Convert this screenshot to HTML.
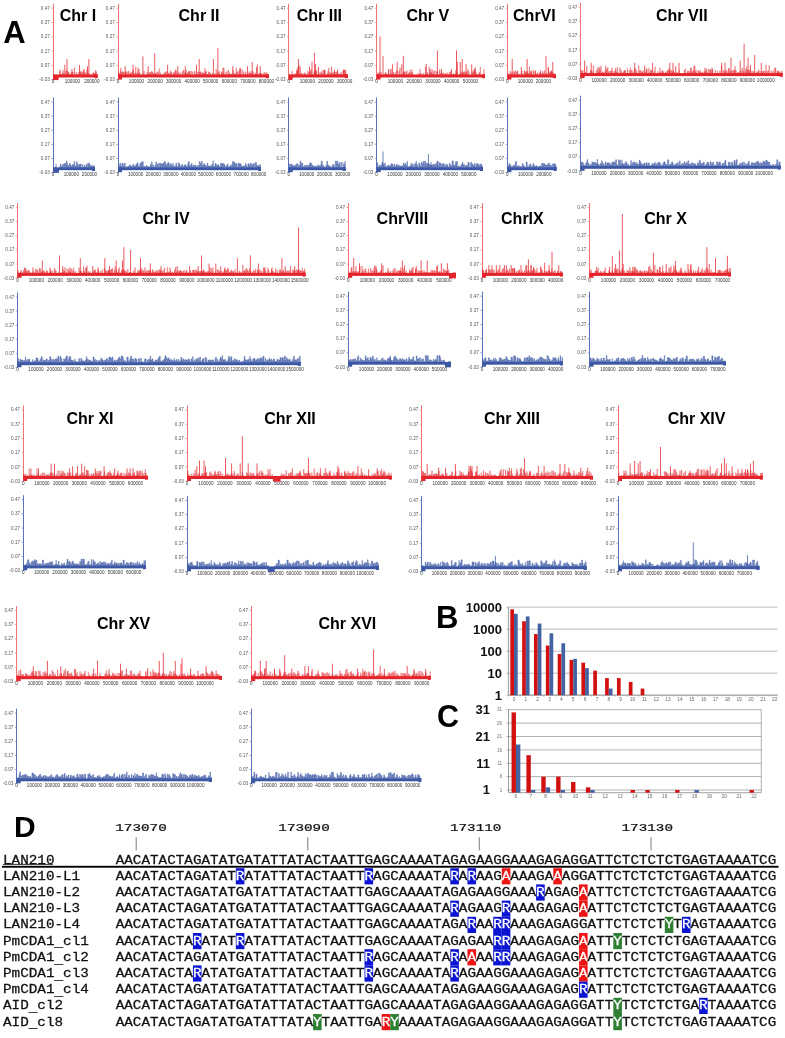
<!DOCTYPE html>
<html><head><meta charset="utf-8"><title>Figure</title><style>
html,body{margin:0;padding:0;background:#fff;overflow:hidden;width:785px;height:1038px;}
svg{display:block;}
text{font-family:"Liberation Sans",sans-serif;}
.yl{font-size:4.6px;fill:#555;text-anchor:end;}
.xl{font-size:4.6px;fill:#333;text-anchor:middle;}
.tt{font-size:16px;font-weight:bold;text-anchor:middle;fill:#000;}
.pl{font-weight:bold;fill:#000;}
.bl{font-size:13px;font-weight:bold;text-anchor:end;fill:#111;}
.cyl{font-size:4.6px;fill:#707070;text-anchor:end;}
.bx{font-size:4.8px;fill:#666;text-anchor:middle;}
.pos{font-family:"Liberation Mono",monospace;font-size:14.3px;fill:#111;stroke:#111;stroke-width:0.3px;}
.seq{font-family:"Liberation Mono",monospace;font-size:14.3px;fill:#111;stroke:#111;stroke-width:0.3px;white-space:pre;}
</style></head>
<body><svg width="785" height="1038" viewBox="0 0 785 1038">
<rect width="785" height="1038" fill="#fff"/>
<text x="3.2" y="42.9" class="pl" font-size="31">A</text>
<text x="78.0" y="20.8" class="tt">Chr I</text>
<g><text x="49.8" y="9.7" class="yl">0.47</text><line x1="51.2" y1="8.2" x2="53.0" y2="8.2" stroke="#f07272" stroke-width="0.6"/><text x="49.8" y="24.0" class="yl">0.37</text><line x1="51.2" y1="22.5" x2="53.0" y2="22.5" stroke="#f07272" stroke-width="0.6"/><text x="49.8" y="38.3" class="yl">0.27</text><line x1="51.2" y1="36.8" x2="53.0" y2="36.8" stroke="#f07272" stroke-width="0.6"/><text x="49.8" y="52.6" class="yl">0.17</text><line x1="51.2" y1="51.1" x2="53.0" y2="51.1" stroke="#f07272" stroke-width="0.6"/><text x="49.8" y="67.0" class="yl">0.07</text><line x1="51.2" y1="65.5" x2="53.0" y2="65.5" stroke="#f07272" stroke-width="0.6"/><text x="49.8" y="81.3" class="yl">-0.03</text><line x1="51.2" y1="79.8" x2="53.0" y2="79.8" stroke="#f07272" stroke-width="0.6"/><line x1="53.5" y1="3.7" x2="53.5" y2="79.8" stroke="#f07272" stroke-width="1"/><text x="53.0" y="83.4" class="xl">0</text><text x="72.4" y="83.4" class="xl">100000</text><text x="91.8" y="83.4" class="xl">200000</text><polygon points="53.60,76.22 53.60,76.22 54.21,76.22 54.21,76.22 54.91,76.22 54.91,76.22 55.93,76.22 55.93,76.22 56.46,76.22 56.46,76.22 57.57,76.22 57.57,76.22 58.42,76.22 58.42,76.22 59.68,76.22 59.68,71.20 60.20,71.20 60.20,74.35 61.00,74.35 61.00,74.32 61.53,74.32 61.53,74.67 62.42,74.67 62.42,72.69 63.10,72.69 63.10,69.94 63.62,69.94 63.62,73.36 64.63,73.36 64.63,74.50 65.82,74.50 65.82,71.20 66.89,71.20 66.89,69.71 67.73,69.71 67.73,71.33 68.47,71.33 68.47,72.00 69.65,72.00 69.65,73.70 70.18,73.70 70.18,74.13 71.01,74.13 71.01,72.49 72.07,72.49 72.07,71.57 72.92,71.57 72.92,72.23 73.84,72.23 73.84,76.22 74.36,76.22 74.36,67.52 75.43,67.52 75.43,74.21 76.24,74.21 76.24,72.11 77.53,72.11 77.53,74.19 78.72,74.19 78.72,72.30 79.98,72.30 79.98,71.16 80.69,71.16 80.69,71.47 81.20,71.47 81.20,71.50 82.41,71.50 82.41,72.37 83.32,72.37 83.32,69.92 83.87,69.92 83.87,72.24 84.53,72.24 84.53,74.15 85.31,74.15 85.31,72.30 86.31,72.30 86.31,74.77 86.83,74.77 86.83,69.46 87.80,69.46 87.80,72.77 88.94,72.77 88.94,73.16 90.11,73.16 90.11,76.22 90.63,76.22 90.63,74.88 91.73,74.88 91.73,74.95 92.73,74.95 92.73,72.97 93.36,72.97 93.36,72.31 94.08,72.31 94.08,73.30 94.83,73.30 94.83,72.92 95.64,72.92 95.64,70.04 96.23,70.04 96.23,71.48 96.90,71.48 96.90,76.22 97.10,76.22 97.10,76.22" fill="#e3242b" fill-opacity="0.16"/><path d="M59.68 76.2V71.20M60.20 76.2V74.35M61.00 76.2V74.32M61.53 76.2V74.67M62.42 76.2V72.69M63.10 76.2V69.94M63.62 76.2V73.36M64.63 76.2V74.50M65.82 76.2V71.20M66.89 76.2V69.71M67.73 76.2V71.33M68.47 76.2V72.00M69.65 76.2V73.70M70.18 76.2V74.13M71.01 76.2V72.49M72.07 76.2V71.57M72.92 76.2V72.23M74.36 76.2V67.52M75.43 76.2V74.21M76.24 76.2V72.11M77.53 76.2V74.19M78.72 76.2V72.30M79.98 76.2V71.16M80.69 76.2V71.47M81.20 76.2V71.50M82.41 76.2V72.37M83.32 76.2V69.92M83.87 76.2V72.24M84.53 76.2V74.15M85.31 76.2V72.30M86.31 76.2V74.77M86.83 76.2V69.46M87.80 76.2V72.77M88.94 76.2V73.16M90.63 76.2V74.88M91.73 76.2V74.95M92.73 76.2V72.97M93.36 76.2V72.31M94.08 76.2V73.30M94.83 76.2V72.92M95.64 76.2V70.04M96.23 76.2V71.48" stroke="#e3242b" stroke-width="0.7" stroke-opacity="0.85" fill="none"/><path d="M67.00 76.2V59.0M88.90 76.2V59.0M79.50 76.2V64.9M64.80 76.2V64.8M87.50 76.2V66.2M72.00 76.2V69.1M60.00 76.2V69.8M84.00 76.2V69.1" stroke="#e3242b" stroke-width="0.95" stroke-opacity="0.8" fill="none"/><rect x="53.0" y="74.5" width="44.6" height="3.0" fill="#e3242b"/><rect x="53.0" y="74.7" width="4" height="4.8" fill="#e3242b"/><rect x="94.6" y="74.2" width="3" height="4" fill="#e3242b"/><rect x="53.0" y="75.2" width="5.5" height="4.9" fill="#e3242b"/></g>
<g><text x="49.8" y="103.5" class="yl">0.47</text><line x1="51.2" y1="102.0" x2="53.0" y2="102.0" stroke="#5a72c0" stroke-width="0.6"/><text x="49.8" y="117.6" class="yl">0.37</text><line x1="51.2" y1="116.1" x2="53.0" y2="116.1" stroke="#5a72c0" stroke-width="0.6"/><text x="49.8" y="131.7" class="yl">0.27</text><line x1="51.2" y1="130.2" x2="53.0" y2="130.2" stroke="#5a72c0" stroke-width="0.6"/><text x="49.8" y="145.8" class="yl">0.17</text><line x1="51.2" y1="144.3" x2="53.0" y2="144.3" stroke="#5a72c0" stroke-width="0.6"/><text x="49.8" y="159.9" class="yl">0.07</text><line x1="51.2" y1="158.4" x2="53.0" y2="158.4" stroke="#5a72c0" stroke-width="0.6"/><text x="49.8" y="174.0" class="yl">-0.03</text><line x1="51.2" y1="172.5" x2="53.0" y2="172.5" stroke="#5a72c0" stroke-width="0.6"/><line x1="53.5" y1="97.5" x2="53.5" y2="172.5" stroke="#5a72c0" stroke-width="1"/><text x="53.0" y="176.1" class="xl">0</text><text x="71.3" y="176.1" class="xl">100000</text><text x="89.5" y="176.1" class="xl">200000</text><polygon points="53.60,168.97 53.60,168.97 54.86,168.97 54.86,168.97 55.29,168.97 55.29,168.97 56.28,168.97 56.28,168.97 57.20,168.97 57.20,168.97 57.96,168.97 57.96,168.97 59.26,168.97 59.26,166.92 60.03,166.92 60.03,166.28 60.40,166.28 60.40,163.86 61.12,163.86 61.12,166.95 62.00,166.95 62.00,165.85 62.66,165.85 62.66,164.44 63.96,164.44 63.96,163.50 65.15,163.50 65.15,163.41 66.37,163.41 66.37,160.88 67.05,160.88 67.05,163.53 67.55,163.53 67.55,165.90 68.34,165.90 68.34,165.13 69.57,165.13 69.57,163.22 70.26,163.22 70.26,164.92 71.05,164.92 71.05,166.50 72.08,166.50 72.08,164.46 72.74,164.46 72.74,164.94 73.95,164.94 73.95,161.46 74.60,161.46 74.60,165.53 75.43,165.53 75.43,166.53 76.34,166.53 76.34,161.65 77.17,161.65 77.17,163.52 77.59,163.52 77.59,165.32 78.81,165.32 78.81,164.28 79.21,164.28 79.21,164.57 79.78,164.57 79.78,164.33 80.62,164.33 80.62,164.03 81.17,164.03 81.17,167.72 82.20,167.72 82.20,164.60 82.72,164.60 82.72,167.31 83.98,167.31 83.98,165.17 84.35,165.17 84.35,165.44 84.84,165.44 84.84,167.01 85.56,167.01 85.56,167.74 86.05,167.74 86.05,164.55 86.99,164.55 86.99,167.62 87.66,167.62 87.66,163.22 88.74,163.22 88.74,163.55 89.80,163.55 89.80,165.51 90.60,165.51 90.60,165.99 91.25,165.99 91.25,165.68 92.44,165.68 92.44,166.68 93.16,166.68 93.16,165.63 94.42,165.63 94.42,167.50 94.50,167.50 94.50,168.97" fill="#3c58a4" fill-opacity="0.75"/><polyline points="53.60,168.97 53.60,168.97 54.86,168.97 54.86,168.97 55.29,168.97 55.29,168.97 56.28,168.97 56.28,168.97 57.20,168.97 57.20,168.97 57.96,168.97 57.96,168.97 59.26,168.97 59.26,166.92 60.03,166.92 60.03,166.28 60.40,166.28 60.40,163.86 61.12,163.86 61.12,166.95 62.00,166.95 62.00,165.85 62.66,165.85 62.66,164.44 63.96,164.44 63.96,163.50 65.15,163.50 65.15,163.41 66.37,163.41 66.37,160.88 67.05,160.88 67.05,163.53 67.55,163.53 67.55,165.90 68.34,165.90 68.34,165.13 69.57,165.13 69.57,163.22 70.26,163.22 70.26,164.92 71.05,164.92 71.05,166.50 72.08,166.50 72.08,164.46 72.74,164.46 72.74,164.94 73.95,164.94 73.95,161.46 74.60,161.46 74.60,165.53 75.43,165.53 75.43,166.53 76.34,166.53 76.34,161.65 77.17,161.65 77.17,163.52 77.59,163.52 77.59,165.32 78.81,165.32 78.81,164.28 79.21,164.28 79.21,164.57 79.78,164.57 79.78,164.33 80.62,164.33 80.62,164.03 81.17,164.03 81.17,167.72 82.20,167.72 82.20,164.60 82.72,164.60 82.72,167.31 83.98,167.31 83.98,165.17 84.35,165.17 84.35,165.44 84.84,165.44 84.84,167.01 85.56,167.01 85.56,167.74 86.05,167.74 86.05,164.55 86.99,164.55 86.99,167.62 87.66,167.62 87.66,163.22 88.74,163.22 88.74,163.55 89.80,163.55 89.80,165.51 90.60,165.51 90.60,165.99 91.25,165.99 91.25,165.68 92.44,165.68 92.44,166.68 93.16,166.68 93.16,165.63 94.42,165.63 94.42,167.50 94.50,167.50 94.50,168.97" fill="none" stroke="#3c58a4" stroke-width="0.45" stroke-opacity="0.8"/><path d="M56.00 169.0V164.0" stroke="#3c58a4" stroke-width="0.95" stroke-opacity="0.8" fill="none"/><rect x="53.0" y="167.4" width="42.0" height="2.8" fill="#3c58a4"/><rect x="53.0" y="167.5" width="4" height="4.7" fill="#3c58a4"/><rect x="92.0" y="167.0" width="3" height="4" fill="#3c58a4"/><rect x="53.0" y="168.0" width="6.0" height="4.8" fill="#3c58a4"/></g>
<text x="199.0" y="20.8" class="tt">Chr II</text>
<g><text x="114.8" y="9.7" class="yl">0.47</text><line x1="116.2" y1="8.2" x2="118.0" y2="8.2" stroke="#f07272" stroke-width="0.6"/><text x="114.8" y="24.0" class="yl">0.37</text><line x1="116.2" y1="22.5" x2="118.0" y2="22.5" stroke="#f07272" stroke-width="0.6"/><text x="114.8" y="38.3" class="yl">0.27</text><line x1="116.2" y1="36.8" x2="118.0" y2="36.8" stroke="#f07272" stroke-width="0.6"/><text x="114.8" y="52.6" class="yl">0.17</text><line x1="116.2" y1="51.1" x2="118.0" y2="51.1" stroke="#f07272" stroke-width="0.6"/><text x="114.8" y="67.0" class="yl">0.07</text><line x1="116.2" y1="65.5" x2="118.0" y2="65.5" stroke="#f07272" stroke-width="0.6"/><text x="114.8" y="81.3" class="yl">-0.03</text><line x1="116.2" y1="79.8" x2="118.0" y2="79.8" stroke="#f07272" stroke-width="0.6"/><line x1="118.5" y1="3.7" x2="118.5" y2="79.8" stroke="#f07272" stroke-width="1"/><text x="118.0" y="83.4" class="xl">0</text><text x="136.5" y="83.4" class="xl">100000</text><text x="155.1" y="83.4" class="xl">200000</text><text x="173.6" y="83.4" class="xl">300000</text><text x="192.2" y="83.4" class="xl">400000</text><text x="210.7" y="83.4" class="xl">500000</text><text x="229.3" y="83.4" class="xl">600000</text><text x="247.8" y="83.4" class="xl">700000</text><text x="266.4" y="83.4" class="xl">800000</text><polygon points="118.60,76.22 118.60,72.50 119.29,72.50 119.29,73.20 120.27,73.20 120.27,70.54 120.78,70.54 120.78,67.84 121.47,67.84 121.47,71.89 122.64,71.89 122.64,71.36 123.26,71.36 123.26,71.81 124.18,71.81 124.18,72.00 124.73,72.00 124.73,76.22 125.47,76.22 125.47,71.70 126.66,71.70 126.66,71.24 127.87,71.24 127.87,72.33 128.68,72.33 128.68,70.86 129.93,70.86 129.93,73.41 130.54,73.41 130.54,72.66 131.39,72.66 131.39,72.55 132.30,72.55 132.30,71.28 133.26,71.28 133.26,69.34 134.31,69.34 134.31,72.98 135.60,72.98 135.60,66.72 136.79,66.72 136.79,72.87 137.75,72.87 137.75,72.70 138.91,72.70 138.91,69.07 139.46,69.07 139.46,72.41 140.03,72.41 140.03,73.75 140.65,73.75 140.65,76.22 141.85,76.22 141.85,76.22 142.84,76.22 142.84,73.56 143.92,73.56 143.92,71.06 145.20,71.06 145.20,76.22 145.95,76.22 145.95,76.22 146.93,76.22 146.93,71.95 147.59,71.95 147.59,76.22 148.21,76.22 148.21,73.42 149.41,73.42 149.41,72.30 150.62,72.30 150.62,71.99 151.54,71.99 151.54,71.19 152.49,71.19 152.49,71.70 153.39,71.70 153.39,73.39 154.08,73.39 154.08,73.33 155.00,73.33 155.00,73.31 155.83,73.31 155.83,73.21 156.83,73.21 156.83,71.79 157.83,71.79 157.83,71.66 158.61,71.66 158.61,76.22 159.13,76.22 159.13,68.40 160.17,68.40 160.17,72.62 161.03,72.62 161.03,74.44 161.82,74.44 161.82,74.42 162.80,74.42 162.80,76.22 163.92,76.22 163.92,72.64 164.87,72.64 164.87,72.80 165.55,72.80 165.55,71.75 166.20,71.75 166.20,74.50 166.78,74.50 166.78,71.39 167.95,71.39 167.95,73.95 168.59,73.95 168.59,72.84 169.79,72.84 169.79,72.91 170.39,72.91 170.39,70.69 171.54,70.69 171.54,71.88 172.26,71.88 172.26,74.85 173.40,74.85 173.40,72.73 174.14,72.73 174.14,72.39 174.91,72.39 174.91,70.75 175.74,70.75 175.74,69.29 176.25,69.29 176.25,71.17 177.53,71.17 177.53,73.79 178.78,73.79 178.78,72.16 179.95,72.16 179.95,74.68 180.68,74.68 180.68,72.69 181.23,72.69 181.23,76.22 182.38,76.22 182.38,71.23 183.60,71.23 183.60,69.90 184.82,69.90 184.82,72.96 185.33,72.96 185.33,72.15 186.07,72.15 186.07,69.83 186.90,69.83 186.90,73.59 187.67,73.59 187.67,72.54 188.56,72.54 188.56,71.48 189.21,71.48 189.21,71.24 189.85,71.24 189.85,71.04 191.00,71.04 191.00,70.96 192.00,70.96 192.00,74.16 192.72,74.16 192.72,71.57 193.55,71.57 193.55,76.22 194.06,76.22 194.06,74.95 194.66,74.95 194.66,70.89 195.94,70.89 195.94,74.53 196.84,74.53 196.84,72.01 197.62,72.01 197.62,74.51 198.41,74.51 198.41,71.71 199.01,71.71 199.01,76.22 199.81,76.22 199.81,71.97 200.45,71.97 200.45,71.51 201.58,71.51 201.58,72.50 202.58,72.50 202.58,72.39 203.48,72.39 203.48,72.79 204.53,72.79 204.53,73.19 205.46,73.19 205.46,71.33 206.30,71.33 206.30,71.29 207.55,71.29 207.55,74.27 208.68,74.27 208.68,71.83 209.28,71.83 209.28,71.82 210.49,71.82 210.49,73.12 211.58,73.12 211.58,76.22 212.55,76.22 212.55,73.25 213.16,73.25 213.16,76.22 213.74,76.22 213.74,75.03 214.94,75.03 214.94,73.62 216.11,73.62 216.11,69.15 217.15,69.15 217.15,73.27 218.12,73.27 218.12,71.71 219.23,71.71 219.23,71.21 219.81,71.21 219.81,74.10 220.36,74.10 220.36,74.76 221.53,74.76 221.53,71.62 222.23,71.62 222.23,72.44 223.04,72.44 223.04,73.16 223.82,73.16 223.82,67.99 224.72,67.99 224.72,73.88 225.82,73.88 225.82,72.17 226.92,72.17 226.92,71.29 227.81,71.29 227.81,76.22 228.43,76.22 228.43,70.02 229.53,70.02 229.53,72.92 230.38,72.92 230.38,74.06 231.10,74.06 231.10,73.88 231.85,73.88 231.85,73.86 233.11,73.86 233.11,69.89 233.94,69.89 233.94,75.03 234.66,75.03 234.66,72.96 235.54,72.96 235.54,73.74 236.33,73.74 236.33,67.82 236.94,67.82 236.94,71.44 237.92,71.44 237.92,72.25 239.08,72.25 239.08,70.26 240.16,70.26 240.16,67.85 241.24,67.85 241.24,73.84 241.93,73.84 241.93,69.35 242.97,69.35 242.97,74.63 243.66,74.63 243.66,71.38 244.31,71.38 244.31,73.58 245.53,73.58 245.53,71.68 246.28,71.68 246.28,76.22 246.85,76.22 246.85,74.46 248.02,74.46 248.02,73.34 248.98,73.34 248.98,72.24 249.75,72.24 249.75,71.16 250.42,71.16 250.42,73.08 251.23,73.08 251.23,73.09 251.95,73.09 251.95,70.86 253.16,70.86 253.16,71.58 254.41,71.58 254.41,73.91 255.52,73.91 255.52,72.74 256.54,72.74 256.54,67.32 257.64,67.32 257.64,76.22 258.57,76.22 258.57,73.84 259.47,73.84 259.47,72.93 260.51,72.93 260.51,72.94 261.53,72.94 261.53,73.07 262.74,73.07 262.74,74.50 263.99,74.50 263.99,72.08 265.06,72.08 265.06,72.64 266.08,72.64 266.08,76.22 266.72,76.22 266.72,72.11 267.79,72.11 267.79,74.61 268.30,74.61 268.30,76.22" fill="#e3242b" fill-opacity="0.16"/><path d="M118.60 76.2V72.50M119.29 76.2V73.20M120.27 76.2V70.54M120.78 76.2V67.84M121.47 76.2V71.89M122.64 76.2V71.36M123.26 76.2V71.81M124.18 76.2V72.00M125.47 76.2V71.70M126.66 76.2V71.24M127.87 76.2V72.33M128.68 76.2V70.86M129.93 76.2V73.41M130.54 76.2V72.66M131.39 76.2V72.55M132.30 76.2V71.28M133.26 76.2V69.34M134.31 76.2V72.98M135.60 76.2V66.72M136.79 76.2V72.87M137.75 76.2V72.70M138.91 76.2V69.07M139.46 76.2V72.41M140.03 76.2V73.75M142.84 76.2V73.56M143.92 76.2V71.06M146.93 76.2V71.95M148.21 76.2V73.42M149.41 76.2V72.30M150.62 76.2V71.99M151.54 76.2V71.19M152.49 76.2V71.70M153.39 76.2V73.39M154.08 76.2V73.33M155.00 76.2V73.31M155.83 76.2V73.21M156.83 76.2V71.79M157.83 76.2V71.66M159.13 76.2V68.40M160.17 76.2V72.62M161.03 76.2V74.44M161.82 76.2V74.42M163.92 76.2V72.64M164.87 76.2V72.80M165.55 76.2V71.75M166.20 76.2V74.50M166.78 76.2V71.39M167.95 76.2V73.95M168.59 76.2V72.84M169.79 76.2V72.91M170.39 76.2V70.69M171.54 76.2V71.88M172.26 76.2V74.85M173.40 76.2V72.73M174.14 76.2V72.39M174.91 76.2V70.75M175.74 76.2V69.29M176.25 76.2V71.17M177.53 76.2V73.79M178.78 76.2V72.16M179.95 76.2V74.68M180.68 76.2V72.69M182.38 76.2V71.23M183.60 76.2V69.90M184.82 76.2V72.96M185.33 76.2V72.15M186.07 76.2V69.83M186.90 76.2V73.59M187.67 76.2V72.54M188.56 76.2V71.48M189.21 76.2V71.24M189.85 76.2V71.04M191.00 76.2V70.96M192.00 76.2V74.16M192.72 76.2V71.57M194.06 76.2V74.95M194.66 76.2V70.89M195.94 76.2V74.53M196.84 76.2V72.01M197.62 76.2V74.51M198.41 76.2V71.71M199.81 76.2V71.97M200.45 76.2V71.51M201.58 76.2V72.50M202.58 76.2V72.39M203.48 76.2V72.79M204.53 76.2V73.19M205.46 76.2V71.33M206.30 76.2V71.29M207.55 76.2V74.27M208.68 76.2V71.83M209.28 76.2V71.82M210.49 76.2V73.12M212.55 76.2V73.25M213.74 76.2V75.03M214.94 76.2V73.62M216.11 76.2V69.15M217.15 76.2V73.27M218.12 76.2V71.71M219.23 76.2V71.21M219.81 76.2V74.10M220.36 76.2V74.76M221.53 76.2V71.62M222.23 76.2V72.44M223.04 76.2V73.16M223.82 76.2V67.99M224.72 76.2V73.88M225.82 76.2V72.17M226.92 76.2V71.29M228.43 76.2V70.02M229.53 76.2V72.92M230.38 76.2V74.06M231.10 76.2V73.88M231.85 76.2V73.86M233.11 76.2V69.89M233.94 76.2V75.03M234.66 76.2V72.96M235.54 76.2V73.74M236.33 76.2V67.82M236.94 76.2V71.44M237.92 76.2V72.25M239.08 76.2V70.26M240.16 76.2V67.85M241.24 76.2V73.84M241.93 76.2V69.35M242.97 76.2V74.63M243.66 76.2V71.38M244.31 76.2V73.58M245.53 76.2V71.68M246.85 76.2V74.46M248.02 76.2V73.34M248.98 76.2V72.24M249.75 76.2V71.16M250.42 76.2V73.08M251.23 76.2V73.09M251.95 76.2V70.86M253.16 76.2V71.58M254.41 76.2V73.91M255.52 76.2V72.74M256.54 76.2V67.32M258.57 76.2V73.84M259.47 76.2V72.93M260.51 76.2V72.94M261.53 76.2V73.07M262.74 76.2V74.50M263.99 76.2V72.08M265.06 76.2V72.64M266.72 76.2V72.11M267.79 76.2V74.61" stroke="#e3242b" stroke-width="0.7" stroke-opacity="0.85" fill="none"/><path d="M217.90 76.2V48.1M154.70 76.2V53.3M142.90 76.2V56.4M199.20 76.2V59.0M213.40 76.2V59.0M252.20 76.2V61.9M167.60 76.2V64.8M257.30 76.2V64.8M133.00 76.2V64.8M196.50 76.2V64.8M125.20 76.2V66.2M177.80 76.2V66.2M185.30 76.2V66.2M148.20 76.2V66.2M232.80 76.2V66.2M247.50 76.2V66.2M260.30 76.2V66.2M138.00 76.2V67.6M205.00 76.2V68.3M223.00 76.2V67.6M240.00 76.2V68.3" stroke="#e3242b" stroke-width="0.95" stroke-opacity="0.8" fill="none"/><rect x="118.0" y="74.5" width="150.8" height="3.0" fill="#e3242b"/><rect x="118.0" y="74.7" width="4" height="4.8" fill="#e3242b"/><rect x="265.8" y="74.2" width="3" height="4" fill="#e3242b"/></g>
<g><text x="114.8" y="103.5" class="yl">0.47</text><line x1="116.2" y1="102.0" x2="118.0" y2="102.0" stroke="#5a72c0" stroke-width="0.6"/><text x="114.8" y="117.6" class="yl">0.37</text><line x1="116.2" y1="116.1" x2="118.0" y2="116.1" stroke="#5a72c0" stroke-width="0.6"/><text x="114.8" y="131.7" class="yl">0.27</text><line x1="116.2" y1="130.2" x2="118.0" y2="130.2" stroke="#5a72c0" stroke-width="0.6"/><text x="114.8" y="145.8" class="yl">0.17</text><line x1="116.2" y1="144.3" x2="118.0" y2="144.3" stroke="#5a72c0" stroke-width="0.6"/><text x="114.8" y="159.9" class="yl">0.07</text><line x1="116.2" y1="158.4" x2="118.0" y2="158.4" stroke="#5a72c0" stroke-width="0.6"/><text x="114.8" y="174.0" class="yl">-0.03</text><line x1="116.2" y1="172.5" x2="118.0" y2="172.5" stroke="#5a72c0" stroke-width="0.6"/><line x1="118.5" y1="97.5" x2="118.5" y2="172.5" stroke="#5a72c0" stroke-width="1"/><text x="118.0" y="176.1" class="xl">0</text><text x="135.6" y="176.1" class="xl">100000</text><text x="153.2" y="176.1" class="xl">200000</text><text x="170.8" y="176.1" class="xl">300000</text><text x="188.4" y="176.1" class="xl">400000</text><text x="205.9" y="176.1" class="xl">500000</text><text x="223.5" y="176.1" class="xl">600000</text><text x="241.1" y="176.1" class="xl">700000</text><text x="258.7" y="176.1" class="xl">800000</text><polygon points="118.60,168.97 118.60,166.11 119.17,166.11 119.17,167.68 119.67,167.68 119.67,163.45 120.89,163.45 120.89,166.38 121.45,166.38 121.45,166.52 121.97,166.52 121.97,163.38 123.20,163.38 123.20,166.30 124.31,166.30 124.31,163.30 125.26,163.30 125.26,167.45 126.44,167.45 126.44,166.60 127.43,166.60 127.43,167.07 128.23,167.07 128.23,166.32 129.40,166.32 129.40,165.01 130.62,165.01 130.62,166.07 131.77,166.07 131.77,166.64 132.69,166.64 132.69,164.67 133.33,164.67 133.33,164.27 133.72,164.27 133.72,166.23 134.58,166.23 134.58,166.07 135.88,166.07 135.88,164.28 136.42,164.28 136.42,164.20 137.11,164.20 137.11,162.83 137.99,162.83 137.99,165.27 138.40,165.27 138.40,166.25 139.33,166.25 139.33,166.90 139.85,166.90 139.85,163.13 140.86,163.13 140.86,163.01 141.91,163.01 141.91,161.30 142.54,161.30 142.54,161.65 143.28,161.65 143.28,166.57 144.40,166.57 144.40,166.14 145.18,166.14 145.18,166.98 146.44,166.98 146.44,165.23 146.83,165.23 146.83,166.78 147.53,166.78 147.53,166.53 148.81,166.53 148.81,167.94 149.22,167.94 149.22,166.91 150.21,166.91 150.21,164.75 151.03,164.75 151.03,165.26 151.49,165.26 151.49,161.98 152.23,161.98 152.23,166.92 152.81,166.92 152.81,164.99 153.56,164.99 153.56,166.93 154.70,166.93 154.70,166.53 155.29,166.53 155.29,164.51 155.86,164.51 155.86,161.78 156.26,161.78 156.26,164.97 157.55,164.97 157.55,163.48 158.52,163.48 158.52,167.89 159.34,167.89 159.34,163.18 160.52,163.18 160.52,163.39 161.19,163.39 161.19,163.85 162.15,163.85 162.15,164.29 163.12,164.29 163.12,162.89 164.35,162.89 164.35,161.55 165.62,161.55 165.62,164.53 166.02,164.53 166.02,164.64 167.29,164.64 167.29,163.78 167.79,163.78 167.79,162.56 168.85,162.56 168.85,163.02 169.21,163.02 169.21,165.17 170.39,165.17 170.39,163.81 171.48,163.81 171.48,165.49 172.67,165.49 172.67,163.44 173.33,163.44 173.33,166.94 174.13,166.94 174.13,165.90 174.51,165.90 174.51,166.69 175.68,166.69 175.68,163.86 176.38,163.86 176.38,163.34 176.74,163.34 176.74,166.14 177.17,166.14 177.17,166.47 178.27,166.47 178.27,162.84 179.08,162.84 179.08,163.25 179.54,163.25 179.54,165.07 180.38,165.07 180.38,167.13 181.46,167.13 181.46,165.11 182.00,165.11 182.00,164.46 182.75,164.46 182.75,166.66 183.93,166.66 183.93,165.78 184.75,165.78 184.75,164.74 185.96,164.74 185.96,165.90 186.61,165.90 186.61,166.83 187.64,166.83 187.64,164.14 188.22,164.14 188.22,161.64 189.30,161.64 189.30,166.29 190.29,166.29 190.29,164.94 191.51,164.94 191.51,163.41 192.15,163.41 192.15,166.68 193.08,166.68 193.08,165.51 194.16,165.51 194.16,167.97 194.64,167.97 194.64,164.97 195.76,164.97 195.76,166.21 196.46,166.21 196.46,167.67 197.40,167.67 197.40,165.53 198.64,165.53 198.64,166.95 199.30,166.95 199.30,161.18 199.67,161.18 199.67,163.13 200.78,163.13 200.78,165.88 201.28,165.88 201.28,161.34 202.18,161.34 202.18,165.53 203.45,165.53 203.45,163.70 204.44,163.70 204.44,164.91 205.58,164.91 205.58,164.98 206.31,164.98 206.31,166.48 207.33,166.48 207.33,163.06 207.99,163.06 207.99,166.10 209.20,166.10 209.20,166.07 210.32,166.07 210.32,165.78 210.69,165.78 210.69,166.18 211.69,166.18 211.69,164.48 212.95,164.48 212.95,160.82 213.36,160.82 213.36,166.30 214.59,166.30 214.59,166.50 215.02,166.50 215.02,163.43 216.25,163.43 216.25,166.33 216.75,166.33 216.75,165.22 218.00,165.22 218.00,164.84 218.99,164.84 218.99,166.65 219.59,166.65 219.59,167.77 220.03,167.77 220.03,167.01 220.50,167.01 220.50,163.56 221.12,163.56 221.12,163.13 222.17,163.13 222.17,163.80 223.35,163.80 223.35,163.81 224.36,163.81 224.36,165.10 225.19,165.10 225.19,167.94 226.00,167.94 226.00,166.12 227.18,166.12 227.18,164.19 228.18,164.19 228.18,166.94 228.90,166.94 228.90,167.05 230.08,167.05 230.08,165.09 230.57,165.09 230.57,165.75 231.71,165.75 231.71,164.43 232.51,164.43 232.51,161.46 233.64,161.46 233.64,162.20 234.87,162.20 234.87,163.75 236.02,163.75 236.02,164.94 236.48,164.94 236.48,163.23 237.12,163.23 237.12,167.42 238.04,167.42 238.04,163.62 238.63,163.62 238.63,163.69 239.27,163.69 239.27,163.24 239.94,163.24 239.94,163.63 241.14,163.63 241.14,165.81 242.15,165.81 242.15,166.82 243.44,166.82 243.44,165.77 244.47,165.77 244.47,166.55 245.39,166.55 245.39,163.21 245.81,163.21 245.81,164.79 246.82,164.79 246.82,167.00 247.95,167.00 247.95,163.69 249.11,163.69 249.11,164.69 249.47,164.69 249.47,166.19 250.28,166.19 250.28,163.36 251.47,163.36 251.47,165.64 252.11,165.64 252.11,164.80 252.49,164.80 252.49,164.24 253.55,164.24 253.55,163.55 254.56,163.55 254.56,166.96 255.33,166.96 255.33,162.43 256.52,162.43 256.52,165.59 257.59,165.59 257.59,165.60 258.74,165.60 258.74,166.93 259.33,166.93 259.33,164.94 259.93,164.94 259.93,164.60 260.41,164.60 260.41,166.79 260.50,166.79 260.50,168.97" fill="#3c58a4" fill-opacity="0.75"/><polyline points="118.60,168.97 118.60,166.11 119.17,166.11 119.17,167.68 119.67,167.68 119.67,163.45 120.89,163.45 120.89,166.38 121.45,166.38 121.45,166.52 121.97,166.52 121.97,163.38 123.20,163.38 123.20,166.30 124.31,166.30 124.31,163.30 125.26,163.30 125.26,167.45 126.44,167.45 126.44,166.60 127.43,166.60 127.43,167.07 128.23,167.07 128.23,166.32 129.40,166.32 129.40,165.01 130.62,165.01 130.62,166.07 131.77,166.07 131.77,166.64 132.69,166.64 132.69,164.67 133.33,164.67 133.33,164.27 133.72,164.27 133.72,166.23 134.58,166.23 134.58,166.07 135.88,166.07 135.88,164.28 136.42,164.28 136.42,164.20 137.11,164.20 137.11,162.83 137.99,162.83 137.99,165.27 138.40,165.27 138.40,166.25 139.33,166.25 139.33,166.90 139.85,166.90 139.85,163.13 140.86,163.13 140.86,163.01 141.91,163.01 141.91,161.30 142.54,161.30 142.54,161.65 143.28,161.65 143.28,166.57 144.40,166.57 144.40,166.14 145.18,166.14 145.18,166.98 146.44,166.98 146.44,165.23 146.83,165.23 146.83,166.78 147.53,166.78 147.53,166.53 148.81,166.53 148.81,167.94 149.22,167.94 149.22,166.91 150.21,166.91 150.21,164.75 151.03,164.75 151.03,165.26 151.49,165.26 151.49,161.98 152.23,161.98 152.23,166.92 152.81,166.92 152.81,164.99 153.56,164.99 153.56,166.93 154.70,166.93 154.70,166.53 155.29,166.53 155.29,164.51 155.86,164.51 155.86,161.78 156.26,161.78 156.26,164.97 157.55,164.97 157.55,163.48 158.52,163.48 158.52,167.89 159.34,167.89 159.34,163.18 160.52,163.18 160.52,163.39 161.19,163.39 161.19,163.85 162.15,163.85 162.15,164.29 163.12,164.29 163.12,162.89 164.35,162.89 164.35,161.55 165.62,161.55 165.62,164.53 166.02,164.53 166.02,164.64 167.29,164.64 167.29,163.78 167.79,163.78 167.79,162.56 168.85,162.56 168.85,163.02 169.21,163.02 169.21,165.17 170.39,165.17 170.39,163.81 171.48,163.81 171.48,165.49 172.67,165.49 172.67,163.44 173.33,163.44 173.33,166.94 174.13,166.94 174.13,165.90 174.51,165.90 174.51,166.69 175.68,166.69 175.68,163.86 176.38,163.86 176.38,163.34 176.74,163.34 176.74,166.14 177.17,166.14 177.17,166.47 178.27,166.47 178.27,162.84 179.08,162.84 179.08,163.25 179.54,163.25 179.54,165.07 180.38,165.07 180.38,167.13 181.46,167.13 181.46,165.11 182.00,165.11 182.00,164.46 182.75,164.46 182.75,166.66 183.93,166.66 183.93,165.78 184.75,165.78 184.75,164.74 185.96,164.74 185.96,165.90 186.61,165.90 186.61,166.83 187.64,166.83 187.64,164.14 188.22,164.14 188.22,161.64 189.30,161.64 189.30,166.29 190.29,166.29 190.29,164.94 191.51,164.94 191.51,163.41 192.15,163.41 192.15,166.68 193.08,166.68 193.08,165.51 194.16,165.51 194.16,167.97 194.64,167.97 194.64,164.97 195.76,164.97 195.76,166.21 196.46,166.21 196.46,167.67 197.40,167.67 197.40,165.53 198.64,165.53 198.64,166.95 199.30,166.95 199.30,161.18 199.67,161.18 199.67,163.13 200.78,163.13 200.78,165.88 201.28,165.88 201.28,161.34 202.18,161.34 202.18,165.53 203.45,165.53 203.45,163.70 204.44,163.70 204.44,164.91 205.58,164.91 205.58,164.98 206.31,164.98 206.31,166.48 207.33,166.48 207.33,163.06 207.99,163.06 207.99,166.10 209.20,166.10 209.20,166.07 210.32,166.07 210.32,165.78 210.69,165.78 210.69,166.18 211.69,166.18 211.69,164.48 212.95,164.48 212.95,160.82 213.36,160.82 213.36,166.30 214.59,166.30 214.59,166.50 215.02,166.50 215.02,163.43 216.25,163.43 216.25,166.33 216.75,166.33 216.75,165.22 218.00,165.22 218.00,164.84 218.99,164.84 218.99,166.65 219.59,166.65 219.59,167.77 220.03,167.77 220.03,167.01 220.50,167.01 220.50,163.56 221.12,163.56 221.12,163.13 222.17,163.13 222.17,163.80 223.35,163.80 223.35,163.81 224.36,163.81 224.36,165.10 225.19,165.10 225.19,167.94 226.00,167.94 226.00,166.12 227.18,166.12 227.18,164.19 228.18,164.19 228.18,166.94 228.90,166.94 228.90,167.05 230.08,167.05 230.08,165.09 230.57,165.09 230.57,165.75 231.71,165.75 231.71,164.43 232.51,164.43 232.51,161.46 233.64,161.46 233.64,162.20 234.87,162.20 234.87,163.75 236.02,163.75 236.02,164.94 236.48,164.94 236.48,163.23 237.12,163.23 237.12,167.42 238.04,167.42 238.04,163.62 238.63,163.62 238.63,163.69 239.27,163.69 239.27,163.24 239.94,163.24 239.94,163.63 241.14,163.63 241.14,165.81 242.15,165.81 242.15,166.82 243.44,166.82 243.44,165.77 244.47,165.77 244.47,166.55 245.39,166.55 245.39,163.21 245.81,163.21 245.81,164.79 246.82,164.79 246.82,167.00 247.95,167.00 247.95,163.69 249.11,163.69 249.11,164.69 249.47,164.69 249.47,166.19 250.28,166.19 250.28,163.36 251.47,163.36 251.47,165.64 252.11,165.64 252.11,164.80 252.49,164.80 252.49,164.24 253.55,164.24 253.55,163.55 254.56,163.55 254.56,166.96 255.33,166.96 255.33,162.43 256.52,162.43 256.52,165.59 257.59,165.59 257.59,165.60 258.74,165.60 258.74,166.93 259.33,166.93 259.33,164.94 259.93,164.94 259.93,164.60 260.41,164.60 260.41,166.79 260.50,166.79 260.50,168.97" fill="none" stroke="#3c58a4" stroke-width="0.45" stroke-opacity="0.8"/><rect x="118.0" y="167.4" width="143.0" height="2.8" fill="#3c58a4"/><rect x="118.0" y="167.5" width="4" height="4.7" fill="#3c58a4"/><rect x="258.0" y="167.0" width="3" height="4" fill="#3c58a4"/></g>
<text x="319.4" y="20.8" class="tt">Chr III</text>
<g><text x="285.5" y="9.7" class="yl">0.47</text><line x1="286.9" y1="8.2" x2="288.7" y2="8.2" stroke="#f07272" stroke-width="0.6"/><text x="285.5" y="24.0" class="yl">0.37</text><line x1="286.9" y1="22.5" x2="288.7" y2="22.5" stroke="#f07272" stroke-width="0.6"/><text x="285.5" y="38.3" class="yl">0.27</text><line x1="286.9" y1="36.8" x2="288.7" y2="36.8" stroke="#f07272" stroke-width="0.6"/><text x="285.5" y="52.6" class="yl">0.17</text><line x1="286.9" y1="51.1" x2="288.7" y2="51.1" stroke="#f07272" stroke-width="0.6"/><text x="285.5" y="67.0" class="yl">0.07</text><line x1="286.9" y1="65.5" x2="288.7" y2="65.5" stroke="#f07272" stroke-width="0.6"/><text x="285.5" y="81.3" class="yl">-0.03</text><line x1="286.9" y1="79.8" x2="288.7" y2="79.8" stroke="#f07272" stroke-width="0.6"/><line x1="288.5" y1="3.7" x2="288.5" y2="79.8" stroke="#f07272" stroke-width="1"/><text x="288.7" y="83.4" class="xl">0</text><text x="307.3" y="83.4" class="xl">100000</text><text x="326.0" y="83.4" class="xl">200000</text><text x="344.6" y="83.4" class="xl">300000</text><polygon points="289.30,76.22 289.30,76.22 290.30,76.22 290.30,76.22 291.55,76.22 291.55,76.22 292.08,76.22 292.08,70.83 293.09,70.83 293.09,74.14 293.97,74.14 293.97,76.22 294.93,76.22 294.93,73.50 295.60,73.50 295.60,73.70 296.72,73.70 296.72,73.06 297.33,73.06 297.33,70.64 297.83,70.64 297.83,66.80 298.50,66.80 298.50,67.66 299.23,67.66 299.23,73.45 300.27,73.45 300.27,66.75 301.33,66.75 301.33,72.97 302.07,72.97 302.07,76.22 302.68,76.22 302.68,73.34 303.42,73.34 303.42,74.54 304.47,74.54 304.47,72.63 305.62,72.63 305.62,73.22 306.50,73.22 306.50,76.22 307.78,76.22 307.78,71.02 308.88,71.02 308.88,72.03 310.02,72.03 310.02,76.22 310.52,76.22 310.52,70.66 311.17,70.66 311.17,69.17 312.27,69.17 312.27,74.17 313.05,74.17 313.05,76.22 314.17,76.22 314.17,71.38 315.27,71.38 315.27,70.88 315.80,70.88 315.80,71.25 316.57,71.25 316.57,69.97 317.34,69.97 317.34,74.77 318.09,74.77 318.09,73.89 318.65,73.89 318.65,74.99 319.95,74.99 319.95,72.42 321.24,72.42 321.24,71.46 321.93,71.46 321.93,73.22 322.79,73.22 322.79,76.22 324.03,76.22 324.03,70.80 324.92,70.80 324.92,69.79 326.01,69.79 326.01,76.22 327.14,76.22 327.14,73.62 327.98,73.62 327.98,71.06 328.72,71.06 328.72,67.88 329.90,67.88 329.90,72.25 330.79,72.25 330.79,73.02 331.53,73.02 331.53,66.58 332.33,66.58 332.33,72.58 333.33,72.58 333.33,73.73 333.90,73.73 333.90,71.55 335.09,71.55 335.09,71.83 336.21,71.83 336.21,71.74 337.32,71.74 337.32,71.59 338.05,71.59 338.05,73.45 339.10,73.45 339.10,73.32 340.12,73.32 340.12,73.92 341.06,73.92 341.06,71.87 341.93,71.87 341.93,73.96 343.07,73.96 343.07,70.36 344.16,70.36 344.16,69.68 345.33,69.68 345.33,70.02 346.61,70.02 346.61,73.63 347.30,73.63 347.30,76.22" fill="#e3242b" fill-opacity="0.16"/><path d="M292.08 76.2V70.83M293.09 76.2V74.14M294.93 76.2V73.50M295.60 76.2V73.70M296.72 76.2V73.06M297.33 76.2V70.64M297.83 76.2V66.80M298.50 76.2V67.66M299.23 76.2V73.45M300.27 76.2V66.75M301.33 76.2V72.97M302.68 76.2V73.34M303.42 76.2V74.54M304.47 76.2V72.63M305.62 76.2V73.22M307.78 76.2V71.02M308.88 76.2V72.03M310.52 76.2V70.66M311.17 76.2V69.17M312.27 76.2V74.17M314.17 76.2V71.38M315.27 76.2V70.88M315.80 76.2V71.25M316.57 76.2V69.97M317.34 76.2V74.77M318.09 76.2V73.89M318.65 76.2V74.99M319.95 76.2V72.42M321.24 76.2V71.46M321.93 76.2V73.22M324.03 76.2V70.80M324.92 76.2V69.79M327.14 76.2V73.62M327.98 76.2V71.06M328.72 76.2V67.88M329.90 76.2V72.25M330.79 76.2V73.02M331.53 76.2V66.58M332.33 76.2V72.58M333.33 76.2V73.73M333.90 76.2V71.55M335.09 76.2V71.83M336.21 76.2V71.74M337.32 76.2V71.59M338.05 76.2V73.45M339.10 76.2V73.32M340.12 76.2V73.92M341.06 76.2V71.87M341.93 76.2V73.96M343.07 76.2V70.36M344.16 76.2V69.68M345.33 76.2V70.02M346.61 76.2V73.63" stroke="#e3242b" stroke-width="0.7" stroke-opacity="0.85" fill="none"/><path d="M314.40 76.2V52.9M298.40 76.2V59.0M312.00 76.2V61.9M309.50 76.2V66.9M318.50 76.2V66.9M315.60 76.2V64.0M299.00 76.2V64.8M296.60 76.2V69.8M323.00 76.2V69.8M324.50 76.2V69.8M334.50 76.2V69.8M337.50 76.2V69.8M343.50 76.2V69.8M345.00 76.2V69.8" stroke="#e3242b" stroke-width="0.95" stroke-opacity="0.8" fill="none"/><rect x="288.7" y="74.5" width="59.1" height="3.0" fill="#e3242b"/><rect x="288.7" y="74.7" width="4" height="4.8" fill="#e3242b"/><rect x="344.8" y="74.2" width="3" height="4" fill="#e3242b"/><rect x="289.0" y="75.2" width="3.0" height="4.9" fill="#e3242b"/></g>
<g><text x="285.5" y="103.5" class="yl">0.47</text><line x1="286.9" y1="102.0" x2="288.7" y2="102.0" stroke="#5a72c0" stroke-width="0.6"/><text x="285.5" y="117.6" class="yl">0.37</text><line x1="286.9" y1="116.1" x2="288.7" y2="116.1" stroke="#5a72c0" stroke-width="0.6"/><text x="285.5" y="131.7" class="yl">0.27</text><line x1="286.9" y1="130.2" x2="288.7" y2="130.2" stroke="#5a72c0" stroke-width="0.6"/><text x="285.5" y="145.8" class="yl">0.17</text><line x1="286.9" y1="144.3" x2="288.7" y2="144.3" stroke="#5a72c0" stroke-width="0.6"/><text x="285.5" y="159.9" class="yl">0.07</text><line x1="286.9" y1="158.4" x2="288.7" y2="158.4" stroke="#5a72c0" stroke-width="0.6"/><text x="285.5" y="174.0" class="yl">-0.03</text><line x1="286.9" y1="172.5" x2="288.7" y2="172.5" stroke="#5a72c0" stroke-width="0.6"/><line x1="288.5" y1="97.5" x2="288.5" y2="172.5" stroke="#5a72c0" stroke-width="1"/><text x="288.7" y="176.1" class="xl">0</text><text x="306.7" y="176.1" class="xl">100000</text><text x="324.7" y="176.1" class="xl">200000</text><text x="342.6" y="176.1" class="xl">300000</text><polygon points="289.30,168.97 289.30,163.92 290.40,163.92 290.40,167.38 291.00,167.38 291.00,164.11 291.80,164.11 291.80,165.19 292.88,165.19 292.88,165.79 293.92,165.79 293.92,165.75 294.92,165.75 294.92,165.19 296.04,165.19 296.04,164.18 297.04,164.18 297.04,163.38 297.48,163.38 297.48,167.91 298.25,167.91 298.25,164.85 299.20,164.85 299.20,165.52 300.11,165.52 300.11,161.00 300.80,161.00 300.80,163.56 301.64,163.56 301.64,162.99 302.76,162.99 302.76,166.31 303.45,166.31 303.45,167.14 304.36,167.14 304.36,165.51 305.21,165.51 305.21,165.91 305.86,165.91 305.86,165.05 306.34,165.05 306.34,167.25 307.35,167.25 307.35,164.96 307.72,164.96 307.72,166.15 308.66,166.15 308.66,164.75 309.38,164.75 309.38,165.32 309.78,165.32 309.78,162.50 310.51,162.50 310.51,163.61 311.79,163.61 311.79,165.13 312.98,165.13 312.98,165.94 314.09,165.94 314.09,166.81 315.11,166.81 315.11,165.90 316.17,165.90 316.17,166.95 317.26,166.95 317.26,166.19 317.73,166.19 317.73,164.91 318.32,164.91 318.32,165.02 318.91,165.02 318.91,165.93 319.85,165.93 319.85,166.15 320.65,166.15 320.65,164.20 321.29,164.20 321.29,160.97 322.27,160.97 322.27,166.28 322.97,166.28 322.97,165.21 323.70,165.21 323.70,166.99 324.94,166.99 324.94,168.10 325.72,168.10 325.72,165.38 326.80,165.38 326.80,161.13 327.50,161.13 327.50,164.86 327.91,164.86 327.91,165.24 328.84,165.24 328.84,165.94 329.96,165.94 329.96,166.67 330.41,166.67 330.41,166.68 331.35,166.68 331.35,168.01 332.30,168.01 332.30,164.97 333.26,164.97 333.26,164.53 334.21,164.53 334.21,167.43 335.35,167.43 335.35,161.04 336.57,161.04 336.57,163.41 337.35,163.41 337.35,161.00 337.83,161.00 337.83,163.99 338.60,163.99 338.60,164.64 339.21,164.64 339.21,162.41 340.32,162.41 340.32,167.16 341.56,167.16 341.56,162.08 342.18,162.08 342.18,168.03 343.40,168.03 343.40,163.84 344.53,163.84 344.53,166.17 344.91,166.17 344.91,161.33 345.20,161.33 345.20,168.97" fill="#3c58a4" fill-opacity="0.75"/><polyline points="289.30,168.97 289.30,163.92 290.40,163.92 290.40,167.38 291.00,167.38 291.00,164.11 291.80,164.11 291.80,165.19 292.88,165.19 292.88,165.79 293.92,165.79 293.92,165.75 294.92,165.75 294.92,165.19 296.04,165.19 296.04,164.18 297.04,164.18 297.04,163.38 297.48,163.38 297.48,167.91 298.25,167.91 298.25,164.85 299.20,164.85 299.20,165.52 300.11,165.52 300.11,161.00 300.80,161.00 300.80,163.56 301.64,163.56 301.64,162.99 302.76,162.99 302.76,166.31 303.45,166.31 303.45,167.14 304.36,167.14 304.36,165.51 305.21,165.51 305.21,165.91 305.86,165.91 305.86,165.05 306.34,165.05 306.34,167.25 307.35,167.25 307.35,164.96 307.72,164.96 307.72,166.15 308.66,166.15 308.66,164.75 309.38,164.75 309.38,165.32 309.78,165.32 309.78,162.50 310.51,162.50 310.51,163.61 311.79,163.61 311.79,165.13 312.98,165.13 312.98,165.94 314.09,165.94 314.09,166.81 315.11,166.81 315.11,165.90 316.17,165.90 316.17,166.95 317.26,166.95 317.26,166.19 317.73,166.19 317.73,164.91 318.32,164.91 318.32,165.02 318.91,165.02 318.91,165.93 319.85,165.93 319.85,166.15 320.65,166.15 320.65,164.20 321.29,164.20 321.29,160.97 322.27,160.97 322.27,166.28 322.97,166.28 322.97,165.21 323.70,165.21 323.70,166.99 324.94,166.99 324.94,168.10 325.72,168.10 325.72,165.38 326.80,165.38 326.80,161.13 327.50,161.13 327.50,164.86 327.91,164.86 327.91,165.24 328.84,165.24 328.84,165.94 329.96,165.94 329.96,166.67 330.41,166.67 330.41,166.68 331.35,166.68 331.35,168.01 332.30,168.01 332.30,164.97 333.26,164.97 333.26,164.53 334.21,164.53 334.21,167.43 335.35,167.43 335.35,161.04 336.57,161.04 336.57,163.41 337.35,163.41 337.35,161.00 337.83,161.00 337.83,163.99 338.60,163.99 338.60,164.64 339.21,164.64 339.21,162.41 340.32,162.41 340.32,167.16 341.56,167.16 341.56,162.08 342.18,162.08 342.18,168.03 343.40,168.03 343.40,163.84 344.53,163.84 344.53,166.17 344.91,166.17 344.91,161.33 345.20,161.33 345.20,168.97" fill="none" stroke="#3c58a4" stroke-width="0.45" stroke-opacity="0.8"/><rect x="288.7" y="167.4" width="57.0" height="2.8" fill="#3c58a4"/><rect x="288.7" y="167.5" width="4" height="4.7" fill="#3c58a4"/><rect x="342.7" y="167.0" width="3" height="4" fill="#3c58a4"/></g>
<text x="427.8" y="20.8" class="tt">Chr V</text>
<g><text x="373.4" y="9.7" class="yl">0.47</text><line x1="374.8" y1="8.2" x2="376.6" y2="8.2" stroke="#f07272" stroke-width="0.6"/><text x="373.4" y="24.0" class="yl">0.37</text><line x1="374.8" y1="22.5" x2="376.6" y2="22.5" stroke="#f07272" stroke-width="0.6"/><text x="373.4" y="38.3" class="yl">0.27</text><line x1="374.8" y1="36.8" x2="376.6" y2="36.8" stroke="#f07272" stroke-width="0.6"/><text x="373.4" y="52.6" class="yl">0.17</text><line x1="374.8" y1="51.1" x2="376.6" y2="51.1" stroke="#f07272" stroke-width="0.6"/><text x="373.4" y="67.0" class="yl">0.07</text><line x1="374.8" y1="65.5" x2="376.6" y2="65.5" stroke="#f07272" stroke-width="0.6"/><text x="373.4" y="81.3" class="yl">-0.03</text><line x1="374.8" y1="79.8" x2="376.6" y2="79.8" stroke="#f07272" stroke-width="0.6"/><line x1="376.5" y1="3.7" x2="376.5" y2="79.8" stroke="#f07272" stroke-width="1"/><text x="376.6" y="83.4" class="xl">0</text><text x="395.4" y="83.4" class="xl">100000</text><text x="414.2" y="83.4" class="xl">200000</text><text x="433.0" y="83.4" class="xl">300000</text><text x="451.7" y="83.4" class="xl">400000</text><text x="470.5" y="83.4" class="xl">500000</text><polygon points="377.20,76.22 377.20,73.95 377.96,73.95 377.96,72.51 378.52,72.51 378.52,73.27 379.06,73.27 379.06,76.22 379.91,76.22 379.91,71.46 380.48,71.46 380.48,73.99 381.08,73.99 381.08,72.44 382.34,72.44 382.34,76.22 383.62,76.22 383.62,74.82 384.81,74.82 384.81,73.67 385.40,73.67 385.40,71.89 386.05,71.89 386.05,73.21 386.84,73.21 386.84,73.90 387.39,73.90 387.39,74.06 388.23,74.06 388.23,73.71 389.10,73.71 389.10,74.08 390.16,74.08 390.16,69.60 391.08,69.60 391.08,68.75 391.81,68.75 391.81,73.00 392.64,73.00 392.64,76.22 393.53,76.22 393.53,72.04 394.57,72.04 394.57,73.88 395.77,73.88 395.77,72.31 396.74,72.31 396.74,70.11 397.91,70.11 397.91,76.22 398.95,76.22 398.95,71.07 400.01,71.07 400.01,74.41 401.16,74.41 401.16,76.22 402.20,76.22 402.20,74.87 403.07,74.87 403.07,73.05 403.62,73.05 403.62,71.35 404.31,71.35 404.31,72.09 404.88,72.09 404.88,71.37 406.09,71.37 406.09,72.53 406.81,72.53 406.81,70.76 408.02,70.76 408.02,74.67 408.66,74.67 408.66,72.75 409.54,72.75 409.54,72.50 410.05,72.50 410.05,69.67 411.00,69.67 411.00,71.80 411.91,71.80 411.91,69.49 412.46,69.49 412.46,72.45 413.66,72.45 413.66,76.22 414.48,76.22 414.48,76.22 415.48,76.22 415.48,74.79 416.04,74.79 416.04,76.22 416.81,76.22 416.81,74.90 417.31,74.90 417.31,76.22 418.10,76.22 418.10,73.01 419.30,73.01 419.30,74.44 420.00,74.44 420.00,69.07 420.60,69.07 420.60,73.15 421.47,73.15 421.47,74.62 422.05,74.62 422.05,75.03 423.22,75.03 423.22,73.02 424.48,73.02 424.48,76.22 425.41,76.22 425.41,66.83 426.33,66.83 426.33,74.44 427.39,74.44 427.39,72.13 428.03,72.13 428.03,74.69 429.15,74.69 429.15,66.85 430.30,66.85 430.30,71.66 431.44,71.66 431.44,72.54 432.12,72.54 432.12,76.22 432.65,76.22 432.65,73.88 433.37,73.88 433.37,71.20 434.64,71.20 434.64,70.33 435.93,70.33 435.93,74.73 436.60,74.73 436.60,71.29 437.27,71.29 437.27,71.85 438.44,71.85 438.44,76.22 439.58,76.22 439.58,69.49 440.61,69.49 440.61,72.94 441.71,72.94 441.71,73.69 442.84,73.69 442.84,72.43 444.12,72.43 444.12,72.96 445.37,72.96 445.37,73.52 445.97,73.52 445.97,73.65 447.12,73.65 447.12,72.55 448.40,72.55 448.40,75.05 449.34,75.05 449.34,72.14 450.62,72.14 450.62,71.35 451.87,71.35 451.87,74.64 453.03,74.64 453.03,74.06 453.76,74.06 453.76,73.05 454.47,73.05 454.47,74.28 455.70,74.28 455.70,70.21 456.66,70.21 456.66,72.13 457.90,72.13 457.90,76.22 458.82,76.22 458.82,75.06 459.67,75.06 459.67,74.26 460.81,74.26 460.81,72.60 461.89,72.60 461.89,71.55 462.80,71.55 462.80,72.78 463.39,72.78 463.39,72.19 464.11,72.19 464.11,71.26 465.06,71.26 465.06,72.19 465.91,72.19 465.91,72.31 466.82,72.31 466.82,71.19 467.75,71.19 467.75,69.17 468.81,69.17 468.81,71.19 469.52,71.19 469.52,74.86 470.69,74.86 470.69,76.22 471.54,76.22 471.54,76.22 472.24,76.22 472.24,71.29 473.27,71.29 473.27,71.84 473.89,71.84 473.89,69.12 474.51,69.12 474.51,70.26 475.18,70.26 475.18,66.91 476.07,66.91 476.07,72.17 476.70,72.17 476.70,74.52 477.47,74.52 477.47,76.22 478.55,76.22 478.55,73.31 479.50,73.31 479.50,72.18 480.26,72.18 480.26,67.02 480.81,67.02 480.81,76.22 482.09,76.22 482.09,76.22 482.80,76.22 482.80,74.85 483.93,74.85 483.93,69.42 484.50,69.42 484.50,76.22" fill="#e3242b" fill-opacity="0.16"/><path d="M377.20 76.2V73.95M377.96 76.2V72.51M378.52 76.2V73.27M379.91 76.2V71.46M380.48 76.2V73.99M381.08 76.2V72.44M383.62 76.2V74.82M384.81 76.2V73.67M385.40 76.2V71.89M386.05 76.2V73.21M386.84 76.2V73.90M387.39 76.2V74.06M388.23 76.2V73.71M389.10 76.2V74.08M390.16 76.2V69.60M391.08 76.2V68.75M391.81 76.2V73.00M393.53 76.2V72.04M394.57 76.2V73.88M395.77 76.2V72.31M396.74 76.2V70.11M398.95 76.2V71.07M400.01 76.2V74.41M402.20 76.2V74.87M403.07 76.2V73.05M403.62 76.2V71.35M404.31 76.2V72.09M404.88 76.2V71.37M406.09 76.2V72.53M406.81 76.2V70.76M408.02 76.2V74.67M408.66 76.2V72.75M409.54 76.2V72.50M410.05 76.2V69.67M411.00 76.2V71.80M411.91 76.2V69.49M412.46 76.2V72.45M415.48 76.2V74.79M416.81 76.2V74.90M418.10 76.2V73.01M419.30 76.2V74.44M420.00 76.2V69.07M420.60 76.2V73.15M421.47 76.2V74.62M422.05 76.2V75.03M423.22 76.2V73.02M425.41 76.2V66.83M426.33 76.2V74.44M427.39 76.2V72.13M428.03 76.2V74.69M429.15 76.2V66.85M430.30 76.2V71.66M431.44 76.2V72.54M432.65 76.2V73.88M433.37 76.2V71.20M434.64 76.2V70.33M435.93 76.2V74.73M436.60 76.2V71.29M437.27 76.2V71.85M439.58 76.2V69.49M440.61 76.2V72.94M441.71 76.2V73.69M442.84 76.2V72.43M444.12 76.2V72.96M445.37 76.2V73.52M445.97 76.2V73.65M447.12 76.2V72.55M448.40 76.2V75.05M449.34 76.2V72.14M450.62 76.2V71.35M451.87 76.2V74.64M453.03 76.2V74.06M453.76 76.2V73.05M454.47 76.2V74.28M455.70 76.2V70.21M456.66 76.2V72.13M458.82 76.2V75.06M459.67 76.2V74.26M460.81 76.2V72.60M461.89 76.2V71.55M462.80 76.2V72.78M463.39 76.2V72.19M464.11 76.2V71.26M465.06 76.2V72.19M465.91 76.2V72.31M466.82 76.2V71.19M467.75 76.2V69.17M468.81 76.2V71.19M469.52 76.2V74.86M472.24 76.2V71.29M473.27 76.2V71.84M473.89 76.2V69.12M474.51 76.2V70.26M475.18 76.2V66.91M476.07 76.2V72.17M476.70 76.2V74.52M478.55 76.2V73.31M479.50 76.2V72.18M480.26 76.2V67.02M482.80 76.2V74.85M483.93 76.2V69.42" stroke="#e3242b" stroke-width="0.7" stroke-opacity="0.85" fill="none"/><path d="M380.00 76.2V36.4M383.00 76.2V56.2M437.40 76.2V50.4M456.50 76.2V50.4M403.30 76.2V55.9M462.20 76.2V59.0M397.20 76.2V61.9M460.20 76.2V61.9M426.30 76.2V64.0M466.00 76.2V64.0M471.70 76.2V64.3M401.80 76.2V64.3M392.60 76.2V64.3M457.30 76.2V61.9M388.50 76.2V69.1M430.00 76.2V69.1M432.00 76.2V69.1M441.50 76.2V69.1M451.50 76.2V69.1M475.00 76.2V69.1M400.00 76.2V67.6" stroke="#e3242b" stroke-width="0.95" stroke-opacity="0.8" fill="none"/><rect x="376.6" y="74.5" width="108.4" height="3.0" fill="#e3242b"/><rect x="376.6" y="74.7" width="4" height="4.8" fill="#e3242b"/><rect x="482.0" y="74.2" width="3" height="4" fill="#e3242b"/></g>
<g><text x="373.4" y="103.5" class="yl">0.47</text><line x1="374.8" y1="102.0" x2="376.6" y2="102.0" stroke="#5a72c0" stroke-width="0.6"/><text x="373.4" y="117.6" class="yl">0.37</text><line x1="374.8" y1="116.1" x2="376.6" y2="116.1" stroke="#5a72c0" stroke-width="0.6"/><text x="373.4" y="131.7" class="yl">0.27</text><line x1="374.8" y1="130.2" x2="376.6" y2="130.2" stroke="#5a72c0" stroke-width="0.6"/><text x="373.4" y="145.8" class="yl">0.17</text><line x1="374.8" y1="144.3" x2="376.6" y2="144.3" stroke="#5a72c0" stroke-width="0.6"/><text x="373.4" y="159.9" class="yl">0.07</text><line x1="374.8" y1="158.4" x2="376.6" y2="158.4" stroke="#5a72c0" stroke-width="0.6"/><text x="373.4" y="174.0" class="yl">-0.03</text><line x1="374.8" y1="172.5" x2="376.6" y2="172.5" stroke="#5a72c0" stroke-width="0.6"/><line x1="376.5" y1="97.5" x2="376.5" y2="172.5" stroke="#5a72c0" stroke-width="1"/><text x="376.6" y="176.1" class="xl">0</text><text x="395.0" y="176.1" class="xl">100000</text><text x="413.5" y="176.1" class="xl">200000</text><text x="431.9" y="176.1" class="xl">300000</text><text x="450.4" y="176.1" class="xl">400000</text><text x="468.8" y="176.1" class="xl">500000</text><polygon points="377.20,168.97 377.20,162.77 377.77,162.77 377.77,167.85 378.78,167.85 378.78,165.55 380.08,165.55 380.08,165.88 380.87,165.88 380.87,164.59 381.40,164.59 381.40,167.83 381.98,167.83 381.98,162.20 382.71,162.20 382.71,164.76 383.17,164.76 383.17,164.11 383.58,164.11 383.58,165.44 384.56,165.44 384.56,163.22 385.38,163.22 385.38,166.86 386.28,166.86 386.28,166.56 387.53,166.56 387.53,165.36 388.78,165.36 388.78,166.20 389.97,166.20 389.97,165.28 391.15,165.28 391.15,163.56 391.59,163.56 391.59,163.89 392.85,163.89 392.85,165.81 393.39,165.81 393.39,167.11 394.22,167.11 394.22,164.37 395.05,164.37 395.05,167.74 395.63,167.74 395.63,166.15 396.24,166.15 396.24,164.45 397.38,164.45 397.38,165.50 398.11,165.50 398.11,165.27 399.38,165.27 399.38,167.27 400.02,167.27 400.02,166.02 400.69,166.02 400.69,165.99 401.26,165.99 401.26,166.35 402.01,166.35 402.01,168.01 402.45,168.01 402.45,165.18 403.29,165.18 403.29,163.09 404.12,163.09 404.12,167.97 404.53,167.97 404.53,165.32 405.25,165.32 405.25,163.05 405.93,163.05 405.93,165.03 407.08,165.03 407.08,161.34 407.46,161.34 407.46,166.60 408.75,166.60 408.75,166.81 410.02,166.81 410.02,165.93 410.95,165.93 410.95,165.69 411.44,165.69 411.44,166.01 412.22,166.01 412.22,163.95 413.26,163.95 413.26,166.49 413.99,166.49 413.99,166.76 414.53,166.76 414.53,163.71 415.56,163.71 415.56,166.03 415.94,166.03 415.94,161.35 416.37,161.35 416.37,164.41 417.20,164.41 417.20,165.32 417.77,165.32 417.77,167.44 418.73,167.44 418.73,163.18 419.95,163.18 419.95,166.33 421.23,166.33 421.23,162.22 422.10,162.22 422.10,163.87 423.34,163.87 423.34,161.29 424.29,161.29 424.29,164.41 424.92,164.41 424.92,161.14 425.62,161.14 425.62,165.62 426.27,165.62 426.27,163.16 427.42,163.16 427.42,163.72 428.46,163.72 428.46,165.90 429.15,165.90 429.15,164.29 430.01,164.29 430.01,164.29 430.42,164.29 430.42,165.13 431.17,165.13 431.17,165.19 431.78,165.19 431.78,165.00 432.61,165.00 432.61,164.82 433.35,164.82 433.35,164.32 434.45,164.32 434.45,165.13 435.57,165.13 435.57,163.40 436.27,163.40 436.27,163.42 436.99,163.42 436.99,161.28 438.29,161.28 438.29,165.46 438.77,165.46 438.77,165.04 439.20,165.04 439.20,162.84 440.41,162.84 440.41,163.64 441.34,163.64 441.34,167.09 441.99,167.09 441.99,164.13 443.16,164.13 443.16,163.52 444.29,163.52 444.29,166.33 445.21,166.33 445.21,165.83 445.90,165.83 445.90,164.16 446.36,164.16 446.36,166.12 446.86,166.12 446.86,164.58 447.62,164.58 447.62,166.60 448.18,166.60 448.18,166.89 449.24,166.89 449.24,163.35 450.12,163.35 450.12,165.01 451.00,165.01 451.00,165.73 452.05,165.73 452.05,160.95 453.29,160.95 453.29,166.08 453.77,166.08 453.77,164.64 454.28,164.64 454.28,165.62 455.47,165.62 455.47,161.75 456.22,161.75 456.22,161.49 457.42,161.49 457.42,166.17 458.70,166.17 458.70,166.30 459.85,166.30 459.85,166.71 460.85,166.71 460.85,164.81 462.00,164.81 462.00,162.40 462.85,162.40 462.85,165.27 463.41,165.27 463.41,164.53 464.54,164.53 464.54,167.71 465.27,167.71 465.27,165.42 466.52,165.42 466.52,165.45 467.46,165.45 467.46,165.69 467.88,165.69 467.88,162.09 468.35,162.09 468.35,162.81 469.30,162.81 469.30,167.45 470.60,167.45 470.60,162.25 471.57,162.25 471.57,163.94 472.82,163.94 472.82,166.18 473.33,166.18 473.33,165.18 474.01,165.18 474.01,164.68 474.72,164.68 474.72,163.24 475.20,163.24 475.20,167.87 475.85,167.87 475.85,165.73 476.54,165.73 476.54,163.42 477.18,163.42 477.18,163.76 478.27,163.76 478.27,164.26 478.87,164.26 478.87,165.58 480.04,165.58 480.04,164.17 480.86,164.17 480.86,164.13 481.76,164.13 481.76,165.94 482.50,165.94 482.50,168.97" fill="#3c58a4" fill-opacity="0.75"/><polyline points="377.20,168.97 377.20,162.77 377.77,162.77 377.77,167.85 378.78,167.85 378.78,165.55 380.08,165.55 380.08,165.88 380.87,165.88 380.87,164.59 381.40,164.59 381.40,167.83 381.98,167.83 381.98,162.20 382.71,162.20 382.71,164.76 383.17,164.76 383.17,164.11 383.58,164.11 383.58,165.44 384.56,165.44 384.56,163.22 385.38,163.22 385.38,166.86 386.28,166.86 386.28,166.56 387.53,166.56 387.53,165.36 388.78,165.36 388.78,166.20 389.97,166.20 389.97,165.28 391.15,165.28 391.15,163.56 391.59,163.56 391.59,163.89 392.85,163.89 392.85,165.81 393.39,165.81 393.39,167.11 394.22,167.11 394.22,164.37 395.05,164.37 395.05,167.74 395.63,167.74 395.63,166.15 396.24,166.15 396.24,164.45 397.38,164.45 397.38,165.50 398.11,165.50 398.11,165.27 399.38,165.27 399.38,167.27 400.02,167.27 400.02,166.02 400.69,166.02 400.69,165.99 401.26,165.99 401.26,166.35 402.01,166.35 402.01,168.01 402.45,168.01 402.45,165.18 403.29,165.18 403.29,163.09 404.12,163.09 404.12,167.97 404.53,167.97 404.53,165.32 405.25,165.32 405.25,163.05 405.93,163.05 405.93,165.03 407.08,165.03 407.08,161.34 407.46,161.34 407.46,166.60 408.75,166.60 408.75,166.81 410.02,166.81 410.02,165.93 410.95,165.93 410.95,165.69 411.44,165.69 411.44,166.01 412.22,166.01 412.22,163.95 413.26,163.95 413.26,166.49 413.99,166.49 413.99,166.76 414.53,166.76 414.53,163.71 415.56,163.71 415.56,166.03 415.94,166.03 415.94,161.35 416.37,161.35 416.37,164.41 417.20,164.41 417.20,165.32 417.77,165.32 417.77,167.44 418.73,167.44 418.73,163.18 419.95,163.18 419.95,166.33 421.23,166.33 421.23,162.22 422.10,162.22 422.10,163.87 423.34,163.87 423.34,161.29 424.29,161.29 424.29,164.41 424.92,164.41 424.92,161.14 425.62,161.14 425.62,165.62 426.27,165.62 426.27,163.16 427.42,163.16 427.42,163.72 428.46,163.72 428.46,165.90 429.15,165.90 429.15,164.29 430.01,164.29 430.01,164.29 430.42,164.29 430.42,165.13 431.17,165.13 431.17,165.19 431.78,165.19 431.78,165.00 432.61,165.00 432.61,164.82 433.35,164.82 433.35,164.32 434.45,164.32 434.45,165.13 435.57,165.13 435.57,163.40 436.27,163.40 436.27,163.42 436.99,163.42 436.99,161.28 438.29,161.28 438.29,165.46 438.77,165.46 438.77,165.04 439.20,165.04 439.20,162.84 440.41,162.84 440.41,163.64 441.34,163.64 441.34,167.09 441.99,167.09 441.99,164.13 443.16,164.13 443.16,163.52 444.29,163.52 444.29,166.33 445.21,166.33 445.21,165.83 445.90,165.83 445.90,164.16 446.36,164.16 446.36,166.12 446.86,166.12 446.86,164.58 447.62,164.58 447.62,166.60 448.18,166.60 448.18,166.89 449.24,166.89 449.24,163.35 450.12,163.35 450.12,165.01 451.00,165.01 451.00,165.73 452.05,165.73 452.05,160.95 453.29,160.95 453.29,166.08 453.77,166.08 453.77,164.64 454.28,164.64 454.28,165.62 455.47,165.62 455.47,161.75 456.22,161.75 456.22,161.49 457.42,161.49 457.42,166.17 458.70,166.17 458.70,166.30 459.85,166.30 459.85,166.71 460.85,166.71 460.85,164.81 462.00,164.81 462.00,162.40 462.85,162.40 462.85,165.27 463.41,165.27 463.41,164.53 464.54,164.53 464.54,167.71 465.27,167.71 465.27,165.42 466.52,165.42 466.52,165.45 467.46,165.45 467.46,165.69 467.88,165.69 467.88,162.09 468.35,162.09 468.35,162.81 469.30,162.81 469.30,167.45 470.60,167.45 470.60,162.25 471.57,162.25 471.57,163.94 472.82,163.94 472.82,166.18 473.33,166.18 473.33,165.18 474.01,165.18 474.01,164.68 474.72,164.68 474.72,163.24 475.20,163.24 475.20,167.87 475.85,167.87 475.85,165.73 476.54,165.73 476.54,163.42 477.18,163.42 477.18,163.76 478.27,163.76 478.27,164.26 478.87,164.26 478.87,165.58 480.04,165.58 480.04,164.17 480.86,164.17 480.86,164.13 481.76,164.13 481.76,165.94 482.50,165.94 482.50,168.97" fill="none" stroke="#3c58a4" stroke-width="0.45" stroke-opacity="0.8"/><path d="M383.00 169.0V151.5M428.40 169.0V154.0M431.00 169.0V161.9M411.00 169.0V162.6" stroke="#3c58a4" stroke-width="0.95" stroke-opacity="0.8" fill="none"/><rect x="376.6" y="167.4" width="106.4" height="2.8" fill="#3c58a4"/><rect x="376.6" y="167.5" width="4" height="4.7" fill="#3c58a4"/><rect x="480.0" y="167.0" width="3" height="4" fill="#3c58a4"/></g>
<text x="534.4" y="20.8" class="tt">ChrVI</text>
<g><text x="504.2" y="9.7" class="yl">0.47</text><line x1="505.6" y1="8.2" x2="507.4" y2="8.2" stroke="#f07272" stroke-width="0.6"/><text x="504.2" y="24.0" class="yl">0.37</text><line x1="505.6" y1="22.5" x2="507.4" y2="22.5" stroke="#f07272" stroke-width="0.6"/><text x="504.2" y="38.3" class="yl">0.27</text><line x1="505.6" y1="36.8" x2="507.4" y2="36.8" stroke="#f07272" stroke-width="0.6"/><text x="504.2" y="52.6" class="yl">0.17</text><line x1="505.6" y1="51.1" x2="507.4" y2="51.1" stroke="#f07272" stroke-width="0.6"/><text x="504.2" y="67.0" class="yl">0.07</text><line x1="505.6" y1="65.5" x2="507.4" y2="65.5" stroke="#f07272" stroke-width="0.6"/><text x="504.2" y="81.3" class="yl">-0.03</text><line x1="505.6" y1="79.8" x2="507.4" y2="79.8" stroke="#f07272" stroke-width="0.6"/><line x1="507.5" y1="3.7" x2="507.5" y2="79.8" stroke="#f07272" stroke-width="1"/><text x="507.4" y="83.4" class="xl">0</text><text x="525.4" y="83.4" class="xl">100000</text><text x="543.4" y="83.4" class="xl">200000</text><polygon points="508.00,76.22 508.00,73.03 508.87,73.03 508.87,76.22 510.06,76.22 510.06,70.90 510.97,70.90 510.97,73.26 511.91,73.26 511.91,72.32 512.71,72.32 512.71,74.66 513.79,74.66 513.79,71.23 514.38,71.23 514.38,72.47 515.35,72.47 515.35,76.22 516.45,76.22 516.45,71.69 517.18,71.69 517.18,76.22 518.02,76.22 518.02,74.59 518.73,74.59 518.73,73.55 519.88,73.55 519.88,76.22 521.09,76.22 521.09,73.30 521.89,73.30 521.89,70.83 522.73,70.83 522.73,74.08 523.71,74.08 523.71,75.06 524.92,75.06 524.92,73.31 525.49,73.31 525.49,71.24 526.06,71.24 526.06,71.89 526.89,71.89 526.89,72.96 527.47,72.96 527.47,70.95 528.45,70.95 528.45,73.01 529.40,73.01 529.40,66.48 530.11,66.48 530.11,71.17 530.71,71.17 530.71,73.25 531.40,73.25 531.40,72.00 532.19,72.00 532.19,76.22 533.31,76.22 533.31,69.89 534.09,69.89 534.09,71.09 534.95,71.09 534.95,76.22 535.91,76.22 535.91,74.33 537.05,74.33 537.05,72.61 537.72,72.61 537.72,73.12 538.29,73.12 538.29,76.22 539.42,76.22 539.42,72.21 540.54,72.21 540.54,73.80 541.61,73.80 541.61,73.41 542.45,73.41 542.45,71.38 543.27,71.38 543.27,72.96 544.07,72.96 544.07,74.98 545.24,74.98 545.24,73.44 546.52,73.44 546.52,73.32 547.81,73.32 547.81,74.40 548.36,74.40 548.36,68.14 549.35,68.14 549.35,73.04 549.96,73.04 549.96,71.76 550.53,71.76 550.53,71.74 551.08,71.74 551.08,71.32 552.19,71.32 552.19,71.58 552.83,71.58 552.83,73.12 554.03,73.12 554.03,72.95 554.57,72.95 554.57,76.22 555.50,76.22 555.50,76.22" fill="#e3242b" fill-opacity="0.16"/><path d="M508.00 76.2V73.03M510.06 76.2V70.90M510.97 76.2V73.26M511.91 76.2V72.32M512.71 76.2V74.66M513.79 76.2V71.23M514.38 76.2V72.47M516.45 76.2V71.69M518.02 76.2V74.59M518.73 76.2V73.55M521.09 76.2V73.30M521.89 76.2V70.83M522.73 76.2V74.08M523.71 76.2V75.06M524.92 76.2V73.31M525.49 76.2V71.24M526.06 76.2V71.89M526.89 76.2V72.96M527.47 76.2V70.95M528.45 76.2V73.01M529.40 76.2V66.48M530.11 76.2V71.17M530.71 76.2V73.25M531.40 76.2V72.00M533.31 76.2V69.89M534.09 76.2V71.09M535.91 76.2V74.33M537.05 76.2V72.61M537.72 76.2V73.12M539.42 76.2V72.21M540.54 76.2V73.80M541.61 76.2V73.41M542.45 76.2V71.38M543.27 76.2V72.96M544.07 76.2V74.98M545.24 76.2V73.44M546.52 76.2V73.32M547.81 76.2V74.40M548.36 76.2V68.14M549.35 76.2V73.04M549.96 76.2V71.76M550.53 76.2V71.74M551.08 76.2V71.32M552.19 76.2V71.58M552.83 76.2V73.12M554.03 76.2V72.95" stroke="#e3242b" stroke-width="0.7" stroke-opacity="0.85" fill="none"/><path d="M512.20 76.2V59.0M527.10 76.2V59.0M546.00 76.2V56.2M552.80 76.2V61.9M521.30 76.2V66.9M548.30 76.2V66.9M515.20 76.2V70.5M517.50 76.2V70.5M524.40 76.2V70.5M531.40 76.2V70.5M535.50 76.2V70.5M540.50 76.2V70.5M544.30 76.2V70.5M551.50 76.2V70.5" stroke="#e3242b" stroke-width="0.95" stroke-opacity="0.8" fill="none"/><rect x="507.4" y="74.5" width="48.6" height="3.0" fill="#e3242b"/><rect x="507.4" y="74.7" width="4" height="4.8" fill="#e3242b"/><rect x="553.0" y="74.2" width="3" height="4" fill="#e3242b"/></g>
<g><text x="504.2" y="103.5" class="yl">0.47</text><line x1="505.6" y1="102.0" x2="507.4" y2="102.0" stroke="#5a72c0" stroke-width="0.6"/><text x="504.2" y="117.6" class="yl">0.37</text><line x1="505.6" y1="116.1" x2="507.4" y2="116.1" stroke="#5a72c0" stroke-width="0.6"/><text x="504.2" y="131.7" class="yl">0.27</text><line x1="505.6" y1="130.2" x2="507.4" y2="130.2" stroke="#5a72c0" stroke-width="0.6"/><text x="504.2" y="145.8" class="yl">0.17</text><line x1="505.6" y1="144.3" x2="507.4" y2="144.3" stroke="#5a72c0" stroke-width="0.6"/><text x="504.2" y="159.9" class="yl">0.07</text><line x1="505.6" y1="158.4" x2="507.4" y2="158.4" stroke="#5a72c0" stroke-width="0.6"/><text x="504.2" y="174.0" class="yl">-0.03</text><line x1="505.6" y1="172.5" x2="507.4" y2="172.5" stroke="#5a72c0" stroke-width="0.6"/><line x1="507.5" y1="97.5" x2="507.5" y2="172.5" stroke="#5a72c0" stroke-width="1"/><text x="507.4" y="176.1" class="xl">0</text><text x="525.6" y="176.1" class="xl">100000</text><text x="543.8" y="176.1" class="xl">200000</text><polygon points="508.00,168.97 508.00,165.70 508.89,165.70 508.89,163.35 509.44,163.35 509.44,165.83 510.41,165.83 510.41,164.85 511.07,164.85 511.07,167.16 512.37,167.16 512.37,166.36 513.29,166.36 513.29,165.45 514.28,165.45 514.28,165.27 515.26,165.27 515.26,161.67 516.54,161.67 516.54,167.98 516.94,167.98 516.94,166.17 518.18,166.17 518.18,165.76 519.38,165.76 519.38,167.47 520.15,167.47 520.15,166.49 521.30,166.49 521.30,167.57 522.04,167.57 522.04,163.84 523.17,163.84 523.17,165.72 524.33,165.72 524.33,166.75 525.04,166.75 525.04,167.94 526.12,167.94 526.12,162.08 527.24,162.08 527.24,166.38 527.98,166.38 527.98,166.73 528.92,166.73 528.92,165.54 529.70,165.54 529.70,163.93 530.83,163.93 530.83,166.99 531.51,166.99 531.51,166.28 532.54,166.28 532.54,165.69 532.97,165.69 532.97,163.61 533.69,163.61 533.69,164.95 534.27,164.95 534.27,166.86 535.11,166.86 535.11,166.10 535.93,166.10 535.93,165.79 536.67,165.79 536.67,166.01 537.49,166.01 537.49,166.92 538.76,166.92 538.76,166.89 539.11,166.89 539.11,165.98 539.55,165.98 539.55,165.97 540.84,165.97 540.84,165.99 541.61,165.99 541.61,163.56 542.65,163.56 542.65,163.21 543.40,163.21 543.40,165.60 543.90,165.60 543.90,163.75 544.90,163.75 544.90,165.18 546.04,165.18 546.04,165.06 547.30,165.06 547.30,164.67 548.33,164.67 548.33,163.12 549.55,163.12 549.55,165.49 550.83,165.49 550.83,164.93 551.32,164.93 551.32,166.82 551.85,166.82 551.85,166.78 552.39,166.78 552.39,163.96 553.69,163.96 553.69,163.86 554.74,163.86 554.74,163.81 555.49,163.81 555.49,165.59 556.10,165.59 556.10,165.63 556.10,165.63 556.10,168.97" fill="#3c58a4" fill-opacity="0.75"/><polyline points="508.00,168.97 508.00,165.70 508.89,165.70 508.89,163.35 509.44,163.35 509.44,165.83 510.41,165.83 510.41,164.85 511.07,164.85 511.07,167.16 512.37,167.16 512.37,166.36 513.29,166.36 513.29,165.45 514.28,165.45 514.28,165.27 515.26,165.27 515.26,161.67 516.54,161.67 516.54,167.98 516.94,167.98 516.94,166.17 518.18,166.17 518.18,165.76 519.38,165.76 519.38,167.47 520.15,167.47 520.15,166.49 521.30,166.49 521.30,167.57 522.04,167.57 522.04,163.84 523.17,163.84 523.17,165.72 524.33,165.72 524.33,166.75 525.04,166.75 525.04,167.94 526.12,167.94 526.12,162.08 527.24,162.08 527.24,166.38 527.98,166.38 527.98,166.73 528.92,166.73 528.92,165.54 529.70,165.54 529.70,163.93 530.83,163.93 530.83,166.99 531.51,166.99 531.51,166.28 532.54,166.28 532.54,165.69 532.97,165.69 532.97,163.61 533.69,163.61 533.69,164.95 534.27,164.95 534.27,166.86 535.11,166.86 535.11,166.10 535.93,166.10 535.93,165.79 536.67,165.79 536.67,166.01 537.49,166.01 537.49,166.92 538.76,166.92 538.76,166.89 539.11,166.89 539.11,165.98 539.55,165.98 539.55,165.97 540.84,165.97 540.84,165.99 541.61,165.99 541.61,163.56 542.65,163.56 542.65,163.21 543.40,163.21 543.40,165.60 543.90,165.60 543.90,163.75 544.90,163.75 544.90,165.18 546.04,165.18 546.04,165.06 547.30,165.06 547.30,164.67 548.33,164.67 548.33,163.12 549.55,163.12 549.55,165.49 550.83,165.49 550.83,164.93 551.32,164.93 551.32,166.82 551.85,166.82 551.85,166.78 552.39,166.78 552.39,163.96 553.69,163.96 553.69,163.86 554.74,163.86 554.74,163.81 555.49,163.81 555.49,165.59 556.10,165.59 556.10,165.63 556.10,165.63 556.10,168.97" fill="none" stroke="#3c58a4" stroke-width="0.45" stroke-opacity="0.8"/><rect x="507.4" y="167.4" width="49.2" height="2.8" fill="#3c58a4"/><rect x="507.4" y="167.5" width="4" height="4.7" fill="#3c58a4"/><rect x="553.6" y="167.0" width="3" height="4" fill="#3c58a4"/></g>
<text x="681.8" y="20.8" class="tt">Chr VII</text>
<g><text x="577.4" y="8.8" class="yl">0.47</text><line x1="578.8" y1="7.3" x2="580.6" y2="7.3" stroke="#f07272" stroke-width="0.6"/><text x="577.4" y="23.0" class="yl">0.37</text><line x1="578.8" y1="21.5" x2="580.6" y2="21.5" stroke="#f07272" stroke-width="0.6"/><text x="577.4" y="37.2" class="yl">0.27</text><line x1="578.8" y1="35.7" x2="580.6" y2="35.7" stroke="#f07272" stroke-width="0.6"/><text x="577.4" y="51.5" class="yl">0.17</text><line x1="578.8" y1="50.0" x2="580.6" y2="50.0" stroke="#f07272" stroke-width="0.6"/><text x="577.4" y="65.7" class="yl">0.07</text><line x1="578.8" y1="64.2" x2="580.6" y2="64.2" stroke="#f07272" stroke-width="0.6"/><text x="577.4" y="79.9" class="yl">-0.03</text><line x1="578.8" y1="78.4" x2="580.6" y2="78.4" stroke="#f07272" stroke-width="0.6"/><line x1="580.5" y1="2.8" x2="580.5" y2="78.4" stroke="#f07272" stroke-width="1"/><text x="580.6" y="82.0" class="xl">0</text><text x="599.1" y="82.0" class="xl">100000</text><text x="617.6" y="82.0" class="xl">200000</text><text x="636.2" y="82.0" class="xl">300000</text><text x="654.7" y="82.0" class="xl">400000</text><text x="673.2" y="82.0" class="xl">500000</text><text x="691.7" y="82.0" class="xl">600000</text><text x="710.3" y="82.0" class="xl">700000</text><text x="728.8" y="82.0" class="xl">800000</text><text x="747.3" y="82.0" class="xl">900000</text><text x="765.8" y="82.0" class="xl">1000000</text><polygon points="581.20,74.84 581.20,69.90 582.06,69.90 582.06,70.66 582.93,70.66 582.93,70.57 583.58,70.57 583.58,74.84 584.72,74.84 584.72,74.84 585.46,74.84 585.46,71.91 586.61,71.91 586.61,66.06 587.89,66.06 587.89,73.68 588.89,73.68 588.89,74.84 589.81,74.84 589.81,73.66 590.46,73.66 590.46,70.08 591.33,70.08 591.33,70.86 592.25,70.86 592.25,71.37 593.28,71.37 593.28,65.58 594.57,65.58 594.57,73.32 595.64,73.32 595.64,74.84 596.37,74.84 596.37,70.07 597.49,70.07 597.49,68.04 598.29,68.04 598.29,72.15 598.79,72.15 598.79,66.72 599.67,66.72 599.67,70.23 600.23,70.23 600.23,74.84 600.94,74.84 600.94,65.79 601.71,65.79 601.71,73.53 602.31,73.53 602.31,71.60 602.85,71.60 602.85,71.57 603.80,71.57 603.80,72.61 604.89,72.61 604.89,71.52 605.48,71.52 605.48,65.68 606.20,65.68 606.20,69.31 606.94,69.31 606.94,68.45 607.75,68.45 607.75,67.19 608.33,67.19 608.33,71.25 609.04,71.25 609.04,74.84 609.78,74.84 609.78,71.45 610.35,71.45 610.35,70.97 611.33,70.97 611.33,70.69 612.60,70.69 612.60,73.44 613.79,73.44 613.79,71.43 615.02,71.43 615.02,69.86 615.67,69.86 615.67,67.97 616.33,67.97 616.33,71.76 617.31,71.76 617.31,67.12 617.84,67.12 617.84,72.30 618.90,72.30 618.90,73.41 619.88,73.41 619.88,74.84 620.96,74.84 620.96,70.06 621.64,70.06 621.64,72.14 622.63,72.14 622.63,74.84 623.30,74.84 623.30,71.86 624.01,71.86 624.01,70.70 624.65,70.70 624.65,69.97 625.26,69.97 625.26,70.43 626.54,70.43 626.54,73.65 627.51,73.65 627.51,68.33 628.02,68.33 628.02,74.84 629.29,74.84 629.29,70.34 630.30,70.34 630.30,67.54 631.06,67.54 631.06,69.95 631.99,69.95 631.99,70.20 633.08,70.20 633.08,72.54 634.32,72.54 634.32,68.90 635.54,68.90 635.54,68.59 636.67,68.59 636.67,70.68 637.67,70.68 637.67,74.84 638.66,74.84 638.66,65.48 639.67,65.48 639.67,70.33 640.75,70.33 640.75,70.09 641.72,70.09 641.72,71.93 642.28,71.93 642.28,71.48 643.26,71.48 643.26,70.60 644.32,70.60 644.32,73.69 645.56,73.69 645.56,71.54 646.30,71.54 646.30,68.41 646.94,68.41 646.94,69.07 647.79,69.07 647.79,72.97 648.82,72.97 648.82,67.97 649.97,67.97 649.97,71.28 650.77,71.28 650.77,70.10 651.38,70.10 651.38,69.84 652.56,69.84 652.56,72.94 653.28,72.94 653.28,73.00 654.00,73.00 654.00,71.28 655.00,71.28 655.00,66.58 656.18,66.58 656.18,74.84 656.73,74.84 656.73,74.84 657.93,74.84 657.93,71.30 659.00,71.30 659.00,74.84 660.13,74.84 660.13,71.94 660.74,71.94 660.74,73.47 661.91,73.47 661.91,70.99 662.44,70.99 662.44,70.16 663.45,70.16 663.45,71.55 664.71,71.55 664.71,73.69 665.59,73.69 665.59,71.59 666.47,71.59 666.47,72.52 667.19,72.52 667.19,70.28 668.11,70.28 668.11,69.94 668.92,69.94 668.92,68.29 669.49,68.29 669.49,70.58 670.09,70.58 670.09,70.71 671.32,70.71 671.32,69.85 672.53,69.85 672.53,71.53 673.40,71.53 673.40,70.54 674.47,70.54 674.47,72.17 675.55,72.17 675.55,66.36 676.83,66.36 676.83,72.15 677.97,72.15 677.97,73.57 679.15,73.57 679.15,70.25 680.00,70.25 680.00,74.84 680.89,74.84 680.89,74.84 682.04,74.84 682.04,73.14 683.18,73.14 683.18,73.45 684.31,73.45 684.31,70.09 685.22,70.09 685.22,68.75 686.28,68.75 686.28,74.84 687.53,74.84 687.53,71.34 688.21,71.34 688.21,70.81 689.29,70.81 689.29,71.29 690.47,71.29 690.47,67.93 691.27,67.93 691.27,67.80 691.94,67.80 691.94,71.54 692.86,71.54 692.86,70.62 693.79,70.62 693.79,66.41 694.31,66.41 694.31,70.72 695.13,70.72 695.13,71.85 696.02,71.85 696.02,69.82 696.96,69.82 696.96,72.90 698.19,72.90 698.19,70.15 698.80,70.15 698.80,71.28 700.02,71.28 700.02,69.90 700.67,69.90 700.67,71.95 701.27,71.95 701.27,72.54 701.93,72.54 701.93,72.65 702.69,72.65 702.69,71.72 703.27,71.72 703.27,73.37 704.18,73.37 704.18,71.15 705.10,71.15 705.10,71.64 705.93,71.64 705.93,70.55 706.60,70.55 706.60,68.51 707.52,68.51 707.52,72.44 708.71,72.44 708.71,69.10 709.85,69.10 709.85,69.29 710.61,69.29 710.61,69.46 711.91,69.46 711.91,71.41 712.60,71.41 712.60,68.89 713.17,68.89 713.17,73.02 714.31,73.02 714.31,74.84 715.35,74.84 715.35,69.93 716.02,69.93 716.02,74.84 717.29,74.84 717.29,70.86 718.19,70.86 718.19,73.59 719.24,73.59 719.24,74.84 719.83,74.84 719.83,70.71 720.77,70.71 720.77,73.36 721.39,73.36 721.39,65.36 722.56,65.36 722.56,74.84 723.13,74.84 723.13,70.26 724.40,70.26 724.40,70.83 725.16,70.83 725.16,71.97 726.00,71.97 726.00,69.36 727.06,69.36 727.06,71.08 727.93,71.08 727.93,72.83 728.58,72.83 728.58,68.13 729.09,68.13 729.09,68.47 730.16,68.47 730.16,70.85 730.98,70.85 730.98,71.41 732.27,71.41 732.27,70.23 733.50,70.23 733.50,69.96 734.65,69.96 734.65,70.26 735.85,70.26 735.85,70.36 736.96,70.36 736.96,72.91 737.52,72.91 737.52,72.62 738.03,72.62 738.03,72.10 739.03,72.10 739.03,72.58 740.06,72.58 740.06,71.11 741.02,71.11 741.02,70.41 742.32,70.41 742.32,67.68 743.43,67.68 743.43,71.42 744.42,71.42 744.42,74.84 745.24,74.84 745.24,71.78 745.90,71.78 745.90,68.63 746.60,68.63 746.60,66.28 747.50,66.28 747.50,70.16 748.80,70.16 748.80,70.27 749.36,70.27 749.36,69.41 749.90,69.41 749.90,72.86 750.77,72.86 750.77,74.84 751.76,74.84 751.76,70.80 753.02,70.80 753.02,71.35 754.00,71.35 754.00,71.36 755.02,71.36 755.02,73.68 756.09,73.68 756.09,74.84 756.79,74.84 756.79,71.11 757.42,71.11 757.42,71.89 758.63,71.89 758.63,69.58 759.92,69.58 759.92,70.91 761.15,70.91 761.15,72.81 762.43,72.81 762.43,70.94 763.68,70.94 763.68,70.63 764.96,70.63 764.96,70.96 765.55,70.96 765.55,74.84 766.22,74.84 766.22,72.95 767.14,72.95 767.14,71.40 768.17,71.40 768.17,70.23 769.14,70.23 769.14,65.30 770.06,65.30 770.06,73.51 771.15,73.51 771.15,70.58 772.36,70.58 772.36,72.54 773.15,72.54 773.15,70.56 774.10,70.56 774.10,73.28 775.21,73.28 775.21,67.98 776.49,67.98 776.49,74.84 777.02,74.84 777.02,70.58 777.74,70.58 777.74,71.84 778.32,71.84 778.32,70.75 778.89,70.75 778.89,70.91 779.89,70.91 779.89,72.44 780.56,72.44 780.56,74.84 781.73,74.84 781.73,70.58 782.20,70.58 782.20,74.84" fill="#e3242b" fill-opacity="0.16"/><path d="M581.20 74.8V69.90M582.06 74.8V70.66M582.93 74.8V70.57M585.46 74.8V71.91M586.61 74.8V66.06M587.89 74.8V73.68M589.81 74.8V73.66M590.46 74.8V70.08M591.33 74.8V70.86M592.25 74.8V71.37M593.28 74.8V65.58M594.57 74.8V73.32M596.37 74.8V70.07M597.49 74.8V68.04M598.29 74.8V72.15M598.79 74.8V66.72M599.67 74.8V70.23M600.94 74.8V65.79M601.71 74.8V73.53M602.31 74.8V71.60M602.85 74.8V71.57M603.80 74.8V72.61M604.89 74.8V71.52M605.48 74.8V65.68M606.20 74.8V69.31M606.94 74.8V68.45M607.75 74.8V67.19M608.33 74.8V71.25M609.78 74.8V71.45M610.35 74.8V70.97M611.33 74.8V70.69M612.60 74.8V73.44M613.79 74.8V71.43M615.02 74.8V69.86M615.67 74.8V67.97M616.33 74.8V71.76M617.31 74.8V67.12M617.84 74.8V72.30M618.90 74.8V73.41M620.96 74.8V70.06M621.64 74.8V72.14M623.30 74.8V71.86M624.01 74.8V70.70M624.65 74.8V69.97M625.26 74.8V70.43M626.54 74.8V73.65M627.51 74.8V68.33M629.29 74.8V70.34M630.30 74.8V67.54M631.06 74.8V69.95M631.99 74.8V70.20M633.08 74.8V72.54M634.32 74.8V68.90M635.54 74.8V68.59M636.67 74.8V70.68M638.66 74.8V65.48M639.67 74.8V70.33M640.75 74.8V70.09M641.72 74.8V71.93M642.28 74.8V71.48M643.26 74.8V70.60M644.32 74.8V73.69M645.56 74.8V71.54M646.30 74.8V68.41M646.94 74.8V69.07M647.79 74.8V72.97M648.82 74.8V67.97M649.97 74.8V71.28M650.77 74.8V70.10M651.38 74.8V69.84M652.56 74.8V72.94M653.28 74.8V73.00M654.00 74.8V71.28M655.00 74.8V66.58M657.93 74.8V71.30M660.13 74.8V71.94M660.74 74.8V73.47M661.91 74.8V70.99M662.44 74.8V70.16M663.45 74.8V71.55M664.71 74.8V73.69M665.59 74.8V71.59M666.47 74.8V72.52M667.19 74.8V70.28M668.11 74.8V69.94M668.92 74.8V68.29M669.49 74.8V70.58M670.09 74.8V70.71M671.32 74.8V69.85M672.53 74.8V71.53M673.40 74.8V70.54M674.47 74.8V72.17M675.55 74.8V66.36M676.83 74.8V72.15M677.97 74.8V73.57M679.15 74.8V70.25M682.04 74.8V73.14M683.18 74.8V73.45M684.31 74.8V70.09M685.22 74.8V68.75M687.53 74.8V71.34M688.21 74.8V70.81M689.29 74.8V71.29M690.47 74.8V67.93M691.27 74.8V67.80M691.94 74.8V71.54M692.86 74.8V70.62M693.79 74.8V66.41M694.31 74.8V70.72M695.13 74.8V71.85M696.02 74.8V69.82M696.96 74.8V72.90M698.19 74.8V70.15M698.80 74.8V71.28M700.02 74.8V69.90M700.67 74.8V71.95M701.27 74.8V72.54M701.93 74.8V72.65M702.69 74.8V71.72M703.27 74.8V73.37M704.18 74.8V71.15M705.10 74.8V71.64M705.93 74.8V70.55M706.60 74.8V68.51M707.52 74.8V72.44M708.71 74.8V69.10M709.85 74.8V69.29M710.61 74.8V69.46M711.91 74.8V71.41M712.60 74.8V68.89M713.17 74.8V73.02M715.35 74.8V69.93M717.29 74.8V70.86M718.19 74.8V73.59M719.83 74.8V70.71M720.77 74.8V73.36M721.39 74.8V65.36M723.13 74.8V70.26M724.40 74.8V70.83M725.16 74.8V71.97M726.00 74.8V69.36M727.06 74.8V71.08M727.93 74.8V72.83M728.58 74.8V68.13M729.09 74.8V68.47M730.16 74.8V70.85M730.98 74.8V71.41M732.27 74.8V70.23M733.50 74.8V69.96M734.65 74.8V70.26M735.85 74.8V70.36M736.96 74.8V72.91M737.52 74.8V72.62M738.03 74.8V72.10M739.03 74.8V72.58M740.06 74.8V71.11M741.02 74.8V70.41M742.32 74.8V67.68M743.43 74.8V71.42M745.24 74.8V71.78M745.90 74.8V68.63M746.60 74.8V66.28M747.50 74.8V70.16M748.80 74.8V70.27M749.36 74.8V69.41M749.90 74.8V72.86M751.76 74.8V70.80M753.02 74.8V71.35M754.00 74.8V71.36M755.02 74.8V73.68M756.79 74.8V71.11M757.42 74.8V71.89M758.63 74.8V69.58M759.92 74.8V70.91M761.15 74.8V72.81M762.43 74.8V70.94M763.68 74.8V70.63M764.96 74.8V70.96M766.22 74.8V72.95M767.14 74.8V71.40M768.17 74.8V70.23M769.14 74.8V65.30M770.06 74.8V73.51M771.15 74.8V70.58M772.36 74.8V72.54M773.15 74.8V70.56M774.10 74.8V73.28M775.21 74.8V67.98M777.02 74.8V70.58M777.74 74.8V71.84M778.32 74.8V70.75M778.89 74.8V70.91M779.89 74.8V72.44M781.73 74.8V70.58" stroke="#e3242b" stroke-width="0.7" stroke-opacity="0.85" fill="none"/><path d="M744.10 74.8V43.6M754.70 74.8V54.9M748.10 74.8V57.8M731.00 74.8V57.8M740.20 74.8V60.6M584.60 74.8V60.6M591.20 74.8V62.8M634.70 74.8V62.8M652.60 74.8V62.8M669.80 74.8V62.8M673.00 74.8V62.8M679.00 74.8V62.8M721.70 74.8V62.8M725.00 74.8V62.8M761.30 74.8V62.8M766.00 74.8V64.9M644.70 74.8V65.6M694.80 74.8V65.6M600.00 74.8V67.7M612.00 74.8V67.7M620.00 74.8V67.7M660.00 74.8V67.7M705.00 74.8V67.7M712.00 74.8V67.7M735.00 74.8V66.3M750.50 74.8V64.9M775.00 74.8V67.7" stroke="#e3242b" stroke-width="0.95" stroke-opacity="0.8" fill="none"/><rect x="580.6" y="73.1" width="202.1" height="3.0" fill="#e3242b"/><rect x="580.6" y="73.3" width="4" height="4.8" fill="#e3242b"/><rect x="779.7" y="72.8" width="3" height="4" fill="#e3242b"/></g>
<g><text x="577.4" y="101.7" class="yl">0.47</text><line x1="578.8" y1="100.2" x2="580.6" y2="100.2" stroke="#5a72c0" stroke-width="0.6"/><text x="577.4" y="115.9" class="yl">0.37</text><line x1="578.8" y1="114.4" x2="580.6" y2="114.4" stroke="#5a72c0" stroke-width="0.6"/><text x="577.4" y="130.1" class="yl">0.27</text><line x1="578.8" y1="128.6" x2="580.6" y2="128.6" stroke="#5a72c0" stroke-width="0.6"/><text x="577.4" y="144.2" class="yl">0.17</text><line x1="578.8" y1="142.7" x2="580.6" y2="142.7" stroke="#5a72c0" stroke-width="0.6"/><text x="577.4" y="158.4" class="yl">0.07</text><line x1="578.8" y1="156.9" x2="580.6" y2="156.9" stroke="#5a72c0" stroke-width="0.6"/><text x="577.4" y="172.6" class="yl">-0.03</text><line x1="578.8" y1="171.1" x2="580.6" y2="171.1" stroke="#5a72c0" stroke-width="0.6"/><line x1="580.5" y1="95.7" x2="580.5" y2="171.1" stroke="#5a72c0" stroke-width="1"/><text x="580.6" y="174.7" class="xl">0</text><text x="598.9" y="174.7" class="xl">100000</text><text x="617.3" y="174.7" class="xl">200000</text><text x="635.6" y="174.7" class="xl">300000</text><text x="654.0" y="174.7" class="xl">400000</text><text x="672.3" y="174.7" class="xl">500000</text><text x="690.6" y="174.7" class="xl">600000</text><text x="709.0" y="174.7" class="xl">700000</text><text x="727.3" y="174.7" class="xl">800000</text><text x="745.7" y="174.7" class="xl">900000</text><text x="764.0" y="174.7" class="xl">1000000</text><polygon points="581.20,167.56 581.20,162.17 582.00,162.17 582.00,166.28 582.49,166.28 582.49,162.13 583.10,162.13 583.10,164.07 584.02,164.07 584.02,165.20 584.51,165.20 584.51,165.78 585.72,165.78 585.72,162.73 586.14,162.73 586.14,163.27 586.87,163.27 586.87,160.44 587.28,160.44 587.28,159.45 587.72,159.45 587.72,165.26 588.17,165.26 588.17,163.02 588.82,163.02 588.82,166.51 589.83,166.51 589.83,164.62 590.96,164.62 590.96,164.70 591.87,164.70 591.87,161.65 592.25,161.65 592.25,162.69 593.53,162.69 593.53,162.15 594.22,162.15 594.22,164.75 594.68,164.75 594.68,162.45 595.52,162.45 595.52,162.57 595.90,162.57 595.90,164.60 596.74,164.60 596.74,163.13 597.46,163.13 597.46,163.99 598.33,163.99 598.33,164.79 598.71,164.79 598.71,166.18 599.67,166.18 599.67,164.49 600.22,164.49 600.22,163.40 601.48,163.40 601.48,160.77 601.99,160.77 601.99,161.75 602.52,161.75 602.52,163.82 602.87,163.82 602.87,165.55 603.55,165.55 603.55,163.34 603.94,163.34 603.94,165.52 605.24,165.52 605.24,161.89 605.89,161.89 605.89,164.37 606.85,164.37 606.85,162.85 607.65,162.85 607.65,163.03 608.90,163.03 608.90,162.83 609.53,162.83 609.53,163.99 610.78,163.99 610.78,164.92 611.79,164.92 611.79,162.12 612.39,162.12 612.39,162.59 612.86,162.59 612.86,163.35 613.44,163.35 613.44,161.74 614.32,161.74 614.32,162.59 615.59,162.59 615.59,159.81 616.50,159.81 616.50,164.73 617.40,164.73 617.40,165.53 618.45,165.53 618.45,159.79 619.47,159.79 619.47,160.39 620.67,160.39 620.67,165.35 621.77,165.35 621.77,163.45 622.46,163.45 622.46,164.16 623.46,164.16 623.46,163.98 623.93,163.98 623.93,164.65 624.66,164.65 624.66,163.06 625.31,163.06 625.31,163.99 625.75,163.99 625.75,161.71 626.82,161.71 626.82,166.15 627.52,166.15 627.52,164.06 628.29,164.06 628.29,164.83 628.96,164.83 628.96,166.30 630.21,166.30 630.21,164.59 630.83,164.59 630.83,160.46 631.39,160.46 631.39,164.52 632.40,164.52 632.40,162.88 633.33,162.88 633.33,161.89 634.11,161.89 634.11,163.84 634.68,163.84 634.68,162.17 635.40,162.17 635.40,164.03 636.68,164.03 636.68,162.75 637.36,162.75 637.36,164.87 638.19,164.87 638.19,164.33 638.66,164.33 638.66,165.79 639.25,165.79 639.25,160.24 639.88,160.24 639.88,161.77 640.59,161.77 640.59,164.12 641.25,164.12 641.25,163.79 642.40,163.79 642.40,164.97 643.14,164.97 643.14,164.70 643.88,164.70 643.88,163.01 644.61,163.01 644.61,163.37 645.15,163.37 645.15,165.76 646.00,165.76 646.00,162.69 647.18,162.69 647.18,165.26 648.23,165.26 648.23,162.94 649.40,162.94 649.40,166.35 650.59,166.35 650.59,165.20 650.95,165.20 650.95,165.14 651.98,165.14 651.98,163.61 652.50,163.61 652.50,164.02 653.43,164.02 653.43,164.37 654.29,164.37 654.29,162.44 655.26,162.44 655.26,164.13 656.21,164.13 656.21,164.40 656.93,164.40 656.93,163.47 657.96,163.47 657.96,162.13 658.78,162.13 658.78,162.57 660.03,162.57 660.03,163.86 660.77,163.86 660.77,165.43 661.92,165.43 661.92,166.64 662.37,166.64 662.37,165.31 662.73,165.31 662.73,163.38 663.73,163.38 663.73,161.69 664.99,161.69 664.99,163.47 665.37,163.47 665.37,163.85 666.17,163.85 666.17,164.85 666.92,164.85 666.92,166.02 667.50,166.02 667.50,159.86 668.76,159.86 668.76,164.89 669.99,164.89 669.99,164.05 671.22,164.05 671.22,164.48 671.58,164.48 671.58,162.01 672.63,162.01 672.63,163.61 673.30,163.61 673.30,165.13 674.59,165.13 674.59,164.75 675.53,164.75 675.53,164.18 676.10,164.18 676.10,163.41 676.57,163.41 676.57,164.62 677.63,164.62 677.63,162.23 678.08,162.23 678.08,164.22 678.59,164.22 678.59,164.87 679.49,164.87 679.49,160.85 680.18,160.85 680.18,165.18 681.00,165.18 681.00,164.84 681.73,164.84 681.73,163.44 682.43,163.44 682.43,164.08 683.07,164.08 683.07,164.10 683.79,164.10 683.79,163.13 684.21,163.13 684.21,161.62 684.80,161.62 684.80,164.58 685.79,164.58 685.79,162.90 686.41,162.90 686.41,162.22 686.95,162.22 686.95,163.39 687.86,163.39 687.86,160.71 688.64,160.71 688.64,163.95 689.43,163.95 689.43,164.38 690.50,164.38 690.50,164.07 691.54,164.07 691.54,162.70 692.47,162.70 692.47,165.69 693.11,165.69 693.11,163.38 694.21,163.38 694.21,163.67 695.42,163.67 695.42,164.98 696.17,164.98 696.17,166.65 696.91,166.65 696.91,165.21 697.38,165.21 697.38,162.65 697.84,162.65 697.84,163.45 698.66,163.45 698.66,163.62 699.15,163.62 699.15,160.40 700.36,160.40 700.36,163.50 701.06,163.50 701.06,163.77 702.14,163.77 702.14,163.51 702.73,163.51 702.73,165.15 703.19,165.15 703.19,162.21 704.33,162.21 704.33,166.14 705.10,166.14 705.10,165.39 705.79,165.39 705.79,164.30 707.01,164.30 707.01,162.37 708.16,162.37 708.16,162.67 709.03,162.67 709.03,165.80 710.23,165.80 710.23,161.62 711.09,161.62 711.09,163.76 711.65,163.76 711.65,163.81 712.70,163.81 712.70,162.19 713.70,162.19 713.70,165.38 714.39,165.38 714.39,165.60 714.86,165.60 714.86,165.27 715.34,165.27 715.34,165.17 716.61,165.17 716.61,161.64 717.75,161.64 717.75,164.07 718.31,164.07 718.31,163.98 718.93,163.98 718.93,162.02 719.99,162.02 719.99,162.56 720.61,162.56 720.61,166.00 721.12,166.00 721.12,166.15 721.81,166.15 721.81,164.29 722.56,164.29 722.56,163.33 723.42,163.33 723.42,163.59 724.63,163.59 724.63,161.47 725.28,161.47 725.28,160.10 725.93,160.10 725.93,165.29 726.95,165.29 726.95,166.51 728.21,166.51 728.21,162.15 728.97,162.15 728.97,162.56 730.27,162.56 730.27,165.45 731.49,165.45 731.49,162.18 732.75,162.18 732.75,165.07 733.55,165.07 733.55,166.16 733.97,166.16 733.97,160.43 735.17,160.43 735.17,163.81 736.16,163.81 736.16,159.68 737.18,159.68 737.18,165.19 738.18,165.19 738.18,165.22 738.97,165.22 738.97,165.17 739.51,165.17 739.51,163.33 740.46,163.33 740.46,164.59 741.46,164.59 741.46,163.39 742.18,163.39 742.18,162.19 743.40,162.19 743.40,165.19 743.88,165.19 743.88,165.18 744.54,165.18 744.54,162.48 745.11,162.48 745.11,165.37 746.31,165.37 746.31,164.00 747.55,164.00 747.55,163.35 748.43,163.35 748.43,161.27 749.25,161.27 749.25,165.01 749.86,165.01 749.86,165.39 751.03,165.39 751.03,163.42 751.53,163.42 751.53,162.58 752.72,162.58 752.72,163.09 753.11,163.09 753.11,163.61 753.65,163.61 753.65,165.67 754.17,165.67 754.17,163.06 754.53,163.06 754.53,164.57 755.16,164.57 755.16,162.39 756.39,162.39 756.39,164.90 756.82,164.90 756.82,161.54 757.93,161.54 757.93,161.26 758.59,161.26 758.59,163.55 759.02,163.55 759.02,163.10 759.62,163.10 759.62,164.22 760.59,164.22 760.59,162.56 761.65,162.56 761.65,163.42 762.93,163.42 762.93,161.36 764.15,161.36 764.15,161.79 764.76,161.79 764.76,162.49 765.36,162.49 765.36,166.70 765.71,166.70 765.71,160.06 766.28,160.06 766.28,160.71 767.45,160.71 767.45,162.12 768.46,162.12 768.46,163.03 768.90,163.03 768.90,162.03 769.67,162.03 769.67,164.89 770.81,164.89 770.81,165.71 771.85,165.71 771.85,164.86 772.50,164.86 772.50,165.26 773.52,165.26 773.52,164.16 773.94,164.16 773.94,166.18 775.23,166.18 775.23,164.79 775.91,164.79 775.91,164.97 776.37,164.97 776.37,163.46 776.77,163.46 776.77,159.75 777.81,159.75 777.81,165.32 778.86,165.32 778.86,162.07 780.14,162.07 780.14,162.39 780.20,162.39 780.20,167.56" fill="#3c58a4" fill-opacity="0.75"/><polyline points="581.20,167.56 581.20,162.17 582.00,162.17 582.00,166.28 582.49,166.28 582.49,162.13 583.10,162.13 583.10,164.07 584.02,164.07 584.02,165.20 584.51,165.20 584.51,165.78 585.72,165.78 585.72,162.73 586.14,162.73 586.14,163.27 586.87,163.27 586.87,160.44 587.28,160.44 587.28,159.45 587.72,159.45 587.72,165.26 588.17,165.26 588.17,163.02 588.82,163.02 588.82,166.51 589.83,166.51 589.83,164.62 590.96,164.62 590.96,164.70 591.87,164.70 591.87,161.65 592.25,161.65 592.25,162.69 593.53,162.69 593.53,162.15 594.22,162.15 594.22,164.75 594.68,164.75 594.68,162.45 595.52,162.45 595.52,162.57 595.90,162.57 595.90,164.60 596.74,164.60 596.74,163.13 597.46,163.13 597.46,163.99 598.33,163.99 598.33,164.79 598.71,164.79 598.71,166.18 599.67,166.18 599.67,164.49 600.22,164.49 600.22,163.40 601.48,163.40 601.48,160.77 601.99,160.77 601.99,161.75 602.52,161.75 602.52,163.82 602.87,163.82 602.87,165.55 603.55,165.55 603.55,163.34 603.94,163.34 603.94,165.52 605.24,165.52 605.24,161.89 605.89,161.89 605.89,164.37 606.85,164.37 606.85,162.85 607.65,162.85 607.65,163.03 608.90,163.03 608.90,162.83 609.53,162.83 609.53,163.99 610.78,163.99 610.78,164.92 611.79,164.92 611.79,162.12 612.39,162.12 612.39,162.59 612.86,162.59 612.86,163.35 613.44,163.35 613.44,161.74 614.32,161.74 614.32,162.59 615.59,162.59 615.59,159.81 616.50,159.81 616.50,164.73 617.40,164.73 617.40,165.53 618.45,165.53 618.45,159.79 619.47,159.79 619.47,160.39 620.67,160.39 620.67,165.35 621.77,165.35 621.77,163.45 622.46,163.45 622.46,164.16 623.46,164.16 623.46,163.98 623.93,163.98 623.93,164.65 624.66,164.65 624.66,163.06 625.31,163.06 625.31,163.99 625.75,163.99 625.75,161.71 626.82,161.71 626.82,166.15 627.52,166.15 627.52,164.06 628.29,164.06 628.29,164.83 628.96,164.83 628.96,166.30 630.21,166.30 630.21,164.59 630.83,164.59 630.83,160.46 631.39,160.46 631.39,164.52 632.40,164.52 632.40,162.88 633.33,162.88 633.33,161.89 634.11,161.89 634.11,163.84 634.68,163.84 634.68,162.17 635.40,162.17 635.40,164.03 636.68,164.03 636.68,162.75 637.36,162.75 637.36,164.87 638.19,164.87 638.19,164.33 638.66,164.33 638.66,165.79 639.25,165.79 639.25,160.24 639.88,160.24 639.88,161.77 640.59,161.77 640.59,164.12 641.25,164.12 641.25,163.79 642.40,163.79 642.40,164.97 643.14,164.97 643.14,164.70 643.88,164.70 643.88,163.01 644.61,163.01 644.61,163.37 645.15,163.37 645.15,165.76 646.00,165.76 646.00,162.69 647.18,162.69 647.18,165.26 648.23,165.26 648.23,162.94 649.40,162.94 649.40,166.35 650.59,166.35 650.59,165.20 650.95,165.20 650.95,165.14 651.98,165.14 651.98,163.61 652.50,163.61 652.50,164.02 653.43,164.02 653.43,164.37 654.29,164.37 654.29,162.44 655.26,162.44 655.26,164.13 656.21,164.13 656.21,164.40 656.93,164.40 656.93,163.47 657.96,163.47 657.96,162.13 658.78,162.13 658.78,162.57 660.03,162.57 660.03,163.86 660.77,163.86 660.77,165.43 661.92,165.43 661.92,166.64 662.37,166.64 662.37,165.31 662.73,165.31 662.73,163.38 663.73,163.38 663.73,161.69 664.99,161.69 664.99,163.47 665.37,163.47 665.37,163.85 666.17,163.85 666.17,164.85 666.92,164.85 666.92,166.02 667.50,166.02 667.50,159.86 668.76,159.86 668.76,164.89 669.99,164.89 669.99,164.05 671.22,164.05 671.22,164.48 671.58,164.48 671.58,162.01 672.63,162.01 672.63,163.61 673.30,163.61 673.30,165.13 674.59,165.13 674.59,164.75 675.53,164.75 675.53,164.18 676.10,164.18 676.10,163.41 676.57,163.41 676.57,164.62 677.63,164.62 677.63,162.23 678.08,162.23 678.08,164.22 678.59,164.22 678.59,164.87 679.49,164.87 679.49,160.85 680.18,160.85 680.18,165.18 681.00,165.18 681.00,164.84 681.73,164.84 681.73,163.44 682.43,163.44 682.43,164.08 683.07,164.08 683.07,164.10 683.79,164.10 683.79,163.13 684.21,163.13 684.21,161.62 684.80,161.62 684.80,164.58 685.79,164.58 685.79,162.90 686.41,162.90 686.41,162.22 686.95,162.22 686.95,163.39 687.86,163.39 687.86,160.71 688.64,160.71 688.64,163.95 689.43,163.95 689.43,164.38 690.50,164.38 690.50,164.07 691.54,164.07 691.54,162.70 692.47,162.70 692.47,165.69 693.11,165.69 693.11,163.38 694.21,163.38 694.21,163.67 695.42,163.67 695.42,164.98 696.17,164.98 696.17,166.65 696.91,166.65 696.91,165.21 697.38,165.21 697.38,162.65 697.84,162.65 697.84,163.45 698.66,163.45 698.66,163.62 699.15,163.62 699.15,160.40 700.36,160.40 700.36,163.50 701.06,163.50 701.06,163.77 702.14,163.77 702.14,163.51 702.73,163.51 702.73,165.15 703.19,165.15 703.19,162.21 704.33,162.21 704.33,166.14 705.10,166.14 705.10,165.39 705.79,165.39 705.79,164.30 707.01,164.30 707.01,162.37 708.16,162.37 708.16,162.67 709.03,162.67 709.03,165.80 710.23,165.80 710.23,161.62 711.09,161.62 711.09,163.76 711.65,163.76 711.65,163.81 712.70,163.81 712.70,162.19 713.70,162.19 713.70,165.38 714.39,165.38 714.39,165.60 714.86,165.60 714.86,165.27 715.34,165.27 715.34,165.17 716.61,165.17 716.61,161.64 717.75,161.64 717.75,164.07 718.31,164.07 718.31,163.98 718.93,163.98 718.93,162.02 719.99,162.02 719.99,162.56 720.61,162.56 720.61,166.00 721.12,166.00 721.12,166.15 721.81,166.15 721.81,164.29 722.56,164.29 722.56,163.33 723.42,163.33 723.42,163.59 724.63,163.59 724.63,161.47 725.28,161.47 725.28,160.10 725.93,160.10 725.93,165.29 726.95,165.29 726.95,166.51 728.21,166.51 728.21,162.15 728.97,162.15 728.97,162.56 730.27,162.56 730.27,165.45 731.49,165.45 731.49,162.18 732.75,162.18 732.75,165.07 733.55,165.07 733.55,166.16 733.97,166.16 733.97,160.43 735.17,160.43 735.17,163.81 736.16,163.81 736.16,159.68 737.18,159.68 737.18,165.19 738.18,165.19 738.18,165.22 738.97,165.22 738.97,165.17 739.51,165.17 739.51,163.33 740.46,163.33 740.46,164.59 741.46,164.59 741.46,163.39 742.18,163.39 742.18,162.19 743.40,162.19 743.40,165.19 743.88,165.19 743.88,165.18 744.54,165.18 744.54,162.48 745.11,162.48 745.11,165.37 746.31,165.37 746.31,164.00 747.55,164.00 747.55,163.35 748.43,163.35 748.43,161.27 749.25,161.27 749.25,165.01 749.86,165.01 749.86,165.39 751.03,165.39 751.03,163.42 751.53,163.42 751.53,162.58 752.72,162.58 752.72,163.09 753.11,163.09 753.11,163.61 753.65,163.61 753.65,165.67 754.17,165.67 754.17,163.06 754.53,163.06 754.53,164.57 755.16,164.57 755.16,162.39 756.39,162.39 756.39,164.90 756.82,164.90 756.82,161.54 757.93,161.54 757.93,161.26 758.59,161.26 758.59,163.55 759.02,163.55 759.02,163.10 759.62,163.10 759.62,164.22 760.59,164.22 760.59,162.56 761.65,162.56 761.65,163.42 762.93,163.42 762.93,161.36 764.15,161.36 764.15,161.79 764.76,161.79 764.76,162.49 765.36,162.49 765.36,166.70 765.71,166.70 765.71,160.06 766.28,160.06 766.28,160.71 767.45,160.71 767.45,162.12 768.46,162.12 768.46,163.03 768.90,163.03 768.90,162.03 769.67,162.03 769.67,164.89 770.81,164.89 770.81,165.71 771.85,165.71 771.85,164.86 772.50,164.86 772.50,165.26 773.52,165.26 773.52,164.16 773.94,164.16 773.94,166.18 775.23,166.18 775.23,164.79 775.91,164.79 775.91,164.97 776.37,164.97 776.37,163.46 776.77,163.46 776.77,159.75 777.81,159.75 777.81,165.32 778.86,165.32 778.86,162.07 780.14,162.07 780.14,162.39 780.20,162.39 780.20,167.56" fill="none" stroke="#3c58a4" stroke-width="0.45" stroke-opacity="0.8"/><path d="M597.30 167.6V159.0M622.00 167.6V159.8M640.00 167.6V161.2" stroke="#3c58a4" stroke-width="0.95" stroke-opacity="0.8" fill="none"/><rect x="580.6" y="166.0" width="200.1" height="2.8" fill="#3c58a4"/><rect x="580.6" y="166.1" width="4" height="4.7" fill="#3c58a4"/><rect x="777.7" y="165.6" width="3" height="4" fill="#3c58a4"/></g>
<text x="166.0" y="224.3" class="tt">Chr IV</text>
<g><text x="14.3" y="209.0" class="yl">0.47</text><line x1="15.7" y1="207.5" x2="17.5" y2="207.5" stroke="#f07272" stroke-width="0.6"/><text x="14.3" y="223.1" class="yl">0.37</text><line x1="15.7" y1="221.6" x2="17.5" y2="221.6" stroke="#f07272" stroke-width="0.6"/><text x="14.3" y="237.2" class="yl">0.27</text><line x1="15.7" y1="235.7" x2="17.5" y2="235.7" stroke="#f07272" stroke-width="0.6"/><text x="14.3" y="251.4" class="yl">0.17</text><line x1="15.7" y1="249.9" x2="17.5" y2="249.9" stroke="#f07272" stroke-width="0.6"/><text x="14.3" y="265.5" class="yl">0.07</text><line x1="15.7" y1="264.0" x2="17.5" y2="264.0" stroke="#f07272" stroke-width="0.6"/><text x="14.3" y="279.6" class="yl">-0.03</text><line x1="15.7" y1="278.1" x2="17.5" y2="278.1" stroke="#f07272" stroke-width="0.6"/><line x1="17.5" y1="203.0" x2="17.5" y2="278.1" stroke="#f07272" stroke-width="1"/><text x="17.5" y="281.7" class="xl">0</text><text x="36.3" y="281.7" class="xl">100000</text><text x="55.1" y="281.7" class="xl">200000</text><text x="73.9" y="281.7" class="xl">300000</text><text x="92.7" y="281.7" class="xl">400000</text><text x="111.6" y="281.7" class="xl">500000</text><text x="130.4" y="281.7" class="xl">600000</text><text x="149.2" y="281.7" class="xl">700000</text><text x="168.0" y="281.7" class="xl">800000</text><text x="186.8" y="281.7" class="xl">900000</text><text x="205.6" y="281.7" class="xl">1000000</text><text x="224.4" y="281.7" class="xl">1100000</text><text x="243.2" y="281.7" class="xl">1200000</text><text x="262.1" y="281.7" class="xl">1300000</text><text x="280.9" y="281.7" class="xl">1400000</text><text x="299.7" y="281.7" class="xl">1500000</text><polygon points="18.10,274.57 18.10,270.20 18.81,270.20 18.81,273.05 19.99,273.05 19.99,272.20 20.60,272.20 20.60,271.26 21.21,271.26 21.21,269.85 21.94,269.85 21.94,274.57 22.93,274.57 22.93,271.96 23.65,271.96 23.65,269.88 24.80,269.88 24.80,267.92 25.90,267.92 25.90,268.52 26.60,268.52 26.60,270.78 27.70,270.78 27.70,271.04 28.50,271.04 28.50,269.94 29.09,269.94 29.09,270.49 30.38,270.49 30.38,272.29 31.48,272.29 31.48,273.10 32.33,273.10 32.33,272.66 33.25,272.66 33.25,271.45 34.23,271.45 34.23,273.04 35.13,273.04 35.13,271.58 35.78,271.58 35.78,268.72 36.80,268.72 36.80,269.40 37.88,269.40 37.88,269.85 38.49,269.85 38.49,272.74 39.50,272.74 39.50,267.90 40.70,267.90 40.70,268.75 41.36,268.75 41.36,271.79 42.43,271.79 42.43,271.27 43.42,271.27 43.42,270.41 44.41,270.41 44.41,270.97 45.20,270.97 45.20,272.28 45.93,272.28 45.93,273.32 46.52,273.32 46.52,270.52 47.54,270.52 47.54,270.97 48.07,270.97 48.07,274.57 48.64,274.57 48.64,272.93 49.94,272.93 49.94,271.57 50.66,271.57 50.66,269.86 51.53,269.86 51.53,272.60 52.04,272.60 52.04,270.67 53.31,270.67 53.31,273.39 54.35,273.39 54.35,268.03 55.25,268.03 55.25,269.83 55.96,269.83 55.96,270.94 56.66,270.94 56.66,273.10 57.36,273.10 57.36,274.57 58.14,274.57 58.14,274.57 58.96,274.57 58.96,271.74 60.06,271.74 60.06,272.63 61.18,272.63 61.18,272.95 62.13,272.95 62.13,271.98 62.98,271.98 62.98,269.06 63.56,269.06 63.56,271.67 64.31,271.67 64.31,270.75 64.91,270.75 64.91,267.40 66.11,267.40 66.11,272.08 67.04,272.08 67.04,268.41 67.80,268.41 67.80,274.57 68.40,274.57 68.40,269.19 69.10,269.19 69.10,270.97 69.98,270.97 69.98,272.22 71.12,272.22 71.12,268.46 72.15,268.46 72.15,270.45 73.39,270.45 73.39,267.71 74.39,267.71 74.39,272.54 74.98,272.54 74.98,271.07 76.13,271.07 76.13,273.29 77.40,273.29 77.40,274.57 77.94,274.57 77.94,274.57 79.02,274.57 79.02,267.51 80.10,267.51 80.10,270.34 81.24,270.34 81.24,271.09 82.41,271.09 82.41,274.57 83.52,274.57 83.52,266.31 84.27,266.31 84.27,270.73 84.98,270.73 84.98,274.57 85.48,274.57 85.48,271.85 86.19,271.85 86.19,267.80 86.89,267.80 86.89,265.57 87.72,265.57 87.72,272.66 88.61,272.66 88.61,271.31 89.83,271.31 89.83,271.32 90.63,271.32 90.63,274.57 91.59,274.57 91.59,273.27 92.74,273.27 92.74,271.94 93.72,271.94 93.72,269.86 94.61,269.86 94.61,270.28 95.29,270.28 95.29,269.44 96.13,269.44 96.13,272.02 97.32,272.02 97.32,274.57 97.94,274.57 97.94,268.98 98.84,268.98 98.84,271.20 99.73,271.20 99.73,274.57 100.65,274.57 100.65,270.98 101.51,270.98 101.51,274.57 102.19,274.57 102.19,269.68 103.25,269.68 103.25,274.57 104.34,274.57 104.34,267.87 105.57,267.87 105.57,270.12 106.74,270.12 106.74,271.16 107.77,271.16 107.77,270.40 108.38,270.40 108.38,270.37 108.93,270.37 108.93,269.77 109.83,269.77 109.83,270.62 110.64,270.62 110.64,269.64 111.60,269.64 111.60,268.82 112.45,268.82 112.45,268.14 113.49,268.14 113.49,274.57 114.29,274.57 114.29,269.91 115.17,269.91 115.17,266.37 116.30,266.37 116.30,270.05 117.13,270.05 117.13,273.19 117.69,273.19 117.69,271.80 118.45,271.80 118.45,268.90 119.12,268.90 119.12,267.28 119.78,267.28 119.78,273.33 120.37,273.33 120.37,273.17 121.18,273.17 121.18,271.63 121.69,271.63 121.69,269.75 122.38,269.75 122.38,270.16 123.41,270.16 123.41,269.18 124.54,269.18 124.54,270.57 125.09,270.57 125.09,271.35 126.00,271.35 126.00,270.79 127.07,270.79 127.07,272.46 127.77,272.46 127.77,268.93 128.71,268.93 128.71,274.57 129.78,274.57 129.78,271.99 130.80,271.99 130.80,272.07 132.07,272.07 132.07,273.27 132.75,273.27 132.75,274.57 133.60,274.57 133.60,270.80 134.67,270.80 134.67,272.88 135.74,272.88 135.74,274.57 136.53,274.57 136.53,274.57 137.74,274.57 137.74,269.90 138.32,269.90 138.32,271.43 139.17,271.43 139.17,271.20 139.68,271.20 139.68,269.45 140.30,269.45 140.30,270.06 141.09,270.06 141.09,270.47 141.67,270.47 141.67,267.91 142.68,267.91 142.68,270.63 143.66,270.63 143.66,270.35 144.60,270.35 144.60,274.57 145.40,274.57 145.40,272.71 146.53,272.71 146.53,270.84 147.26,270.84 147.26,270.48 148.43,270.48 148.43,270.53 149.55,270.53 149.55,270.07 150.65,270.07 150.65,270.49 151.87,270.49 151.87,272.70 152.52,272.70 152.52,269.40 153.42,269.40 153.42,270.71 154.20,270.71 154.20,272.13 155.37,272.13 155.37,271.62 156.22,271.62 156.22,270.09 157.04,270.09 157.04,271.66 157.99,271.66 157.99,270.11 159.05,270.11 159.05,269.77 160.04,269.77 160.04,269.32 160.65,269.32 160.65,270.73 161.92,270.73 161.92,270.60 163.17,270.60 163.17,270.30 163.72,270.30 163.72,274.57 164.41,274.57 164.41,267.77 165.25,267.77 165.25,274.57 166.12,274.57 166.12,272.20 167.28,272.20 167.28,267.13 168.18,267.13 168.18,271.71 169.32,271.71 169.32,272.26 170.27,272.26 170.27,270.63 171.54,270.63 171.54,272.65 172.52,272.65 172.52,271.60 173.11,271.60 173.11,272.49 174.04,272.49 174.04,274.57 174.58,274.57 174.58,269.74 175.58,269.74 175.58,267.15 176.62,267.15 176.62,271.35 177.63,271.35 177.63,272.55 178.24,272.55 178.24,270.45 179.37,270.45 179.37,270.59 179.93,270.59 179.93,271.19 180.57,271.19 180.57,270.05 181.31,270.05 181.31,271.21 181.90,271.21 181.90,271.15 182.93,271.15 182.93,271.25 184.01,271.25 184.01,269.92 184.73,269.92 184.73,274.57 185.71,274.57 185.71,270.79 186.84,270.79 186.84,270.18 187.53,270.18 187.53,271.95 188.25,271.95 188.25,274.57 189.10,274.57 189.10,274.57 190.31,274.57 190.31,270.25 191.11,270.25 191.11,272.48 192.32,272.48 192.32,270.13 193.53,270.13 193.53,269.58 194.40,269.58 194.40,270.97 195.17,270.97 195.17,269.81 196.38,269.81 196.38,269.60 197.58,269.60 197.58,271.58 198.21,271.58 198.21,271.10 199.17,271.10 199.17,271.30 200.32,271.30 200.32,270.88 200.98,270.88 200.98,271.79 201.52,271.79 201.52,270.78 202.39,270.78 202.39,271.27 202.95,271.27 202.95,270.22 203.55,270.22 203.55,269.45 204.06,269.45 204.06,272.09 204.69,272.09 204.69,270.78 205.78,270.78 205.78,271.81 207.01,271.81 207.01,272.17 207.55,272.17 207.55,271.18 208.67,271.18 208.67,271.28 209.86,271.28 209.86,267.37 210.44,267.37 210.44,271.93 211.12,271.93 211.12,268.24 212.28,268.24 212.28,271.32 212.79,271.32 212.79,267.34 214.05,267.34 214.05,273.26 215.13,273.26 215.13,271.08 216.33,271.08 216.33,274.57 217.28,274.57 217.28,269.79 218.12,269.79 218.12,269.28 218.72,269.28 218.72,273.15 219.38,273.15 219.38,270.85 219.95,270.85 219.95,271.47 220.61,271.47 220.61,266.32 221.65,266.32 221.65,270.92 222.49,270.92 222.49,272.94 223.32,272.94 223.32,271.59 224.37,271.59 224.37,268.79 224.99,268.79 224.99,270.33 226.15,270.33 226.15,270.81 226.94,270.81 226.94,269.27 227.85,269.27 227.85,267.65 228.52,267.65 228.52,269.28 229.67,269.28 229.67,272.00 230.75,272.00 230.75,270.57 231.56,270.57 231.56,269.80 232.23,269.80 232.23,270.92 233.09,270.92 233.09,272.02 233.74,272.02 233.74,271.10 235.01,271.10 235.01,268.97 235.78,268.97 235.78,273.29 236.43,273.29 236.43,272.34 237.04,272.34 237.04,272.94 238.29,272.94 238.29,274.57 239.26,274.57 239.26,270.70 239.83,270.70 239.83,271.70 240.61,271.70 240.61,273.04 241.32,273.04 241.32,271.71 241.87,271.71 241.87,273.10 242.70,273.10 242.70,265.06 243.81,265.06 243.81,270.77 244.58,270.77 244.58,270.36 245.14,270.36 245.14,270.74 245.96,270.74 245.96,268.36 246.70,268.36 246.70,268.54 247.40,268.54 247.40,269.81 248.38,269.81 248.38,270.92 249.47,270.92 249.47,268.30 250.59,268.30 250.59,270.81 251.78,270.81 251.78,273.18 252.54,273.18 252.54,271.56 253.78,271.56 253.78,269.92 254.44,269.92 254.44,271.08 255.63,271.08 255.63,268.72 256.47,268.72 256.47,274.57 257.49,274.57 257.49,269.69 258.37,269.69 258.37,271.00 259.64,271.00 259.64,269.34 260.84,269.34 260.84,271.06 261.68,271.06 261.68,271.27 262.37,271.27 262.37,274.57 263.31,274.57 263.31,267.50 264.18,267.50 264.18,267.68 264.77,267.68 264.77,272.94 265.67,272.94 265.67,270.74 266.76,270.74 266.76,274.57 267.81,274.57 267.81,267.68 268.63,267.68 268.63,269.75 269.51,269.75 269.51,273.26 270.43,273.26 270.43,272.55 271.47,272.55 271.47,268.94 272.00,268.94 272.00,270.94 273.01,270.94 273.01,271.01 273.68,271.01 273.68,273.37 274.24,273.37 274.24,271.88 275.46,271.88 275.46,268.56 276.45,268.56 276.45,274.57 277.16,274.57 277.16,270.21 278.15,270.21 278.15,274.57 279.38,274.57 279.38,269.62 280.40,269.62 280.40,269.44 281.10,269.44 281.10,272.56 282.07,272.56 282.07,270.96 282.71,270.96 282.71,271.25 283.58,271.25 283.58,269.51 284.21,269.51 284.21,272.37 285.39,272.37 285.39,271.75 286.01,271.75 286.01,274.57 286.78,274.57 286.78,270.59 287.73,270.59 287.73,270.92 288.99,270.92 288.99,270.06 289.65,270.06 289.65,271.18 290.56,271.18 290.56,266.02 291.73,266.02 291.73,273.17 292.80,273.17 292.80,269.67 293.35,269.67 293.35,269.80 294.40,269.80 294.40,271.16 295.23,271.16 295.23,270.56 296.39,270.56 296.39,269.40 297.52,269.40 297.52,270.13 298.19,270.13 298.19,270.25 298.89,270.25 298.89,271.61 299.62,271.61 299.62,269.80 300.45,269.80 300.45,270.25 301.36,270.25 301.36,271.03 302.38,271.03 302.38,267.95 302.98,267.95 302.98,271.04 304.00,271.04 304.00,270.69 304.64,270.69 304.64,268.71 305.20,268.71 305.20,274.57" fill="#e3242b" fill-opacity="0.16"/><path d="M18.10 274.6V270.20M18.81 274.6V273.05M19.99 274.6V272.20M20.60 274.6V271.26M21.21 274.6V269.85M22.93 274.6V271.96M23.65 274.6V269.88M24.80 274.6V267.92M25.90 274.6V268.52M26.60 274.6V270.78M27.70 274.6V271.04M28.50 274.6V269.94M29.09 274.6V270.49M30.38 274.6V272.29M31.48 274.6V273.10M32.33 274.6V272.66M33.25 274.6V271.45M34.23 274.6V273.04M35.13 274.6V271.58M35.78 274.6V268.72M36.80 274.6V269.40M37.88 274.6V269.85M38.49 274.6V272.74M39.50 274.6V267.90M40.70 274.6V268.75M41.36 274.6V271.79M42.43 274.6V271.27M43.42 274.6V270.41M44.41 274.6V270.97M45.20 274.6V272.28M45.93 274.6V273.32M46.52 274.6V270.52M47.54 274.6V270.97M48.64 274.6V272.93M49.94 274.6V271.57M50.66 274.6V269.86M51.53 274.6V272.60M52.04 274.6V270.67M53.31 274.6V273.39M54.35 274.6V268.03M55.25 274.6V269.83M55.96 274.6V270.94M56.66 274.6V273.10M58.96 274.6V271.74M60.06 274.6V272.63M61.18 274.6V272.95M62.13 274.6V271.98M62.98 274.6V269.06M63.56 274.6V271.67M64.31 274.6V270.75M64.91 274.6V267.40M66.11 274.6V272.08M67.04 274.6V268.41M68.40 274.6V269.19M69.10 274.6V270.97M69.98 274.6V272.22M71.12 274.6V268.46M72.15 274.6V270.45M73.39 274.6V267.71M74.39 274.6V272.54M74.98 274.6V271.07M76.13 274.6V273.29M79.02 274.6V267.51M80.10 274.6V270.34M81.24 274.6V271.09M83.52 274.6V266.31M84.27 274.6V270.73M85.48 274.6V271.85M86.19 274.6V267.80M86.89 274.6V265.57M87.72 274.6V272.66M88.61 274.6V271.31M89.83 274.6V271.32M91.59 274.6V273.27M92.74 274.6V271.94M93.72 274.6V269.86M94.61 274.6V270.28M95.29 274.6V269.44M96.13 274.6V272.02M97.94 274.6V268.98M98.84 274.6V271.20M100.65 274.6V270.98M102.19 274.6V269.68M104.34 274.6V267.87M105.57 274.6V270.12M106.74 274.6V271.16M107.77 274.6V270.40M108.38 274.6V270.37M108.93 274.6V269.77M109.83 274.6V270.62M110.64 274.6V269.64M111.60 274.6V268.82M112.45 274.6V268.14M114.29 274.6V269.91M115.17 274.6V266.37M116.30 274.6V270.05M117.13 274.6V273.19M117.69 274.6V271.80M118.45 274.6V268.90M119.12 274.6V267.28M119.78 274.6V273.33M120.37 274.6V273.17M121.18 274.6V271.63M121.69 274.6V269.75M122.38 274.6V270.16M123.41 274.6V269.18M124.54 274.6V270.57M125.09 274.6V271.35M126.00 274.6V270.79M127.07 274.6V272.46M127.77 274.6V268.93M129.78 274.6V271.99M130.80 274.6V272.07M132.07 274.6V273.27M133.60 274.6V270.80M134.67 274.6V272.88M137.74 274.6V269.90M138.32 274.6V271.43M139.17 274.6V271.20M139.68 274.6V269.45M140.30 274.6V270.06M141.09 274.6V270.47M141.67 274.6V267.91M142.68 274.6V270.63M143.66 274.6V270.35M145.40 274.6V272.71M146.53 274.6V270.84M147.26 274.6V270.48M148.43 274.6V270.53M149.55 274.6V270.07M150.65 274.6V270.49M151.87 274.6V272.70M152.52 274.6V269.40M153.42 274.6V270.71M154.20 274.6V272.13M155.37 274.6V271.62M156.22 274.6V270.09M157.04 274.6V271.66M157.99 274.6V270.11M159.05 274.6V269.77M160.04 274.6V269.32M160.65 274.6V270.73M161.92 274.6V270.60M163.17 274.6V270.30M164.41 274.6V267.77M166.12 274.6V272.20M167.28 274.6V267.13M168.18 274.6V271.71M169.32 274.6V272.26M170.27 274.6V270.63M171.54 274.6V272.65M172.52 274.6V271.60M173.11 274.6V272.49M174.58 274.6V269.74M175.58 274.6V267.15M176.62 274.6V271.35M177.63 274.6V272.55M178.24 274.6V270.45M179.37 274.6V270.59M179.93 274.6V271.19M180.57 274.6V270.05M181.31 274.6V271.21M181.90 274.6V271.15M182.93 274.6V271.25M184.01 274.6V269.92M185.71 274.6V270.79M186.84 274.6V270.18M187.53 274.6V271.95M190.31 274.6V270.25M191.11 274.6V272.48M192.32 274.6V270.13M193.53 274.6V269.58M194.40 274.6V270.97M195.17 274.6V269.81M196.38 274.6V269.60M197.58 274.6V271.58M198.21 274.6V271.10M199.17 274.6V271.30M200.32 274.6V270.88M200.98 274.6V271.79M201.52 274.6V270.78M202.39 274.6V271.27M202.95 274.6V270.22M203.55 274.6V269.45M204.06 274.6V272.09M204.69 274.6V270.78M205.78 274.6V271.81M207.01 274.6V272.17M207.55 274.6V271.18M208.67 274.6V271.28M209.86 274.6V267.37M210.44 274.6V271.93M211.12 274.6V268.24M212.28 274.6V271.32M212.79 274.6V267.34M214.05 274.6V273.26M215.13 274.6V271.08M217.28 274.6V269.79M218.12 274.6V269.28M218.72 274.6V273.15M219.38 274.6V270.85M219.95 274.6V271.47M220.61 274.6V266.32M221.65 274.6V270.92M222.49 274.6V272.94M223.32 274.6V271.59M224.37 274.6V268.79M224.99 274.6V270.33M226.15 274.6V270.81M226.94 274.6V269.27M227.85 274.6V267.65M228.52 274.6V269.28M229.67 274.6V272.00M230.75 274.6V270.57M231.56 274.6V269.80M232.23 274.6V270.92M233.09 274.6V272.02M233.74 274.6V271.10M235.01 274.6V268.97M235.78 274.6V273.29M236.43 274.6V272.34M237.04 274.6V272.94M239.26 274.6V270.70M239.83 274.6V271.70M240.61 274.6V273.04M241.32 274.6V271.71M241.87 274.6V273.10M242.70 274.6V265.06M243.81 274.6V270.77M244.58 274.6V270.36M245.14 274.6V270.74M245.96 274.6V268.36M246.70 274.6V268.54M247.40 274.6V269.81M248.38 274.6V270.92M249.47 274.6V268.30M250.59 274.6V270.81M251.78 274.6V273.18M252.54 274.6V271.56M253.78 274.6V269.92M254.44 274.6V271.08M255.63 274.6V268.72M257.49 274.6V269.69M258.37 274.6V271.00M259.64 274.6V269.34M260.84 274.6V271.06M261.68 274.6V271.27M263.31 274.6V267.50M264.18 274.6V267.68M264.77 274.6V272.94M265.67 274.6V270.74M267.81 274.6V267.68M268.63 274.6V269.75M269.51 274.6V273.26M270.43 274.6V272.55M271.47 274.6V268.94M272.00 274.6V270.94M273.01 274.6V271.01M273.68 274.6V273.37M274.24 274.6V271.88M275.46 274.6V268.56M277.16 274.6V270.21M279.38 274.6V269.62M280.40 274.6V269.44M281.10 274.6V272.56M282.07 274.6V270.96M282.71 274.6V271.25M283.58 274.6V269.51M284.21 274.6V272.37M285.39 274.6V271.75M286.78 274.6V270.59M287.73 274.6V270.92M288.99 274.6V270.06M289.65 274.6V271.18M290.56 274.6V266.02M291.73 274.6V273.17M292.80 274.6V269.67M293.35 274.6V269.80M294.40 274.6V271.16M295.23 274.6V270.56M296.39 274.6V269.40M297.52 274.6V270.13M298.19 274.6V270.25M298.89 274.6V271.61M299.62 274.6V269.80M300.45 274.6V270.25M301.36 274.6V271.03M302.38 274.6V267.95M302.98 274.6V271.04M304.00 274.6V270.69M304.64 274.6V268.71" stroke="#e3242b" stroke-width="0.7" stroke-opacity="0.85" fill="none"/><path d="M123.90 274.6V247.2M130.60 274.6V250.0M59.50 274.6V255.4M80.30 274.6V258.2M104.80 274.6V258.2M140.50 274.6V258.2M42.30 274.6V260.5M116.20 274.6V260.5M122.50 274.6V260.5M150.30 274.6V263.3M92.70 274.6V266.1M109.50 274.6V266.1M161.00 274.6V266.1M62.70 274.6V266.1M298.50 274.6V227.4M201.50 274.6V255.4M250.40 274.6V255.4M237.40 274.6V258.2M281.90 274.6V258.2M209.10 274.6V263.6M215.80 274.6V263.6M258.40 274.6V263.6M189.60 274.6V266.1M177.20 274.6V266.1M198.20 274.6V266.1M285.20 274.6V266.1M294.70 274.6V266.1M25.00 274.6V267.5M33.00 274.6V267.5M50.00 274.6V267.5M70.00 274.6V267.5M86.00 274.6V267.5M98.00 274.6V267.5M135.00 274.6V267.5M145.00 274.6V267.5M170.00 274.6V267.5M225.00 274.6V267.5M265.00 274.6V267.5M272.00 274.6V267.5" stroke="#e3242b" stroke-width="0.95" stroke-opacity="0.8" fill="none"/><rect x="17.5" y="272.9" width="288.2" height="3.0" fill="#e3242b"/><rect x="17.5" y="273.1" width="4" height="4.7" fill="#e3242b"/><rect x="302.7" y="272.6" width="3" height="4" fill="#e3242b"/></g>
<g><text x="14.3" y="298.5" class="yl">0.47</text><line x1="15.7" y1="297.0" x2="17.5" y2="297.0" stroke="#5a72c0" stroke-width="0.6"/><text x="14.3" y="312.6" class="yl">0.37</text><line x1="15.7" y1="311.1" x2="17.5" y2="311.1" stroke="#5a72c0" stroke-width="0.6"/><text x="14.3" y="326.7" class="yl">0.27</text><line x1="15.7" y1="325.2" x2="17.5" y2="325.2" stroke="#5a72c0" stroke-width="0.6"/><text x="14.3" y="340.8" class="yl">0.17</text><line x1="15.7" y1="339.3" x2="17.5" y2="339.3" stroke="#5a72c0" stroke-width="0.6"/><text x="14.3" y="354.9" class="yl">0.07</text><line x1="15.7" y1="353.4" x2="17.5" y2="353.4" stroke="#5a72c0" stroke-width="0.6"/><text x="14.3" y="369.0" class="yl">-0.03</text><line x1="15.7" y1="367.5" x2="17.5" y2="367.5" stroke="#5a72c0" stroke-width="0.6"/><line x1="17.5" y1="292.5" x2="17.5" y2="367.5" stroke="#5a72c0" stroke-width="1"/><text x="17.5" y="371.1" class="xl">0</text><text x="36.0" y="371.1" class="xl">100000</text><text x="54.5" y="371.1" class="xl">200000</text><text x="73.0" y="371.1" class="xl">300000</text><text x="91.5" y="371.1" class="xl">400000</text><text x="110.0" y="371.1" class="xl">500000</text><text x="128.5" y="371.1" class="xl">600000</text><text x="146.9" y="371.1" class="xl">700000</text><text x="165.4" y="371.1" class="xl">800000</text><text x="183.9" y="371.1" class="xl">900000</text><text x="202.4" y="371.1" class="xl">1000000</text><text x="220.9" y="371.1" class="xl">1100000</text><text x="239.4" y="371.1" class="xl">1200000</text><text x="257.9" y="371.1" class="xl">1300000</text><text x="276.4" y="371.1" class="xl">1400000</text><text x="294.9" y="371.1" class="xl">1500000</text><polygon points="18.10,363.98 18.10,358.64 18.55,358.64 18.55,361.42 19.79,361.42 19.79,359.23 20.84,359.23 20.84,360.25 21.84,360.25 21.84,359.97 22.30,359.97 22.30,360.19 22.99,360.19 22.99,360.76 23.94,360.76 23.94,360.53 24.93,360.53 24.93,361.81 25.39,361.81 25.39,357.14 25.94,357.14 25.94,360.63 27.23,360.63 27.23,359.56 28.41,359.56 28.41,359.44 29.32,359.44 29.32,358.88 29.76,358.88 29.76,361.51 30.29,361.51 30.29,361.77 31.40,361.77 31.40,362.81 32.53,362.81 32.53,359.55 32.90,359.55 32.90,362.59 33.75,362.59 33.75,360.97 34.75,360.97 34.75,360.66 35.56,360.66 35.56,361.47 36.00,361.47 36.00,357.90 37.18,357.90 37.18,358.78 37.66,358.78 37.66,358.15 38.03,358.15 38.03,360.72 38.78,360.72 38.78,361.32 40.02,361.32 40.02,358.95 40.55,358.95 40.55,361.92 41.15,361.92 41.15,356.73 41.79,356.73 41.79,357.24 42.41,357.24 42.41,362.96 43.00,362.96 43.00,360.03 43.54,360.03 43.54,360.64 44.14,360.64 44.14,360.28 45.36,360.28 45.36,360.66 46.06,360.66 46.06,358.89 47.31,358.89 47.31,361.13 48.46,361.13 48.46,360.26 49.72,360.26 49.72,356.67 50.37,356.67 50.37,357.00 50.95,357.00 50.95,361.77 51.63,361.77 51.63,359.51 52.17,359.51 52.17,360.77 52.76,360.77 52.76,359.31 53.47,359.31 53.47,361.71 54.17,361.71 54.17,360.36 54.74,360.36 54.74,359.37 55.22,359.37 55.22,359.15 56.19,359.15 56.19,358.80 57.43,358.80 57.43,361.40 57.82,361.40 57.82,356.10 58.62,356.10 58.62,358.16 59.02,358.16 59.02,362.15 59.89,362.15 59.89,356.08 60.64,356.08 60.64,357.90 61.78,357.90 61.78,361.70 62.89,361.70 62.89,361.99 63.60,361.99 63.60,358.91 64.37,358.91 64.37,359.81 65.23,359.81 65.23,358.65 65.81,358.65 65.81,357.52 66.16,357.52 66.16,356.02 67.45,356.02 67.45,361.00 68.61,361.00 68.61,357.99 69.29,357.99 69.29,356.23 69.77,356.23 69.77,356.87 70.79,356.87 70.79,359.97 71.94,359.97 71.94,360.70 72.35,360.70 72.35,360.47 73.46,360.47 73.46,361.55 74.73,361.55 74.73,358.94 75.11,358.94 75.11,361.73 75.82,361.73 75.82,361.43 76.38,361.43 76.38,361.80 77.55,361.80 77.55,361.94 78.72,361.94 78.72,358.65 79.72,358.65 79.72,361.49 80.80,361.49 80.80,358.55 81.86,358.55 81.86,360.44 82.38,360.44 82.38,360.93 83.10,360.93 83.10,360.88 84.17,360.88 84.17,361.60 85.30,361.60 85.30,360.07 86.26,360.07 86.26,356.85 86.87,356.85 86.87,360.46 87.37,360.46 87.37,359.12 88.18,359.12 88.18,360.20 89.44,360.20 89.44,361.85 89.81,361.85 89.81,359.96 90.29,359.96 90.29,360.93 90.93,360.93 90.93,361.21 91.85,361.21 91.85,361.21 93.02,361.21 93.02,357.08 94.14,357.08 94.14,359.97 94.51,359.97 94.51,360.21 95.02,360.21 95.02,359.36 95.48,359.36 95.48,361.75 96.20,361.75 96.20,360.26 97.28,360.26 97.28,362.20 98.36,362.20 98.36,360.67 99.49,360.67 99.49,360.30 100.03,360.30 100.03,361.70 100.74,361.70 100.74,358.34 101.91,358.34 101.91,359.59 102.34,359.59 102.34,359.97 103.22,359.97 103.22,360.94 103.67,360.94 103.67,362.38 104.39,362.38 104.39,359.97 105.66,359.97 105.66,360.98 106.33,360.98 106.33,358.67 107.60,358.67 107.60,361.97 107.99,361.97 107.99,361.45 108.40,361.45 108.40,360.24 108.85,360.24 108.85,357.09 110.08,357.09 110.08,357.10 110.60,357.10 110.60,358.80 111.28,358.80 111.28,358.14 112.53,358.14 112.53,356.83 113.03,356.83 113.03,361.45 114.04,361.45 114.04,359.83 114.67,359.83 114.67,360.57 115.13,360.57 115.13,361.43 115.68,361.43 115.68,362.29 116.25,362.29 116.25,359.97 117.23,359.97 117.23,359.82 118.11,359.82 118.11,358.36 118.67,358.36 118.67,359.03 119.03,359.03 119.03,357.03 119.85,357.03 119.85,362.13 120.43,362.13 120.43,358.66 121.22,358.66 121.22,355.94 122.50,355.94 122.50,357.36 123.33,357.36 123.33,359.70 123.79,359.70 123.79,361.04 125.07,361.04 125.07,360.79 125.69,360.79 125.69,362.74 126.81,362.74 126.81,357.06 127.39,357.06 127.39,357.18 128.16,357.18 128.16,361.47 128.88,361.47 128.88,360.85 129.90,360.85 129.90,358.49 130.79,358.49 130.79,355.92 131.60,355.92 131.60,358.98 132.84,358.98 132.84,358.94 133.53,358.94 133.53,361.18 134.59,361.18 134.59,359.25 134.96,359.25 134.96,358.34 135.78,358.34 135.78,359.35 137.02,359.35 137.02,362.66 138.26,362.66 138.26,358.74 139.48,358.74 139.48,361.91 140.66,361.91 140.66,357.96 141.29,357.96 141.29,361.54 141.95,361.54 141.95,361.81 143.13,361.81 143.13,362.88 144.43,362.88 144.43,359.18 145.16,359.18 145.16,358.70 146.06,358.70 146.06,362.52 147.20,362.52 147.20,359.70 147.57,359.70 147.57,360.60 148.01,360.60 148.01,359.57 148.37,359.57 148.37,362.31 149.03,362.31 149.03,359.20 150.17,359.20 150.17,356.21 150.75,356.21 150.75,360.02 152.02,360.02 152.02,358.88 153.02,358.88 153.02,361.39 154.11,361.39 154.11,362.37 154.92,362.37 154.92,360.21 155.58,360.21 155.58,359.92 156.43,359.92 156.43,360.77 157.67,360.77 157.67,359.77 158.02,359.77 158.02,357.99 158.86,357.99 158.86,363.04 159.22,363.04 159.22,356.34 160.29,356.34 160.29,361.14 161.22,361.14 161.22,361.73 161.69,361.73 161.69,361.15 162.81,361.15 162.81,360.03 163.97,360.03 163.97,358.74 165.00,358.74 165.00,355.81 165.95,355.81 165.95,357.50 166.83,357.50 166.83,358.67 168.06,358.67 168.06,359.10 168.52,359.10 168.52,357.86 169.18,357.86 169.18,360.04 170.15,360.04 170.15,360.90 170.70,360.90 170.70,359.27 171.49,359.27 171.49,360.76 172.11,360.76 172.11,360.15 172.59,360.15 172.59,360.92 173.59,360.92 173.59,360.29 174.03,360.29 174.03,358.19 174.38,358.19 174.38,360.46 175.00,360.46 175.00,360.61 175.50,360.61 175.50,361.55 176.34,361.55 176.34,359.41 177.16,359.41 177.16,361.37 178.16,361.37 178.16,359.57 178.90,359.57 178.90,361.75 179.77,361.75 179.77,361.09 180.51,361.09 180.51,360.19 180.89,360.19 180.89,357.48 182.07,357.48 182.07,360.39 183.18,360.39 183.18,359.07 183.98,359.07 183.98,360.20 185.24,360.20 185.24,359.39 185.76,359.39 185.76,360.50 186.50,360.50 186.50,359.90 187.40,359.90 187.40,361.71 187.79,361.71 187.79,359.87 188.24,359.87 188.24,358.77 188.61,358.77 188.61,359.54 189.75,359.54 189.75,361.73 190.98,361.73 190.98,358.77 191.56,358.77 191.56,360.93 192.56,360.93 192.56,356.77 193.22,356.77 193.22,361.74 194.24,361.74 194.24,360.34 194.68,360.34 194.68,361.23 195.22,361.23 195.22,360.89 195.70,360.89 195.70,359.01 196.92,359.01 196.92,361.21 197.55,361.21 197.55,357.88 198.40,357.88 198.40,360.73 198.93,360.73 198.93,362.50 199.35,362.50 199.35,358.61 199.71,358.61 199.71,356.96 200.51,356.96 200.51,361.83 201.75,361.83 201.75,360.50 202.50,360.50 202.50,359.25 202.97,359.25 202.97,358.44 204.22,358.44 204.22,363.09 204.61,363.09 204.61,362.97 205.38,362.97 205.38,357.00 205.79,357.00 205.79,361.37 206.38,361.37 206.38,358.18 206.84,358.18 206.84,362.44 207.96,362.44 207.96,360.24 209.12,360.24 209.12,360.32 209.48,360.32 209.48,359.81 210.24,359.81 210.24,360.35 211.36,360.35 211.36,360.40 211.87,360.40 211.87,360.14 212.79,360.14 212.79,362.96 213.53,362.96 213.53,359.64 214.02,359.64 214.02,361.84 215.29,361.84 215.29,357.53 216.54,357.53 216.54,361.70 217.42,361.70 217.42,359.37 217.85,359.37 217.85,361.36 218.39,361.36 218.39,361.59 219.64,361.59 219.64,359.57 220.04,359.57 220.04,357.43 221.17,357.43 221.17,358.92 221.96,358.92 221.96,355.80 222.62,355.80 222.62,359.68 223.19,359.68 223.19,359.77 224.33,359.77 224.33,361.09 224.70,361.09 224.70,359.52 225.53,359.52 225.53,361.78 225.93,361.78 225.93,361.55 227.18,361.55 227.18,360.98 227.84,360.98 227.84,359.38 228.50,359.38 228.50,356.35 229.50,356.35 229.50,360.15 229.93,360.15 229.93,357.80 230.34,357.80 230.34,362.16 230.79,362.16 230.79,360.67 231.17,360.67 231.17,356.70 231.98,356.70 231.98,361.64 232.33,361.64 232.33,360.50 233.53,360.50 233.53,360.79 234.30,360.79 234.30,358.73 234.89,358.73 234.89,359.58 236.01,359.58 236.01,359.81 237.14,359.81 237.14,360.83 238.04,360.83 238.04,361.13 238.90,361.13 238.90,360.20 239.81,360.20 239.81,361.98 240.49,361.98 240.49,362.14 241.54,362.14 241.54,361.13 242.39,361.13 242.39,362.95 243.26,362.95 243.26,360.86 244.12,360.86 244.12,356.59 244.94,356.59 244.94,359.21 245.31,359.21 245.31,359.98 245.83,359.98 245.83,360.06 246.93,360.06 246.93,360.40 247.77,360.40 247.77,359.25 248.94,359.25 248.94,361.45 249.75,361.45 249.75,356.43 250.16,356.43 250.16,358.57 250.97,358.57 250.97,360.89 251.76,360.89 251.76,361.49 252.63,361.49 252.63,359.35 253.53,359.35 253.53,358.08 254.00,358.08 254.00,358.52 255.05,358.52 255.05,360.96 255.77,360.96 255.77,359.76 257.05,359.76 257.05,360.71 257.52,360.71 257.52,358.46 258.76,358.46 258.76,359.23 259.72,359.23 259.72,361.51 260.12,361.51 260.12,358.09 260.90,358.09 260.90,357.53 261.37,357.53 261.37,358.60 262.21,358.60 262.21,359.46 262.92,359.46 262.92,356.15 264.06,356.15 264.06,361.78 264.52,361.78 264.52,361.64 265.19,361.64 265.19,358.62 265.98,358.62 265.98,361.75 266.62,361.75 266.62,360.74 267.74,360.74 267.74,359.60 268.28,359.60 268.28,360.85 269.07,360.85 269.07,358.12 269.62,358.12 269.62,362.82 270.17,362.82 270.17,359.69 270.84,359.69 270.84,360.95 271.24,360.95 271.24,359.08 271.79,359.08 271.79,360.82 273.06,360.82 273.06,359.85 273.53,359.85 273.53,358.89 274.72,358.89 274.72,361.59 275.71,361.59 275.71,361.10 276.26,361.10 276.26,361.21 277.09,361.21 277.09,359.32 278.20,359.32 278.20,360.58 279.09,360.58 279.09,360.10 280.03,360.10 280.03,357.45 280.96,357.45 280.96,358.48 281.45,358.48 281.45,361.61 282.02,361.61 282.02,357.46 282.81,357.46 282.81,358.08 283.50,358.08 283.50,360.86 284.34,360.86 284.34,355.98 285.36,355.98 285.36,360.08 286.25,360.08 286.25,357.82 287.24,357.82 287.24,359.15 288.29,359.15 288.29,359.81 288.65,359.81 288.65,360.08 289.72,360.08 289.72,358.81 290.15,358.81 290.15,361.22 291.44,361.22 291.44,360.96 292.12,360.96 292.12,361.88 292.66,361.88 292.66,359.20 293.60,359.20 293.60,356.17 294.38,356.17 294.38,359.82 295.38,359.82 295.38,360.01 296.18,360.01 296.18,360.51 296.87,360.51 296.87,359.06 297.90,359.06 297.90,358.53 298.52,358.53 298.52,361.84 299.36,361.84 299.36,356.10 300.20,356.10 300.20,360.04 300.30,360.04 300.30,363.98" fill="#3c58a4" fill-opacity="0.75"/><polyline points="18.10,363.98 18.10,358.64 18.55,358.64 18.55,361.42 19.79,361.42 19.79,359.23 20.84,359.23 20.84,360.25 21.84,360.25 21.84,359.97 22.30,359.97 22.30,360.19 22.99,360.19 22.99,360.76 23.94,360.76 23.94,360.53 24.93,360.53 24.93,361.81 25.39,361.81 25.39,357.14 25.94,357.14 25.94,360.63 27.23,360.63 27.23,359.56 28.41,359.56 28.41,359.44 29.32,359.44 29.32,358.88 29.76,358.88 29.76,361.51 30.29,361.51 30.29,361.77 31.40,361.77 31.40,362.81 32.53,362.81 32.53,359.55 32.90,359.55 32.90,362.59 33.75,362.59 33.75,360.97 34.75,360.97 34.75,360.66 35.56,360.66 35.56,361.47 36.00,361.47 36.00,357.90 37.18,357.90 37.18,358.78 37.66,358.78 37.66,358.15 38.03,358.15 38.03,360.72 38.78,360.72 38.78,361.32 40.02,361.32 40.02,358.95 40.55,358.95 40.55,361.92 41.15,361.92 41.15,356.73 41.79,356.73 41.79,357.24 42.41,357.24 42.41,362.96 43.00,362.96 43.00,360.03 43.54,360.03 43.54,360.64 44.14,360.64 44.14,360.28 45.36,360.28 45.36,360.66 46.06,360.66 46.06,358.89 47.31,358.89 47.31,361.13 48.46,361.13 48.46,360.26 49.72,360.26 49.72,356.67 50.37,356.67 50.37,357.00 50.95,357.00 50.95,361.77 51.63,361.77 51.63,359.51 52.17,359.51 52.17,360.77 52.76,360.77 52.76,359.31 53.47,359.31 53.47,361.71 54.17,361.71 54.17,360.36 54.74,360.36 54.74,359.37 55.22,359.37 55.22,359.15 56.19,359.15 56.19,358.80 57.43,358.80 57.43,361.40 57.82,361.40 57.82,356.10 58.62,356.10 58.62,358.16 59.02,358.16 59.02,362.15 59.89,362.15 59.89,356.08 60.64,356.08 60.64,357.90 61.78,357.90 61.78,361.70 62.89,361.70 62.89,361.99 63.60,361.99 63.60,358.91 64.37,358.91 64.37,359.81 65.23,359.81 65.23,358.65 65.81,358.65 65.81,357.52 66.16,357.52 66.16,356.02 67.45,356.02 67.45,361.00 68.61,361.00 68.61,357.99 69.29,357.99 69.29,356.23 69.77,356.23 69.77,356.87 70.79,356.87 70.79,359.97 71.94,359.97 71.94,360.70 72.35,360.70 72.35,360.47 73.46,360.47 73.46,361.55 74.73,361.55 74.73,358.94 75.11,358.94 75.11,361.73 75.82,361.73 75.82,361.43 76.38,361.43 76.38,361.80 77.55,361.80 77.55,361.94 78.72,361.94 78.72,358.65 79.72,358.65 79.72,361.49 80.80,361.49 80.80,358.55 81.86,358.55 81.86,360.44 82.38,360.44 82.38,360.93 83.10,360.93 83.10,360.88 84.17,360.88 84.17,361.60 85.30,361.60 85.30,360.07 86.26,360.07 86.26,356.85 86.87,356.85 86.87,360.46 87.37,360.46 87.37,359.12 88.18,359.12 88.18,360.20 89.44,360.20 89.44,361.85 89.81,361.85 89.81,359.96 90.29,359.96 90.29,360.93 90.93,360.93 90.93,361.21 91.85,361.21 91.85,361.21 93.02,361.21 93.02,357.08 94.14,357.08 94.14,359.97 94.51,359.97 94.51,360.21 95.02,360.21 95.02,359.36 95.48,359.36 95.48,361.75 96.20,361.75 96.20,360.26 97.28,360.26 97.28,362.20 98.36,362.20 98.36,360.67 99.49,360.67 99.49,360.30 100.03,360.30 100.03,361.70 100.74,361.70 100.74,358.34 101.91,358.34 101.91,359.59 102.34,359.59 102.34,359.97 103.22,359.97 103.22,360.94 103.67,360.94 103.67,362.38 104.39,362.38 104.39,359.97 105.66,359.97 105.66,360.98 106.33,360.98 106.33,358.67 107.60,358.67 107.60,361.97 107.99,361.97 107.99,361.45 108.40,361.45 108.40,360.24 108.85,360.24 108.85,357.09 110.08,357.09 110.08,357.10 110.60,357.10 110.60,358.80 111.28,358.80 111.28,358.14 112.53,358.14 112.53,356.83 113.03,356.83 113.03,361.45 114.04,361.45 114.04,359.83 114.67,359.83 114.67,360.57 115.13,360.57 115.13,361.43 115.68,361.43 115.68,362.29 116.25,362.29 116.25,359.97 117.23,359.97 117.23,359.82 118.11,359.82 118.11,358.36 118.67,358.36 118.67,359.03 119.03,359.03 119.03,357.03 119.85,357.03 119.85,362.13 120.43,362.13 120.43,358.66 121.22,358.66 121.22,355.94 122.50,355.94 122.50,357.36 123.33,357.36 123.33,359.70 123.79,359.70 123.79,361.04 125.07,361.04 125.07,360.79 125.69,360.79 125.69,362.74 126.81,362.74 126.81,357.06 127.39,357.06 127.39,357.18 128.16,357.18 128.16,361.47 128.88,361.47 128.88,360.85 129.90,360.85 129.90,358.49 130.79,358.49 130.79,355.92 131.60,355.92 131.60,358.98 132.84,358.98 132.84,358.94 133.53,358.94 133.53,361.18 134.59,361.18 134.59,359.25 134.96,359.25 134.96,358.34 135.78,358.34 135.78,359.35 137.02,359.35 137.02,362.66 138.26,362.66 138.26,358.74 139.48,358.74 139.48,361.91 140.66,361.91 140.66,357.96 141.29,357.96 141.29,361.54 141.95,361.54 141.95,361.81 143.13,361.81 143.13,362.88 144.43,362.88 144.43,359.18 145.16,359.18 145.16,358.70 146.06,358.70 146.06,362.52 147.20,362.52 147.20,359.70 147.57,359.70 147.57,360.60 148.01,360.60 148.01,359.57 148.37,359.57 148.37,362.31 149.03,362.31 149.03,359.20 150.17,359.20 150.17,356.21 150.75,356.21 150.75,360.02 152.02,360.02 152.02,358.88 153.02,358.88 153.02,361.39 154.11,361.39 154.11,362.37 154.92,362.37 154.92,360.21 155.58,360.21 155.58,359.92 156.43,359.92 156.43,360.77 157.67,360.77 157.67,359.77 158.02,359.77 158.02,357.99 158.86,357.99 158.86,363.04 159.22,363.04 159.22,356.34 160.29,356.34 160.29,361.14 161.22,361.14 161.22,361.73 161.69,361.73 161.69,361.15 162.81,361.15 162.81,360.03 163.97,360.03 163.97,358.74 165.00,358.74 165.00,355.81 165.95,355.81 165.95,357.50 166.83,357.50 166.83,358.67 168.06,358.67 168.06,359.10 168.52,359.10 168.52,357.86 169.18,357.86 169.18,360.04 170.15,360.04 170.15,360.90 170.70,360.90 170.70,359.27 171.49,359.27 171.49,360.76 172.11,360.76 172.11,360.15 172.59,360.15 172.59,360.92 173.59,360.92 173.59,360.29 174.03,360.29 174.03,358.19 174.38,358.19 174.38,360.46 175.00,360.46 175.00,360.61 175.50,360.61 175.50,361.55 176.34,361.55 176.34,359.41 177.16,359.41 177.16,361.37 178.16,361.37 178.16,359.57 178.90,359.57 178.90,361.75 179.77,361.75 179.77,361.09 180.51,361.09 180.51,360.19 180.89,360.19 180.89,357.48 182.07,357.48 182.07,360.39 183.18,360.39 183.18,359.07 183.98,359.07 183.98,360.20 185.24,360.20 185.24,359.39 185.76,359.39 185.76,360.50 186.50,360.50 186.50,359.90 187.40,359.90 187.40,361.71 187.79,361.71 187.79,359.87 188.24,359.87 188.24,358.77 188.61,358.77 188.61,359.54 189.75,359.54 189.75,361.73 190.98,361.73 190.98,358.77 191.56,358.77 191.56,360.93 192.56,360.93 192.56,356.77 193.22,356.77 193.22,361.74 194.24,361.74 194.24,360.34 194.68,360.34 194.68,361.23 195.22,361.23 195.22,360.89 195.70,360.89 195.70,359.01 196.92,359.01 196.92,361.21 197.55,361.21 197.55,357.88 198.40,357.88 198.40,360.73 198.93,360.73 198.93,362.50 199.35,362.50 199.35,358.61 199.71,358.61 199.71,356.96 200.51,356.96 200.51,361.83 201.75,361.83 201.75,360.50 202.50,360.50 202.50,359.25 202.97,359.25 202.97,358.44 204.22,358.44 204.22,363.09 204.61,363.09 204.61,362.97 205.38,362.97 205.38,357.00 205.79,357.00 205.79,361.37 206.38,361.37 206.38,358.18 206.84,358.18 206.84,362.44 207.96,362.44 207.96,360.24 209.12,360.24 209.12,360.32 209.48,360.32 209.48,359.81 210.24,359.81 210.24,360.35 211.36,360.35 211.36,360.40 211.87,360.40 211.87,360.14 212.79,360.14 212.79,362.96 213.53,362.96 213.53,359.64 214.02,359.64 214.02,361.84 215.29,361.84 215.29,357.53 216.54,357.53 216.54,361.70 217.42,361.70 217.42,359.37 217.85,359.37 217.85,361.36 218.39,361.36 218.39,361.59 219.64,361.59 219.64,359.57 220.04,359.57 220.04,357.43 221.17,357.43 221.17,358.92 221.96,358.92 221.96,355.80 222.62,355.80 222.62,359.68 223.19,359.68 223.19,359.77 224.33,359.77 224.33,361.09 224.70,361.09 224.70,359.52 225.53,359.52 225.53,361.78 225.93,361.78 225.93,361.55 227.18,361.55 227.18,360.98 227.84,360.98 227.84,359.38 228.50,359.38 228.50,356.35 229.50,356.35 229.50,360.15 229.93,360.15 229.93,357.80 230.34,357.80 230.34,362.16 230.79,362.16 230.79,360.67 231.17,360.67 231.17,356.70 231.98,356.70 231.98,361.64 232.33,361.64 232.33,360.50 233.53,360.50 233.53,360.79 234.30,360.79 234.30,358.73 234.89,358.73 234.89,359.58 236.01,359.58 236.01,359.81 237.14,359.81 237.14,360.83 238.04,360.83 238.04,361.13 238.90,361.13 238.90,360.20 239.81,360.20 239.81,361.98 240.49,361.98 240.49,362.14 241.54,362.14 241.54,361.13 242.39,361.13 242.39,362.95 243.26,362.95 243.26,360.86 244.12,360.86 244.12,356.59 244.94,356.59 244.94,359.21 245.31,359.21 245.31,359.98 245.83,359.98 245.83,360.06 246.93,360.06 246.93,360.40 247.77,360.40 247.77,359.25 248.94,359.25 248.94,361.45 249.75,361.45 249.75,356.43 250.16,356.43 250.16,358.57 250.97,358.57 250.97,360.89 251.76,360.89 251.76,361.49 252.63,361.49 252.63,359.35 253.53,359.35 253.53,358.08 254.00,358.08 254.00,358.52 255.05,358.52 255.05,360.96 255.77,360.96 255.77,359.76 257.05,359.76 257.05,360.71 257.52,360.71 257.52,358.46 258.76,358.46 258.76,359.23 259.72,359.23 259.72,361.51 260.12,361.51 260.12,358.09 260.90,358.09 260.90,357.53 261.37,357.53 261.37,358.60 262.21,358.60 262.21,359.46 262.92,359.46 262.92,356.15 264.06,356.15 264.06,361.78 264.52,361.78 264.52,361.64 265.19,361.64 265.19,358.62 265.98,358.62 265.98,361.75 266.62,361.75 266.62,360.74 267.74,360.74 267.74,359.60 268.28,359.60 268.28,360.85 269.07,360.85 269.07,358.12 269.62,358.12 269.62,362.82 270.17,362.82 270.17,359.69 270.84,359.69 270.84,360.95 271.24,360.95 271.24,359.08 271.79,359.08 271.79,360.82 273.06,360.82 273.06,359.85 273.53,359.85 273.53,358.89 274.72,358.89 274.72,361.59 275.71,361.59 275.71,361.10 276.26,361.10 276.26,361.21 277.09,361.21 277.09,359.32 278.20,359.32 278.20,360.58 279.09,360.58 279.09,360.10 280.03,360.10 280.03,357.45 280.96,357.45 280.96,358.48 281.45,358.48 281.45,361.61 282.02,361.61 282.02,357.46 282.81,357.46 282.81,358.08 283.50,358.08 283.50,360.86 284.34,360.86 284.34,355.98 285.36,355.98 285.36,360.08 286.25,360.08 286.25,357.82 287.24,357.82 287.24,359.15 288.29,359.15 288.29,359.81 288.65,359.81 288.65,360.08 289.72,360.08 289.72,358.81 290.15,358.81 290.15,361.22 291.44,361.22 291.44,360.96 292.12,360.96 292.12,361.88 292.66,361.88 292.66,359.20 293.60,359.20 293.60,356.17 294.38,356.17 294.38,359.82 295.38,359.82 295.38,360.01 296.18,360.01 296.18,360.51 296.87,360.51 296.87,359.06 297.90,359.06 297.90,358.53 298.52,358.53 298.52,361.84 299.36,361.84 299.36,356.10 300.20,356.10 300.20,360.04 300.30,360.04 300.30,363.98" fill="none" stroke="#3c58a4" stroke-width="0.45" stroke-opacity="0.8"/><rect x="17.5" y="362.4" width="283.3" height="2.8" fill="#3c58a4"/><rect x="17.5" y="362.5" width="4" height="4.7" fill="#3c58a4"/><rect x="297.8" y="362.0" width="3" height="4" fill="#3c58a4"/></g>
<text x="402.4" y="224.3" class="tt">ChrVIII</text>
<g><text x="345.0" y="209.0" class="yl">0.47</text><line x1="346.4" y1="207.5" x2="348.2" y2="207.5" stroke="#f07272" stroke-width="0.6"/><text x="345.0" y="223.1" class="yl">0.37</text><line x1="346.4" y1="221.6" x2="348.2" y2="221.6" stroke="#f07272" stroke-width="0.6"/><text x="345.0" y="237.2" class="yl">0.27</text><line x1="346.4" y1="235.7" x2="348.2" y2="235.7" stroke="#f07272" stroke-width="0.6"/><text x="345.0" y="251.4" class="yl">0.17</text><line x1="346.4" y1="249.9" x2="348.2" y2="249.9" stroke="#f07272" stroke-width="0.6"/><text x="345.0" y="265.5" class="yl">0.07</text><line x1="346.4" y1="264.0" x2="348.2" y2="264.0" stroke="#f07272" stroke-width="0.6"/><text x="345.0" y="279.6" class="yl">-0.03</text><line x1="346.4" y1="278.1" x2="348.2" y2="278.1" stroke="#f07272" stroke-width="0.6"/><line x1="348.5" y1="203.0" x2="348.5" y2="278.1" stroke="#f07272" stroke-width="1"/><text x="348.2" y="281.7" class="xl">0</text><text x="367.3" y="281.7" class="xl">100000</text><text x="386.5" y="281.7" class="xl">200000</text><text x="405.6" y="281.7" class="xl">300000</text><text x="424.7" y="281.7" class="xl">400000</text><text x="443.8" y="281.7" class="xl">500000</text><polygon points="348.80,274.57 348.80,274.57 350.07,274.57 350.07,271.77 351.16,271.77 351.16,268.14 351.67,268.14 351.67,266.90 352.86,266.90 352.86,271.11 353.63,271.11 353.63,271.99 354.34,271.99 354.34,271.24 355.54,271.24 355.54,271.22 356.78,271.22 356.78,271.57 357.65,271.57 357.65,272.48 358.60,272.48 358.60,270.83 359.84,270.83 359.84,266.26 361.03,266.26 361.03,274.57 362.29,274.57 362.29,271.85 362.90,271.85 362.90,271.10 363.95,271.10 363.95,269.29 364.85,269.29 364.85,274.57 365.44,274.57 365.44,268.39 366.32,268.39 366.32,271.34 367.14,271.34 367.14,273.04 368.40,273.04 368.40,268.86 369.15,268.86 369.15,272.69 370.37,272.69 370.37,267.91 370.93,267.91 370.93,274.57 371.81,274.57 371.81,269.85 372.70,269.85 372.70,271.10 373.94,271.10 373.94,267.62 374.48,267.62 374.48,270.66 375.10,270.66 375.10,274.57 376.39,274.57 376.39,268.36 376.93,268.36 376.93,270.41 377.80,270.41 377.80,273.30 378.86,273.30 378.86,272.34 379.37,272.34 379.37,272.39 380.17,272.39 380.17,271.04 381.23,271.04 381.23,269.73 382.39,269.73 382.39,274.57 383.61,274.57 383.61,272.78 384.64,272.78 384.64,273.02 385.56,273.02 385.56,271.89 386.84,271.89 386.84,272.90 387.89,272.90 387.89,270.98 388.88,270.98 388.88,271.98 389.42,271.98 389.42,274.57 390.51,274.57 390.51,270.99 391.67,270.99 391.67,273.27 392.89,273.27 392.89,270.51 393.66,270.51 393.66,268.71 394.55,268.71 394.55,274.57 395.68,274.57 395.68,272.33 396.81,272.33 396.81,270.44 397.98,270.44 397.98,270.91 398.92,270.91 398.92,270.57 399.61,270.57 399.61,270.69 400.20,270.69 400.20,269.99 400.82,269.99 400.82,267.54 401.59,267.54 401.59,271.13 402.62,271.13 402.62,271.75 403.23,271.75 403.23,268.11 403.78,268.11 403.78,274.57 404.90,274.57 404.90,272.29 405.92,272.29 405.92,270.54 407.06,270.54 407.06,273.17 408.26,273.17 408.26,274.57 409.46,274.57 409.46,269.76 410.29,269.76 410.29,270.61 411.09,270.61 411.09,270.69 411.97,270.69 411.97,270.79 412.95,270.79 412.95,266.88 414.19,266.88 414.19,274.57 415.45,274.57 415.45,269.15 416.21,269.15 416.21,265.95 417.25,265.95 417.25,274.57 418.12,274.57 418.12,269.96 418.98,269.96 418.98,270.83 419.79,270.83 419.79,271.37 420.80,271.37 420.80,270.66 422.06,270.66 422.06,270.57 423.34,270.57 423.34,272.15 424.01,272.15 424.01,270.17 424.91,270.17 424.91,271.98 425.96,271.98 425.96,271.97 426.82,271.97 426.82,271.94 428.04,271.94 428.04,272.47 429.09,272.47 429.09,272.32 430.33,272.32 430.33,271.83 431.02,271.83 431.02,269.96 432.32,269.96 432.32,270.36 433.13,270.36 433.13,270.68 434.28,270.68 434.28,269.92 435.29,269.92 435.29,271.02 436.48,271.02 436.48,266.55 437.29,266.55 437.29,274.57 438.32,274.57 438.32,272.30 438.92,272.30 438.92,271.58 439.61,271.58 439.61,271.17 440.66,271.17 440.66,272.60 441.35,272.60 441.35,272.08 442.00,272.08 442.00,272.56 443.25,272.56 443.25,268.38 444.27,268.38 444.27,269.96 445.20,269.96 445.20,269.91 446.27,269.91 446.27,271.24 446.80,271.24 446.80,270.57 447.59,270.57 447.59,271.03 448.56,271.03 448.56,269.64 449.35,269.64 449.35,274.57 450.15,274.57 450.15,274.57 451.33,274.57 451.33,274.57 452.34,274.57 452.34,274.57 453.58,274.57 453.58,274.57 454.58,274.57 454.58,274.57 455.39,274.57 455.39,274.57 455.40,274.57 455.40,274.57" fill="#e3242b" fill-opacity="0.16"/><path d="M350.07 274.6V271.77M351.16 274.6V268.14M351.67 274.6V266.90M352.86 274.6V271.11M353.63 274.6V271.99M354.34 274.6V271.24M355.54 274.6V271.22M356.78 274.6V271.57M357.65 274.6V272.48M358.60 274.6V270.83M359.84 274.6V266.26M362.29 274.6V271.85M362.90 274.6V271.10M363.95 274.6V269.29M365.44 274.6V268.39M366.32 274.6V271.34M367.14 274.6V273.04M368.40 274.6V268.86M369.15 274.6V272.69M370.37 274.6V267.91M371.81 274.6V269.85M372.70 274.6V271.10M373.94 274.6V267.62M374.48 274.6V270.66M376.39 274.6V268.36M376.93 274.6V270.41M377.80 274.6V273.30M378.86 274.6V272.34M379.37 274.6V272.39M380.17 274.6V271.04M381.23 274.6V269.73M383.61 274.6V272.78M384.64 274.6V273.02M385.56 274.6V271.89M386.84 274.6V272.90M387.89 274.6V270.98M388.88 274.6V271.98M390.51 274.6V270.99M391.67 274.6V273.27M392.89 274.6V270.51M393.66 274.6V268.71M395.68 274.6V272.33M396.81 274.6V270.44M397.98 274.6V270.91M398.92 274.6V270.57M399.61 274.6V270.69M400.20 274.6V269.99M400.82 274.6V267.54M401.59 274.6V271.13M402.62 274.6V271.75M403.23 274.6V268.11M404.90 274.6V272.29M405.92 274.6V270.54M407.06 274.6V273.17M409.46 274.6V269.76M410.29 274.6V270.61M411.09 274.6V270.69M411.97 274.6V270.79M412.95 274.6V266.88M415.45 274.6V269.15M416.21 274.6V265.95M418.12 274.6V269.96M418.98 274.6V270.83M419.79 274.6V271.37M420.80 274.6V270.66M422.06 274.6V270.57M423.34 274.6V272.15M424.01 274.6V270.17M424.91 274.6V271.98M425.96 274.6V271.97M426.82 274.6V271.94M428.04 274.6V272.47M429.09 274.6V272.32M430.33 274.6V271.83M431.02 274.6V269.96M432.32 274.6V270.36M433.13 274.6V270.68M434.28 274.6V269.92M435.29 274.6V271.02M436.48 274.6V266.55M438.32 274.6V272.30M438.92 274.6V271.58M439.61 274.6V271.17M440.66 274.6V272.60M441.35 274.6V272.08M442.00 274.6V272.56M443.25 274.6V268.38M444.27 274.6V269.96M445.20 274.6V269.91M446.27 274.6V271.24M446.80 274.6V270.57M447.59 274.6V271.03M448.56 274.6V269.64" stroke="#e3242b" stroke-width="0.7" stroke-opacity="0.85" fill="none"/><path d="M353.70 274.6V257.9M402.30 274.6V260.5M421.10 274.6V260.5M427.20 274.6V260.5M359.50 274.6V263.3M381.70 274.6V263.3M441.30 274.6V263.3M447.40 274.6V263.3M437.50 274.6V265.4M374.80 274.6V265.4M404.60 274.6V265.4M356.00 274.6V266.1M362.00 274.6V266.1M376.00 274.6V266.1M383.00 274.6V265.4M388.00 274.6V268.2M395.00 274.6V268.2M412.00 274.6V268.2M416.00 274.6V268.2" stroke="#e3242b" stroke-width="0.95" stroke-opacity="0.8" fill="none"/><rect x="348.2" y="272.9" width="107.7" height="3.0" fill="#e3242b"/><rect x="348.2" y="273.1" width="4" height="4.7" fill="#e3242b"/><rect x="452.9" y="272.6" width="3" height="4" fill="#e3242b"/><rect x="449.0" y="273.6" width="6.9" height="4.8" fill="#e3242b"/></g>
<g><text x="345.0" y="297.7" class="yl">0.47</text><line x1="346.4" y1="296.2" x2="348.2" y2="296.2" stroke="#5a72c0" stroke-width="0.6"/><text x="345.0" y="311.9" class="yl">0.37</text><line x1="346.4" y1="310.4" x2="348.2" y2="310.4" stroke="#5a72c0" stroke-width="0.6"/><text x="345.0" y="326.0" class="yl">0.27</text><line x1="346.4" y1="324.5" x2="348.2" y2="324.5" stroke="#5a72c0" stroke-width="0.6"/><text x="345.0" y="340.2" class="yl">0.17</text><line x1="346.4" y1="338.7" x2="348.2" y2="338.7" stroke="#5a72c0" stroke-width="0.6"/><text x="345.0" y="354.3" class="yl">0.07</text><line x1="346.4" y1="352.8" x2="348.2" y2="352.8" stroke="#5a72c0" stroke-width="0.6"/><text x="345.0" y="368.5" class="yl">-0.03</text><line x1="346.4" y1="367.0" x2="348.2" y2="367.0" stroke="#5a72c0" stroke-width="0.6"/><line x1="348.5" y1="291.7" x2="348.5" y2="367.0" stroke="#5a72c0" stroke-width="1"/><text x="348.2" y="370.6" class="xl">0</text><text x="366.5" y="370.6" class="xl">100000</text><text x="384.7" y="370.6" class="xl">200000</text><text x="403.0" y="370.6" class="xl">300000</text><text x="421.2" y="370.6" class="xl">400000</text><text x="439.5" y="370.6" class="xl">500000</text><polygon points="348.80,363.46 348.80,360.53 349.49,360.53 349.49,359.99 350.27,359.99 350.27,359.19 350.86,359.19 350.86,361.16 351.50,361.16 351.50,359.69 352.56,359.69 352.56,359.45 353.82,359.45 353.82,359.17 354.93,359.17 354.93,358.71 355.72,358.71 355.72,360.89 356.28,360.89 356.28,360.52 357.38,360.52 357.38,356.85 358.34,356.85 358.34,355.63 358.73,355.63 358.73,360.95 359.83,360.95 359.83,360.43 360.33,360.43 360.33,357.98 360.74,357.98 360.74,358.38 361.10,358.38 361.10,359.67 362.33,359.67 362.33,360.35 363.11,360.35 363.11,360.95 363.48,360.95 363.48,360.26 364.22,360.26 364.22,360.75 365.19,360.75 365.19,355.74 366.03,355.74 366.03,358.82 367.00,358.82 367.00,362.47 367.45,362.47 367.45,357.65 367.80,357.65 367.80,357.61 368.26,357.61 368.26,360.03 369.34,360.03 369.34,361.45 369.93,361.45 369.93,357.28 370.78,357.28 370.78,361.39 371.27,361.39 371.27,358.43 372.06,358.43 372.06,362.39 372.45,362.39 372.45,356.37 373.43,356.37 373.43,360.54 373.88,360.54 373.88,360.49 374.33,360.49 374.33,359.48 375.48,359.48 375.48,360.97 376.66,360.97 376.66,357.81 377.19,357.81 377.19,360.51 378.36,360.51 378.36,360.81 378.73,360.81 378.73,361.49 379.20,361.49 379.20,360.27 379.84,360.27 379.84,360.34 380.63,360.34 380.63,361.89 381.45,361.89 381.45,358.68 382.44,358.68 382.44,357.98 383.22,357.98 383.22,361.09 383.62,361.09 383.62,360.59 384.65,360.59 384.65,359.85 385.21,359.85 385.21,360.58 386.16,360.58 386.16,361.59 387.10,361.59 387.10,358.96 387.48,358.96 387.48,358.83 388.73,358.83 388.73,357.76 389.56,357.76 389.56,357.95 390.54,357.95 390.54,360.08 391.76,360.08 391.76,360.98 392.87,360.98 392.87,359.86 393.77,359.86 393.77,357.27 394.83,357.27 394.83,355.86 395.20,355.86 395.20,357.59 396.50,357.59 396.50,360.09 397.00,360.09 397.00,359.33 398.07,359.33 398.07,360.49 398.64,360.49 398.64,362.52 399.16,362.52 399.16,359.94 399.54,359.94 399.54,358.50 400.63,358.50 400.63,359.52 401.70,359.52 401.70,360.61 402.44,360.61 402.44,358.58 402.97,358.58 402.97,361.30 403.34,361.30 403.34,359.70 404.59,359.70 404.59,359.82 405.50,359.82 405.50,361.48 406.38,361.48 406.38,358.50 407.06,358.50 407.06,361.35 408.33,361.35 408.33,359.56 408.72,359.56 408.72,357.19 409.49,357.19 409.49,359.47 410.76,359.47 410.76,360.09 411.29,360.09 411.29,359.57 412.57,359.57 412.57,358.33 412.97,358.33 412.97,356.80 413.83,356.80 413.83,360.79 414.76,360.79 414.76,360.84 415.25,360.84 415.25,361.29 416.18,361.29 416.18,356.12 417.18,356.12 417.18,359.31 417.82,359.31 417.82,359.09 418.59,359.09 418.59,358.77 419.71,358.77 419.71,357.59 420.35,357.59 420.35,362.48 421.45,362.48 421.45,359.32 422.64,359.32 422.64,358.84 423.42,358.84 423.42,361.47 424.69,361.47 424.69,362.14 425.23,362.14 425.23,355.41 426.48,355.41 426.48,357.95 427.22,357.95 427.22,355.63 428.36,355.63 428.36,361.09 429.44,361.09 429.44,359.77 430.19,359.77 430.19,359.82 430.69,359.82 430.69,362.61 431.07,362.61 431.07,361.77 431.44,361.77 431.44,360.35 432.05,360.35 432.05,362.54 432.74,362.54 432.74,361.21 433.33,361.21 433.33,359.37 434.08,359.37 434.08,360.97 435.01,360.97 435.01,359.32 435.53,359.32 435.53,360.02 436.80,360.02 436.80,355.79 437.87,355.79 437.87,362.31 438.83,362.31 438.83,355.51 440.07,355.51 440.07,357.87 440.74,357.87 440.74,360.44 441.46,360.44 441.46,362.59 442.33,362.59 442.33,360.55 443.63,360.55 443.63,359.90 444.54,359.90 444.54,362.56 445.39,362.56 445.39,363.46 445.99,363.46 445.99,363.46 446.81,363.46 446.81,363.46 447.46,363.46 447.46,363.46 448.50,363.46 448.50,363.46 448.86,363.46 448.86,363.46 449.98,363.46 449.98,363.46 450.50,363.46 450.50,363.46" fill="#3c58a4" fill-opacity="0.75"/><polyline points="348.80,363.46 348.80,360.53 349.49,360.53 349.49,359.99 350.27,359.99 350.27,359.19 350.86,359.19 350.86,361.16 351.50,361.16 351.50,359.69 352.56,359.69 352.56,359.45 353.82,359.45 353.82,359.17 354.93,359.17 354.93,358.71 355.72,358.71 355.72,360.89 356.28,360.89 356.28,360.52 357.38,360.52 357.38,356.85 358.34,356.85 358.34,355.63 358.73,355.63 358.73,360.95 359.83,360.95 359.83,360.43 360.33,360.43 360.33,357.98 360.74,357.98 360.74,358.38 361.10,358.38 361.10,359.67 362.33,359.67 362.33,360.35 363.11,360.35 363.11,360.95 363.48,360.95 363.48,360.26 364.22,360.26 364.22,360.75 365.19,360.75 365.19,355.74 366.03,355.74 366.03,358.82 367.00,358.82 367.00,362.47 367.45,362.47 367.45,357.65 367.80,357.65 367.80,357.61 368.26,357.61 368.26,360.03 369.34,360.03 369.34,361.45 369.93,361.45 369.93,357.28 370.78,357.28 370.78,361.39 371.27,361.39 371.27,358.43 372.06,358.43 372.06,362.39 372.45,362.39 372.45,356.37 373.43,356.37 373.43,360.54 373.88,360.54 373.88,360.49 374.33,360.49 374.33,359.48 375.48,359.48 375.48,360.97 376.66,360.97 376.66,357.81 377.19,357.81 377.19,360.51 378.36,360.51 378.36,360.81 378.73,360.81 378.73,361.49 379.20,361.49 379.20,360.27 379.84,360.27 379.84,360.34 380.63,360.34 380.63,361.89 381.45,361.89 381.45,358.68 382.44,358.68 382.44,357.98 383.22,357.98 383.22,361.09 383.62,361.09 383.62,360.59 384.65,360.59 384.65,359.85 385.21,359.85 385.21,360.58 386.16,360.58 386.16,361.59 387.10,361.59 387.10,358.96 387.48,358.96 387.48,358.83 388.73,358.83 388.73,357.76 389.56,357.76 389.56,357.95 390.54,357.95 390.54,360.08 391.76,360.08 391.76,360.98 392.87,360.98 392.87,359.86 393.77,359.86 393.77,357.27 394.83,357.27 394.83,355.86 395.20,355.86 395.20,357.59 396.50,357.59 396.50,360.09 397.00,360.09 397.00,359.33 398.07,359.33 398.07,360.49 398.64,360.49 398.64,362.52 399.16,362.52 399.16,359.94 399.54,359.94 399.54,358.50 400.63,358.50 400.63,359.52 401.70,359.52 401.70,360.61 402.44,360.61 402.44,358.58 402.97,358.58 402.97,361.30 403.34,361.30 403.34,359.70 404.59,359.70 404.59,359.82 405.50,359.82 405.50,361.48 406.38,361.48 406.38,358.50 407.06,358.50 407.06,361.35 408.33,361.35 408.33,359.56 408.72,359.56 408.72,357.19 409.49,357.19 409.49,359.47 410.76,359.47 410.76,360.09 411.29,360.09 411.29,359.57 412.57,359.57 412.57,358.33 412.97,358.33 412.97,356.80 413.83,356.80 413.83,360.79 414.76,360.79 414.76,360.84 415.25,360.84 415.25,361.29 416.18,361.29 416.18,356.12 417.18,356.12 417.18,359.31 417.82,359.31 417.82,359.09 418.59,359.09 418.59,358.77 419.71,358.77 419.71,357.59 420.35,357.59 420.35,362.48 421.45,362.48 421.45,359.32 422.64,359.32 422.64,358.84 423.42,358.84 423.42,361.47 424.69,361.47 424.69,362.14 425.23,362.14 425.23,355.41 426.48,355.41 426.48,357.95 427.22,357.95 427.22,355.63 428.36,355.63 428.36,361.09 429.44,361.09 429.44,359.77 430.19,359.77 430.19,359.82 430.69,359.82 430.69,362.61 431.07,362.61 431.07,361.77 431.44,361.77 431.44,360.35 432.05,360.35 432.05,362.54 432.74,362.54 432.74,361.21 433.33,361.21 433.33,359.37 434.08,359.37 434.08,360.97 435.01,360.97 435.01,359.32 435.53,359.32 435.53,360.02 436.80,360.02 436.80,355.79 437.87,355.79 437.87,362.31 438.83,362.31 438.83,355.51 440.07,355.51 440.07,357.87 440.74,357.87 440.74,360.44 441.46,360.44 441.46,362.59 442.33,362.59 442.33,360.55 443.63,360.55 443.63,359.90 444.54,359.90 444.54,362.56 445.39,362.56 445.39,363.46 445.99,363.46 445.99,363.46 446.81,363.46 446.81,363.46 447.46,363.46 447.46,363.46 448.50,363.46 448.50,363.46 448.86,363.46 448.86,363.46 449.98,363.46 449.98,363.46 450.50,363.46 450.50,363.46" fill="none" stroke="#3c58a4" stroke-width="0.45" stroke-opacity="0.8"/><path d="M390.30 363.5V355.7" stroke="#3c58a4" stroke-width="0.95" stroke-opacity="0.8" fill="none"/><rect x="348.2" y="361.9" width="102.8" height="2.8" fill="#3c58a4"/><rect x="348.2" y="362.0" width="4" height="4.7" fill="#3c58a4"/><rect x="448.0" y="361.5" width="3" height="4" fill="#3c58a4"/><rect x="445.0" y="362.5" width="6.0" height="4.8" fill="#3c58a4"/></g>
<text x="522.4" y="224.3" class="tt">ChrIX</text>
<g><text x="478.8" y="209.0" class="yl">0.47</text><line x1="480.2" y1="207.5" x2="482.0" y2="207.5" stroke="#f07272" stroke-width="0.6"/><text x="478.8" y="223.1" class="yl">0.37</text><line x1="480.2" y1="221.6" x2="482.0" y2="221.6" stroke="#f07272" stroke-width="0.6"/><text x="478.8" y="237.2" class="yl">0.27</text><line x1="480.2" y1="235.7" x2="482.0" y2="235.7" stroke="#f07272" stroke-width="0.6"/><text x="478.8" y="251.4" class="yl">0.17</text><line x1="480.2" y1="249.9" x2="482.0" y2="249.9" stroke="#f07272" stroke-width="0.6"/><text x="478.8" y="265.5" class="yl">0.07</text><line x1="480.2" y1="264.0" x2="482.0" y2="264.0" stroke="#f07272" stroke-width="0.6"/><text x="478.8" y="279.6" class="yl">-0.03</text><line x1="480.2" y1="278.1" x2="482.0" y2="278.1" stroke="#f07272" stroke-width="0.6"/><line x1="482.5" y1="203.0" x2="482.5" y2="278.1" stroke="#f07272" stroke-width="1"/><text x="482.0" y="281.7" class="xl">0</text><text x="500.4" y="281.7" class="xl">100000</text><text x="518.8" y="281.7" class="xl">200000</text><text x="537.2" y="281.7" class="xl">300000</text><text x="555.6" y="281.7" class="xl">400000</text><polygon points="482.60,274.57 482.60,269.58 483.52,269.58 483.52,270.16 484.25,270.16 484.25,274.57 485.28,274.57 485.28,270.06 485.80,270.06 485.80,271.03 486.50,271.03 486.50,268.69 487.68,268.69 487.68,274.57 488.98,274.57 488.98,269.19 490.13,269.19 490.13,269.59 491.19,269.59 491.19,269.75 491.86,269.75 491.86,273.30 492.87,273.30 492.87,269.50 494.12,269.50 494.12,269.91 494.74,269.91 494.74,274.57 495.97,274.57 495.97,274.57 496.77,274.57 496.77,271.81 497.87,271.81 497.87,269.79 498.67,269.79 498.67,269.58 499.36,269.58 499.36,272.99 500.28,272.99 500.28,272.42 501.41,272.42 501.41,271.45 502.36,271.45 502.36,268.86 503.38,268.86 503.38,268.34 504.15,268.34 504.15,274.57 504.87,274.57 504.87,272.65 505.97,272.65 505.97,270.10 506.69,270.10 506.69,274.57 507.44,274.57 507.44,269.45 508.73,269.45 508.73,270.84 509.68,270.84 509.68,268.32 510.76,268.32 510.76,273.01 511.58,273.01 511.58,274.57 512.20,274.57 512.20,268.43 512.87,268.43 512.87,267.88 514.01,267.88 514.01,269.30 514.55,269.30 514.55,268.19 515.67,268.19 515.67,274.57 516.49,274.57 516.49,271.20 517.06,271.20 517.06,273.16 517.98,273.16 517.98,270.65 518.72,270.65 518.72,270.49 519.53,270.49 519.53,269.56 520.45,269.56 520.45,272.90 521.55,272.90 521.55,271.68 522.20,271.68 522.20,270.79 523.29,270.79 523.29,272.46 524.51,272.46 524.51,270.36 525.75,270.36 525.75,265.59 526.55,265.59 526.55,272.44 527.29,272.44 527.29,271.31 528.21,271.31 528.21,270.02 529.17,270.02 529.17,270.61 530.03,270.61 530.03,271.72 530.95,271.72 530.95,265.41 531.67,265.41 531.67,271.27 532.54,271.27 532.54,270.17 533.25,270.17 533.25,269.70 533.77,269.70 533.77,267.26 534.76,267.26 534.76,269.44 535.99,269.44 535.99,271.24 536.92,271.24 536.92,267.92 537.94,267.92 537.94,274.57 538.78,274.57 538.78,272.53 539.71,272.53 539.71,272.52 540.43,272.52 540.43,266.48 541.59,266.48 541.59,270.98 542.09,270.98 542.09,269.42 543.20,269.42 543.20,272.90 544.28,272.90 544.28,271.20 545.05,271.20 545.05,273.23 545.95,273.23 545.95,271.04 546.65,271.04 546.65,271.26 547.31,271.26 547.31,271.40 548.59,271.40 548.59,270.55 549.33,270.55 549.33,270.03 550.14,270.03 550.14,271.37 550.76,271.37 550.76,272.08 551.69,272.08 551.69,268.68 552.89,268.68 552.89,272.23 553.89,272.23 553.89,271.02 555.01,271.02 555.01,269.94 556.12,269.94 556.12,273.02 556.85,273.02 556.85,274.57 557.50,274.57 557.50,270.77 558.10,270.77 558.10,271.36 559.31,271.36 559.31,274.57 560.56,274.57 560.56,271.02 561.33,271.02 561.33,271.05 562.50,271.05 562.50,274.57" fill="#e3242b" fill-opacity="0.16"/><path d="M482.60 274.6V269.58M483.52 274.6V270.16M485.28 274.6V270.06M485.80 274.6V271.03M486.50 274.6V268.69M488.98 274.6V269.19M490.13 274.6V269.59M491.19 274.6V269.75M491.86 274.6V273.30M492.87 274.6V269.50M494.12 274.6V269.91M496.77 274.6V271.81M497.87 274.6V269.79M498.67 274.6V269.58M499.36 274.6V272.99M500.28 274.6V272.42M501.41 274.6V271.45M502.36 274.6V268.86M503.38 274.6V268.34M504.87 274.6V272.65M505.97 274.6V270.10M507.44 274.6V269.45M508.73 274.6V270.84M509.68 274.6V268.32M510.76 274.6V273.01M512.20 274.6V268.43M512.87 274.6V267.88M514.01 274.6V269.30M514.55 274.6V268.19M516.49 274.6V271.20M517.06 274.6V273.16M517.98 274.6V270.65M518.72 274.6V270.49M519.53 274.6V269.56M520.45 274.6V272.90M521.55 274.6V271.68M522.20 274.6V270.79M523.29 274.6V272.46M524.51 274.6V270.36M525.75 274.6V265.59M526.55 274.6V272.44M527.29 274.6V271.31M528.21 274.6V270.02M529.17 274.6V270.61M530.03 274.6V271.72M530.95 274.6V265.41M531.67 274.6V271.27M532.54 274.6V270.17M533.25 274.6V269.70M533.77 274.6V267.26M534.76 274.6V269.44M535.99 274.6V271.24M536.92 274.6V267.92M538.78 274.6V272.53M539.71 274.6V272.52M540.43 274.6V266.48M541.59 274.6V270.98M542.09 274.6V269.42M543.20 274.6V272.90M544.28 274.6V271.20M545.05 274.6V273.23M545.95 274.6V271.04M546.65 274.6V271.26M547.31 274.6V271.40M548.59 274.6V270.55M549.33 274.6V270.03M550.14 274.6V271.37M550.76 274.6V272.08M551.69 274.6V268.68M552.89 274.6V272.23M553.89 274.6V271.02M555.01 274.6V269.94M556.12 274.6V273.02M557.50 274.6V270.77M558.10 274.6V271.36M560.56 274.6V271.02M561.33 274.6V271.05" stroke="#e3242b" stroke-width="0.7" stroke-opacity="0.85" fill="none"/><path d="M552.00 274.6V251.6M528.40 274.6V259.3M544.70 274.6V262.6M488.90 274.6V265.1M492.00 274.6V265.1M496.30 274.6V265.1M499.80 274.6V265.1M504.40 274.6V265.1M506.40 274.6V265.1M511.20 274.6V265.1M521.00 274.6V265.1M526.70 274.6V265.1M531.00 274.6V265.1M549.10 274.6V265.1M558.80 274.6V265.1M514.10 274.6V268.2M533.50 274.6V267.5M541.00 274.6V267.5" stroke="#e3242b" stroke-width="0.95" stroke-opacity="0.8" fill="none"/><rect x="482.0" y="272.9" width="81.0" height="3.0" fill="#e3242b"/><rect x="482.0" y="273.1" width="4" height="4.7" fill="#e3242b"/><rect x="560.0" y="272.6" width="3" height="4" fill="#e3242b"/></g>
<g><text x="478.8" y="297.7" class="yl">0.47</text><line x1="480.2" y1="296.2" x2="482.0" y2="296.2" stroke="#5a72c0" stroke-width="0.6"/><text x="478.8" y="311.9" class="yl">0.37</text><line x1="480.2" y1="310.4" x2="482.0" y2="310.4" stroke="#5a72c0" stroke-width="0.6"/><text x="478.8" y="326.0" class="yl">0.27</text><line x1="480.2" y1="324.5" x2="482.0" y2="324.5" stroke="#5a72c0" stroke-width="0.6"/><text x="478.8" y="340.2" class="yl">0.17</text><line x1="480.2" y1="338.7" x2="482.0" y2="338.7" stroke="#5a72c0" stroke-width="0.6"/><text x="478.8" y="354.3" class="yl">0.07</text><line x1="480.2" y1="352.8" x2="482.0" y2="352.8" stroke="#5a72c0" stroke-width="0.6"/><text x="478.8" y="368.5" class="yl">-0.03</text><line x1="480.2" y1="367.0" x2="482.0" y2="367.0" stroke="#5a72c0" stroke-width="0.6"/><line x1="482.5" y1="291.7" x2="482.5" y2="367.0" stroke="#5a72c0" stroke-width="1"/><text x="482.0" y="370.6" class="xl">0</text><text x="500.4" y="370.6" class="xl">100000</text><text x="518.8" y="370.6" class="xl">200000</text><text x="537.2" y="370.6" class="xl">300000</text><text x="555.6" y="370.6" class="xl">400000</text><polygon points="482.60,363.46 482.60,358.64 483.12,358.64 483.12,360.36 483.66,360.36 483.66,360.88 484.47,360.88 484.47,358.66 485.06,358.66 485.06,357.74 486.05,357.74 486.05,360.94 487.30,360.94 487.30,361.02 488.34,361.02 488.34,357.79 489.34,357.79 489.34,361.46 489.89,361.46 489.89,359.83 491.17,359.83 491.17,360.28 492.03,360.28 492.03,360.79 493.16,360.79 493.16,359.39 493.62,359.39 493.62,358.14 494.11,358.14 494.11,359.92 494.61,359.92 494.61,360.39 495.38,360.39 495.38,358.21 495.82,358.21 495.82,359.64 496.68,359.64 496.68,361.28 497.82,361.28 497.82,361.30 498.31,361.30 498.31,361.02 499.27,361.02 499.27,357.87 500.49,357.87 500.49,358.32 501.61,358.32 501.61,359.92 502.90,359.92 502.90,359.63 504.09,359.63 504.09,360.86 504.61,360.86 504.61,358.97 505.34,358.97 505.34,358.70 506.01,358.70 506.01,356.29 506.48,356.29 506.48,361.15 506.85,361.15 506.85,358.10 507.35,358.10 507.35,360.21 508.11,360.21 508.11,359.74 508.89,359.74 508.89,360.56 509.97,360.56 509.97,360.54 510.90,360.54 510.90,357.17 512.09,357.17 512.09,357.58 512.60,357.58 512.60,361.34 513.64,361.34 513.64,355.79 514.78,355.79 514.78,356.33 515.83,356.33 515.83,361.30 517.06,361.30 517.06,357.86 518.21,357.86 518.21,360.15 518.68,360.15 518.68,360.11 519.10,360.11 519.10,358.54 520.34,358.54 520.34,359.80 521.07,359.80 521.07,361.56 522.37,361.56 522.37,362.32 523.48,362.32 523.48,361.11 524.09,361.11 524.09,358.47 524.57,358.47 524.57,357.79 525.02,357.79 525.02,357.89 525.62,357.89 525.62,361.81 526.47,361.81 526.47,357.60 527.65,357.60 527.65,357.30 528.16,357.30 528.16,360.03 528.85,360.03 528.85,355.76 529.71,355.76 529.71,358.44 530.87,358.44 530.87,357.62 531.24,357.62 531.24,357.47 531.77,357.47 531.77,358.00 532.50,358.00 532.50,360.92 533.40,360.92 533.40,359.18 533.88,359.18 533.88,358.45 534.36,358.45 534.36,359.38 534.72,359.38 534.72,361.17 535.56,361.17 535.56,360.85 536.38,360.85 536.38,359.68 536.79,359.68 536.79,360.82 537.62,360.82 537.62,359.40 538.91,359.40 538.91,357.73 539.28,357.73 539.28,361.10 540.17,361.10 540.17,356.98 541.46,356.98 541.46,357.74 542.20,357.74 542.20,360.91 542.58,360.91 542.58,358.39 543.01,358.39 543.01,358.66 543.55,358.66 543.55,361.03 544.15,361.03 544.15,359.37 545.30,359.37 545.30,359.45 546.31,359.45 546.31,361.87 547.01,361.87 547.01,355.31 547.42,355.31 547.42,361.53 548.14,361.53 548.14,356.43 548.74,356.43 548.74,358.95 549.93,358.95 549.93,361.03 550.60,361.03 550.60,360.94 551.83,360.94 551.83,359.64 552.35,359.64 552.35,361.19 552.90,361.19 552.90,357.61 554.02,357.61 554.02,357.98 554.42,357.98 554.42,358.66 555.09,358.66 555.09,357.81 556.00,357.81 556.00,359.32 556.66,359.32 556.66,360.53 557.23,360.53 557.23,361.21 557.93,361.21 557.93,357.77 558.72,357.77 558.72,360.84 559.54,360.84 559.54,360.78 560.07,360.78 560.07,355.80 560.78,355.80 560.78,361.04 562.01,361.04 562.01,357.52 562.50,357.52 562.50,363.46" fill="#3c58a4" fill-opacity="0.75"/><polyline points="482.60,363.46 482.60,358.64 483.12,358.64 483.12,360.36 483.66,360.36 483.66,360.88 484.47,360.88 484.47,358.66 485.06,358.66 485.06,357.74 486.05,357.74 486.05,360.94 487.30,360.94 487.30,361.02 488.34,361.02 488.34,357.79 489.34,357.79 489.34,361.46 489.89,361.46 489.89,359.83 491.17,359.83 491.17,360.28 492.03,360.28 492.03,360.79 493.16,360.79 493.16,359.39 493.62,359.39 493.62,358.14 494.11,358.14 494.11,359.92 494.61,359.92 494.61,360.39 495.38,360.39 495.38,358.21 495.82,358.21 495.82,359.64 496.68,359.64 496.68,361.28 497.82,361.28 497.82,361.30 498.31,361.30 498.31,361.02 499.27,361.02 499.27,357.87 500.49,357.87 500.49,358.32 501.61,358.32 501.61,359.92 502.90,359.92 502.90,359.63 504.09,359.63 504.09,360.86 504.61,360.86 504.61,358.97 505.34,358.97 505.34,358.70 506.01,358.70 506.01,356.29 506.48,356.29 506.48,361.15 506.85,361.15 506.85,358.10 507.35,358.10 507.35,360.21 508.11,360.21 508.11,359.74 508.89,359.74 508.89,360.56 509.97,360.56 509.97,360.54 510.90,360.54 510.90,357.17 512.09,357.17 512.09,357.58 512.60,357.58 512.60,361.34 513.64,361.34 513.64,355.79 514.78,355.79 514.78,356.33 515.83,356.33 515.83,361.30 517.06,361.30 517.06,357.86 518.21,357.86 518.21,360.15 518.68,360.15 518.68,360.11 519.10,360.11 519.10,358.54 520.34,358.54 520.34,359.80 521.07,359.80 521.07,361.56 522.37,361.56 522.37,362.32 523.48,362.32 523.48,361.11 524.09,361.11 524.09,358.47 524.57,358.47 524.57,357.79 525.02,357.79 525.02,357.89 525.62,357.89 525.62,361.81 526.47,361.81 526.47,357.60 527.65,357.60 527.65,357.30 528.16,357.30 528.16,360.03 528.85,360.03 528.85,355.76 529.71,355.76 529.71,358.44 530.87,358.44 530.87,357.62 531.24,357.62 531.24,357.47 531.77,357.47 531.77,358.00 532.50,358.00 532.50,360.92 533.40,360.92 533.40,359.18 533.88,359.18 533.88,358.45 534.36,358.45 534.36,359.38 534.72,359.38 534.72,361.17 535.56,361.17 535.56,360.85 536.38,360.85 536.38,359.68 536.79,359.68 536.79,360.82 537.62,360.82 537.62,359.40 538.91,359.40 538.91,357.73 539.28,357.73 539.28,361.10 540.17,361.10 540.17,356.98 541.46,356.98 541.46,357.74 542.20,357.74 542.20,360.91 542.58,360.91 542.58,358.39 543.01,358.39 543.01,358.66 543.55,358.66 543.55,361.03 544.15,361.03 544.15,359.37 545.30,359.37 545.30,359.45 546.31,359.45 546.31,361.87 547.01,361.87 547.01,355.31 547.42,355.31 547.42,361.53 548.14,361.53 548.14,356.43 548.74,356.43 548.74,358.95 549.93,358.95 549.93,361.03 550.60,361.03 550.60,360.94 551.83,360.94 551.83,359.64 552.35,359.64 552.35,361.19 552.90,361.19 552.90,357.61 554.02,357.61 554.02,357.98 554.42,357.98 554.42,358.66 555.09,358.66 555.09,357.81 556.00,357.81 556.00,359.32 556.66,359.32 556.66,360.53 557.23,360.53 557.23,361.21 557.93,361.21 557.93,357.77 558.72,357.77 558.72,360.84 559.54,360.84 559.54,360.78 560.07,360.78 560.07,355.80 560.78,355.80 560.78,361.04 562.01,361.04 562.01,357.52 562.50,357.52 562.50,363.46" fill="none" stroke="#3c58a4" stroke-width="0.45" stroke-opacity="0.8"/><rect x="482.0" y="361.9" width="81.0" height="2.8" fill="#3c58a4"/><rect x="482.0" y="362.0" width="4" height="4.7" fill="#3c58a4"/><rect x="560.0" y="361.5" width="3" height="4" fill="#3c58a4"/></g>
<text x="665.6" y="224.3" class="tt">Chr X</text>
<g><text x="586.3" y="209.0" class="yl">0.47</text><line x1="587.7" y1="207.5" x2="589.5" y2="207.5" stroke="#f07272" stroke-width="0.6"/><text x="586.3" y="223.1" class="yl">0.37</text><line x1="587.7" y1="221.6" x2="589.5" y2="221.6" stroke="#f07272" stroke-width="0.6"/><text x="586.3" y="237.2" class="yl">0.27</text><line x1="587.7" y1="235.7" x2="589.5" y2="235.7" stroke="#f07272" stroke-width="0.6"/><text x="586.3" y="251.4" class="yl">0.17</text><line x1="587.7" y1="249.9" x2="589.5" y2="249.9" stroke="#f07272" stroke-width="0.6"/><text x="586.3" y="265.5" class="yl">0.07</text><line x1="587.7" y1="264.0" x2="589.5" y2="264.0" stroke="#f07272" stroke-width="0.6"/><text x="586.3" y="279.6" class="yl">-0.03</text><line x1="587.7" y1="278.1" x2="589.5" y2="278.1" stroke="#f07272" stroke-width="0.6"/><line x1="589.5" y1="203.0" x2="589.5" y2="278.1" stroke="#f07272" stroke-width="1"/><text x="589.5" y="281.7" class="xl">0</text><text x="608.5" y="281.7" class="xl">100000</text><text x="627.5" y="281.7" class="xl">200000</text><text x="646.5" y="281.7" class="xl">300000</text><text x="665.5" y="281.7" class="xl">400000</text><text x="684.5" y="281.7" class="xl">500000</text><text x="703.5" y="281.7" class="xl">600000</text><text x="722.5" y="281.7" class="xl">700000</text><polygon points="590.10,274.57 590.10,270.57 591.14,270.57 591.14,269.49 592.05,269.49 592.05,273.00 592.78,273.00 592.78,272.99 593.49,272.99 593.49,272.91 594.08,272.91 594.08,273.32 595.03,273.32 595.03,270.87 595.69,270.87 595.69,270.81 596.78,270.81 596.78,270.04 597.36,270.04 597.36,271.07 598.18,271.07 598.18,267.92 599.41,267.92 599.41,272.52 600.67,272.52 600.67,270.86 601.76,270.86 601.76,271.51 602.37,271.51 602.37,274.57 603.43,274.57 603.43,271.48 604.30,271.48 604.30,270.91 605.18,270.91 605.18,267.73 606.40,267.73 606.40,274.57 607.09,274.57 607.09,274.57 607.89,274.57 607.89,273.22 608.96,273.22 608.96,270.08 609.69,270.08 609.69,272.29 610.55,272.29 610.55,272.28 611.09,272.28 611.09,274.57 612.19,274.57 612.19,270.26 612.75,270.26 612.75,271.13 613.26,271.13 613.26,272.96 613.83,272.96 613.83,274.57 614.70,274.57 614.70,268.13 615.70,268.13 615.70,270.31 616.25,270.31 616.25,270.27 616.76,270.27 616.76,268.36 618.02,268.36 618.02,269.07 618.99,269.07 618.99,274.57 619.90,274.57 619.90,271.27 621.02,271.27 621.02,270.05 621.67,270.05 621.67,272.57 622.28,272.57 622.28,268.05 622.99,268.05 622.99,270.21 624.26,270.21 624.26,270.78 624.98,270.78 624.98,274.57 625.87,274.57 625.87,272.66 627.05,272.66 627.05,269.78 628.29,269.78 628.29,270.89 629.00,270.89 629.00,270.74 629.76,270.74 629.76,267.27 630.93,267.27 630.93,270.81 631.97,270.81 631.97,271.03 632.50,271.03 632.50,270.92 633.29,270.92 633.29,271.78 634.03,271.78 634.03,267.09 634.84,267.09 634.84,270.14 635.87,270.14 635.87,268.33 636.79,268.33 636.79,270.36 637.32,270.36 637.32,269.86 638.02,269.86 638.02,272.95 638.74,272.95 638.74,271.58 639.71,271.58 639.71,270.44 640.57,270.44 640.57,270.22 641.35,270.22 641.35,271.87 642.06,271.87 642.06,271.06 642.74,271.06 642.74,271.47 643.70,271.47 643.70,274.57 644.36,274.57 644.36,270.64 644.96,270.64 644.96,270.56 646.21,270.56 646.21,272.92 646.74,272.92 646.74,270.80 647.43,270.80 647.43,271.39 648.04,271.39 648.04,271.55 648.69,271.55 648.69,271.60 649.79,271.60 649.79,265.63 650.83,265.63 650.83,268.95 652.01,268.95 652.01,270.85 652.90,270.85 652.90,271.70 654.17,271.70 654.17,271.70 654.74,271.70 654.74,265.14 655.73,265.14 655.73,273.13 657.02,273.13 657.02,269.44 657.58,269.44 657.58,269.60 658.14,269.60 658.14,274.57 659.06,274.57 659.06,270.19 659.59,270.19 659.59,266.80 660.34,266.80 660.34,267.37 660.96,267.37 660.96,272.36 661.75,272.36 661.75,272.38 662.64,272.38 662.64,265.52 663.23,265.52 663.23,271.13 663.89,271.13 663.89,273.08 664.85,273.08 664.85,274.57 665.75,274.57 665.75,271.23 667.04,271.23 667.04,273.16 668.02,273.16 668.02,271.59 668.83,271.59 668.83,273.16 670.07,273.16 670.07,268.67 670.96,268.67 670.96,266.17 671.89,266.17 671.89,272.56 672.67,272.56 672.67,271.31 673.68,271.31 673.68,265.76 674.19,265.76 674.19,268.65 675.36,268.65 675.36,265.23 676.01,265.23 676.01,270.62 676.56,270.62 676.56,270.28 677.08,270.28 677.08,271.94 677.94,271.94 677.94,272.12 678.98,272.12 678.98,270.45 680.21,270.45 680.21,272.00 680.78,272.00 680.78,269.19 682.04,269.19 682.04,271.26 683.11,271.26 683.11,274.57 684.32,274.57 684.32,273.19 684.89,273.19 684.89,270.58 685.70,270.58 685.70,271.42 686.94,271.42 686.94,274.57 687.88,274.57 687.88,272.61 688.91,272.61 688.91,269.23 689.76,269.23 689.76,272.56 690.48,272.56 690.48,265.16 691.29,265.16 691.29,269.95 692.55,269.95 692.55,273.16 693.49,273.16 693.49,270.23 694.14,270.23 694.14,273.31 694.67,273.31 694.67,272.62 695.59,272.62 695.59,270.72 696.38,270.72 696.38,274.57 697.51,274.57 697.51,269.96 698.62,269.96 698.62,271.90 699.24,271.90 699.24,272.80 700.51,272.80 700.51,271.83 701.28,271.83 701.28,269.70 702.18,269.70 702.18,268.20 703.19,268.20 703.19,274.57 704.04,274.57 704.04,270.35 704.94,270.35 704.94,270.50 706.12,270.50 706.12,267.86 707.28,267.86 707.28,268.16 707.99,268.16 707.99,269.95 708.74,269.95 708.74,272.61 709.89,272.61 709.89,272.15 710.92,272.15 710.92,269.59 712.05,269.59 712.05,271.79 712.80,271.79 712.80,274.57 713.80,274.57 713.80,272.04 714.64,272.04 714.64,272.29 715.92,272.29 715.92,274.57 717.10,274.57 717.10,274.57 717.96,274.57 717.96,270.14 718.74,270.14 718.74,270.50 719.46,270.50 719.46,269.93 720.25,269.93 720.25,269.95 721.38,269.95 721.38,271.23 722.24,271.23 722.24,274.57 723.13,274.57 723.13,270.93 724.31,270.93 724.31,270.72 725.50,270.72 725.50,269.80 726.69,269.80 726.69,269.60 727.40,269.60 727.40,269.55 728.22,269.55 728.22,271.50 729.19,271.50 729.19,267.96 729.78,267.96 729.78,271.42 730.41,271.42 730.41,268.44 730.50,268.44 730.50,274.57" fill="#e3242b" fill-opacity="0.16"/><path d="M590.10 274.6V270.57M591.14 274.6V269.49M592.05 274.6V273.00M592.78 274.6V272.99M593.49 274.6V272.91M594.08 274.6V273.32M595.03 274.6V270.87M595.69 274.6V270.81M596.78 274.6V270.04M597.36 274.6V271.07M598.18 274.6V267.92M599.41 274.6V272.52M600.67 274.6V270.86M601.76 274.6V271.51M603.43 274.6V271.48M604.30 274.6V270.91M605.18 274.6V267.73M607.89 274.6V273.22M608.96 274.6V270.08M609.69 274.6V272.29M610.55 274.6V272.28M612.19 274.6V270.26M612.75 274.6V271.13M613.26 274.6V272.96M614.70 274.6V268.13M615.70 274.6V270.31M616.25 274.6V270.27M616.76 274.6V268.36M618.02 274.6V269.07M619.90 274.6V271.27M621.02 274.6V270.05M621.67 274.6V272.57M622.28 274.6V268.05M622.99 274.6V270.21M624.26 274.6V270.78M625.87 274.6V272.66M627.05 274.6V269.78M628.29 274.6V270.89M629.00 274.6V270.74M629.76 274.6V267.27M630.93 274.6V270.81M631.97 274.6V271.03M632.50 274.6V270.92M633.29 274.6V271.78M634.03 274.6V267.09M634.84 274.6V270.14M635.87 274.6V268.33M636.79 274.6V270.36M637.32 274.6V269.86M638.02 274.6V272.95M638.74 274.6V271.58M639.71 274.6V270.44M640.57 274.6V270.22M641.35 274.6V271.87M642.06 274.6V271.06M642.74 274.6V271.47M644.36 274.6V270.64M644.96 274.6V270.56M646.21 274.6V272.92M646.74 274.6V270.80M647.43 274.6V271.39M648.04 274.6V271.55M648.69 274.6V271.60M649.79 274.6V265.63M650.83 274.6V268.95M652.01 274.6V270.85M652.90 274.6V271.70M654.17 274.6V271.70M654.74 274.6V265.14M655.73 274.6V273.13M657.02 274.6V269.44M657.58 274.6V269.60M659.06 274.6V270.19M659.59 274.6V266.80M660.34 274.6V267.37M660.96 274.6V272.36M661.75 274.6V272.38M662.64 274.6V265.52M663.23 274.6V271.13M663.89 274.6V273.08M665.75 274.6V271.23M667.04 274.6V273.16M668.02 274.6V271.59M668.83 274.6V273.16M670.07 274.6V268.67M670.96 274.6V266.17M671.89 274.6V272.56M672.67 274.6V271.31M673.68 274.6V265.76M674.19 274.6V268.65M675.36 274.6V265.23M676.01 274.6V270.62M676.56 274.6V270.28M677.08 274.6V271.94M677.94 274.6V272.12M678.98 274.6V270.45M680.21 274.6V272.00M680.78 274.6V269.19M682.04 274.6V271.26M684.32 274.6V273.19M684.89 274.6V270.58M685.70 274.6V271.42M687.88 274.6V272.61M688.91 274.6V269.23M689.76 274.6V272.56M690.48 274.6V265.16M691.29 274.6V269.95M692.55 274.6V273.16M693.49 274.6V270.23M694.14 274.6V273.31M694.67 274.6V272.62M695.59 274.6V270.72M697.51 274.6V269.96M698.62 274.6V271.90M699.24 274.6V272.80M700.51 274.6V271.83M701.28 274.6V269.70M702.18 274.6V268.20M704.04 274.6V270.35M704.94 274.6V270.50M706.12 274.6V267.86M707.28 274.6V268.16M707.99 274.6V269.95M708.74 274.6V272.61M709.89 274.6V272.15M710.92 274.6V269.59M712.05 274.6V271.79M713.80 274.6V272.04M714.64 274.6V272.29M717.96 274.6V270.14M718.74 274.6V270.50M719.46 274.6V269.93M720.25 274.6V269.95M721.38 274.6V271.23M723.13 274.6V270.93M724.31 274.6V270.72M725.50 274.6V269.80M726.69 274.6V269.60M727.40 274.6V269.55M728.22 274.6V271.50M729.19 274.6V267.96M729.78 274.6V271.42M730.41 274.6V268.44" stroke="#e3242b" stroke-width="0.7" stroke-opacity="0.85" fill="none"/><path d="M622.30 274.6V213.9M619.40 274.6V250.6M706.90 274.6V247.2M653.40 274.6V252.8M612.30 274.6V255.8M727.40 274.6V255.8M715.50 274.6V258.2M675.40 274.6V261.0M666.20 274.6V264.0M688.00 274.6V264.0M691.00 274.6V264.0M709.20 274.6V264.0M615.60 274.6V264.0M623.20 274.6V264.0M596.80 274.6V266.8M609.50 274.6V266.8M632.80 274.6V266.8M635.00 274.6V266.8M648.70 274.6V266.8M698.70 274.6V266.8M669.00 274.6V267.5M681.00 274.6V267.5" stroke="#e3242b" stroke-width="0.95" stroke-opacity="0.8" fill="none"/><rect x="589.5" y="272.9" width="141.5" height="3.0" fill="#e3242b"/><rect x="589.5" y="273.1" width="4" height="4.7" fill="#e3242b"/><rect x="728.0" y="272.6" width="3" height="4" fill="#e3242b"/></g>
<g><text x="586.3" y="297.7" class="yl">0.47</text><line x1="587.7" y1="296.2" x2="589.5" y2="296.2" stroke="#5a72c0" stroke-width="0.6"/><text x="586.3" y="311.9" class="yl">0.37</text><line x1="587.7" y1="310.4" x2="589.5" y2="310.4" stroke="#5a72c0" stroke-width="0.6"/><text x="586.3" y="326.0" class="yl">0.27</text><line x1="587.7" y1="324.5" x2="589.5" y2="324.5" stroke="#5a72c0" stroke-width="0.6"/><text x="586.3" y="340.2" class="yl">0.17</text><line x1="587.7" y1="338.7" x2="589.5" y2="338.7" stroke="#5a72c0" stroke-width="0.6"/><text x="586.3" y="354.3" class="yl">0.07</text><line x1="587.7" y1="352.8" x2="589.5" y2="352.8" stroke="#5a72c0" stroke-width="0.6"/><text x="586.3" y="368.5" class="yl">-0.03</text><line x1="587.7" y1="367.0" x2="589.5" y2="367.0" stroke="#5a72c0" stroke-width="0.6"/><line x1="589.5" y1="291.7" x2="589.5" y2="367.0" stroke="#5a72c0" stroke-width="1"/><text x="589.5" y="370.6" class="xl">0</text><text x="607.8" y="370.6" class="xl">100000</text><text x="626.1" y="370.6" class="xl">200000</text><text x="644.5" y="370.6" class="xl">300000</text><text x="662.8" y="370.6" class="xl">400000</text><text x="681.1" y="370.6" class="xl">500000</text><text x="699.4" y="370.6" class="xl">600000</text><text x="717.8" y="370.6" class="xl">700000</text><polygon points="590.10,363.46 590.10,357.91 591.31,357.91 591.31,360.04 592.52,360.04 592.52,358.24 593.73,358.24 593.73,359.23 594.24,359.23 594.24,359.33 594.69,359.33 594.69,360.76 595.47,360.76 595.47,360.51 596.68,360.51 596.68,358.38 597.62,358.38 597.62,361.40 598.05,361.40 598.05,359.91 598.49,359.91 598.49,358.93 599.11,358.93 599.11,361.81 599.57,361.81 599.57,360.94 600.74,360.94 600.74,358.70 601.10,358.70 601.10,358.19 601.58,358.19 601.58,360.03 602.36,360.03 602.36,361.10 603.23,361.10 603.23,358.04 604.47,358.04 604.47,360.70 605.76,360.70 605.76,360.30 606.22,360.30 606.22,355.61 606.99,355.61 606.99,359.21 607.45,359.21 607.45,359.82 608.42,359.82 608.42,359.75 609.67,359.75 609.67,359.01 610.07,359.01 610.07,361.31 610.86,361.31 610.86,362.32 611.92,362.32 611.92,358.70 612.35,358.70 612.35,362.36 612.74,362.36 612.74,362.58 613.57,362.58 613.57,361.17 614.55,361.17 614.55,360.85 615.20,360.85 615.20,361.03 615.92,361.03 615.92,360.22 616.48,360.22 616.48,358.45 617.68,358.45 617.68,360.04 618.03,360.04 618.03,357.67 618.76,357.67 618.76,360.80 619.40,360.80 619.40,362.30 620.39,362.30 620.39,359.28 621.57,359.28 621.57,358.43 622.30,358.43 622.30,361.00 622.74,361.00 622.74,358.31 623.96,358.31 623.96,359.29 625.19,359.29 625.19,360.81 626.22,360.81 626.22,361.50 627.37,361.50 627.37,358.16 627.76,358.16 627.76,360.16 628.50,360.16 628.50,361.36 629.19,361.36 629.19,358.57 630.16,358.57 630.16,360.90 631.33,360.90 631.33,357.31 632.44,357.31 632.44,359.72 633.62,359.72 633.62,356.75 634.24,356.75 634.24,362.46 634.79,362.46 634.79,359.18 635.23,359.18 635.23,361.16 635.69,361.16 635.69,361.84 636.78,361.84 636.78,360.96 637.46,360.96 637.46,360.59 638.31,360.59 638.31,359.89 639.03,359.89 639.03,359.86 639.65,359.86 639.65,359.07 640.29,359.07 640.29,361.19 641.10,361.19 641.10,358.39 642.08,358.39 642.08,355.27 642.77,355.27 642.77,360.03 643.71,360.03 643.71,358.30 644.73,358.30 644.73,358.12 645.80,358.12 645.80,360.99 646.65,360.99 646.65,360.41 647.48,360.41 647.48,357.22 648.00,357.22 648.00,359.42 649.19,359.42 649.19,360.86 650.37,360.86 650.37,359.07 651.67,359.07 651.67,362.27 652.27,362.27 652.27,362.56 652.69,362.56 652.69,358.35 653.49,358.35 653.49,358.98 654.48,358.98 654.48,360.53 655.50,360.53 655.50,359.92 656.76,359.92 656.76,361.13 657.85,361.13 657.85,361.05 658.38,361.05 658.38,361.74 659.11,361.74 659.11,359.02 660.19,359.02 660.19,357.73 660.75,357.73 660.75,358.86 661.79,358.86 661.79,360.41 662.42,360.41 662.42,359.64 663.11,359.64 663.11,359.63 663.64,359.63 663.64,360.62 664.13,360.62 664.13,355.52 664.75,355.52 664.75,361.94 665.22,361.94 665.22,361.63 666.05,361.63 666.05,361.27 667.23,361.27 667.23,358.05 667.77,358.05 667.77,357.41 668.54,357.41 668.54,357.81 669.54,357.81 669.54,358.25 669.98,358.25 669.98,359.30 670.93,359.30 670.93,360.23 672.20,360.23 672.20,360.72 673.05,360.72 673.05,358.34 673.63,358.34 673.63,360.83 674.41,360.83 674.41,358.77 675.61,358.77 675.61,360.04 676.25,360.04 676.25,357.37 677.46,357.37 677.46,361.96 678.63,361.96 678.63,360.96 679.72,360.96 679.72,359.59 680.13,359.59 680.13,358.55 680.48,358.55 680.48,360.43 681.72,360.43 681.72,358.42 682.35,358.42 682.35,357.82 683.36,357.82 683.36,361.05 683.99,361.05 683.99,361.40 684.93,361.40 684.93,358.91 685.61,358.91 685.61,359.26 686.24,359.26 686.24,356.07 687.46,356.07 687.46,360.71 688.17,360.71 688.17,361.18 689.26,361.18 689.26,359.19 690.45,359.19 690.45,360.40 690.88,360.40 690.88,359.25 692.02,359.25 692.02,359.26 692.70,359.26 692.70,358.92 693.78,358.92 693.78,360.42 695.04,360.42 695.04,361.42 696.22,361.42 696.22,359.33 697.16,359.33 697.16,359.78 698.43,359.78 698.43,358.45 698.80,358.45 698.80,360.41 699.45,360.41 699.45,361.42 700.24,361.42 700.24,361.65 700.62,361.65 700.62,359.40 701.37,359.40 701.37,357.70 701.80,357.70 701.80,359.17 702.56,359.17 702.56,361.78 703.28,361.78 703.28,356.32 704.55,356.32 704.55,359.20 705.68,359.20 705.68,360.50 706.33,360.50 706.33,362.60 706.99,362.60 706.99,359.58 707.46,359.58 707.46,358.82 708.41,358.82 708.41,361.32 709.00,361.32 709.00,361.33 709.85,361.33 709.85,360.46 710.99,360.46 710.99,362.57 711.78,362.57 711.78,355.80 712.95,355.80 712.95,361.12 713.74,361.12 713.74,360.07 714.59,360.07 714.59,356.96 715.88,356.96 715.88,361.56 716.46,361.56 716.46,357.98 717.73,357.98 717.73,356.80 718.64,356.80 718.64,356.14 719.46,356.14 719.46,360.84 720.15,360.84 720.15,359.86 721.32,359.86 721.32,358.31 722.47,358.31 722.47,358.81 722.88,358.81 722.88,362.04 723.40,362.04 723.40,361.24 724.35,361.24 724.35,360.96 725.13,360.96 725.13,360.91 725.50,360.91 725.50,363.46" fill="#3c58a4" fill-opacity="0.75"/><polyline points="590.10,363.46 590.10,357.91 591.31,357.91 591.31,360.04 592.52,360.04 592.52,358.24 593.73,358.24 593.73,359.23 594.24,359.23 594.24,359.33 594.69,359.33 594.69,360.76 595.47,360.76 595.47,360.51 596.68,360.51 596.68,358.38 597.62,358.38 597.62,361.40 598.05,361.40 598.05,359.91 598.49,359.91 598.49,358.93 599.11,358.93 599.11,361.81 599.57,361.81 599.57,360.94 600.74,360.94 600.74,358.70 601.10,358.70 601.10,358.19 601.58,358.19 601.58,360.03 602.36,360.03 602.36,361.10 603.23,361.10 603.23,358.04 604.47,358.04 604.47,360.70 605.76,360.70 605.76,360.30 606.22,360.30 606.22,355.61 606.99,355.61 606.99,359.21 607.45,359.21 607.45,359.82 608.42,359.82 608.42,359.75 609.67,359.75 609.67,359.01 610.07,359.01 610.07,361.31 610.86,361.31 610.86,362.32 611.92,362.32 611.92,358.70 612.35,358.70 612.35,362.36 612.74,362.36 612.74,362.58 613.57,362.58 613.57,361.17 614.55,361.17 614.55,360.85 615.20,360.85 615.20,361.03 615.92,361.03 615.92,360.22 616.48,360.22 616.48,358.45 617.68,358.45 617.68,360.04 618.03,360.04 618.03,357.67 618.76,357.67 618.76,360.80 619.40,360.80 619.40,362.30 620.39,362.30 620.39,359.28 621.57,359.28 621.57,358.43 622.30,358.43 622.30,361.00 622.74,361.00 622.74,358.31 623.96,358.31 623.96,359.29 625.19,359.29 625.19,360.81 626.22,360.81 626.22,361.50 627.37,361.50 627.37,358.16 627.76,358.16 627.76,360.16 628.50,360.16 628.50,361.36 629.19,361.36 629.19,358.57 630.16,358.57 630.16,360.90 631.33,360.90 631.33,357.31 632.44,357.31 632.44,359.72 633.62,359.72 633.62,356.75 634.24,356.75 634.24,362.46 634.79,362.46 634.79,359.18 635.23,359.18 635.23,361.16 635.69,361.16 635.69,361.84 636.78,361.84 636.78,360.96 637.46,360.96 637.46,360.59 638.31,360.59 638.31,359.89 639.03,359.89 639.03,359.86 639.65,359.86 639.65,359.07 640.29,359.07 640.29,361.19 641.10,361.19 641.10,358.39 642.08,358.39 642.08,355.27 642.77,355.27 642.77,360.03 643.71,360.03 643.71,358.30 644.73,358.30 644.73,358.12 645.80,358.12 645.80,360.99 646.65,360.99 646.65,360.41 647.48,360.41 647.48,357.22 648.00,357.22 648.00,359.42 649.19,359.42 649.19,360.86 650.37,360.86 650.37,359.07 651.67,359.07 651.67,362.27 652.27,362.27 652.27,362.56 652.69,362.56 652.69,358.35 653.49,358.35 653.49,358.98 654.48,358.98 654.48,360.53 655.50,360.53 655.50,359.92 656.76,359.92 656.76,361.13 657.85,361.13 657.85,361.05 658.38,361.05 658.38,361.74 659.11,361.74 659.11,359.02 660.19,359.02 660.19,357.73 660.75,357.73 660.75,358.86 661.79,358.86 661.79,360.41 662.42,360.41 662.42,359.64 663.11,359.64 663.11,359.63 663.64,359.63 663.64,360.62 664.13,360.62 664.13,355.52 664.75,355.52 664.75,361.94 665.22,361.94 665.22,361.63 666.05,361.63 666.05,361.27 667.23,361.27 667.23,358.05 667.77,358.05 667.77,357.41 668.54,357.41 668.54,357.81 669.54,357.81 669.54,358.25 669.98,358.25 669.98,359.30 670.93,359.30 670.93,360.23 672.20,360.23 672.20,360.72 673.05,360.72 673.05,358.34 673.63,358.34 673.63,360.83 674.41,360.83 674.41,358.77 675.61,358.77 675.61,360.04 676.25,360.04 676.25,357.37 677.46,357.37 677.46,361.96 678.63,361.96 678.63,360.96 679.72,360.96 679.72,359.59 680.13,359.59 680.13,358.55 680.48,358.55 680.48,360.43 681.72,360.43 681.72,358.42 682.35,358.42 682.35,357.82 683.36,357.82 683.36,361.05 683.99,361.05 683.99,361.40 684.93,361.40 684.93,358.91 685.61,358.91 685.61,359.26 686.24,359.26 686.24,356.07 687.46,356.07 687.46,360.71 688.17,360.71 688.17,361.18 689.26,361.18 689.26,359.19 690.45,359.19 690.45,360.40 690.88,360.40 690.88,359.25 692.02,359.25 692.02,359.26 692.70,359.26 692.70,358.92 693.78,358.92 693.78,360.42 695.04,360.42 695.04,361.42 696.22,361.42 696.22,359.33 697.16,359.33 697.16,359.78 698.43,359.78 698.43,358.45 698.80,358.45 698.80,360.41 699.45,360.41 699.45,361.42 700.24,361.42 700.24,361.65 700.62,361.65 700.62,359.40 701.37,359.40 701.37,357.70 701.80,357.70 701.80,359.17 702.56,359.17 702.56,361.78 703.28,361.78 703.28,356.32 704.55,356.32 704.55,359.20 705.68,359.20 705.68,360.50 706.33,360.50 706.33,362.60 706.99,362.60 706.99,359.58 707.46,359.58 707.46,358.82 708.41,358.82 708.41,361.32 709.00,361.32 709.00,361.33 709.85,361.33 709.85,360.46 710.99,360.46 710.99,362.57 711.78,362.57 711.78,355.80 712.95,355.80 712.95,361.12 713.74,361.12 713.74,360.07 714.59,360.07 714.59,356.96 715.88,356.96 715.88,361.56 716.46,361.56 716.46,357.98 717.73,357.98 717.73,356.80 718.64,356.80 718.64,356.14 719.46,356.14 719.46,360.84 720.15,360.84 720.15,359.86 721.32,359.86 721.32,358.31 722.47,358.31 722.47,358.81 722.88,358.81 722.88,362.04 723.40,362.04 723.40,361.24 724.35,361.24 724.35,360.96 725.13,360.96 725.13,360.91 725.50,360.91 725.50,363.46" fill="none" stroke="#3c58a4" stroke-width="0.45" stroke-opacity="0.8"/><rect x="589.5" y="361.9" width="136.5" height="2.8" fill="#3c58a4"/><rect x="589.5" y="362.0" width="4" height="4.7" fill="#3c58a4"/><rect x="723.0" y="361.5" width="3" height="4" fill="#3c58a4"/></g>
<text x="90.0" y="423.8" class="tt">Chr XI</text>
<g><text x="20.0" y="411.4" class="yl">0.47</text><line x1="21.4" y1="409.9" x2="23.2" y2="409.9" stroke="#f07272" stroke-width="0.6"/><text x="20.0" y="425.7" class="yl">0.37</text><line x1="21.4" y1="424.2" x2="23.2" y2="424.2" stroke="#f07272" stroke-width="0.6"/><text x="20.0" y="440.0" class="yl">0.27</text><line x1="21.4" y1="438.5" x2="23.2" y2="438.5" stroke="#f07272" stroke-width="0.6"/><text x="20.0" y="454.2" class="yl">0.17</text><line x1="21.4" y1="452.7" x2="23.2" y2="452.7" stroke="#f07272" stroke-width="0.6"/><text x="20.0" y="468.5" class="yl">0.07</text><line x1="21.4" y1="467.0" x2="23.2" y2="467.0" stroke="#f07272" stroke-width="0.6"/><text x="20.0" y="482.8" class="yl">-0.03</text><line x1="21.4" y1="481.3" x2="23.2" y2="481.3" stroke="#f07272" stroke-width="0.6"/><line x1="23.5" y1="405.4" x2="23.5" y2="481.3" stroke="#f07272" stroke-width="1"/><text x="23.2" y="484.9" class="xl">0</text><text x="41.9" y="484.9" class="xl">100000</text><text x="60.6" y="484.9" class="xl">200000</text><text x="79.3" y="484.9" class="xl">300000</text><text x="98.0" y="484.9" class="xl">400000</text><text x="116.8" y="484.9" class="xl">500000</text><text x="135.5" y="484.9" class="xl">600000</text><polygon points="23.80,477.73 23.80,473.42 24.43,473.42 24.43,475.23 25.32,475.23 25.32,473.72 26.46,473.72 26.46,477.73 27.15,477.73 27.15,474.72 27.95,474.72 27.95,476.19 29.08,476.19 29.08,468.69 29.62,468.69 29.62,474.80 30.82,474.80 30.82,474.61 31.58,474.61 31.58,474.52 32.84,474.52 32.84,475.00 33.99,475.00 33.99,474.09 34.86,474.09 34.86,476.52 35.75,476.52 35.75,475.25 36.94,475.25 36.94,468.29 37.60,468.29 37.60,473.55 38.71,473.55 38.71,475.77 39.79,475.77 39.79,475.01 40.95,475.01 40.95,474.04 42.16,474.04 42.16,472.60 43.03,472.60 43.03,477.73 43.83,477.73 43.83,472.61 44.41,472.61 44.41,473.62 45.31,473.62 45.31,475.54 46.40,475.54 46.40,474.46 47.35,474.46 47.35,475.00 47.99,475.00 47.99,474.17 48.76,474.17 48.76,477.73 49.35,477.73 49.35,474.02 50.50,474.02 50.50,472.82 51.54,472.82 51.54,472.61 52.81,472.61 52.81,472.86 54.08,472.86 54.08,474.31 54.97,474.31 54.97,476.47 56.17,476.47 56.17,473.77 57.32,473.77 57.32,477.73 58.49,477.73 58.49,475.87 59.19,475.87 59.19,477.73 59.83,477.73 59.83,470.62 60.60,470.62 60.60,474.30 61.70,474.30 61.70,473.21 62.96,473.21 62.96,475.15 63.49,475.15 63.49,471.39 64.62,471.39 64.62,472.93 65.46,472.93 65.46,474.24 66.21,474.24 66.21,477.73 67.32,477.73 67.32,472.54 68.37,472.54 68.37,472.93 69.35,472.93 69.35,475.89 70.31,475.89 70.31,472.32 71.58,472.32 71.58,477.73 72.16,477.73 72.16,474.55 72.68,474.55 72.68,474.58 73.87,474.58 73.87,475.74 74.80,475.74 74.80,476.27 75.48,476.27 75.48,473.62 76.28,473.62 76.28,472.88 76.82,472.88 76.82,474.86 77.94,474.86 77.94,477.73 78.81,477.73 78.81,475.37 79.92,475.37 79.92,474.16 80.62,474.16 80.62,474.17 81.16,474.17 81.16,475.73 82.38,475.73 82.38,472.39 83.32,472.39 83.32,473.20 84.30,473.20 84.30,475.39 85.57,475.39 85.57,474.73 86.49,474.73 86.49,469.68 87.64,469.68 87.64,470.31 88.40,470.31 88.40,477.73 88.96,477.73 88.96,473.85 90.11,473.85 90.11,477.73 91.11,477.73 91.11,473.69 92.12,473.69 92.12,474.36 92.93,474.36 92.93,474.31 93.47,474.31 93.47,473.22 94.54,473.22 94.54,475.93 95.40,475.93 95.40,472.67 96.29,472.67 96.29,473.75 96.86,473.75 96.86,471.03 97.93,471.03 97.93,473.35 98.93,473.35 98.93,473.31 100.12,473.31 100.12,471.82 100.82,471.82 100.82,470.66 101.81,470.66 101.81,477.73 103.10,477.73 103.10,475.92 103.85,475.92 103.85,474.69 104.47,474.69 104.47,471.11 105.21,471.11 105.21,477.73 106.08,477.73 106.08,474.40 107.34,474.40 107.34,473.32 108.11,473.32 108.11,471.95 108.82,471.95 108.82,472.28 109.52,472.28 109.52,475.56 110.57,475.56 110.57,472.72 111.29,472.72 111.29,473.46 112.16,473.46 112.16,475.93 112.89,475.93 112.89,474.94 113.61,474.94 113.61,472.74 114.13,472.74 114.13,477.73 115.20,477.73 115.20,477.73 116.10,477.73 116.10,474.33 117.08,474.33 117.08,474.66 117.59,474.66 117.59,472.83 118.34,472.83 118.34,475.23 119.13,475.23 119.13,474.76 120.29,474.76 120.29,473.61 120.94,473.61 120.94,472.95 121.62,472.95 121.62,472.55 122.86,472.55 122.86,477.73 123.83,477.73 123.83,473.14 125.05,473.14 125.05,477.73 125.70,477.73 125.70,473.46 126.85,473.46 126.85,474.10 127.73,474.10 127.73,476.08 128.44,476.08 128.44,472.45 129.44,472.45 129.44,473.32 130.00,473.32 130.00,476.49 130.65,476.49 130.65,473.32 131.18,473.32 131.18,476.41 132.20,476.41 132.20,473.94 133.45,473.94 133.45,473.68 134.50,473.68 134.50,472.16 135.06,472.16 135.06,475.68 135.60,475.68 135.60,475.37 136.60,475.37 136.60,475.13 137.49,475.13 137.49,471.23 138.64,471.23 138.64,472.81 139.31,472.81 139.31,470.65 140.24,470.65 140.24,470.72 141.05,470.72 141.05,477.73 142.19,477.73 142.19,473.49 142.97,473.49 142.97,474.51 144.07,474.51 144.07,472.86 145.32,472.86 145.32,469.16 145.98,469.16 145.98,472.86 147.10,472.86 147.10,477.73 147.50,477.73 147.50,477.73" fill="#e3242b" fill-opacity="0.16"/><path d="M23.80 477.7V473.42M24.43 477.7V475.23M25.32 477.7V473.72M27.15 477.7V474.72M27.95 477.7V476.19M29.08 477.7V468.69M29.62 477.7V474.80M30.82 477.7V474.61M31.58 477.7V474.52M32.84 477.7V475.00M33.99 477.7V474.09M34.86 477.7V476.52M35.75 477.7V475.25M36.94 477.7V468.29M37.60 477.7V473.55M38.71 477.7V475.77M39.79 477.7V475.01M40.95 477.7V474.04M42.16 477.7V472.60M43.83 477.7V472.61M44.41 477.7V473.62M45.31 477.7V475.54M46.40 477.7V474.46M47.35 477.7V475.00M47.99 477.7V474.17M49.35 477.7V474.02M50.50 477.7V472.82M51.54 477.7V472.61M52.81 477.7V472.86M54.08 477.7V474.31M54.97 477.7V476.47M56.17 477.7V473.77M58.49 477.7V475.87M59.83 477.7V470.62M60.60 477.7V474.30M61.70 477.7V473.21M62.96 477.7V475.15M63.49 477.7V471.39M64.62 477.7V472.93M65.46 477.7V474.24M67.32 477.7V472.54M68.37 477.7V472.93M69.35 477.7V475.89M70.31 477.7V472.32M72.16 477.7V474.55M72.68 477.7V474.58M73.87 477.7V475.74M74.80 477.7V476.27M75.48 477.7V473.62M76.28 477.7V472.88M76.82 477.7V474.86M78.81 477.7V475.37M79.92 477.7V474.16M80.62 477.7V474.17M81.16 477.7V475.73M82.38 477.7V472.39M83.32 477.7V473.20M84.30 477.7V475.39M85.57 477.7V474.73M86.49 477.7V469.68M87.64 477.7V470.31M88.96 477.7V473.85M91.11 477.7V473.69M92.12 477.7V474.36M92.93 477.7V474.31M93.47 477.7V473.22M94.54 477.7V475.93M95.40 477.7V472.67M96.29 477.7V473.75M96.86 477.7V471.03M97.93 477.7V473.35M98.93 477.7V473.31M100.12 477.7V471.82M100.82 477.7V470.66M103.10 477.7V475.92M103.85 477.7V474.69M104.47 477.7V471.11M106.08 477.7V474.40M107.34 477.7V473.32M108.11 477.7V471.95M108.82 477.7V472.28M109.52 477.7V475.56M110.57 477.7V472.72M111.29 477.7V473.46M112.16 477.7V475.93M112.89 477.7V474.94M113.61 477.7V472.74M116.10 477.7V474.33M117.08 477.7V474.66M117.59 477.7V472.83M118.34 477.7V475.23M119.13 477.7V474.76M120.29 477.7V473.61M120.94 477.7V472.95M121.62 477.7V472.55M123.83 477.7V473.14M125.70 477.7V473.46M126.85 477.7V474.10M127.73 477.7V476.08M128.44 477.7V472.45M129.44 477.7V473.32M130.00 477.7V476.49M130.65 477.7V473.32M131.18 477.7V476.41M132.20 477.7V473.94M133.45 477.7V473.68M134.50 477.7V472.16M135.06 477.7V475.68M135.60 477.7V475.37M136.60 477.7V475.13M137.49 477.7V471.23M138.64 477.7V472.81M139.31 477.7V470.65M140.24 477.7V470.72M142.19 477.7V473.49M142.97 477.7V474.51M144.07 477.7V472.86M145.32 477.7V469.16M145.98 477.7V472.86" stroke="#e3242b" stroke-width="0.7" stroke-opacity="0.85" fill="none"/><path d="M51.10 477.7V463.7M54.50 477.7V463.7M81.70 477.7V463.7M72.60 477.7V466.3M77.50 477.7V466.3M84.70 477.7V466.3M104.10 477.7V466.3M69.60 477.7V468.4M30.90 477.7V468.4M38.50 477.7V468.4M95.30 477.7V468.4M114.70 477.7V468.4M127.10 477.7V468.4M130.10 477.7V468.4M133.00 477.7V468.4M58.00 477.7V470.6M62.00 477.7V470.6M88.00 477.7V470.6M99.00 477.7V470.6M110.00 477.7V470.6M118.00 477.7V470.6M137.00 477.7V470.6M142.00 477.7V470.6" stroke="#e3242b" stroke-width="0.95" stroke-opacity="0.8" fill="none"/><rect x="23.2" y="476.0" width="124.8" height="3.0" fill="#e3242b"/><rect x="23.2" y="476.2" width="4" height="4.8" fill="#e3242b"/><rect x="145.0" y="475.7" width="3" height="4" fill="#e3242b"/></g>
<g><text x="20.0" y="501.2" class="yl">0.47</text><line x1="21.4" y1="499.7" x2="23.2" y2="499.7" stroke="#5a72c0" stroke-width="0.6"/><text x="20.0" y="515.4" class="yl">0.37</text><line x1="21.4" y1="513.9" x2="23.2" y2="513.9" stroke="#5a72c0" stroke-width="0.6"/><text x="20.0" y="529.6" class="yl">0.27</text><line x1="21.4" y1="528.1" x2="23.2" y2="528.1" stroke="#5a72c0" stroke-width="0.6"/><text x="20.0" y="543.8" class="yl">0.17</text><line x1="21.4" y1="542.3" x2="23.2" y2="542.3" stroke="#5a72c0" stroke-width="0.6"/><text x="20.0" y="558.0" class="yl">0.07</text><line x1="21.4" y1="556.5" x2="23.2" y2="556.5" stroke="#5a72c0" stroke-width="0.6"/><text x="20.0" y="572.2" class="yl">-0.03</text><line x1="21.4" y1="570.7" x2="23.2" y2="570.7" stroke="#5a72c0" stroke-width="0.6"/><line x1="23.5" y1="495.2" x2="23.5" y2="570.7" stroke="#5a72c0" stroke-width="1"/><text x="23.2" y="574.3" class="xl">0</text><text x="41.6" y="574.3" class="xl">100000</text><text x="60.0" y="574.3" class="xl">200000</text><text x="78.4" y="574.3" class="xl">300000</text><text x="96.8" y="574.3" class="xl">400000</text><text x="115.3" y="574.3" class="xl">500000</text><text x="133.7" y="574.3" class="xl">600000</text><polygon points="23.80,567.15 23.80,565.11 25.06,565.11 25.06,564.89 26.36,564.89 26.36,563.14 27.33,563.14 27.33,560.46 27.90,560.46 27.90,559.63 28.82,559.63 28.82,562.81 30.05,562.81 30.05,564.46 31.23,564.46 31.23,561.90 31.76,561.90 31.76,561.25 33.01,561.25 33.01,561.85 33.89,561.85 33.89,560.48 34.49,560.48 34.49,559.71 35.58,559.71 35.58,561.75 36.07,561.75 36.07,565.69 36.59,565.69 36.59,560.04 36.97,560.04 36.97,563.66 37.81,563.66 37.81,564.31 39.03,564.31 39.03,563.81 39.94,563.81 39.94,563.63 40.80,563.63 40.80,565.17 41.66,565.17 41.66,564.25 42.34,564.25 42.34,560.02 43.58,560.02 43.58,565.28 44.31,565.28 44.31,564.37 44.82,564.37 44.82,564.73 45.48,564.73 45.48,563.35 45.87,563.35 45.87,563.59 46.83,563.59 46.83,563.28 47.23,563.28 47.23,563.24 48.46,563.24 48.46,563.83 49.28,563.83 49.28,562.08 50.57,562.08 50.57,562.29 51.61,562.29 51.61,561.85 52.71,561.85 52.71,565.73 53.95,565.73 53.95,564.77 54.91,564.77 54.91,564.55 55.91,564.55 55.91,560.39 56.30,560.39 56.30,564.58 56.77,564.58 56.77,564.53 57.94,564.53 57.94,564.69 58.38,564.69 58.38,561.31 59.06,561.31 59.06,565.87 60.20,565.87 60.20,566.07 61.36,566.07 61.36,563.46 62.17,563.46 62.17,564.60 63.20,564.60 63.20,565.01 63.77,565.01 63.77,563.14 64.76,563.14 64.76,565.73 65.72,565.73 65.72,565.75 66.64,565.75 66.64,562.88 67.02,562.88 67.02,559.26 67.97,559.26 67.97,564.84 68.54,564.84 68.54,561.50 69.22,561.50 69.22,563.71 69.58,563.71 69.58,561.37 70.09,561.37 70.09,563.23 70.97,563.23 70.97,564.53 71.81,564.53 71.81,562.02 72.31,562.02 72.31,561.23 73.32,561.23 73.32,563.18 73.85,563.18 73.85,563.67 74.92,563.67 74.92,565.05 75.46,565.05 75.46,563.99 76.17,563.99 76.17,563.89 77.44,563.89 77.44,563.96 78.61,563.96 78.61,565.22 79.69,565.22 79.69,561.48 80.69,561.48 80.69,566.10 81.14,566.10 81.14,559.12 81.97,559.12 81.97,561.63 82.71,561.63 82.71,559.05 83.37,559.05 83.37,559.37 84.41,559.37 84.41,564.52 85.38,564.52 85.38,565.25 85.96,565.25 85.96,565.94 86.59,565.94 86.59,564.41 87.04,564.41 87.04,564.22 87.56,564.22 87.56,562.37 88.24,562.37 88.24,561.26 89.11,561.26 89.11,565.22 89.81,565.22 89.81,564.87 90.65,564.87 90.65,564.85 91.23,564.85 91.23,559.32 91.63,559.32 91.63,563.34 92.08,563.34 92.08,565.91 92.91,565.91 92.91,559.86 93.63,559.86 93.63,562.81 94.41,562.81 94.41,561.75 95.41,561.75 95.41,565.14 96.11,565.14 96.11,564.13 96.53,564.13 96.53,564.09 97.62,564.09 97.62,562.86 98.58,562.86 98.58,564.47 99.80,564.47 99.80,561.30 100.38,561.30 100.38,563.90 101.05,563.90 101.05,563.08 101.57,563.08 101.57,562.44 102.44,562.44 102.44,562.51 103.62,562.51 103.62,561.91 104.47,561.91 104.47,563.90 105.40,563.90 105.40,562.25 106.08,562.25 106.08,564.64 107.36,564.64 107.36,563.49 108.11,563.49 108.11,564.46 108.50,564.46 108.50,563.62 109.59,563.62 109.59,564.87 110.62,564.87 110.62,562.45 111.32,562.45 111.32,563.32 111.68,563.32 111.68,560.03 112.18,560.03 112.18,564.32 112.68,564.32 112.68,564.97 113.48,564.97 113.48,564.15 114.31,564.15 114.31,561.91 115.09,561.91 115.09,563.21 115.66,563.21 115.66,565.00 116.05,565.00 116.05,563.06 117.19,563.06 117.19,564.18 118.13,564.18 118.13,563.34 119.18,563.34 119.18,565.91 119.92,565.91 119.92,563.10 120.80,563.10 120.80,563.11 122.03,563.11 122.03,564.80 123.03,564.80 123.03,560.16 124.29,560.16 124.29,565.59 125.01,565.59 125.01,564.51 126.17,564.51 126.17,562.60 127.10,562.60 127.10,562.82 127.72,562.82 127.72,563.27 128.84,563.27 128.84,565.12 129.63,565.12 129.63,563.44 130.08,563.44 130.08,562.37 131.19,562.37 131.19,562.26 132.17,562.26 132.17,564.66 132.60,564.66 132.60,564.99 133.13,564.99 133.13,563.12 134.33,563.12 134.33,565.28 135.38,565.28 135.38,563.15 136.50,563.15 136.50,566.13 137.30,566.13 137.30,561.48 137.95,561.48 137.95,564.91 138.41,564.91 138.41,564.22 138.98,564.22 138.98,562.48 139.47,562.48 139.47,564.19 140.66,564.19 140.66,564.58 141.74,564.58 141.74,564.63 142.21,564.63 142.21,563.56 143.26,563.56 143.26,565.95 143.87,565.95 143.87,560.73 144.59,560.73 144.59,564.59 145.14,564.59 145.14,560.67 145.50,560.67 145.50,567.15" fill="#3c58a4" fill-opacity="0.75"/><polyline points="23.80,567.15 23.80,565.11 25.06,565.11 25.06,564.89 26.36,564.89 26.36,563.14 27.33,563.14 27.33,560.46 27.90,560.46 27.90,559.63 28.82,559.63 28.82,562.81 30.05,562.81 30.05,564.46 31.23,564.46 31.23,561.90 31.76,561.90 31.76,561.25 33.01,561.25 33.01,561.85 33.89,561.85 33.89,560.48 34.49,560.48 34.49,559.71 35.58,559.71 35.58,561.75 36.07,561.75 36.07,565.69 36.59,565.69 36.59,560.04 36.97,560.04 36.97,563.66 37.81,563.66 37.81,564.31 39.03,564.31 39.03,563.81 39.94,563.81 39.94,563.63 40.80,563.63 40.80,565.17 41.66,565.17 41.66,564.25 42.34,564.25 42.34,560.02 43.58,560.02 43.58,565.28 44.31,565.28 44.31,564.37 44.82,564.37 44.82,564.73 45.48,564.73 45.48,563.35 45.87,563.35 45.87,563.59 46.83,563.59 46.83,563.28 47.23,563.28 47.23,563.24 48.46,563.24 48.46,563.83 49.28,563.83 49.28,562.08 50.57,562.08 50.57,562.29 51.61,562.29 51.61,561.85 52.71,561.85 52.71,565.73 53.95,565.73 53.95,564.77 54.91,564.77 54.91,564.55 55.91,564.55 55.91,560.39 56.30,560.39 56.30,564.58 56.77,564.58 56.77,564.53 57.94,564.53 57.94,564.69 58.38,564.69 58.38,561.31 59.06,561.31 59.06,565.87 60.20,565.87 60.20,566.07 61.36,566.07 61.36,563.46 62.17,563.46 62.17,564.60 63.20,564.60 63.20,565.01 63.77,565.01 63.77,563.14 64.76,563.14 64.76,565.73 65.72,565.73 65.72,565.75 66.64,565.75 66.64,562.88 67.02,562.88 67.02,559.26 67.97,559.26 67.97,564.84 68.54,564.84 68.54,561.50 69.22,561.50 69.22,563.71 69.58,563.71 69.58,561.37 70.09,561.37 70.09,563.23 70.97,563.23 70.97,564.53 71.81,564.53 71.81,562.02 72.31,562.02 72.31,561.23 73.32,561.23 73.32,563.18 73.85,563.18 73.85,563.67 74.92,563.67 74.92,565.05 75.46,565.05 75.46,563.99 76.17,563.99 76.17,563.89 77.44,563.89 77.44,563.96 78.61,563.96 78.61,565.22 79.69,565.22 79.69,561.48 80.69,561.48 80.69,566.10 81.14,566.10 81.14,559.12 81.97,559.12 81.97,561.63 82.71,561.63 82.71,559.05 83.37,559.05 83.37,559.37 84.41,559.37 84.41,564.52 85.38,564.52 85.38,565.25 85.96,565.25 85.96,565.94 86.59,565.94 86.59,564.41 87.04,564.41 87.04,564.22 87.56,564.22 87.56,562.37 88.24,562.37 88.24,561.26 89.11,561.26 89.11,565.22 89.81,565.22 89.81,564.87 90.65,564.87 90.65,564.85 91.23,564.85 91.23,559.32 91.63,559.32 91.63,563.34 92.08,563.34 92.08,565.91 92.91,565.91 92.91,559.86 93.63,559.86 93.63,562.81 94.41,562.81 94.41,561.75 95.41,561.75 95.41,565.14 96.11,565.14 96.11,564.13 96.53,564.13 96.53,564.09 97.62,564.09 97.62,562.86 98.58,562.86 98.58,564.47 99.80,564.47 99.80,561.30 100.38,561.30 100.38,563.90 101.05,563.90 101.05,563.08 101.57,563.08 101.57,562.44 102.44,562.44 102.44,562.51 103.62,562.51 103.62,561.91 104.47,561.91 104.47,563.90 105.40,563.90 105.40,562.25 106.08,562.25 106.08,564.64 107.36,564.64 107.36,563.49 108.11,563.49 108.11,564.46 108.50,564.46 108.50,563.62 109.59,563.62 109.59,564.87 110.62,564.87 110.62,562.45 111.32,562.45 111.32,563.32 111.68,563.32 111.68,560.03 112.18,560.03 112.18,564.32 112.68,564.32 112.68,564.97 113.48,564.97 113.48,564.15 114.31,564.15 114.31,561.91 115.09,561.91 115.09,563.21 115.66,563.21 115.66,565.00 116.05,565.00 116.05,563.06 117.19,563.06 117.19,564.18 118.13,564.18 118.13,563.34 119.18,563.34 119.18,565.91 119.92,565.91 119.92,563.10 120.80,563.10 120.80,563.11 122.03,563.11 122.03,564.80 123.03,564.80 123.03,560.16 124.29,560.16 124.29,565.59 125.01,565.59 125.01,564.51 126.17,564.51 126.17,562.60 127.10,562.60 127.10,562.82 127.72,562.82 127.72,563.27 128.84,563.27 128.84,565.12 129.63,565.12 129.63,563.44 130.08,563.44 130.08,562.37 131.19,562.37 131.19,562.26 132.17,562.26 132.17,564.66 132.60,564.66 132.60,564.99 133.13,564.99 133.13,563.12 134.33,563.12 134.33,565.28 135.38,565.28 135.38,563.15 136.50,563.15 136.50,566.13 137.30,566.13 137.30,561.48 137.95,561.48 137.95,564.91 138.41,564.91 138.41,564.22 138.98,564.22 138.98,562.48 139.47,562.48 139.47,564.19 140.66,564.19 140.66,564.58 141.74,564.58 141.74,564.63 142.21,564.63 142.21,563.56 143.26,563.56 143.26,565.95 143.87,565.95 143.87,560.73 144.59,560.73 144.59,564.59 145.14,564.59 145.14,560.67 145.50,560.67 145.50,567.15" fill="none" stroke="#3c58a4" stroke-width="0.45" stroke-opacity="0.8"/><rect x="23.2" y="565.6" width="122.8" height="2.8" fill="#3c58a4"/><rect x="23.2" y="565.7" width="4" height="4.7" fill="#3c58a4"/><rect x="143.0" y="565.2" width="3" height="4" fill="#3c58a4"/></g>
<text x="290.0" y="423.8" class="tt">Chr XII</text>
<g><text x="183.8" y="411.4" class="yl">0.47</text><line x1="185.2" y1="409.9" x2="187.0" y2="409.9" stroke="#f07272" stroke-width="0.6"/><text x="183.8" y="425.7" class="yl">0.37</text><line x1="185.2" y1="424.2" x2="187.0" y2="424.2" stroke="#f07272" stroke-width="0.6"/><text x="183.8" y="440.0" class="yl">0.27</text><line x1="185.2" y1="438.5" x2="187.0" y2="438.5" stroke="#f07272" stroke-width="0.6"/><text x="183.8" y="454.2" class="yl">0.17</text><line x1="185.2" y1="452.7" x2="187.0" y2="452.7" stroke="#f07272" stroke-width="0.6"/><text x="183.8" y="468.5" class="yl">0.07</text><line x1="185.2" y1="467.0" x2="187.0" y2="467.0" stroke="#f07272" stroke-width="0.6"/><text x="183.8" y="482.8" class="yl">-0.03</text><line x1="185.2" y1="481.3" x2="187.0" y2="481.3" stroke="#f07272" stroke-width="0.6"/><line x1="187.5" y1="405.4" x2="187.5" y2="481.3" stroke="#f07272" stroke-width="1"/><text x="187.0" y="484.9" class="xl">0</text><text x="206.0" y="484.9" class="xl">100000</text><text x="225.0" y="484.9" class="xl">200000</text><text x="244.0" y="484.9" class="xl">300000</text><text x="263.0" y="484.9" class="xl">400000</text><text x="282.0" y="484.9" class="xl">500000</text><text x="301.0" y="484.9" class="xl">600000</text><text x="320.0" y="484.9" class="xl">700000</text><text x="339.0" y="484.9" class="xl">800000</text><text x="358.0" y="484.9" class="xl">900000</text><text x="377.0" y="484.9" class="xl">1000000</text><polygon points="187.60,477.73 187.60,470.81 188.84,470.81 188.84,473.91 189.41,473.91 189.41,476.26 190.33,476.26 190.33,475.81 191.19,475.81 191.19,477.73 191.71,477.73 191.71,473.70 192.77,473.70 192.77,476.49 193.86,476.49 193.86,473.37 194.99,473.37 194.99,469.66 195.98,469.66 195.98,473.57 197.09,473.57 197.09,476.44 198.12,476.44 198.12,473.52 199.00,473.52 199.00,474.46 199.86,474.46 199.86,475.19 200.50,475.19 200.50,477.73 201.16,477.73 201.16,477.73 201.74,477.73 201.74,473.00 202.46,473.00 202.46,474.21 203.22,474.21 203.22,473.62 203.97,473.62 203.97,477.73 204.67,477.73 204.67,472.98 205.80,472.98 205.80,472.77 206.49,472.77 206.49,472.25 207.46,472.25 207.46,477.73 208.74,477.73 208.74,477.73 209.58,477.73 209.58,472.65 210.72,472.65 210.72,471.51 211.87,471.51 211.87,474.08 213.16,474.08 213.16,474.43 214.44,474.43 214.44,474.42 215.00,474.42 215.00,472.16 216.25,472.16 216.25,474.49 216.83,474.49 216.83,474.30 217.76,474.30 217.76,471.70 218.60,471.70 218.60,470.96 219.38,470.96 219.38,473.93 220.59,473.93 220.59,471.31 221.65,471.31 221.65,475.89 222.34,475.89 222.34,473.62 223.45,473.62 223.45,477.73 224.62,477.73 224.62,475.63 225.62,475.63 225.62,474.96 226.79,474.96 226.79,473.64 227.35,473.64 227.35,473.80 228.04,473.80 228.04,474.86 228.90,474.86 228.90,474.55 229.70,474.55 229.70,475.42 230.89,475.42 230.89,473.91 231.53,473.91 231.53,473.78 232.10,473.78 232.10,473.60 233.15,473.60 233.15,475.05 234.07,475.05 234.07,470.86 234.64,470.86 234.64,473.34 235.54,473.34 235.54,476.04 236.52,476.04 236.52,474.94 237.30,474.94 237.30,473.92 238.07,473.92 238.07,473.61 239.23,473.61 239.23,476.43 239.93,476.43 239.93,475.13 240.61,475.13 240.61,477.73 241.51,477.73 241.51,475.62 242.38,475.62 242.38,472.07 243.23,472.07 243.23,474.90 244.41,474.90 244.41,477.73 245.42,477.73 245.42,475.97 246.57,475.97 246.57,472.41 247.18,472.41 247.18,473.32 248.27,473.32 248.27,477.73 249.01,477.73 249.01,474.49 250.24,474.49 250.24,472.22 251.52,472.22 251.52,474.56 252.04,474.56 252.04,473.25 253.12,473.25 253.12,473.00 254.08,473.00 254.08,474.13 255.06,474.13 255.06,477.73 255.67,477.73 255.67,475.86 256.85,475.86 256.85,473.66 257.61,473.66 257.61,474.05 258.79,474.05 258.79,472.76 259.81,472.76 259.81,470.63 260.56,470.63 260.56,475.94 261.85,475.94 261.85,472.51 262.97,472.51 262.97,473.14 263.79,473.14 263.79,475.89 264.71,475.89 264.71,475.86 265.26,475.86 265.26,473.93 266.42,473.93 266.42,475.44 267.12,475.44 267.12,475.18 267.97,475.18 267.97,469.21 268.93,469.21 268.93,473.48 269.93,473.48 269.93,468.89 271.17,468.89 271.17,477.73 272.01,477.73 272.01,474.00 273.18,474.00 273.18,477.73 273.73,477.73 273.73,477.73 274.54,477.73 274.54,477.73 275.61,477.73 275.61,477.73 276.24,477.73 276.24,477.73 277.21,477.73 277.21,477.73 277.81,477.73 277.81,477.73 278.69,477.73 278.69,477.73 279.44,477.73 279.44,477.73 280.42,477.73 280.42,477.73 281.20,477.73 281.20,473.63 281.93,473.63 281.93,474.94 283.06,474.94 283.06,473.57 283.58,473.57 283.58,475.41 284.80,475.41 284.80,474.62 286.06,474.62 286.06,470.31 287.29,470.31 287.29,477.73 288.45,477.73 288.45,473.23 289.02,473.23 289.02,473.70 290.28,473.70 290.28,472.61 291.00,472.61 291.00,472.19 292.02,472.19 292.02,474.71 293.11,474.71 293.11,476.22 294.26,476.22 294.26,474.55 294.81,474.55 294.81,477.73 296.09,477.73 296.09,473.57 297.24,473.57 297.24,473.42 298.20,473.42 298.20,474.07 298.81,474.07 298.81,472.81 299.78,472.81 299.78,472.43 300.61,472.43 300.61,473.48 301.37,473.48 301.37,475.21 302.54,475.21 302.54,476.35 303.67,476.35 303.67,469.01 304.64,469.01 304.64,473.02 305.48,473.02 305.48,473.52 306.40,473.52 306.40,472.96 307.64,472.96 307.64,472.99 308.36,472.99 308.36,470.76 309.43,470.76 309.43,474.06 310.03,474.06 310.03,472.63 310.70,472.63 310.70,477.73 311.81,477.73 311.81,472.85 312.51,472.85 312.51,475.64 313.38,475.64 313.38,477.73 314.08,477.73 314.08,468.60 315.05,468.60 315.05,475.63 316.14,475.63 316.14,473.85 317.15,473.85 317.15,472.06 317.69,472.06 317.69,473.09 318.78,473.09 318.78,477.73 319.55,477.73 319.55,473.06 320.39,473.06 320.39,474.01 321.22,474.01 321.22,475.08 322.30,475.08 322.30,477.73 323.56,477.73 323.56,473.29 324.75,473.29 324.75,473.11 325.33,473.11 325.33,468.16 326.33,468.16 326.33,472.30 327.34,472.30 327.34,473.68 328.08,473.68 328.08,473.45 329.34,473.45 329.34,471.79 330.34,471.79 330.34,473.95 331.43,473.95 331.43,476.57 332.20,476.57 332.20,476.45 332.97,476.45 332.97,475.00 333.86,475.00 333.86,472.94 334.98,472.94 334.98,477.73 335.70,477.73 335.70,474.90 336.69,474.90 336.69,472.10 337.53,472.10 337.53,473.29 338.10,473.29 338.10,470.64 338.81,470.64 338.81,468.06 339.86,468.06 339.86,473.17 340.48,473.17 340.48,475.66 341.56,475.66 341.56,472.49 342.53,472.49 342.53,475.23 343.33,475.23 343.33,477.73 343.93,477.73 343.93,477.73 344.52,477.73 344.52,471.88 345.37,471.88 345.37,474.11 345.95,474.11 345.95,473.83 346.90,473.83 346.90,472.93 347.99,472.93 347.99,471.10 349.10,471.10 349.10,473.11 349.83,473.11 349.83,472.95 350.95,472.95 350.95,473.41 352.11,473.41 352.11,473.21 352.65,473.21 352.65,471.71 353.88,471.71 353.88,471.28 354.56,471.28 354.56,477.73 355.22,477.73 355.22,474.62 356.42,474.62 356.42,473.14 357.71,473.14 357.71,475.69 358.86,475.69 358.86,473.88 359.49,473.88 359.49,477.73 360.63,477.73 360.63,474.87 361.29,474.87 361.29,468.36 362.12,468.36 362.12,472.14 362.76,472.14 362.76,474.20 363.45,474.20 363.45,477.73 364.11,477.73 364.11,475.03 364.75,475.03 364.75,474.39 365.29,474.39 365.29,477.73 366.36,477.73 366.36,474.81 367.16,474.81 367.16,475.76 367.99,475.76 367.99,477.73 368.99,477.73 368.99,475.26 370.19,475.26 370.19,477.73 370.79,477.73 370.79,477.73 371.45,477.73 371.45,476.44 372.15,476.44 372.15,473.74 373.33,473.74 373.33,474.77 374.23,474.77 374.23,474.86 374.77,474.86 374.77,472.93 375.67,472.93 375.67,474.16 376.17,474.16 376.17,477.73 377.14,477.73 377.14,471.49 378.24,471.49 378.24,470.90 379.28,470.90 379.28,474.67 380.43,474.67 380.43,471.19 381.57,471.19 381.57,468.99 382.32,468.99 382.32,474.36 383.07,474.36 383.07,472.48 383.76,472.48 383.76,473.57 384.96,473.57 384.96,472.15 386.01,472.15 386.01,474.36 386.58,474.36 386.58,477.73 387.42,477.73 387.42,474.76 387.99,474.76 387.99,474.66 388.71,474.66 388.71,472.53 389.85,472.53 389.85,475.34 391.00,475.34 391.00,472.74 391.30,472.74 391.30,477.73" fill="#e3242b" fill-opacity="0.16"/><path d="M187.60 477.7V470.81M188.84 477.7V473.91M189.41 477.7V476.26M190.33 477.7V475.81M191.71 477.7V473.70M192.77 477.7V476.49M193.86 477.7V473.37M194.99 477.7V469.66M195.98 477.7V473.57M197.09 477.7V476.44M198.12 477.7V473.52M199.00 477.7V474.46M199.86 477.7V475.19M201.74 477.7V473.00M202.46 477.7V474.21M203.22 477.7V473.62M204.67 477.7V472.98M205.80 477.7V472.77M206.49 477.7V472.25M209.58 477.7V472.65M210.72 477.7V471.51M211.87 477.7V474.08M213.16 477.7V474.43M214.44 477.7V474.42M215.00 477.7V472.16M216.25 477.7V474.49M216.83 477.7V474.30M217.76 477.7V471.70M218.60 477.7V470.96M219.38 477.7V473.93M220.59 477.7V471.31M221.65 477.7V475.89M222.34 477.7V473.62M224.62 477.7V475.63M225.62 477.7V474.96M226.79 477.7V473.64M227.35 477.7V473.80M228.04 477.7V474.86M228.90 477.7V474.55M229.70 477.7V475.42M230.89 477.7V473.91M231.53 477.7V473.78M232.10 477.7V473.60M233.15 477.7V475.05M234.07 477.7V470.86M234.64 477.7V473.34M235.54 477.7V476.04M236.52 477.7V474.94M237.30 477.7V473.92M238.07 477.7V473.61M239.23 477.7V476.43M239.93 477.7V475.13M241.51 477.7V475.62M242.38 477.7V472.07M243.23 477.7V474.90M245.42 477.7V475.97M246.57 477.7V472.41M247.18 477.7V473.32M249.01 477.7V474.49M250.24 477.7V472.22M251.52 477.7V474.56M252.04 477.7V473.25M253.12 477.7V473.00M254.08 477.7V474.13M255.67 477.7V475.86M256.85 477.7V473.66M257.61 477.7V474.05M258.79 477.7V472.76M259.81 477.7V470.63M260.56 477.7V475.94M261.85 477.7V472.51M262.97 477.7V473.14M263.79 477.7V475.89M264.71 477.7V475.86M265.26 477.7V473.93M266.42 477.7V475.44M267.12 477.7V475.18M267.97 477.7V469.21M268.93 477.7V473.48M269.93 477.7V468.89M272.01 477.7V474.00M281.20 477.7V473.63M281.93 477.7V474.94M283.06 477.7V473.57M283.58 477.7V475.41M284.80 477.7V474.62M286.06 477.7V470.31M288.45 477.7V473.23M289.02 477.7V473.70M290.28 477.7V472.61M291.00 477.7V472.19M292.02 477.7V474.71M293.11 477.7V476.22M294.26 477.7V474.55M296.09 477.7V473.57M297.24 477.7V473.42M298.20 477.7V474.07M298.81 477.7V472.81M299.78 477.7V472.43M300.61 477.7V473.48M301.37 477.7V475.21M302.54 477.7V476.35M303.67 477.7V469.01M304.64 477.7V473.02M305.48 477.7V473.52M306.40 477.7V472.96M307.64 477.7V472.99M308.36 477.7V470.76M309.43 477.7V474.06M310.03 477.7V472.63M311.81 477.7V472.85M312.51 477.7V475.64M314.08 477.7V468.60M315.05 477.7V475.63M316.14 477.7V473.85M317.15 477.7V472.06M317.69 477.7V473.09M319.55 477.7V473.06M320.39 477.7V474.01M321.22 477.7V475.08M323.56 477.7V473.29M324.75 477.7V473.11M325.33 477.7V468.16M326.33 477.7V472.30M327.34 477.7V473.68M328.08 477.7V473.45M329.34 477.7V471.79M330.34 477.7V473.95M331.43 477.7V476.57M332.20 477.7V476.45M332.97 477.7V475.00M333.86 477.7V472.94M335.70 477.7V474.90M336.69 477.7V472.10M337.53 477.7V473.29M338.10 477.7V470.64M338.81 477.7V468.06M339.86 477.7V473.17M340.48 477.7V475.66M341.56 477.7V472.49M342.53 477.7V475.23M344.52 477.7V471.88M345.37 477.7V474.11M345.95 477.7V473.83M346.90 477.7V472.93M347.99 477.7V471.10M349.10 477.7V473.11M349.83 477.7V472.95M350.95 477.7V473.41M352.11 477.7V473.21M352.65 477.7V471.71M353.88 477.7V471.28M355.22 477.7V474.62M356.42 477.7V473.14M357.71 477.7V475.69M358.86 477.7V473.88M360.63 477.7V474.87M361.29 477.7V468.36M362.12 477.7V472.14M362.76 477.7V474.20M364.11 477.7V475.03M364.75 477.7V474.39M366.36 477.7V474.81M367.16 477.7V475.76M368.99 477.7V475.26M371.45 477.7V476.44M372.15 477.7V473.74M373.33 477.7V474.77M374.23 477.7V474.86M374.77 477.7V472.93M375.67 477.7V474.16M377.14 477.7V471.49M378.24 477.7V470.90M379.28 477.7V474.67M380.43 477.7V471.19M381.57 477.7V468.99M382.32 477.7V474.36M383.07 477.7V472.48M383.76 477.7V473.57M384.96 477.7V472.15M386.01 477.7V474.36M387.42 477.7V474.76M387.99 477.7V474.66M388.71 477.7V472.53M389.85 477.7V475.34M391.00 477.7V472.74" stroke="#e3242b" stroke-width="0.7" stroke-opacity="0.85" fill="none"/><path d="M242.30 477.7V436.3M225.50 477.7V457.9M308.40 477.7V457.9M199.50 477.7V460.6M204.00 477.7V460.6M231.60 477.7V463.4M248.20 477.7V463.4M257.00 477.7V463.4M240.20 477.7V463.4M357.90 477.7V465.9M337.80 477.7V465.9M196.80 477.7V465.9M377.20 477.7V468.4M292.30 477.7V468.4M320.40 477.7V468.4M368.60 477.7V469.2M205.50 477.7V466.3M215.00 477.7V470.6M262.00 477.7V470.6M300.00 477.7V470.6M330.00 477.7V470.6M345.00 477.7V470.6M384.00 477.7V470.6" stroke="#e3242b" stroke-width="0.95" stroke-opacity="0.8" fill="none"/><rect x="187.0" y="476.0" width="204.8" height="3.0" fill="#e3242b"/><rect x="187.0" y="476.2" width="4" height="4.8" fill="#e3242b"/><rect x="388.8" y="475.7" width="3" height="4" fill="#e3242b"/><rect x="273.0" y="476.7" width="7.5" height="4.9" fill="#e3242b"/></g>
<g><text x="183.8" y="502.0" class="yl">0.47</text><line x1="185.2" y1="500.5" x2="187.0" y2="500.5" stroke="#5a72c0" stroke-width="0.6"/><text x="183.8" y="516.2" class="yl">0.37</text><line x1="185.2" y1="514.7" x2="187.0" y2="514.7" stroke="#5a72c0" stroke-width="0.6"/><text x="183.8" y="530.4" class="yl">0.27</text><line x1="185.2" y1="528.9" x2="187.0" y2="528.9" stroke="#5a72c0" stroke-width="0.6"/><text x="183.8" y="544.7" class="yl">0.17</text><line x1="185.2" y1="543.2" x2="187.0" y2="543.2" stroke="#5a72c0" stroke-width="0.6"/><text x="183.8" y="558.9" class="yl">0.07</text><line x1="185.2" y1="557.4" x2="187.0" y2="557.4" stroke="#5a72c0" stroke-width="0.6"/><text x="183.8" y="573.1" class="yl">-0.03</text><line x1="185.2" y1="571.6" x2="187.0" y2="571.6" stroke="#5a72c0" stroke-width="0.6"/><line x1="187.5" y1="496.0" x2="187.5" y2="571.6" stroke="#5a72c0" stroke-width="1"/><text x="187.0" y="575.2" class="xl">0</text><text x="204.8" y="575.2" class="xl">100000</text><text x="222.6" y="575.2" class="xl">200000</text><text x="240.4" y="575.2" class="xl">300000</text><text x="258.2" y="575.2" class="xl">400000</text><text x="276.1" y="575.2" class="xl">500000</text><text x="293.9" y="575.2" class="xl">600000</text><text x="311.7" y="575.2" class="xl">700000</text><text x="329.5" y="575.2" class="xl">800000</text><text x="347.3" y="575.2" class="xl">900000</text><text x="365.1" y="575.2" class="xl">1000000</text><polygon points="187.60,568.05 187.60,563.47 188.63,563.47 188.63,564.53 189.93,564.53 189.93,563.52 190.36,563.52 190.36,562.47 191.38,562.47 191.38,562.09 192.15,562.09 192.15,563.87 192.61,563.87 192.61,565.36 193.66,565.36 193.66,566.33 194.92,566.33 194.92,565.31 196.07,565.31 196.07,565.22 196.71,565.22 196.71,561.35 197.91,561.35 197.91,567.08 199.11,567.08 199.11,562.38 200.09,562.38 200.09,563.32 201.38,563.32 201.38,561.86 202.44,561.86 202.44,565.73 203.26,565.73 203.26,562.12 204.07,562.12 204.07,563.78 204.54,563.78 204.54,565.50 205.62,565.50 205.62,564.59 206.57,564.59 206.57,564.25 207.53,564.25 207.53,564.16 208.27,564.16 208.27,564.75 208.85,564.75 208.85,563.35 209.62,563.35 209.62,566.68 210.32,566.68 210.32,564.32 210.97,564.32 210.97,560.45 211.35,560.45 211.35,564.74 212.47,564.74 212.47,565.55 213.21,565.55 213.21,565.29 213.85,565.29 213.85,562.69 215.06,562.69 215.06,564.82 215.43,564.82 215.43,564.61 216.44,564.61 216.44,565.19 217.65,565.19 217.65,564.41 218.72,564.41 218.72,566.67 219.45,566.67 219.45,562.34 219.86,562.34 219.86,563.42 220.71,563.42 220.71,565.94 221.49,565.94 221.49,566.13 222.62,566.13 222.62,563.69 223.50,563.69 223.50,563.60 224.71,563.60 224.71,564.91 225.23,564.91 225.23,562.93 225.66,562.93 225.66,564.57 226.68,564.57 226.68,563.08 227.46,563.08 227.46,562.36 228.75,562.36 228.75,565.71 229.42,565.71 229.42,561.43 229.90,561.43 229.90,564.64 231.08,564.64 231.08,564.35 231.66,564.35 231.66,561.53 232.59,561.53 232.59,566.95 233.20,566.95 233.20,564.97 234.48,564.97 234.48,562.60 235.15,562.60 235.15,566.99 235.65,566.99 235.65,563.39 236.78,563.39 236.78,564.51 237.35,564.51 237.35,565.31 238.41,565.31 238.41,560.82 238.99,560.82 238.99,564.61 240.23,564.61 240.23,561.24 241.12,561.24 241.12,562.15 241.69,562.15 241.69,565.86 242.52,565.86 242.52,561.26 243.29,561.26 243.29,565.51 244.07,565.51 244.07,563.85 244.52,563.85 244.52,564.27 245.70,564.27 245.70,565.24 246.84,565.24 246.84,562.61 247.37,562.61 247.37,565.79 247.93,565.79 247.93,562.90 249.06,562.90 249.06,563.51 250.00,563.51 250.00,564.08 250.84,564.08 250.84,563.54 251.34,563.54 251.34,563.65 252.27,563.65 252.27,566.61 253.08,566.61 253.08,560.97 253.90,560.97 253.90,562.34 255.11,562.34 255.11,566.47 255.79,566.47 255.79,563.47 256.25,563.47 256.25,562.14 257.17,562.14 257.17,565.10 257.71,565.10 257.71,564.97 258.99,564.97 258.99,566.58 259.70,566.58 259.70,564.37 260.34,564.37 260.34,564.58 261.33,564.58 261.33,563.77 262.19,563.77 262.19,562.83 262.80,562.83 262.80,564.65 263.63,564.65 263.63,562.45 264.68,562.45 264.68,565.66 265.89,565.66 265.89,562.46 266.59,562.46 266.59,565.69 267.53,565.69 267.53,565.63 268.51,565.63 268.51,568.05 269.78,568.05 269.78,568.05 270.72,568.05 270.72,568.05 271.26,568.05 271.26,568.05 272.02,568.05 272.02,568.05 272.94,568.05 272.94,568.05 273.56,568.05 273.56,568.05 274.59,568.05 274.59,568.05 274.95,568.05 274.95,565.74 275.80,565.74 275.80,566.23 276.40,566.23 276.40,563.53 277.48,563.53 277.48,566.23 278.14,566.23 278.14,560.15 279.41,560.15 279.41,565.79 280.35,565.79 280.35,563.87 280.73,563.87 280.73,564.87 282.01,564.87 282.01,564.38 283.20,564.38 283.20,565.17 284.12,565.17 284.12,565.38 284.62,565.38 284.62,563.76 285.91,563.76 285.91,564.74 286.97,564.74 286.97,560.06 288.20,560.06 288.20,563.73 289.49,563.73 289.49,562.76 290.08,562.76 290.08,564.04 291.30,564.04 291.30,565.78 292.20,565.78 292.20,564.34 292.89,564.34 292.89,562.57 293.88,562.57 293.88,563.83 294.57,563.83 294.57,563.86 295.55,563.86 295.55,562.11 296.73,562.11 296.73,560.76 297.44,560.76 297.44,565.94 298.20,565.94 298.20,561.21 299.39,561.21 299.39,565.00 300.64,565.00 300.64,563.51 301.93,563.51 301.93,566.37 302.88,566.37 302.88,562.63 303.79,562.63 303.79,562.47 304.23,562.47 304.23,565.54 305.43,565.54 305.43,560.78 306.47,560.78 306.47,565.51 307.05,565.51 307.05,560.53 307.86,560.53 307.86,560.08 308.40,560.08 308.40,566.43 309.14,566.43 309.14,563.99 309.79,563.99 309.79,565.41 310.52,565.41 310.52,564.98 311.82,564.98 311.82,567.04 312.41,567.04 312.41,565.07 312.81,565.07 312.81,562.29 313.83,562.29 313.83,565.73 314.32,565.73 314.32,565.16 314.95,565.16 314.95,565.69 316.10,565.69 316.10,563.99 317.02,563.99 317.02,565.91 317.47,565.91 317.47,563.64 318.10,563.64 318.10,563.38 319.03,563.38 319.03,562.14 320.09,562.14 320.09,563.05 321.25,563.05 321.25,565.93 321.95,565.93 321.95,565.70 322.91,565.70 322.91,564.61 323.71,564.61 323.71,565.98 324.97,565.98 324.97,564.03 325.48,564.03 325.48,565.15 326.72,565.15 326.72,563.74 327.17,563.74 327.17,562.60 327.76,562.60 327.76,560.59 328.29,560.59 328.29,564.24 329.29,564.24 329.29,566.01 329.67,566.01 329.67,564.76 330.77,564.76 330.77,563.72 331.47,563.72 331.47,566.48 331.96,566.48 331.96,566.22 332.38,566.22 332.38,564.16 333.02,564.16 333.02,562.09 333.73,562.09 333.73,566.03 334.18,566.03 334.18,563.82 334.78,563.82 334.78,563.53 335.88,563.53 335.88,564.29 337.11,564.29 337.11,561.19 337.65,561.19 337.65,562.64 338.28,562.64 338.28,564.37 339.01,564.37 339.01,564.92 339.72,564.92 339.72,565.47 340.45,565.47 340.45,563.48 341.55,563.48 341.55,564.70 342.06,564.70 342.06,562.58 342.89,562.58 342.89,566.44 343.52,566.44 343.52,564.04 344.38,564.04 344.38,564.62 344.87,564.62 344.87,563.62 345.59,563.62 345.59,565.07 346.40,565.07 346.40,566.84 346.88,566.84 346.88,563.66 347.51,563.66 347.51,560.89 348.57,560.89 348.57,563.95 349.08,563.95 349.08,563.42 349.82,563.42 349.82,564.67 350.42,564.67 350.42,565.96 351.66,565.96 351.66,562.61 352.25,562.61 352.25,562.96 353.11,562.96 353.11,561.30 353.61,561.30 353.61,565.47 353.97,565.47 353.97,565.66 355.00,565.66 355.00,562.66 356.00,562.66 356.00,560.61 356.61,560.61 356.61,561.53 357.40,561.53 357.40,564.74 358.04,564.74 358.04,566.33 358.92,566.33 358.92,564.17 360.19,564.17 360.19,564.71 360.66,564.71 360.66,565.53 361.90,565.53 361.90,560.47 362.39,560.47 362.39,564.33 363.68,564.33 363.68,565.15 364.20,565.15 364.20,563.05 364.88,563.05 364.88,562.31 365.53,562.31 365.53,563.64 366.31,563.64 366.31,562.93 366.95,562.93 366.95,564.03 367.41,564.03 367.41,559.85 368.13,559.85 368.13,563.17 369.03,563.17 369.03,566.64 370.13,566.64 370.13,563.92 370.50,563.92 370.50,566.24 371.45,566.24 371.45,561.07 372.63,561.07 372.63,562.77 373.11,562.77 373.11,564.65 373.51,564.65 373.51,563.24 374.59,563.24 374.59,567.06 375.03,567.06 375.03,563.97 375.76,563.97 375.76,562.62 376.59,562.62 376.59,562.31 377.61,562.31 377.61,564.12 378.50,564.12 378.50,568.05" fill="#3c58a4" fill-opacity="0.75"/><polyline points="187.60,568.05 187.60,563.47 188.63,563.47 188.63,564.53 189.93,564.53 189.93,563.52 190.36,563.52 190.36,562.47 191.38,562.47 191.38,562.09 192.15,562.09 192.15,563.87 192.61,563.87 192.61,565.36 193.66,565.36 193.66,566.33 194.92,566.33 194.92,565.31 196.07,565.31 196.07,565.22 196.71,565.22 196.71,561.35 197.91,561.35 197.91,567.08 199.11,567.08 199.11,562.38 200.09,562.38 200.09,563.32 201.38,563.32 201.38,561.86 202.44,561.86 202.44,565.73 203.26,565.73 203.26,562.12 204.07,562.12 204.07,563.78 204.54,563.78 204.54,565.50 205.62,565.50 205.62,564.59 206.57,564.59 206.57,564.25 207.53,564.25 207.53,564.16 208.27,564.16 208.27,564.75 208.85,564.75 208.85,563.35 209.62,563.35 209.62,566.68 210.32,566.68 210.32,564.32 210.97,564.32 210.97,560.45 211.35,560.45 211.35,564.74 212.47,564.74 212.47,565.55 213.21,565.55 213.21,565.29 213.85,565.29 213.85,562.69 215.06,562.69 215.06,564.82 215.43,564.82 215.43,564.61 216.44,564.61 216.44,565.19 217.65,565.19 217.65,564.41 218.72,564.41 218.72,566.67 219.45,566.67 219.45,562.34 219.86,562.34 219.86,563.42 220.71,563.42 220.71,565.94 221.49,565.94 221.49,566.13 222.62,566.13 222.62,563.69 223.50,563.69 223.50,563.60 224.71,563.60 224.71,564.91 225.23,564.91 225.23,562.93 225.66,562.93 225.66,564.57 226.68,564.57 226.68,563.08 227.46,563.08 227.46,562.36 228.75,562.36 228.75,565.71 229.42,565.71 229.42,561.43 229.90,561.43 229.90,564.64 231.08,564.64 231.08,564.35 231.66,564.35 231.66,561.53 232.59,561.53 232.59,566.95 233.20,566.95 233.20,564.97 234.48,564.97 234.48,562.60 235.15,562.60 235.15,566.99 235.65,566.99 235.65,563.39 236.78,563.39 236.78,564.51 237.35,564.51 237.35,565.31 238.41,565.31 238.41,560.82 238.99,560.82 238.99,564.61 240.23,564.61 240.23,561.24 241.12,561.24 241.12,562.15 241.69,562.15 241.69,565.86 242.52,565.86 242.52,561.26 243.29,561.26 243.29,565.51 244.07,565.51 244.07,563.85 244.52,563.85 244.52,564.27 245.70,564.27 245.70,565.24 246.84,565.24 246.84,562.61 247.37,562.61 247.37,565.79 247.93,565.79 247.93,562.90 249.06,562.90 249.06,563.51 250.00,563.51 250.00,564.08 250.84,564.08 250.84,563.54 251.34,563.54 251.34,563.65 252.27,563.65 252.27,566.61 253.08,566.61 253.08,560.97 253.90,560.97 253.90,562.34 255.11,562.34 255.11,566.47 255.79,566.47 255.79,563.47 256.25,563.47 256.25,562.14 257.17,562.14 257.17,565.10 257.71,565.10 257.71,564.97 258.99,564.97 258.99,566.58 259.70,566.58 259.70,564.37 260.34,564.37 260.34,564.58 261.33,564.58 261.33,563.77 262.19,563.77 262.19,562.83 262.80,562.83 262.80,564.65 263.63,564.65 263.63,562.45 264.68,562.45 264.68,565.66 265.89,565.66 265.89,562.46 266.59,562.46 266.59,565.69 267.53,565.69 267.53,565.63 268.51,565.63 268.51,568.05 269.78,568.05 269.78,568.05 270.72,568.05 270.72,568.05 271.26,568.05 271.26,568.05 272.02,568.05 272.02,568.05 272.94,568.05 272.94,568.05 273.56,568.05 273.56,568.05 274.59,568.05 274.59,568.05 274.95,568.05 274.95,565.74 275.80,565.74 275.80,566.23 276.40,566.23 276.40,563.53 277.48,563.53 277.48,566.23 278.14,566.23 278.14,560.15 279.41,560.15 279.41,565.79 280.35,565.79 280.35,563.87 280.73,563.87 280.73,564.87 282.01,564.87 282.01,564.38 283.20,564.38 283.20,565.17 284.12,565.17 284.12,565.38 284.62,565.38 284.62,563.76 285.91,563.76 285.91,564.74 286.97,564.74 286.97,560.06 288.20,560.06 288.20,563.73 289.49,563.73 289.49,562.76 290.08,562.76 290.08,564.04 291.30,564.04 291.30,565.78 292.20,565.78 292.20,564.34 292.89,564.34 292.89,562.57 293.88,562.57 293.88,563.83 294.57,563.83 294.57,563.86 295.55,563.86 295.55,562.11 296.73,562.11 296.73,560.76 297.44,560.76 297.44,565.94 298.20,565.94 298.20,561.21 299.39,561.21 299.39,565.00 300.64,565.00 300.64,563.51 301.93,563.51 301.93,566.37 302.88,566.37 302.88,562.63 303.79,562.63 303.79,562.47 304.23,562.47 304.23,565.54 305.43,565.54 305.43,560.78 306.47,560.78 306.47,565.51 307.05,565.51 307.05,560.53 307.86,560.53 307.86,560.08 308.40,560.08 308.40,566.43 309.14,566.43 309.14,563.99 309.79,563.99 309.79,565.41 310.52,565.41 310.52,564.98 311.82,564.98 311.82,567.04 312.41,567.04 312.41,565.07 312.81,565.07 312.81,562.29 313.83,562.29 313.83,565.73 314.32,565.73 314.32,565.16 314.95,565.16 314.95,565.69 316.10,565.69 316.10,563.99 317.02,563.99 317.02,565.91 317.47,565.91 317.47,563.64 318.10,563.64 318.10,563.38 319.03,563.38 319.03,562.14 320.09,562.14 320.09,563.05 321.25,563.05 321.25,565.93 321.95,565.93 321.95,565.70 322.91,565.70 322.91,564.61 323.71,564.61 323.71,565.98 324.97,565.98 324.97,564.03 325.48,564.03 325.48,565.15 326.72,565.15 326.72,563.74 327.17,563.74 327.17,562.60 327.76,562.60 327.76,560.59 328.29,560.59 328.29,564.24 329.29,564.24 329.29,566.01 329.67,566.01 329.67,564.76 330.77,564.76 330.77,563.72 331.47,563.72 331.47,566.48 331.96,566.48 331.96,566.22 332.38,566.22 332.38,564.16 333.02,564.16 333.02,562.09 333.73,562.09 333.73,566.03 334.18,566.03 334.18,563.82 334.78,563.82 334.78,563.53 335.88,563.53 335.88,564.29 337.11,564.29 337.11,561.19 337.65,561.19 337.65,562.64 338.28,562.64 338.28,564.37 339.01,564.37 339.01,564.92 339.72,564.92 339.72,565.47 340.45,565.47 340.45,563.48 341.55,563.48 341.55,564.70 342.06,564.70 342.06,562.58 342.89,562.58 342.89,566.44 343.52,566.44 343.52,564.04 344.38,564.04 344.38,564.62 344.87,564.62 344.87,563.62 345.59,563.62 345.59,565.07 346.40,565.07 346.40,566.84 346.88,566.84 346.88,563.66 347.51,563.66 347.51,560.89 348.57,560.89 348.57,563.95 349.08,563.95 349.08,563.42 349.82,563.42 349.82,564.67 350.42,564.67 350.42,565.96 351.66,565.96 351.66,562.61 352.25,562.61 352.25,562.96 353.11,562.96 353.11,561.30 353.61,561.30 353.61,565.47 353.97,565.47 353.97,565.66 355.00,565.66 355.00,562.66 356.00,562.66 356.00,560.61 356.61,560.61 356.61,561.53 357.40,561.53 357.40,564.74 358.04,564.74 358.04,566.33 358.92,566.33 358.92,564.17 360.19,564.17 360.19,564.71 360.66,564.71 360.66,565.53 361.90,565.53 361.90,560.47 362.39,560.47 362.39,564.33 363.68,564.33 363.68,565.15 364.20,565.15 364.20,563.05 364.88,563.05 364.88,562.31 365.53,562.31 365.53,563.64 366.31,563.64 366.31,562.93 366.95,562.93 366.95,564.03 367.41,564.03 367.41,559.85 368.13,559.85 368.13,563.17 369.03,563.17 369.03,566.64 370.13,566.64 370.13,563.92 370.50,563.92 370.50,566.24 371.45,566.24 371.45,561.07 372.63,561.07 372.63,562.77 373.11,562.77 373.11,564.65 373.51,564.65 373.51,563.24 374.59,563.24 374.59,567.06 375.03,567.06 375.03,563.97 375.76,563.97 375.76,562.62 376.59,562.62 376.59,562.31 377.61,562.31 377.61,564.12 378.50,564.12 378.50,568.05" fill="none" stroke="#3c58a4" stroke-width="0.45" stroke-opacity="0.8"/><rect x="187.0" y="566.4" width="192.0" height="2.8" fill="#3c58a4"/><rect x="187.0" y="566.5" width="4" height="4.8" fill="#3c58a4"/><rect x="376.0" y="566.0" width="3" height="4" fill="#3c58a4"/><rect x="267.7" y="567.0" width="7.0" height="4.9" fill="#3c58a4"/></g>
<text x="512.0" y="423.8" class="tt">Chr XIII</text>
<g><text x="418.3" y="411.4" class="yl">0.47</text><line x1="419.7" y1="409.9" x2="421.5" y2="409.9" stroke="#f07272" stroke-width="0.6"/><text x="418.3" y="425.7" class="yl">0.37</text><line x1="419.7" y1="424.2" x2="421.5" y2="424.2" stroke="#f07272" stroke-width="0.6"/><text x="418.3" y="440.0" class="yl">0.27</text><line x1="419.7" y1="438.5" x2="421.5" y2="438.5" stroke="#f07272" stroke-width="0.6"/><text x="418.3" y="454.2" class="yl">0.17</text><line x1="419.7" y1="452.7" x2="421.5" y2="452.7" stroke="#f07272" stroke-width="0.6"/><text x="418.3" y="468.5" class="yl">0.07</text><line x1="419.7" y1="467.0" x2="421.5" y2="467.0" stroke="#f07272" stroke-width="0.6"/><text x="418.3" y="482.8" class="yl">-0.03</text><line x1="419.7" y1="481.3" x2="421.5" y2="481.3" stroke="#f07272" stroke-width="0.6"/><line x1="421.5" y1="405.4" x2="421.5" y2="481.3" stroke="#f07272" stroke-width="1"/><text x="421.5" y="484.9" class="xl">0</text><text x="440.1" y="484.9" class="xl">100000</text><text x="458.6" y="484.9" class="xl">200000</text><text x="477.2" y="484.9" class="xl">300000</text><text x="495.7" y="484.9" class="xl">400000</text><text x="514.3" y="484.9" class="xl">500000</text><text x="532.9" y="484.9" class="xl">600000</text><text x="551.4" y="484.9" class="xl">700000</text><text x="570.0" y="484.9" class="xl">800000</text><text x="588.5" y="484.9" class="xl">900000</text><polygon points="422.10,477.73 422.10,470.90 422.90,470.90 422.90,471.32 423.57,471.32 423.57,472.08 424.11,472.08 424.11,473.53 424.85,473.53 424.85,472.97 425.45,472.97 425.45,473.45 426.36,473.45 426.36,475.97 427.52,475.97 427.52,477.73 428.40,477.73 428.40,474.65 429.67,474.65 429.67,474.44 430.64,474.44 430.64,474.71 431.27,474.71 431.27,474.58 432.22,474.58 432.22,477.73 433.42,477.73 433.42,474.37 434.06,474.37 434.06,473.88 434.90,473.88 434.90,473.77 435.79,473.77 435.79,474.23 436.34,474.23 436.34,473.01 436.88,473.01 436.88,473.78 437.88,473.78 437.88,474.07 438.56,474.07 438.56,476.43 439.11,476.43 439.11,471.08 440.15,471.08 440.15,474.96 440.83,474.96 440.83,475.61 441.63,475.61 441.63,473.84 442.62,473.84 442.62,473.83 443.37,473.83 443.37,474.06 444.41,474.06 444.41,477.73 445.70,477.73 445.70,473.03 446.81,473.03 446.81,473.48 447.87,473.48 447.87,477.73 448.56,477.73 448.56,476.40 449.65,476.40 449.65,474.80 450.80,474.80 450.80,475.10 451.72,475.10 451.72,471.36 452.43,471.36 452.43,472.67 453.00,472.67 453.00,475.96 454.06,475.96 454.06,477.73 454.78,477.73 454.78,474.38 455.75,474.38 455.75,470.81 456.69,470.81 456.69,477.73 457.33,477.73 457.33,476.30 458.56,476.30 458.56,475.36 459.70,475.36 459.70,475.80 460.75,475.80 460.75,474.23 461.48,474.23 461.48,472.04 462.20,472.04 462.20,474.87 463.05,474.87 463.05,472.63 463.78,472.63 463.78,474.74 464.56,474.74 464.56,475.73 465.45,475.73 465.45,475.02 466.18,475.02 466.18,474.71 467.31,474.71 467.31,477.73 467.85,477.73 467.85,473.68 468.45,473.68 468.45,471.25 469.06,471.25 469.06,471.96 470.12,471.96 470.12,468.25 471.35,468.25 471.35,470.62 471.88,470.62 471.88,470.96 472.47,470.96 472.47,473.14 472.99,473.14 472.99,477.73 474.09,477.73 474.09,477.73 475.37,477.73 475.37,471.63 475.94,471.63 475.94,473.45 476.58,473.45 476.58,471.24 477.29,471.24 477.29,474.61 478.10,474.61 478.10,474.98 479.39,474.98 479.39,474.47 480.32,474.47 480.32,477.73 481.23,477.73 481.23,472.76 482.08,472.76 482.08,475.24 482.76,475.24 482.76,475.77 483.37,475.77 483.37,470.42 484.21,470.42 484.21,474.56 485.41,474.56 485.41,472.24 486.10,472.24 486.10,477.73 486.93,477.73 486.93,473.19 487.82,473.19 487.82,472.99 488.60,472.99 488.60,474.75 489.80,474.75 489.80,475.77 491.05,475.77 491.05,477.73 491.59,477.73 491.59,474.28 492.18,474.28 492.18,475.47 493.31,475.47 493.31,474.97 493.83,474.97 493.83,476.53 494.54,476.53 494.54,474.30 495.73,474.30 495.73,475.07 496.68,475.07 496.68,477.73 497.52,477.73 497.52,477.73 498.20,477.73 498.20,477.73 499.31,477.73 499.31,474.66 500.19,474.66 500.19,472.75 501.21,472.75 501.21,469.24 502.46,469.24 502.46,474.57 503.35,474.57 503.35,469.30 504.32,469.30 504.32,475.94 505.50,475.94 505.50,469.64 506.34,469.64 506.34,475.29 507.45,475.29 507.45,470.55 508.33,470.55 508.33,471.71 509.04,471.71 509.04,471.74 509.76,471.74 509.76,474.74 510.97,474.74 510.97,470.76 511.55,470.76 511.55,468.43 512.18,468.43 512.18,473.66 513.11,473.66 513.11,476.00 513.64,476.00 513.64,475.39 514.85,475.39 514.85,477.73 515.86,477.73 515.86,473.22 516.72,473.22 516.72,468.52 517.51,468.52 517.51,471.37 518.03,471.37 518.03,475.26 519.28,475.26 519.28,474.06 520.35,474.06 520.35,468.83 521.33,468.83 521.33,472.95 522.35,472.95 522.35,474.79 523.32,474.79 523.32,469.11 524.51,469.11 524.51,471.46 525.47,471.46 525.47,473.57 526.68,473.57 526.68,471.40 527.92,471.40 527.92,473.80 528.85,473.80 528.85,476.09 529.65,476.09 529.65,471.78 530.32,471.78 530.32,472.60 531.53,472.60 531.53,475.86 532.50,475.86 532.50,476.10 533.21,476.10 533.21,474.82 533.94,474.82 533.94,474.09 535.19,474.09 535.19,477.73 536.36,477.73 536.36,472.86 537.36,472.86 537.36,472.98 538.64,472.98 538.64,477.73 539.70,477.73 539.70,477.73 540.29,477.73 540.29,474.07 541.39,474.07 541.39,471.62 542.29,471.62 542.29,473.38 543.46,473.38 543.46,475.03 544.58,475.03 544.58,474.93 545.24,474.93 545.24,472.73 545.92,472.73 545.92,473.24 546.59,473.24 546.59,477.73 547.15,477.73 547.15,471.26 548.44,471.26 548.44,472.80 549.44,472.80 549.44,476.10 549.96,476.10 549.96,472.09 550.98,472.09 550.98,475.12 551.56,475.12 551.56,475.37 552.56,475.37 552.56,477.73 553.39,477.73 553.39,470.69 554.14,470.69 554.14,472.74 554.95,472.74 554.95,476.02 555.54,476.02 555.54,472.62 556.30,472.62 556.30,475.71 556.96,475.71 556.96,475.62 558.04,475.62 558.04,474.06 559.04,474.06 559.04,474.02 559.80,474.02 559.80,472.65 560.65,472.65 560.65,475.66 561.95,475.66 561.95,474.42 562.88,474.42 562.88,474.43 563.64,474.43 563.64,471.27 564.53,471.27 564.53,475.96 565.16,475.96 565.16,477.73 566.32,477.73 566.32,471.86 566.89,471.86 566.89,474.78 567.53,474.78 567.53,472.47 568.60,472.47 568.60,471.96 569.52,471.96 569.52,472.59 570.26,472.59 570.26,472.99 570.80,472.99 570.80,473.93 571.75,473.93 571.75,475.62 573.02,475.62 573.02,475.53 573.66,475.53 573.66,474.32 574.22,474.32 574.22,475.51 575.35,475.51 575.35,475.24 576.25,475.24 576.25,473.62 577.30,473.62 577.30,474.80 578.14,474.80 578.14,474.73 578.68,474.73 578.68,472.12 579.88,472.12 579.88,472.45 580.53,472.45 580.53,477.73 581.44,477.73 581.44,473.33 582.73,473.33 582.73,471.13 583.46,471.13 583.46,477.73 583.96,477.73 583.96,476.54 584.71,476.54 584.71,477.73 585.71,477.73 585.71,474.23 586.64,474.23 586.64,471.05 587.38,471.05 587.38,477.73 588.49,477.73 588.49,473.75 589.20,473.75 589.20,471.43 590.30,471.43 590.30,477.73 590.86,477.73 590.86,472.44 591.68,472.44 591.68,477.73 592.50,477.73 592.50,477.73" fill="#e3242b" fill-opacity="0.16"/><path d="M422.10 477.7V470.90M422.90 477.7V471.32M423.57 477.7V472.08M424.11 477.7V473.53M424.85 477.7V472.97M425.45 477.7V473.45M426.36 477.7V475.97M428.40 477.7V474.65M429.67 477.7V474.44M430.64 477.7V474.71M431.27 477.7V474.58M433.42 477.7V474.37M434.06 477.7V473.88M434.90 477.7V473.77M435.79 477.7V474.23M436.34 477.7V473.01M436.88 477.7V473.78M437.88 477.7V474.07M438.56 477.7V476.43M439.11 477.7V471.08M440.15 477.7V474.96M440.83 477.7V475.61M441.63 477.7V473.84M442.62 477.7V473.83M443.37 477.7V474.06M445.70 477.7V473.03M446.81 477.7V473.48M448.56 477.7V476.40M449.65 477.7V474.80M450.80 477.7V475.10M451.72 477.7V471.36M452.43 477.7V472.67M453.00 477.7V475.96M454.78 477.7V474.38M455.75 477.7V470.81M457.33 477.7V476.30M458.56 477.7V475.36M459.70 477.7V475.80M460.75 477.7V474.23M461.48 477.7V472.04M462.20 477.7V474.87M463.05 477.7V472.63M463.78 477.7V474.74M464.56 477.7V475.73M465.45 477.7V475.02M466.18 477.7V474.71M467.85 477.7V473.68M468.45 477.7V471.25M469.06 477.7V471.96M470.12 477.7V468.25M471.35 477.7V470.62M471.88 477.7V470.96M472.47 477.7V473.14M475.37 477.7V471.63M475.94 477.7V473.45M476.58 477.7V471.24M477.29 477.7V474.61M478.10 477.7V474.98M479.39 477.7V474.47M481.23 477.7V472.76M482.08 477.7V475.24M482.76 477.7V475.77M483.37 477.7V470.42M484.21 477.7V474.56M485.41 477.7V472.24M486.93 477.7V473.19M487.82 477.7V472.99M488.60 477.7V474.75M489.80 477.7V475.77M491.59 477.7V474.28M492.18 477.7V475.47M493.31 477.7V474.97M493.83 477.7V476.53M494.54 477.7V474.30M495.73 477.7V475.07M499.31 477.7V474.66M500.19 477.7V472.75M501.21 477.7V469.24M502.46 477.7V474.57M503.35 477.7V469.30M504.32 477.7V475.94M505.50 477.7V469.64M506.34 477.7V475.29M507.45 477.7V470.55M508.33 477.7V471.71M509.04 477.7V471.74M509.76 477.7V474.74M510.97 477.7V470.76M511.55 477.7V468.43M512.18 477.7V473.66M513.11 477.7V476.00M513.64 477.7V475.39M515.86 477.7V473.22M516.72 477.7V468.52M517.51 477.7V471.37M518.03 477.7V475.26M519.28 477.7V474.06M520.35 477.7V468.83M521.33 477.7V472.95M522.35 477.7V474.79M523.32 477.7V469.11M524.51 477.7V471.46M525.47 477.7V473.57M526.68 477.7V471.40M527.92 477.7V473.80M528.85 477.7V476.09M529.65 477.7V471.78M530.32 477.7V472.60M531.53 477.7V475.86M532.50 477.7V476.10M533.21 477.7V474.82M533.94 477.7V474.09M536.36 477.7V472.86M537.36 477.7V472.98M540.29 477.7V474.07M541.39 477.7V471.62M542.29 477.7V473.38M543.46 477.7V475.03M544.58 477.7V474.93M545.24 477.7V472.73M545.92 477.7V473.24M547.15 477.7V471.26M548.44 477.7V472.80M549.44 477.7V476.10M549.96 477.7V472.09M550.98 477.7V475.12M551.56 477.7V475.37M553.39 477.7V470.69M554.14 477.7V472.74M554.95 477.7V476.02M555.54 477.7V472.62M556.30 477.7V475.71M556.96 477.7V475.62M558.04 477.7V474.06M559.04 477.7V474.02M559.80 477.7V472.65M560.65 477.7V475.66M561.95 477.7V474.42M562.88 477.7V474.43M563.64 477.7V471.27M564.53 477.7V475.96M566.32 477.7V471.86M566.89 477.7V474.78M567.53 477.7V472.47M568.60 477.7V471.96M569.52 477.7V472.59M570.26 477.7V472.99M570.80 477.7V473.93M571.75 477.7V475.62M573.02 477.7V475.53M573.66 477.7V474.32M574.22 477.7V475.51M575.35 477.7V475.24M576.25 477.7V473.62M577.30 477.7V474.80M578.14 477.7V474.73M578.68 477.7V472.12M579.88 477.7V472.45M581.44 477.7V473.33M582.73 477.7V471.13M583.96 477.7V476.54M585.71 477.7V474.23M586.64 477.7V471.05M588.49 477.7V473.75M589.20 477.7V471.43M590.86 477.7V472.44" stroke="#e3242b" stroke-width="0.7" stroke-opacity="0.85" fill="none"/><path d="M524.60 477.7V458.3M427.20 477.7V464.0M455.40 477.7V464.0M560.00 477.7V464.0M564.80 477.7V464.0M470.70 477.7V465.9M469.00 477.7V465.9M472.00 477.7V465.9M477.00 477.7V465.9M509.30 477.7V467.7M521.20 477.7V467.7M538.40 477.7V465.9M544.10 477.7V465.9M445.50 477.7V467.7M438.60 477.7V467.7M568.90 477.7V467.7M580.80 477.7V467.7M587.70 477.7V467.7M432.00 477.7V470.6M460.00 477.7V470.6M490.00 477.7V470.6M500.00 477.7V470.6M530.00 477.7V470.6M552.00 477.7V470.6M574.00 477.7V470.6" stroke="#e3242b" stroke-width="0.95" stroke-opacity="0.8" fill="none"/><rect x="421.5" y="476.0" width="171.5" height="3.0" fill="#e3242b"/><rect x="421.5" y="476.2" width="4" height="4.8" fill="#e3242b"/><rect x="590.0" y="475.7" width="3" height="4" fill="#e3242b"/></g>
<g><text x="418.3" y="502.0" class="yl">0.47</text><line x1="419.7" y1="500.5" x2="421.5" y2="500.5" stroke="#5a72c0" stroke-width="0.6"/><text x="418.3" y="516.2" class="yl">0.37</text><line x1="419.7" y1="514.7" x2="421.5" y2="514.7" stroke="#5a72c0" stroke-width="0.6"/><text x="418.3" y="530.4" class="yl">0.27</text><line x1="419.7" y1="528.9" x2="421.5" y2="528.9" stroke="#5a72c0" stroke-width="0.6"/><text x="418.3" y="544.7" class="yl">0.17</text><line x1="419.7" y1="543.2" x2="421.5" y2="543.2" stroke="#5a72c0" stroke-width="0.6"/><text x="418.3" y="558.9" class="yl">0.07</text><line x1="419.7" y1="557.4" x2="421.5" y2="557.4" stroke="#5a72c0" stroke-width="0.6"/><text x="418.3" y="573.1" class="yl">-0.03</text><line x1="419.7" y1="571.6" x2="421.5" y2="571.6" stroke="#5a72c0" stroke-width="0.6"/><line x1="421.5" y1="496.0" x2="421.5" y2="571.6" stroke="#5a72c0" stroke-width="1"/><text x="421.5" y="575.2" class="xl">0</text><text x="439.4" y="575.2" class="xl">100000</text><text x="457.3" y="575.2" class="xl">200000</text><text x="475.1" y="575.2" class="xl">300000</text><text x="493.0" y="575.2" class="xl">400000</text><text x="510.9" y="575.2" class="xl">500000</text><text x="528.8" y="575.2" class="xl">600000</text><text x="546.7" y="575.2" class="xl">700000</text><text x="564.5" y="575.2" class="xl">800000</text><text x="582.4" y="575.2" class="xl">900000</text><polygon points="422.10,568.05 422.10,565.59 423.16,565.59 423.16,566.31 424.08,566.31 424.08,566.41 425.16,566.41 425.16,562.15 425.98,562.15 425.98,564.13 427.27,564.13 427.27,562.01 428.37,562.01 428.37,565.76 429.61,565.76 429.61,562.15 430.53,562.15 430.53,563.73 431.22,563.73 431.22,564.82 432.49,564.82 432.49,567.18 432.96,567.18 432.96,564.20 433.88,564.20 433.88,564.13 435.04,564.13 435.04,563.35 435.58,563.35 435.58,565.08 436.82,565.08 436.82,567.11 437.67,567.11 437.67,563.70 438.53,563.70 438.53,564.28 439.27,564.28 439.27,566.57 440.56,566.57 440.56,562.17 441.01,562.17 441.01,565.96 442.03,565.96 442.03,565.87 442.47,565.87 442.47,561.28 442.95,561.28 442.95,562.46 444.16,562.46 444.16,563.19 445.38,563.19 445.38,565.98 446.17,565.98 446.17,564.86 446.57,564.86 446.57,562.38 447.84,562.38 447.84,564.20 448.64,564.20 448.64,566.70 449.03,566.70 449.03,565.91 449.65,565.91 449.65,566.50 450.16,566.50 450.16,566.42 450.55,566.42 450.55,566.12 451.30,566.12 451.30,560.60 452.11,560.60 452.11,565.83 452.98,565.83 452.98,565.36 454.25,565.36 454.25,563.82 454.74,563.82 454.74,562.58 455.47,562.58 455.47,562.53 456.31,562.53 456.31,567.03 457.54,567.03 457.54,566.87 458.12,566.87 458.12,564.92 458.89,564.92 458.89,560.45 459.24,560.45 459.24,564.33 459.69,564.33 459.69,563.71 460.18,563.71 460.18,562.86 461.12,562.86 461.12,559.83 462.22,559.83 462.22,565.79 462.62,565.79 462.62,565.67 463.68,565.67 463.68,566.89 464.09,566.89 464.09,564.19 464.62,564.19 464.62,565.47 465.66,565.47 465.66,564.58 466.75,564.58 466.75,564.98 468.02,564.98 468.02,563.89 468.41,563.89 468.41,566.51 468.82,566.51 468.82,565.53 469.46,565.53 469.46,564.43 470.02,564.43 470.02,566.39 471.03,566.39 471.03,565.84 472.10,565.84 472.10,561.85 472.47,561.85 472.47,566.16 472.82,566.16 472.82,562.18 474.12,562.18 474.12,566.76 475.23,566.76 475.23,562.48 476.19,562.48 476.19,565.15 477.20,565.15 477.20,563.45 478.45,563.45 478.45,561.48 479.20,561.48 479.20,562.67 479.64,562.67 479.64,565.45 480.34,565.45 480.34,564.80 481.35,564.80 481.35,563.18 482.58,563.18 482.58,565.94 483.06,565.94 483.06,565.04 484.14,565.04 484.14,563.02 484.77,563.02 484.77,565.87 485.54,565.87 485.54,564.37 485.97,564.37 485.97,565.98 486.94,565.98 486.94,563.36 487.55,563.36 487.55,564.26 488.34,564.26 488.34,563.80 489.24,563.80 489.24,564.50 490.07,564.50 490.07,562.20 491.32,562.20 491.32,564.59 492.20,564.59 492.20,560.93 492.61,560.93 492.61,564.64 492.99,564.64 492.99,561.24 494.15,561.24 494.15,564.75 495.35,564.75 495.35,562.81 496.53,562.81 496.53,564.36 496.89,564.36 496.89,566.22 497.64,566.22 497.64,563.18 498.33,563.18 498.33,564.89 499.03,564.89 499.03,565.25 500.26,565.25 500.26,562.52 501.14,562.52 501.14,564.02 501.50,564.02 501.50,565.73 502.30,565.73 502.30,562.47 503.16,562.47 503.16,566.84 503.88,566.84 503.88,565.15 504.79,565.15 504.79,565.69 505.34,565.69 505.34,565.71 506.29,565.71 506.29,566.79 507.53,566.79 507.53,565.23 508.35,565.23 508.35,563.21 509.54,563.21 509.54,564.15 510.26,564.15 510.26,562.14 510.91,562.14 510.91,562.39 511.53,562.39 511.53,561.43 512.39,561.43 512.39,565.40 513.19,565.40 513.19,566.78 514.45,566.78 514.45,564.53 515.73,564.53 515.73,565.57 516.91,565.57 516.91,566.50 517.91,566.50 517.91,560.01 519.10,560.01 519.10,562.14 519.91,562.14 519.91,564.32 520.93,564.32 520.93,565.68 521.77,565.68 521.77,563.72 522.90,563.72 522.90,566.57 523.44,566.57 523.44,565.63 524.47,565.63 524.47,565.94 525.19,565.94 525.19,562.23 525.62,562.23 525.62,566.61 526.51,566.61 526.51,565.46 527.12,565.46 527.12,561.25 527.71,561.25 527.71,561.06 528.48,561.06 528.48,565.70 529.15,565.70 529.15,560.72 530.30,560.72 530.30,565.90 531.24,565.90 531.24,566.38 531.94,566.38 531.94,563.13 532.96,563.13 532.96,566.72 533.79,566.72 533.79,564.73 535.00,564.73 535.00,565.39 535.87,565.39 535.87,562.29 536.31,562.29 536.31,563.74 537.46,563.74 537.46,565.72 537.91,565.72 537.91,565.29 538.91,565.29 538.91,566.95 540.20,566.95 540.20,566.85 540.72,566.85 540.72,560.83 541.70,560.83 541.70,564.78 542.27,564.78 542.27,562.28 542.79,562.28 542.79,564.77 543.78,564.77 543.78,563.19 545.05,563.19 545.05,563.28 545.65,563.28 545.65,560.75 546.92,560.75 546.92,564.84 547.41,564.84 547.41,566.66 547.77,566.66 547.77,564.30 548.55,564.30 548.55,564.28 549.51,564.28 549.51,564.59 550.41,564.59 550.41,566.42 550.88,566.42 550.88,565.07 551.71,565.07 551.71,564.60 552.68,564.60 552.68,561.46 553.16,561.46 553.16,565.86 554.10,565.86 554.10,559.85 554.58,559.85 554.58,562.20 555.74,562.20 555.74,565.65 556.41,565.65 556.41,565.17 557.08,565.17 557.08,565.90 558.12,565.90 558.12,564.03 559.28,564.03 559.28,566.87 559.70,566.87 559.70,560.84 560.66,560.84 560.66,566.83 561.76,566.83 561.76,565.94 562.53,565.94 562.53,565.62 562.92,565.62 562.92,566.52 563.60,566.52 563.60,563.30 564.74,563.30 564.74,563.26 565.56,563.26 565.56,565.36 566.46,565.36 566.46,562.43 567.20,562.43 567.20,562.42 567.63,562.42 567.63,564.01 568.57,564.01 568.57,564.61 569.27,564.61 569.27,566.10 569.85,566.10 569.85,566.00 570.80,566.00 570.80,566.08 571.85,566.08 571.85,562.67 572.62,562.67 572.62,564.03 573.87,564.03 573.87,564.96 574.67,564.96 574.67,564.47 575.27,564.47 575.27,564.83 576.44,564.83 576.44,564.38 577.44,564.38 577.44,565.92 578.48,565.92 578.48,565.78 579.57,565.78 579.57,563.08 580.76,563.08 580.76,564.28 581.57,564.28 581.57,560.07 582.40,560.07 582.40,562.85 582.98,562.85 582.98,565.94 583.83,565.94 583.83,564.84 584.34,564.84 584.34,563.47 585.54,563.47 585.54,561.76 586.20,561.76 586.20,568.05" fill="#3c58a4" fill-opacity="0.75"/><polyline points="422.10,568.05 422.10,565.59 423.16,565.59 423.16,566.31 424.08,566.31 424.08,566.41 425.16,566.41 425.16,562.15 425.98,562.15 425.98,564.13 427.27,564.13 427.27,562.01 428.37,562.01 428.37,565.76 429.61,565.76 429.61,562.15 430.53,562.15 430.53,563.73 431.22,563.73 431.22,564.82 432.49,564.82 432.49,567.18 432.96,567.18 432.96,564.20 433.88,564.20 433.88,564.13 435.04,564.13 435.04,563.35 435.58,563.35 435.58,565.08 436.82,565.08 436.82,567.11 437.67,567.11 437.67,563.70 438.53,563.70 438.53,564.28 439.27,564.28 439.27,566.57 440.56,566.57 440.56,562.17 441.01,562.17 441.01,565.96 442.03,565.96 442.03,565.87 442.47,565.87 442.47,561.28 442.95,561.28 442.95,562.46 444.16,562.46 444.16,563.19 445.38,563.19 445.38,565.98 446.17,565.98 446.17,564.86 446.57,564.86 446.57,562.38 447.84,562.38 447.84,564.20 448.64,564.20 448.64,566.70 449.03,566.70 449.03,565.91 449.65,565.91 449.65,566.50 450.16,566.50 450.16,566.42 450.55,566.42 450.55,566.12 451.30,566.12 451.30,560.60 452.11,560.60 452.11,565.83 452.98,565.83 452.98,565.36 454.25,565.36 454.25,563.82 454.74,563.82 454.74,562.58 455.47,562.58 455.47,562.53 456.31,562.53 456.31,567.03 457.54,567.03 457.54,566.87 458.12,566.87 458.12,564.92 458.89,564.92 458.89,560.45 459.24,560.45 459.24,564.33 459.69,564.33 459.69,563.71 460.18,563.71 460.18,562.86 461.12,562.86 461.12,559.83 462.22,559.83 462.22,565.79 462.62,565.79 462.62,565.67 463.68,565.67 463.68,566.89 464.09,566.89 464.09,564.19 464.62,564.19 464.62,565.47 465.66,565.47 465.66,564.58 466.75,564.58 466.75,564.98 468.02,564.98 468.02,563.89 468.41,563.89 468.41,566.51 468.82,566.51 468.82,565.53 469.46,565.53 469.46,564.43 470.02,564.43 470.02,566.39 471.03,566.39 471.03,565.84 472.10,565.84 472.10,561.85 472.47,561.85 472.47,566.16 472.82,566.16 472.82,562.18 474.12,562.18 474.12,566.76 475.23,566.76 475.23,562.48 476.19,562.48 476.19,565.15 477.20,565.15 477.20,563.45 478.45,563.45 478.45,561.48 479.20,561.48 479.20,562.67 479.64,562.67 479.64,565.45 480.34,565.45 480.34,564.80 481.35,564.80 481.35,563.18 482.58,563.18 482.58,565.94 483.06,565.94 483.06,565.04 484.14,565.04 484.14,563.02 484.77,563.02 484.77,565.87 485.54,565.87 485.54,564.37 485.97,564.37 485.97,565.98 486.94,565.98 486.94,563.36 487.55,563.36 487.55,564.26 488.34,564.26 488.34,563.80 489.24,563.80 489.24,564.50 490.07,564.50 490.07,562.20 491.32,562.20 491.32,564.59 492.20,564.59 492.20,560.93 492.61,560.93 492.61,564.64 492.99,564.64 492.99,561.24 494.15,561.24 494.15,564.75 495.35,564.75 495.35,562.81 496.53,562.81 496.53,564.36 496.89,564.36 496.89,566.22 497.64,566.22 497.64,563.18 498.33,563.18 498.33,564.89 499.03,564.89 499.03,565.25 500.26,565.25 500.26,562.52 501.14,562.52 501.14,564.02 501.50,564.02 501.50,565.73 502.30,565.73 502.30,562.47 503.16,562.47 503.16,566.84 503.88,566.84 503.88,565.15 504.79,565.15 504.79,565.69 505.34,565.69 505.34,565.71 506.29,565.71 506.29,566.79 507.53,566.79 507.53,565.23 508.35,565.23 508.35,563.21 509.54,563.21 509.54,564.15 510.26,564.15 510.26,562.14 510.91,562.14 510.91,562.39 511.53,562.39 511.53,561.43 512.39,561.43 512.39,565.40 513.19,565.40 513.19,566.78 514.45,566.78 514.45,564.53 515.73,564.53 515.73,565.57 516.91,565.57 516.91,566.50 517.91,566.50 517.91,560.01 519.10,560.01 519.10,562.14 519.91,562.14 519.91,564.32 520.93,564.32 520.93,565.68 521.77,565.68 521.77,563.72 522.90,563.72 522.90,566.57 523.44,566.57 523.44,565.63 524.47,565.63 524.47,565.94 525.19,565.94 525.19,562.23 525.62,562.23 525.62,566.61 526.51,566.61 526.51,565.46 527.12,565.46 527.12,561.25 527.71,561.25 527.71,561.06 528.48,561.06 528.48,565.70 529.15,565.70 529.15,560.72 530.30,560.72 530.30,565.90 531.24,565.90 531.24,566.38 531.94,566.38 531.94,563.13 532.96,563.13 532.96,566.72 533.79,566.72 533.79,564.73 535.00,564.73 535.00,565.39 535.87,565.39 535.87,562.29 536.31,562.29 536.31,563.74 537.46,563.74 537.46,565.72 537.91,565.72 537.91,565.29 538.91,565.29 538.91,566.95 540.20,566.95 540.20,566.85 540.72,566.85 540.72,560.83 541.70,560.83 541.70,564.78 542.27,564.78 542.27,562.28 542.79,562.28 542.79,564.77 543.78,564.77 543.78,563.19 545.05,563.19 545.05,563.28 545.65,563.28 545.65,560.75 546.92,560.75 546.92,564.84 547.41,564.84 547.41,566.66 547.77,566.66 547.77,564.30 548.55,564.30 548.55,564.28 549.51,564.28 549.51,564.59 550.41,564.59 550.41,566.42 550.88,566.42 550.88,565.07 551.71,565.07 551.71,564.60 552.68,564.60 552.68,561.46 553.16,561.46 553.16,565.86 554.10,565.86 554.10,559.85 554.58,559.85 554.58,562.20 555.74,562.20 555.74,565.65 556.41,565.65 556.41,565.17 557.08,565.17 557.08,565.90 558.12,565.90 558.12,564.03 559.28,564.03 559.28,566.87 559.70,566.87 559.70,560.84 560.66,560.84 560.66,566.83 561.76,566.83 561.76,565.94 562.53,565.94 562.53,565.62 562.92,565.62 562.92,566.52 563.60,566.52 563.60,563.30 564.74,563.30 564.74,563.26 565.56,563.26 565.56,565.36 566.46,565.36 566.46,562.43 567.20,562.43 567.20,562.42 567.63,562.42 567.63,564.01 568.57,564.01 568.57,564.61 569.27,564.61 569.27,566.10 569.85,566.10 569.85,566.00 570.80,566.00 570.80,566.08 571.85,566.08 571.85,562.67 572.62,562.67 572.62,564.03 573.87,564.03 573.87,564.96 574.67,564.96 574.67,564.47 575.27,564.47 575.27,564.83 576.44,564.83 576.44,564.38 577.44,564.38 577.44,565.92 578.48,565.92 578.48,565.78 579.57,565.78 579.57,563.08 580.76,563.08 580.76,564.28 581.57,564.28 581.57,560.07 582.40,560.07 582.40,562.85 582.98,562.85 582.98,565.94 583.83,565.94 583.83,564.84 584.34,564.84 584.34,563.47 585.54,563.47 585.54,561.76 586.20,561.76 586.20,568.05" fill="none" stroke="#3c58a4" stroke-width="0.45" stroke-opacity="0.8"/><path d="M495.40 568.0V555.8" stroke="#3c58a4" stroke-width="0.95" stroke-opacity="0.8" fill="none"/><rect x="421.5" y="566.4" width="165.2" height="2.8" fill="#3c58a4"/><rect x="421.5" y="566.5" width="4" height="4.8" fill="#3c58a4"/><rect x="583.7" y="566.0" width="3" height="4" fill="#3c58a4"/></g>
<text x="696.6" y="423.8" class="tt">Chr XIV</text>
<g><text x="614.8" y="411.4" class="yl">0.47</text><line x1="616.2" y1="409.9" x2="618.0" y2="409.9" stroke="#f07272" stroke-width="0.6"/><text x="614.8" y="425.7" class="yl">0.37</text><line x1="616.2" y1="424.2" x2="618.0" y2="424.2" stroke="#f07272" stroke-width="0.6"/><text x="614.8" y="440.0" class="yl">0.27</text><line x1="616.2" y1="438.5" x2="618.0" y2="438.5" stroke="#f07272" stroke-width="0.6"/><text x="614.8" y="454.2" class="yl">0.17</text><line x1="616.2" y1="452.7" x2="618.0" y2="452.7" stroke="#f07272" stroke-width="0.6"/><text x="614.8" y="468.5" class="yl">0.07</text><line x1="616.2" y1="467.0" x2="618.0" y2="467.0" stroke="#f07272" stroke-width="0.6"/><text x="614.8" y="482.8" class="yl">-0.03</text><line x1="616.2" y1="481.3" x2="618.0" y2="481.3" stroke="#f07272" stroke-width="0.6"/><line x1="618.5" y1="405.4" x2="618.5" y2="481.3" stroke="#f07272" stroke-width="1"/><text x="618.0" y="484.9" class="xl">0</text><text x="636.5" y="484.9" class="xl">100000</text><text x="654.9" y="484.9" class="xl">200000</text><text x="673.4" y="484.9" class="xl">300000</text><text x="691.9" y="484.9" class="xl">400000</text><text x="710.3" y="484.9" class="xl">500000</text><text x="728.8" y="484.9" class="xl">600000</text><text x="747.3" y="484.9" class="xl">700000</text><polygon points="618.60,477.73 618.60,472.69 619.62,472.69 619.62,477.73 620.28,477.73 620.28,475.95 621.44,475.95 621.44,475.03 622.59,475.03 622.59,477.73 623.48,477.73 623.48,474.69 624.71,474.69 624.71,473.18 625.89,473.18 625.89,470.56 626.91,470.56 626.91,474.30 628.19,474.30 628.19,475.47 629.18,475.47 629.18,474.65 630.24,474.65 630.24,475.30 631.06,475.30 631.06,473.66 632.30,473.66 632.30,474.27 632.94,474.27 632.94,474.93 634.24,474.93 634.24,474.08 634.75,474.08 634.75,474.17 635.71,474.17 635.71,474.07 636.56,474.07 636.56,474.47 637.35,474.47 637.35,473.69 638.13,473.69 638.13,473.76 638.77,473.76 638.77,476.49 639.34,476.49 639.34,477.73 640.12,477.73 640.12,473.30 640.82,473.30 640.82,473.70 641.56,473.70 641.56,472.16 642.53,472.16 642.53,472.83 643.65,472.83 643.65,477.73 644.70,477.73 644.70,474.20 645.24,474.20 645.24,477.73 646.23,477.73 646.23,473.82 647.18,473.82 647.18,470.90 647.69,470.90 647.69,474.36 648.78,474.36 648.78,471.93 649.43,471.93 649.43,471.90 650.24,471.90 650.24,475.13 651.53,475.13 651.53,475.80 652.27,475.80 652.27,477.73 653.43,477.73 653.43,472.53 654.41,472.53 654.41,475.79 655.30,475.79 655.30,474.18 656.46,474.18 656.46,474.53 657.13,474.53 657.13,468.81 658.20,468.81 658.20,475.55 659.42,475.55 659.42,477.73 660.41,477.73 660.41,476.37 661.25,476.37 661.25,477.73 662.07,477.73 662.07,475.65 663.31,475.65 663.31,477.73 664.38,477.73 664.38,471.43 665.63,471.43 665.63,471.39 666.55,471.39 666.55,472.18 667.22,472.18 667.22,473.12 668.17,473.12 668.17,474.40 668.96,474.40 668.96,475.99 670.02,475.99 670.02,472.80 670.94,472.80 670.94,474.72 672.21,474.72 672.21,473.20 673.18,473.20 673.18,474.58 673.72,474.58 673.72,469.19 674.89,469.19 674.89,474.57 675.75,474.57 675.75,470.72 676.77,470.72 676.77,472.67 677.83,472.67 677.83,474.89 678.64,474.89 678.64,475.31 679.19,475.31 679.19,474.44 680.44,474.44 680.44,475.68 681.58,475.68 681.58,470.02 682.57,470.02 682.57,476.08 683.35,476.08 683.35,474.27 683.98,474.27 683.98,472.37 684.69,472.37 684.69,477.73 685.56,477.73 685.56,471.02 686.11,471.02 686.11,477.73 687.35,477.73 687.35,475.23 688.47,475.23 688.47,473.46 689.43,473.46 689.43,472.95 690.13,472.95 690.13,472.67 691.15,472.67 691.15,472.68 691.75,472.68 691.75,475.49 692.68,475.49 692.68,473.18 693.27,473.18 693.27,473.75 693.79,473.75 693.79,474.68 694.87,474.68 694.87,476.42 695.39,476.42 695.39,472.85 696.03,472.85 696.03,473.76 696.68,473.76 696.68,471.84 697.69,471.84 697.69,474.53 698.66,474.53 698.66,468.69 699.53,468.69 699.53,476.26 700.19,476.26 700.19,474.56 701.02,474.56 701.02,469.58 701.87,469.58 701.87,469.60 702.88,469.60 702.88,474.51 703.65,474.51 703.65,475.41 704.21,475.41 704.21,474.55 705.33,474.55 705.33,471.15 706.06,471.15 706.06,474.26 706.87,474.26 706.87,470.86 707.44,470.86 707.44,472.78 708.34,472.78 708.34,470.56 709.28,470.56 709.28,475.36 710.30,475.36 710.30,477.73 711.54,477.73 711.54,473.77 712.58,473.77 712.58,473.29 713.18,473.29 713.18,474.13 714.11,474.13 714.11,475.34 714.87,475.34 714.87,473.36 715.38,473.36 715.38,473.10 716.23,473.10 716.23,477.73 717.14,477.73 717.14,468.07 718.21,468.07 718.21,477.73 719.40,477.73 719.40,475.17 720.35,475.17 720.35,472.83 720.95,472.83 720.95,472.64 721.61,472.64 721.61,474.69 722.46,474.69 722.46,475.30 723.69,475.30 723.69,474.91 724.77,474.91 724.77,473.92 726.01,473.92 726.01,473.36 726.90,473.36 726.90,477.73 728.19,477.73 728.19,473.45 728.91,473.45 728.91,470.92 729.97,470.92 729.97,473.59 730.76,473.59 730.76,476.34 732.00,476.34 732.00,473.42 732.75,473.42 732.75,473.33 733.60,473.33 733.60,477.73 734.79,477.73 734.79,477.73 735.69,477.73 735.69,472.77 736.81,472.77 736.81,473.76 737.86,473.76 737.86,476.30 738.98,476.30 738.98,473.63 739.95,473.63 739.95,473.33 741.10,473.33 741.10,473.05 742.14,473.05 742.14,472.87 743.18,472.87 743.18,474.31 744.22,474.31 744.22,471.75 745.40,471.75 745.40,473.20 746.38,473.20 746.38,473.05 747.31,473.05 747.31,473.09 748.02,473.09 748.02,470.75 749.00,470.75 749.00,472.85 749.69,472.85 749.69,476.22 750.87,476.22 750.87,470.46 751.50,470.46 751.50,473.75 752.65,473.75 752.65,472.68 753.20,472.68 753.20,473.12 753.79,473.12 753.79,475.70 754.49,475.70 754.49,472.68 755.34,472.68 755.34,473.97 755.85,473.97 755.85,473.23 756.44,473.23 756.44,474.84 757.54,474.84 757.54,474.43 758.27,474.43 758.27,475.63 759.31,475.63 759.31,476.39 760.40,476.39 760.40,473.04 761.67,473.04 761.67,473.06 762.28,473.06 762.28,472.68 762.30,472.68 762.30,477.73" fill="#e3242b" fill-opacity="0.16"/><path d="M618.60 477.7V472.69M620.28 477.7V475.95M621.44 477.7V475.03M623.48 477.7V474.69M624.71 477.7V473.18M625.89 477.7V470.56M626.91 477.7V474.30M628.19 477.7V475.47M629.18 477.7V474.65M630.24 477.7V475.30M631.06 477.7V473.66M632.30 477.7V474.27M632.94 477.7V474.93M634.24 477.7V474.08M634.75 477.7V474.17M635.71 477.7V474.07M636.56 477.7V474.47M637.35 477.7V473.69M638.13 477.7V473.76M638.77 477.7V476.49M640.12 477.7V473.30M640.82 477.7V473.70M641.56 477.7V472.16M642.53 477.7V472.83M644.70 477.7V474.20M646.23 477.7V473.82M647.18 477.7V470.90M647.69 477.7V474.36M648.78 477.7V471.93M649.43 477.7V471.90M650.24 477.7V475.13M651.53 477.7V475.80M653.43 477.7V472.53M654.41 477.7V475.79M655.30 477.7V474.18M656.46 477.7V474.53M657.13 477.7V468.81M658.20 477.7V475.55M660.41 477.7V476.37M662.07 477.7V475.65M664.38 477.7V471.43M665.63 477.7V471.39M666.55 477.7V472.18M667.22 477.7V473.12M668.17 477.7V474.40M668.96 477.7V475.99M670.02 477.7V472.80M670.94 477.7V474.72M672.21 477.7V473.20M673.18 477.7V474.58M673.72 477.7V469.19M674.89 477.7V474.57M675.75 477.7V470.72M676.77 477.7V472.67M677.83 477.7V474.89M678.64 477.7V475.31M679.19 477.7V474.44M680.44 477.7V475.68M681.58 477.7V470.02M682.57 477.7V476.08M683.35 477.7V474.27M683.98 477.7V472.37M685.56 477.7V471.02M687.35 477.7V475.23M688.47 477.7V473.46M689.43 477.7V472.95M690.13 477.7V472.67M691.15 477.7V472.68M691.75 477.7V475.49M692.68 477.7V473.18M693.27 477.7V473.75M693.79 477.7V474.68M694.87 477.7V476.42M695.39 477.7V472.85M696.03 477.7V473.76M696.68 477.7V471.84M697.69 477.7V474.53M698.66 477.7V468.69M699.53 477.7V476.26M700.19 477.7V474.56M701.02 477.7V469.58M701.87 477.7V469.60M702.88 477.7V474.51M703.65 477.7V475.41M704.21 477.7V474.55M705.33 477.7V471.15M706.06 477.7V474.26M706.87 477.7V470.86M707.44 477.7V472.78M708.34 477.7V470.56M709.28 477.7V475.36M711.54 477.7V473.77M712.58 477.7V473.29M713.18 477.7V474.13M714.11 477.7V475.34M714.87 477.7V473.36M715.38 477.7V473.10M717.14 477.7V468.07M719.40 477.7V475.17M720.35 477.7V472.83M720.95 477.7V472.64M721.61 477.7V474.69M722.46 477.7V475.30M723.69 477.7V474.91M724.77 477.7V473.92M726.01 477.7V473.36M728.19 477.7V473.45M728.91 477.7V470.92M729.97 477.7V473.59M730.76 477.7V476.34M732.00 477.7V473.42M732.75 477.7V473.33M735.69 477.7V472.77M736.81 477.7V473.76M737.86 477.7V476.30M738.98 477.7V473.63M739.95 477.7V473.33M741.10 477.7V473.05M742.14 477.7V472.87M743.18 477.7V474.31M744.22 477.7V471.75M745.40 477.7V473.20M746.38 477.7V473.05M747.31 477.7V473.09M748.02 477.7V470.75M749.00 477.7V472.85M749.69 477.7V476.22M750.87 477.7V470.46M751.50 477.7V473.75M752.65 477.7V472.68M753.20 477.7V473.12M753.79 477.7V475.70M754.49 477.7V472.68M755.34 477.7V473.97M755.85 477.7V473.23M756.44 477.7V474.84M757.54 477.7V474.43M758.27 477.7V475.63M759.31 477.7V476.39M760.40 477.7V473.04M761.67 477.7V473.06M762.28 477.7V472.68" stroke="#e3242b" stroke-width="0.7" stroke-opacity="0.85" fill="none"/><path d="M660.50 477.7V446.9M724.40 477.7V458.0M634.70 477.7V460.9M640.10 477.7V460.9M753.40 477.7V460.9M630.10 477.7V463.4M638.20 477.7V463.4M721.50 477.7V463.4M726.30 477.7V463.4M750.50 477.7V463.4M670.50 477.7V466.3M710.20 477.7V466.3M732.10 477.7V466.3M650.40 477.7V469.2M675.00 477.7V469.2M697.30 477.7V469.2M704.00 477.7V469.2M707.00 477.7V469.2M738.00 477.7V469.2M741.80 477.7V469.2M745.50 477.7V469.2M747.50 477.7V469.2M624.00 477.7V470.6M680.00 477.7V470.6M690.00 477.7V470.6M716.00 477.7V470.6" stroke="#e3242b" stroke-width="0.95" stroke-opacity="0.8" fill="none"/><rect x="618.0" y="476.0" width="144.8" height="3.0" fill="#e3242b"/><rect x="618.0" y="476.2" width="4" height="4.8" fill="#e3242b"/><rect x="759.8" y="475.7" width="3" height="4" fill="#e3242b"/></g>
<g><text x="614.8" y="502.0" class="yl">0.47</text><line x1="616.2" y1="500.5" x2="618.0" y2="500.5" stroke="#5a72c0" stroke-width="0.6"/><text x="614.8" y="516.2" class="yl">0.37</text><line x1="616.2" y1="514.7" x2="618.0" y2="514.7" stroke="#5a72c0" stroke-width="0.6"/><text x="614.8" y="530.4" class="yl">0.27</text><line x1="616.2" y1="528.9" x2="618.0" y2="528.9" stroke="#5a72c0" stroke-width="0.6"/><text x="614.8" y="544.7" class="yl">0.17</text><line x1="616.2" y1="543.2" x2="618.0" y2="543.2" stroke="#5a72c0" stroke-width="0.6"/><text x="614.8" y="558.9" class="yl">0.07</text><line x1="616.2" y1="557.4" x2="618.0" y2="557.4" stroke="#5a72c0" stroke-width="0.6"/><text x="614.8" y="573.1" class="yl">-0.03</text><line x1="616.2" y1="571.6" x2="618.0" y2="571.6" stroke="#5a72c0" stroke-width="0.6"/><line x1="618.5" y1="496.0" x2="618.5" y2="571.6" stroke="#5a72c0" stroke-width="1"/><text x="618.0" y="575.2" class="xl">0</text><text x="636.0" y="575.2" class="xl">100000</text><text x="654.1" y="575.2" class="xl">200000</text><text x="672.1" y="575.2" class="xl">300000</text><text x="690.2" y="575.2" class="xl">400000</text><text x="708.2" y="575.2" class="xl">500000</text><text x="726.3" y="575.2" class="xl">600000</text><text x="744.3" y="575.2" class="xl">700000</text><polygon points="618.60,568.05 618.60,564.70 619.06,564.70 619.06,565.00 619.58,565.00 619.58,565.16 620.32,565.16 620.32,565.63 621.47,565.63 621.47,565.84 621.85,565.84 621.85,563.80 623.14,563.80 623.14,560.92 623.61,560.92 623.61,563.32 624.61,563.32 624.61,563.55 625.19,563.55 625.19,562.70 625.55,562.70 625.55,563.98 626.14,563.98 626.14,565.10 626.76,565.10 626.76,565.98 627.27,565.98 627.27,563.14 628.34,563.14 628.34,563.88 629.05,563.88 629.05,563.48 630.24,563.48 630.24,563.46 630.75,563.46 630.75,565.98 631.75,565.98 631.75,561.34 632.29,561.34 632.29,563.10 633.28,563.10 633.28,562.54 634.11,562.54 634.11,565.03 634.95,565.03 634.95,563.36 635.71,563.36 635.71,565.53 636.88,565.53 636.88,566.73 638.15,566.73 638.15,564.17 639.02,564.17 639.02,566.05 640.01,566.05 640.01,565.24 641.30,565.24 641.30,565.82 641.85,565.82 641.85,563.27 642.33,563.27 642.33,563.66 643.16,563.66 643.16,564.22 644.24,564.22 644.24,565.33 645.43,565.33 645.43,559.85 646.26,559.85 646.26,565.14 647.29,565.14 647.29,564.26 648.30,564.26 648.30,564.87 648.98,564.87 648.98,562.26 649.83,562.26 649.83,563.10 650.92,563.10 650.92,564.12 651.64,564.12 651.64,566.91 652.69,566.91 652.69,564.17 653.10,564.17 653.10,566.34 654.04,566.34 654.04,565.98 654.98,565.98 654.98,566.20 655.35,566.20 655.35,566.27 656.08,566.27 656.08,565.16 656.89,565.16 656.89,566.30 657.44,566.30 657.44,564.74 658.63,564.74 658.63,566.06 659.81,566.06 659.81,565.91 660.26,565.91 660.26,565.47 660.81,565.47 660.81,562.93 661.59,562.93 661.59,561.57 662.64,561.57 662.64,565.59 663.33,565.59 663.33,562.91 663.72,562.91 663.72,563.31 664.42,563.31 664.42,565.08 665.12,565.08 665.12,564.06 665.77,564.06 665.77,562.78 666.87,562.78 666.87,563.89 668.04,563.89 668.04,562.94 668.54,562.94 668.54,561.99 669.56,561.99 669.56,565.35 670.21,565.35 670.21,562.35 670.80,562.35 670.80,565.79 671.40,565.79 671.40,565.91 671.83,565.91 671.83,564.50 672.98,564.50 672.98,565.02 674.05,565.02 674.05,564.64 675.00,564.64 675.00,562.09 675.42,562.09 675.42,562.77 676.69,562.77 676.69,565.06 677.25,565.06 677.25,563.93 677.78,563.93 677.78,565.54 678.39,565.54 678.39,562.76 679.66,562.76 679.66,563.91 680.50,563.91 680.50,560.31 681.31,560.31 681.31,564.59 682.51,564.59 682.51,566.22 683.43,566.22 683.43,566.03 684.06,566.03 684.06,565.42 684.77,565.42 684.77,564.40 685.91,564.40 685.91,562.38 686.55,562.38 686.55,563.93 687.13,563.93 687.13,563.35 687.79,563.35 687.79,561.56 689.06,561.56 689.06,564.14 690.21,564.14 690.21,566.03 690.60,566.03 690.60,564.77 691.76,564.77 691.76,564.47 692.86,564.47 692.86,565.42 693.83,565.42 693.83,564.20 694.52,564.20 694.52,563.64 694.99,563.64 694.99,567.07 695.59,567.07 695.59,560.09 696.55,560.09 696.55,562.07 697.42,562.07 697.42,566.55 698.06,566.55 698.06,564.83 699.28,564.83 699.28,565.82 699.91,565.82 699.91,562.33 700.85,562.33 700.85,562.87 701.98,562.87 701.98,562.58 703.15,562.58 703.15,560.63 704.02,560.63 704.02,565.64 705.20,565.64 705.20,563.63 706.05,563.63 706.05,563.03 707.32,563.03 707.32,564.13 708.03,564.13 708.03,565.19 708.90,565.19 708.90,562.36 709.35,562.36 709.35,560.03 710.06,560.03 710.06,563.60 711.18,563.60 711.18,565.71 711.59,565.71 711.59,562.10 712.58,562.10 712.58,563.36 713.41,563.36 713.41,562.15 714.13,562.15 714.13,562.50 715.15,562.50 715.15,565.73 715.65,565.73 715.65,565.71 716.94,565.71 716.94,565.30 717.31,565.30 717.31,565.81 717.92,565.81 717.92,564.86 718.35,564.86 718.35,562.78 719.33,562.78 719.33,566.52 719.69,566.52 719.69,560.65 720.38,560.65 720.38,565.76 721.60,565.76 721.60,560.79 722.11,560.79 722.11,563.57 723.01,563.57 723.01,565.85 723.80,565.85 723.80,566.79 724.30,566.79 724.30,566.28 724.68,566.28 724.68,566.22 725.78,566.22 725.78,565.18 726.23,565.18 726.23,565.38 726.73,565.38 726.73,562.46 727.14,562.46 727.14,565.70 727.83,565.70 727.83,563.07 728.90,563.07 728.90,564.58 729.64,564.58 729.64,559.83 730.90,559.83 730.90,563.03 731.57,563.03 731.57,565.73 732.19,565.73 732.19,560.00 732.59,560.00 732.59,563.53 733.22,563.53 733.22,565.04 734.37,565.04 734.37,561.56 734.84,561.56 734.84,563.56 736.12,563.56 736.12,564.05 736.75,564.05 736.75,565.06 738.01,565.06 738.01,566.84 738.91,566.84 738.91,563.67 739.85,563.67 739.85,565.21 740.78,565.21 740.78,563.68 741.93,563.68 741.93,565.86 742.82,565.86 742.82,566.07 744.11,566.07 744.11,563.49 744.51,563.49 744.51,565.97 745.32,565.97 745.32,562.37 745.97,562.37 745.97,562.75 746.78,562.75 746.78,563.69 748.03,563.69 748.03,565.05 748.80,565.05 748.80,564.04 749.98,564.04 749.98,562.26 751.27,562.26 751.27,564.96 752.52,564.96 752.52,560.17 753.27,560.17 753.27,560.10 754.47,560.10 754.47,565.73 755.03,565.73 755.03,565.30 756.02,565.30 756.02,563.12 756.52,563.12 756.52,564.47 756.92,564.47 756.92,561.57 757.87,561.57 757.87,565.80 759.00,565.80 759.00,568.05" fill="#3c58a4" fill-opacity="0.75"/><polyline points="618.60,568.05 618.60,564.70 619.06,564.70 619.06,565.00 619.58,565.00 619.58,565.16 620.32,565.16 620.32,565.63 621.47,565.63 621.47,565.84 621.85,565.84 621.85,563.80 623.14,563.80 623.14,560.92 623.61,560.92 623.61,563.32 624.61,563.32 624.61,563.55 625.19,563.55 625.19,562.70 625.55,562.70 625.55,563.98 626.14,563.98 626.14,565.10 626.76,565.10 626.76,565.98 627.27,565.98 627.27,563.14 628.34,563.14 628.34,563.88 629.05,563.88 629.05,563.48 630.24,563.48 630.24,563.46 630.75,563.46 630.75,565.98 631.75,565.98 631.75,561.34 632.29,561.34 632.29,563.10 633.28,563.10 633.28,562.54 634.11,562.54 634.11,565.03 634.95,565.03 634.95,563.36 635.71,563.36 635.71,565.53 636.88,565.53 636.88,566.73 638.15,566.73 638.15,564.17 639.02,564.17 639.02,566.05 640.01,566.05 640.01,565.24 641.30,565.24 641.30,565.82 641.85,565.82 641.85,563.27 642.33,563.27 642.33,563.66 643.16,563.66 643.16,564.22 644.24,564.22 644.24,565.33 645.43,565.33 645.43,559.85 646.26,559.85 646.26,565.14 647.29,565.14 647.29,564.26 648.30,564.26 648.30,564.87 648.98,564.87 648.98,562.26 649.83,562.26 649.83,563.10 650.92,563.10 650.92,564.12 651.64,564.12 651.64,566.91 652.69,566.91 652.69,564.17 653.10,564.17 653.10,566.34 654.04,566.34 654.04,565.98 654.98,565.98 654.98,566.20 655.35,566.20 655.35,566.27 656.08,566.27 656.08,565.16 656.89,565.16 656.89,566.30 657.44,566.30 657.44,564.74 658.63,564.74 658.63,566.06 659.81,566.06 659.81,565.91 660.26,565.91 660.26,565.47 660.81,565.47 660.81,562.93 661.59,562.93 661.59,561.57 662.64,561.57 662.64,565.59 663.33,565.59 663.33,562.91 663.72,562.91 663.72,563.31 664.42,563.31 664.42,565.08 665.12,565.08 665.12,564.06 665.77,564.06 665.77,562.78 666.87,562.78 666.87,563.89 668.04,563.89 668.04,562.94 668.54,562.94 668.54,561.99 669.56,561.99 669.56,565.35 670.21,565.35 670.21,562.35 670.80,562.35 670.80,565.79 671.40,565.79 671.40,565.91 671.83,565.91 671.83,564.50 672.98,564.50 672.98,565.02 674.05,565.02 674.05,564.64 675.00,564.64 675.00,562.09 675.42,562.09 675.42,562.77 676.69,562.77 676.69,565.06 677.25,565.06 677.25,563.93 677.78,563.93 677.78,565.54 678.39,565.54 678.39,562.76 679.66,562.76 679.66,563.91 680.50,563.91 680.50,560.31 681.31,560.31 681.31,564.59 682.51,564.59 682.51,566.22 683.43,566.22 683.43,566.03 684.06,566.03 684.06,565.42 684.77,565.42 684.77,564.40 685.91,564.40 685.91,562.38 686.55,562.38 686.55,563.93 687.13,563.93 687.13,563.35 687.79,563.35 687.79,561.56 689.06,561.56 689.06,564.14 690.21,564.14 690.21,566.03 690.60,566.03 690.60,564.77 691.76,564.77 691.76,564.47 692.86,564.47 692.86,565.42 693.83,565.42 693.83,564.20 694.52,564.20 694.52,563.64 694.99,563.64 694.99,567.07 695.59,567.07 695.59,560.09 696.55,560.09 696.55,562.07 697.42,562.07 697.42,566.55 698.06,566.55 698.06,564.83 699.28,564.83 699.28,565.82 699.91,565.82 699.91,562.33 700.85,562.33 700.85,562.87 701.98,562.87 701.98,562.58 703.15,562.58 703.15,560.63 704.02,560.63 704.02,565.64 705.20,565.64 705.20,563.63 706.05,563.63 706.05,563.03 707.32,563.03 707.32,564.13 708.03,564.13 708.03,565.19 708.90,565.19 708.90,562.36 709.35,562.36 709.35,560.03 710.06,560.03 710.06,563.60 711.18,563.60 711.18,565.71 711.59,565.71 711.59,562.10 712.58,562.10 712.58,563.36 713.41,563.36 713.41,562.15 714.13,562.15 714.13,562.50 715.15,562.50 715.15,565.73 715.65,565.73 715.65,565.71 716.94,565.71 716.94,565.30 717.31,565.30 717.31,565.81 717.92,565.81 717.92,564.86 718.35,564.86 718.35,562.78 719.33,562.78 719.33,566.52 719.69,566.52 719.69,560.65 720.38,560.65 720.38,565.76 721.60,565.76 721.60,560.79 722.11,560.79 722.11,563.57 723.01,563.57 723.01,565.85 723.80,565.85 723.80,566.79 724.30,566.79 724.30,566.28 724.68,566.28 724.68,566.22 725.78,566.22 725.78,565.18 726.23,565.18 726.23,565.38 726.73,565.38 726.73,562.46 727.14,562.46 727.14,565.70 727.83,565.70 727.83,563.07 728.90,563.07 728.90,564.58 729.64,564.58 729.64,559.83 730.90,559.83 730.90,563.03 731.57,563.03 731.57,565.73 732.19,565.73 732.19,560.00 732.59,560.00 732.59,563.53 733.22,563.53 733.22,565.04 734.37,565.04 734.37,561.56 734.84,561.56 734.84,563.56 736.12,563.56 736.12,564.05 736.75,564.05 736.75,565.06 738.01,565.06 738.01,566.84 738.91,566.84 738.91,563.67 739.85,563.67 739.85,565.21 740.78,565.21 740.78,563.68 741.93,563.68 741.93,565.86 742.82,565.86 742.82,566.07 744.11,566.07 744.11,563.49 744.51,563.49 744.51,565.97 745.32,565.97 745.32,562.37 745.97,562.37 745.97,562.75 746.78,562.75 746.78,563.69 748.03,563.69 748.03,565.05 748.80,565.05 748.80,564.04 749.98,564.04 749.98,562.26 751.27,562.26 751.27,564.96 752.52,564.96 752.52,560.17 753.27,560.17 753.27,560.10 754.47,560.10 754.47,565.73 755.03,565.73 755.03,565.30 756.02,565.30 756.02,563.12 756.52,563.12 756.52,564.47 756.92,564.47 756.92,561.57 757.87,561.57 757.87,565.80 759.00,565.80 759.00,568.05" fill="none" stroke="#3c58a4" stroke-width="0.45" stroke-opacity="0.8"/><path d="M693.30 568.0V542.4M747.50 568.0V555.2M695.00 568.0V559.5" stroke="#3c58a4" stroke-width="0.95" stroke-opacity="0.8" fill="none"/><rect x="618.0" y="566.4" width="141.5" height="2.8" fill="#3c58a4"/><rect x="618.0" y="566.5" width="4" height="4.8" fill="#3c58a4"/><rect x="756.5" y="566.0" width="3" height="4" fill="#3c58a4"/></g>
<text x="123.6" y="628.8" class="tt">Chr XV</text>
<g><text x="13.4" y="611.9" class="yl">0.47</text><line x1="14.8" y1="610.4" x2="16.6" y2="610.4" stroke="#f07272" stroke-width="0.6"/><text x="13.4" y="626.1" class="yl">0.37</text><line x1="14.8" y1="624.6" x2="16.6" y2="624.6" stroke="#f07272" stroke-width="0.6"/><text x="13.4" y="640.3" class="yl">0.27</text><line x1="14.8" y1="638.8" x2="16.6" y2="638.8" stroke="#f07272" stroke-width="0.6"/><text x="13.4" y="654.6" class="yl">0.17</text><line x1="14.8" y1="653.1" x2="16.6" y2="653.1" stroke="#f07272" stroke-width="0.6"/><text x="13.4" y="668.8" class="yl">0.07</text><line x1="14.8" y1="667.3" x2="16.6" y2="667.3" stroke="#f07272" stroke-width="0.6"/><text x="13.4" y="683.0" class="yl">-0.03</text><line x1="14.8" y1="681.5" x2="16.6" y2="681.5" stroke="#f07272" stroke-width="0.6"/><line x1="16.5" y1="605.9" x2="16.5" y2="681.5" stroke="#f07272" stroke-width="1"/><text x="16.6" y="685.1" class="xl">0</text><text x="35.4" y="685.1" class="xl">100000</text><text x="54.3" y="685.1" class="xl">200000</text><text x="73.1" y="685.1" class="xl">300000</text><text x="91.9" y="685.1" class="xl">400000</text><text x="110.7" y="685.1" class="xl">500000</text><text x="129.6" y="685.1" class="xl">600000</text><text x="148.4" y="685.1" class="xl">700000</text><text x="167.2" y="685.1" class="xl">800000</text><text x="186.0" y="685.1" class="xl">900000</text><text x="204.9" y="685.1" class="xl">1000000</text><polygon points="17.20,677.95 17.20,675.37 18.14,675.37 18.14,674.32 18.87,674.32 18.87,670.57 19.70,670.57 19.70,676.21 20.56,676.21 20.56,675.77 21.86,675.77 21.86,674.08 22.69,674.08 22.69,674.17 23.33,674.17 23.33,674.65 24.46,674.65 24.46,675.93 25.50,675.93 25.50,673.31 26.18,673.31 26.18,673.38 27.09,673.38 27.09,674.20 28.06,674.20 28.06,674.88 29.05,674.88 29.05,674.78 30.30,674.78 30.30,676.69 30.92,676.69 30.92,673.61 31.74,673.61 31.74,671.51 32.62,671.51 32.62,671.43 33.37,671.43 33.37,672.90 34.65,672.90 34.65,675.15 35.31,675.15 35.31,671.01 35.83,671.01 35.83,675.24 36.44,675.24 36.44,671.38 37.70,671.38 37.70,676.79 38.81,676.79 38.81,670.94 39.81,670.94 39.81,677.95 40.73,677.95 40.73,674.58 41.37,674.58 41.37,675.95 41.89,675.95 41.89,677.95 42.49,677.95 42.49,677.95 43.12,677.95 43.12,672.42 44.25,672.42 44.25,672.34 45.26,672.34 45.26,671.31 46.02,671.31 46.02,673.80 47.02,673.80 47.02,673.32 47.77,673.32 47.77,676.31 48.32,676.31 48.32,675.66 49.53,675.66 49.53,673.96 50.37,673.96 50.37,674.22 51.59,674.22 51.59,676.00 52.21,676.00 52.21,670.00 53.23,670.00 53.23,671.94 54.48,671.94 54.48,675.24 55.16,675.24 55.16,673.62 55.80,673.62 55.80,677.95 56.43,677.95 56.43,677.95 57.44,677.95 57.44,669.65 58.38,669.65 58.38,677.95 59.13,677.95 59.13,676.61 59.87,676.61 59.87,673.47 60.93,673.47 60.93,675.23 61.52,675.23 61.52,673.24 62.02,673.24 62.02,675.72 62.71,675.72 62.71,676.14 63.41,676.14 63.41,673.43 64.15,673.43 64.15,670.65 65.26,670.65 65.26,668.79 65.96,668.79 65.96,676.59 67.07,676.59 67.07,671.33 67.79,671.33 67.79,673.43 68.58,673.43 68.58,677.95 69.31,677.95 69.31,673.26 70.46,673.26 70.46,673.61 71.56,673.61 71.56,672.58 72.35,672.58 72.35,675.26 73.41,675.26 73.41,676.78 74.55,676.78 74.55,668.87 75.24,668.87 75.24,676.45 76.30,676.45 76.30,673.70 77.16,673.70 77.16,672.34 77.71,672.34 77.71,676.30 78.78,676.30 78.78,675.95 79.97,675.95 79.97,671.40 81.17,671.40 81.17,674.02 81.87,674.02 81.87,673.57 82.61,673.57 82.61,674.77 83.83,674.77 83.83,673.50 84.54,673.50 84.54,673.78 85.56,673.78 85.56,677.95 86.11,677.95 86.11,677.95 87.26,677.95 87.26,676.51 88.26,676.51 88.26,672.20 89.38,672.20 89.38,674.84 90.01,674.84 90.01,677.95 91.27,677.95 91.27,676.80 92.18,676.80 92.18,673.49 93.48,673.49 93.48,673.72 94.59,673.72 94.59,676.63 95.63,676.63 95.63,673.42 96.71,673.42 96.71,677.95 97.72,677.95 97.72,677.95 98.74,677.95 98.74,677.95 99.94,677.95 99.94,673.12 100.65,673.12 100.65,675.57 101.68,675.57 101.68,676.19 102.34,676.19 102.34,676.26 103.48,676.26 103.48,676.44 104.20,676.44 104.20,676.37 105.01,676.37 105.01,673.52 105.61,673.52 105.61,673.73 106.30,673.73 106.30,670.55 107.58,670.55 107.58,674.59 108.84,674.59 108.84,674.45 109.49,674.45 109.49,673.87 110.24,673.87 110.24,677.95 111.18,677.95 111.18,675.24 112.02,675.24 112.02,676.20 112.63,676.20 112.63,672.75 113.33,672.75 113.33,673.42 114.57,673.42 114.57,674.60 115.28,674.60 115.28,674.51 116.39,674.51 116.39,677.95 117.14,677.95 117.14,672.83 117.71,672.83 117.71,676.22 118.93,676.22 118.93,673.30 119.95,673.30 119.95,672.96 120.61,672.96 120.61,674.08 121.34,674.08 121.34,670.89 122.23,670.89 122.23,670.15 123.19,670.15 123.19,676.23 123.95,676.23 123.95,675.35 125.24,675.35 125.24,673.99 126.31,673.99 126.31,677.95 127.49,677.95 127.49,674.56 128.74,674.56 128.74,675.04 129.24,675.04 129.24,675.14 130.40,675.14 130.40,670.71 131.39,670.71 131.39,670.74 132.16,670.74 132.16,675.99 132.90,675.99 132.90,674.27 133.95,674.27 133.95,673.53 134.71,673.53 134.71,674.47 135.92,674.47 135.92,675.62 137.20,675.62 137.20,674.48 138.29,674.48 138.29,672.90 139.05,672.90 139.05,673.66 140.29,673.66 140.29,675.37 141.16,675.37 141.16,676.57 142.15,676.57 142.15,677.95 143.20,677.95 143.20,677.95 144.32,677.95 144.32,677.95 145.52,677.95 145.52,671.51 146.06,671.51 146.06,675.57 146.93,675.57 146.93,671.28 147.55,671.28 147.55,668.35 148.67,668.35 148.67,677.95 149.88,677.95 149.88,676.09 150.66,676.09 150.66,671.70 151.84,671.70 151.84,677.95 152.60,677.95 152.60,676.09 153.63,676.09 153.63,672.52 154.16,672.52 154.16,674.81 154.82,674.81 154.82,671.80 155.63,671.80 155.63,673.49 156.14,673.49 156.14,672.85 157.37,672.85 157.37,673.34 158.47,673.34 158.47,672.45 159.72,672.45 159.72,673.38 160.96,673.38 160.96,675.89 162.01,675.89 162.01,674.62 162.53,674.62 162.53,673.87 163.08,673.87 163.08,672.93 163.63,672.93 163.63,675.98 164.58,675.98 164.58,673.41 165.37,673.41 165.37,675.16 166.47,675.16 166.47,674.12 167.76,674.12 167.76,677.95 168.52,677.95 168.52,674.16 169.57,674.16 169.57,675.02 170.29,675.02 170.29,676.47 171.18,676.47 171.18,672.16 172.31,672.16 172.31,675.32 173.42,675.32 173.42,670.93 174.39,670.93 174.39,673.11 175.24,673.11 175.24,674.36 176.22,674.36 176.22,674.45 177.00,674.45 177.00,674.94 177.55,674.94 177.55,677.95 178.64,677.95 178.64,677.95 179.63,677.95 179.63,673.93 180.38,673.93 180.38,676.67 181.57,676.67 181.57,674.91 182.57,674.91 182.57,673.77 183.24,673.77 183.24,675.65 184.04,675.65 184.04,673.43 185.04,673.43 185.04,674.47 185.75,674.47 185.75,677.95 186.82,677.95 186.82,676.39 187.71,676.39 187.71,673.43 188.52,673.43 188.52,675.69 189.51,675.69 189.51,675.24 190.04,675.24 190.04,676.80 190.54,676.80 190.54,673.00 191.40,673.00 191.40,675.00 192.06,675.00 192.06,676.16 192.70,676.16 192.70,674.87 193.73,674.87 193.73,674.16 194.85,674.16 194.85,674.32 195.54,674.32 195.54,676.44 196.55,676.44 196.55,677.95 197.74,677.95 197.74,675.14 198.44,675.14 198.44,676.09 199.42,676.09 199.42,675.96 200.27,675.96 200.27,674.21 200.94,674.21 200.94,675.39 201.76,675.39 201.76,673.67 202.61,673.67 202.61,673.25 203.39,673.25 203.39,673.58 204.02,673.58 204.02,675.58 205.05,675.58 205.05,677.95 206.18,677.95 206.18,672.37 207.44,672.37 207.44,672.98 208.10,672.98 208.10,675.00 208.97,675.00 208.97,673.78 209.55,673.78 209.55,675.67 210.07,675.67 210.07,673.51 210.84,673.51 210.84,677.95 211.42,677.95 211.42,671.79 212.70,671.79 212.70,672.03 213.62,672.03 213.62,673.84 214.25,673.84 214.25,677.95 214.90,677.95 214.90,674.55 216.03,674.55 216.03,670.47 216.88,670.47 216.88,673.38 217.71,673.38 217.71,673.85 218.95,673.85 218.95,674.47 220.16,674.47 220.16,675.52 221.04,675.52 221.04,677.95 221.50,677.95 221.50,677.95" fill="#e3242b" fill-opacity="0.16"/><path d="M17.20 677.9V675.37M18.14 677.9V674.32M18.87 677.9V670.57M19.70 677.9V676.21M20.56 677.9V675.77M21.86 677.9V674.08M22.69 677.9V674.17M23.33 677.9V674.65M24.46 677.9V675.93M25.50 677.9V673.31M26.18 677.9V673.38M27.09 677.9V674.20M28.06 677.9V674.88M29.05 677.9V674.78M30.30 677.9V676.69M30.92 677.9V673.61M31.74 677.9V671.51M32.62 677.9V671.43M33.37 677.9V672.90M34.65 677.9V675.15M35.31 677.9V671.01M35.83 677.9V675.24M36.44 677.9V671.38M37.70 677.9V676.79M38.81 677.9V670.94M40.73 677.9V674.58M41.37 677.9V675.95M43.12 677.9V672.42M44.25 677.9V672.34M45.26 677.9V671.31M46.02 677.9V673.80M47.02 677.9V673.32M47.77 677.9V676.31M48.32 677.9V675.66M49.53 677.9V673.96M50.37 677.9V674.22M51.59 677.9V676.00M52.21 677.9V670.00M53.23 677.9V671.94M54.48 677.9V675.24M55.16 677.9V673.62M57.44 677.9V669.65M59.13 677.9V676.61M59.87 677.9V673.47M60.93 677.9V675.23M61.52 677.9V673.24M62.02 677.9V675.72M62.71 677.9V676.14M63.41 677.9V673.43M64.15 677.9V670.65M65.26 677.9V668.79M65.96 677.9V676.59M67.07 677.9V671.33M67.79 677.9V673.43M69.31 677.9V673.26M70.46 677.9V673.61M71.56 677.9V672.58M72.35 677.9V675.26M73.41 677.9V676.78M74.55 677.9V668.87M75.24 677.9V676.45M76.30 677.9V673.70M77.16 677.9V672.34M77.71 677.9V676.30M78.78 677.9V675.95M79.97 677.9V671.40M81.17 677.9V674.02M81.87 677.9V673.57M82.61 677.9V674.77M83.83 677.9V673.50M84.54 677.9V673.78M87.26 677.9V676.51M88.26 677.9V672.20M89.38 677.9V674.84M91.27 677.9V676.80M92.18 677.9V673.49M93.48 677.9V673.72M94.59 677.9V676.63M95.63 677.9V673.42M99.94 677.9V673.12M100.65 677.9V675.57M101.68 677.9V676.19M102.34 677.9V676.26M103.48 677.9V676.44M104.20 677.9V676.37M105.01 677.9V673.52M105.61 677.9V673.73M106.30 677.9V670.55M107.58 677.9V674.59M108.84 677.9V674.45M109.49 677.9V673.87M111.18 677.9V675.24M112.02 677.9V676.20M112.63 677.9V672.75M113.33 677.9V673.42M114.57 677.9V674.60M115.28 677.9V674.51M117.14 677.9V672.83M117.71 677.9V676.22M118.93 677.9V673.30M119.95 677.9V672.96M120.61 677.9V674.08M121.34 677.9V670.89M122.23 677.9V670.15M123.19 677.9V676.23M123.95 677.9V675.35M125.24 677.9V673.99M127.49 677.9V674.56M128.74 677.9V675.04M129.24 677.9V675.14M130.40 677.9V670.71M131.39 677.9V670.74M132.16 677.9V675.99M132.90 677.9V674.27M133.95 677.9V673.53M134.71 677.9V674.47M135.92 677.9V675.62M137.20 677.9V674.48M138.29 677.9V672.90M139.05 677.9V673.66M140.29 677.9V675.37M141.16 677.9V676.57M145.52 677.9V671.51M146.06 677.9V675.57M146.93 677.9V671.28M147.55 677.9V668.35M149.88 677.9V676.09M150.66 677.9V671.70M152.60 677.9V676.09M153.63 677.9V672.52M154.16 677.9V674.81M154.82 677.9V671.80M155.63 677.9V673.49M156.14 677.9V672.85M157.37 677.9V673.34M158.47 677.9V672.45M159.72 677.9V673.38M160.96 677.9V675.89M162.01 677.9V674.62M162.53 677.9V673.87M163.08 677.9V672.93M163.63 677.9V675.98M164.58 677.9V673.41M165.37 677.9V675.16M166.47 677.9V674.12M168.52 677.9V674.16M169.57 677.9V675.02M170.29 677.9V676.47M171.18 677.9V672.16M172.31 677.9V675.32M173.42 677.9V670.93M174.39 677.9V673.11M175.24 677.9V674.36M176.22 677.9V674.45M177.00 677.9V674.94M179.63 677.9V673.93M180.38 677.9V676.67M181.57 677.9V674.91M182.57 677.9V673.77M183.24 677.9V675.65M184.04 677.9V673.43M185.04 677.9V674.47M186.82 677.9V676.39M187.71 677.9V673.43M188.52 677.9V675.69M189.51 677.9V675.24M190.04 677.9V676.80M190.54 677.9V673.00M191.40 677.9V675.00M192.06 677.9V676.16M192.70 677.9V674.87M193.73 677.9V674.16M194.85 677.9V674.32M195.54 677.9V676.44M197.74 677.9V675.14M198.44 677.9V676.09M199.42 677.9V675.96M200.27 677.9V674.21M200.94 677.9V675.39M201.76 677.9V673.67M202.61 677.9V673.25M203.39 677.9V673.58M204.02 677.9V675.58M206.18 677.9V672.37M207.44 677.9V672.98M208.10 677.9V675.00M208.97 677.9V673.78M209.55 677.9V675.67M210.07 677.9V673.51M211.42 677.9V671.79M212.70 677.9V672.03M213.62 677.9V673.84M214.90 677.9V674.55M216.03 677.9V670.47M216.88 677.9V673.38M217.71 677.9V673.85M218.95 677.9V674.47M220.16 677.9V675.52" stroke="#e3242b" stroke-width="0.7" stroke-opacity="0.85" fill="none"/><path d="M163.30 677.9V652.9M182.00 677.9V658.3M175.30 677.9V660.9M159.30 677.9V660.9M47.40 677.9V660.9M97.50 677.9V660.9M120.50 677.9V663.7M33.30 677.9V666.3M60.80 677.9V666.3M93.70 677.9V668.7M206.10 677.9V666.3M126.40 677.9V668.7M190.60 677.9V668.7M20.70 677.9V669.4M75.50 677.9V669.4M109.00 677.9V669.4M153.00 677.9V669.4M181.00 677.9V663.7M40.00 677.9V670.8M68.00 677.9V670.8M85.00 677.9V670.8M140.00 677.9V670.8M170.00 677.9V670.8M198.00 677.9V670.8M212.00 677.9V670.8" stroke="#e3242b" stroke-width="0.95" stroke-opacity="0.8" fill="none"/><rect x="16.6" y="676.2" width="205.4" height="3.0" fill="#e3242b"/><rect x="16.6" y="676.4" width="4" height="4.8" fill="#e3242b"/><rect x="219.0" y="675.9" width="3" height="4" fill="#e3242b"/></g>
<g><text x="13.4" y="714.6" class="yl">0.47</text><line x1="14.8" y1="713.1" x2="16.6" y2="713.1" stroke="#5a72c0" stroke-width="0.6"/><text x="13.4" y="728.7" class="yl">0.37</text><line x1="14.8" y1="727.2" x2="16.6" y2="727.2" stroke="#5a72c0" stroke-width="0.6"/><text x="13.4" y="742.8" class="yl">0.27</text><line x1="14.8" y1="741.3" x2="16.6" y2="741.3" stroke="#5a72c0" stroke-width="0.6"/><text x="13.4" y="756.9" class="yl">0.17</text><line x1="14.8" y1="755.4" x2="16.6" y2="755.4" stroke="#5a72c0" stroke-width="0.6"/><text x="13.4" y="771.0" class="yl">0.07</text><line x1="14.8" y1="769.5" x2="16.6" y2="769.5" stroke="#5a72c0" stroke-width="0.6"/><text x="13.4" y="785.1" class="yl">-0.03</text><line x1="14.8" y1="783.6" x2="16.6" y2="783.6" stroke="#5a72c0" stroke-width="0.6"/><line x1="16.5" y1="708.6" x2="16.5" y2="783.6" stroke="#5a72c0" stroke-width="1"/><text x="16.6" y="787.2" class="xl">0</text><text x="34.5" y="787.2" class="xl">100000</text><text x="52.4" y="787.2" class="xl">200000</text><text x="70.3" y="787.2" class="xl">300000</text><text x="88.2" y="787.2" class="xl">400000</text><text x="106.1" y="787.2" class="xl">500000</text><text x="124.0" y="787.2" class="xl">600000</text><text x="141.8" y="787.2" class="xl">700000</text><text x="159.7" y="787.2" class="xl">800000</text><text x="177.6" y="787.2" class="xl">900000</text><text x="195.5" y="787.2" class="xl">1000000</text><polygon points="17.20,780.08 17.20,778.03 18.06,778.03 18.06,777.52 19.03,777.52 19.03,774.17 19.76,774.17 19.76,771.91 20.55,771.91 20.55,779.05 21.13,779.05 21.13,776.03 22.28,776.03 22.28,774.94 23.55,774.94 23.55,778.32 23.97,778.32 23.97,774.89 24.96,774.89 24.96,774.33 25.95,774.33 25.95,777.40 26.40,777.40 26.40,775.42 27.54,775.42 27.54,777.39 27.97,777.39 27.97,776.41 29.05,776.41 29.05,777.68 29.68,777.68 29.68,776.15 30.65,776.15 30.65,777.95 31.90,777.95 31.90,773.08 33.14,773.08 33.14,773.58 33.95,773.58 33.95,774.70 34.54,774.70 34.54,774.98 35.54,774.98 35.54,777.62 36.29,777.62 36.29,776.43 36.99,776.43 36.99,777.24 37.93,777.24 37.93,776.30 38.88,776.30 38.88,775.21 39.84,775.21 39.84,774.23 40.68,774.23 40.68,776.55 41.53,776.55 41.53,778.03 42.00,778.03 42.00,777.22 42.87,777.22 42.87,775.78 43.97,775.78 43.97,778.30 44.74,778.30 44.74,775.40 45.56,775.40 45.56,776.14 46.69,776.14 46.69,778.20 47.41,778.20 47.41,776.80 48.56,776.80 48.56,777.14 49.36,777.14 49.36,776.39 50.64,776.39 50.64,774.81 51.71,774.81 51.71,777.02 52.92,777.02 52.92,777.00 53.69,777.00 53.69,777.70 54.76,777.70 54.76,777.86 55.35,777.86 55.35,775.66 55.89,775.66 55.89,776.93 56.34,776.93 56.34,774.89 56.71,774.89 56.71,774.62 57.79,774.62 57.79,776.75 58.63,776.75 58.63,776.52 59.12,776.52 59.12,777.10 60.04,777.10 60.04,776.64 60.96,776.64 60.96,777.16 61.44,777.16 61.44,775.14 62.07,775.14 62.07,774.43 62.69,774.43 62.69,777.49 63.77,777.49 63.77,775.06 64.22,775.06 64.22,773.98 64.66,773.98 64.66,773.13 65.05,773.13 65.05,777.79 66.21,777.79 66.21,775.82 67.02,775.82 67.02,776.94 68.11,776.94 68.11,775.03 68.76,775.03 68.76,778.41 69.54,778.41 69.54,778.09 70.06,778.09 70.06,775.37 70.51,775.37 70.51,775.25 71.42,775.25 71.42,778.00 72.28,778.00 72.28,776.14 73.43,776.14 73.43,775.66 74.39,775.66 74.39,777.48 75.33,777.48 75.33,777.94 75.79,777.94 75.79,777.81 76.77,777.81 76.77,774.28 77.65,774.28 77.65,774.81 78.08,774.81 78.08,777.05 78.88,777.05 78.88,777.69 79.56,777.69 79.56,774.21 80.57,774.21 80.57,777.53 81.27,777.53 81.27,775.60 81.64,775.60 81.64,774.66 82.47,774.66 82.47,774.81 83.42,774.81 83.42,777.59 84.55,777.59 84.55,773.90 84.97,773.90 84.97,774.43 85.82,774.43 85.82,779.19 86.89,779.19 86.89,778.98 87.74,778.98 87.74,774.47 88.33,774.47 88.33,774.36 89.44,774.36 89.44,773.37 89.96,773.37 89.96,775.46 90.98,775.46 90.98,776.54 92.20,776.54 92.20,775.51 92.90,775.51 92.90,774.38 93.57,774.38 93.57,777.94 94.46,777.94 94.46,777.44 95.26,777.44 95.26,777.37 95.99,777.37 95.99,778.01 97.02,778.01 97.02,775.89 98.04,775.89 98.04,776.81 98.98,776.81 98.98,775.14 99.42,775.14 99.42,778.09 99.90,778.09 99.90,776.90 100.53,776.90 100.53,779.07 101.70,779.07 101.70,777.08 102.08,777.08 102.08,777.53 102.45,777.53 102.45,777.92 102.96,777.92 102.96,777.42 103.46,777.42 103.46,776.60 104.24,776.60 104.24,777.82 104.88,777.82 104.88,775.65 106.14,775.65 106.14,774.39 107.24,774.39 107.24,774.52 108.46,774.52 108.46,776.83 109.24,776.83 109.24,775.91 110.20,775.91 110.20,776.36 111.02,776.36 111.02,777.30 111.84,777.30 111.84,776.38 112.89,776.38 112.89,777.86 113.54,777.86 113.54,774.41 114.26,774.41 114.26,772.91 114.62,772.91 114.62,777.69 115.04,777.69 115.04,777.82 116.29,777.82 116.29,777.72 116.69,777.72 116.69,776.60 117.51,776.60 117.51,777.04 118.27,777.04 118.27,779.07 119.07,779.07 119.07,774.61 119.50,774.61 119.50,775.98 119.93,775.98 119.93,778.74 120.97,778.74 120.97,775.29 122.19,775.29 122.19,774.22 123.33,774.22 123.33,778.66 124.46,778.66 124.46,774.52 125.51,774.52 125.51,777.10 126.61,777.10 126.61,771.92 127.17,771.92 127.17,777.50 127.88,777.50 127.88,779.12 128.34,779.12 128.34,775.38 129.60,775.38 129.60,778.21 130.86,778.21 130.86,778.04 131.27,778.04 131.27,774.39 132.04,774.39 132.04,778.69 132.98,778.69 132.98,775.63 134.21,775.63 134.21,778.15 135.49,778.15 135.49,776.54 136.46,776.54 136.46,774.25 137.52,774.25 137.52,775.50 138.48,775.50 138.48,776.33 138.97,776.33 138.97,776.00 140.08,776.00 140.08,776.12 141.02,776.12 141.02,776.40 141.92,776.40 141.92,777.40 142.40,777.40 142.40,773.04 143.64,773.04 143.64,777.43 144.67,777.43 144.67,776.02 145.59,776.02 145.59,774.43 146.62,774.43 146.62,778.81 147.79,778.81 147.79,778.49 148.44,778.49 148.44,775.38 149.39,775.38 149.39,776.16 150.58,776.16 150.58,774.49 151.85,774.49 151.85,774.72 152.38,774.72 152.38,774.79 153.67,774.79 153.67,775.93 154.79,775.93 154.79,778.72 155.22,778.72 155.22,775.97 156.22,775.97 156.22,772.74 156.59,772.74 156.59,776.67 157.39,776.67 157.39,776.16 157.76,776.16 157.76,777.74 158.63,777.74 158.63,777.49 159.49,777.49 159.49,778.03 160.55,778.03 160.55,777.47 161.24,777.47 161.24,777.84 161.78,777.84 161.78,774.39 163.00,774.39 163.00,774.32 163.77,774.32 163.77,778.59 164.72,778.59 164.72,777.89 165.19,777.89 165.19,775.51 165.73,775.51 165.73,778.55 166.98,778.55 166.98,773.94 167.54,773.94 167.54,777.23 168.50,777.23 168.50,774.54 169.63,774.54 169.63,776.37 170.45,776.37 170.45,779.07 171.55,779.07 171.55,777.89 172.22,777.89 172.22,777.89 172.76,777.89 172.76,773.71 173.83,773.71 173.83,774.68 174.96,774.68 174.96,774.53 175.44,774.53 175.44,778.64 176.17,778.64 176.17,776.35 177.17,776.35 177.17,778.47 178.18,778.47 178.18,776.38 179.41,776.38 179.41,774.30 180.20,774.30 180.20,772.60 180.66,772.60 180.66,776.19 181.05,776.19 181.05,774.79 181.95,774.79 181.95,774.61 182.46,774.61 182.46,777.33 183.53,777.33 183.53,774.27 184.49,774.27 184.49,778.81 185.16,778.81 185.16,774.73 185.73,774.73 185.73,775.49 186.63,775.49 186.63,775.94 187.73,775.94 187.73,778.04 188.69,778.04 188.69,777.02 189.04,777.02 189.04,777.41 189.49,777.41 189.49,775.16 190.06,775.16 190.06,775.18 191.27,775.18 191.27,776.59 191.88,776.59 191.88,774.36 192.94,774.36 192.94,777.03 194.05,777.03 194.05,775.00 194.94,775.00 194.94,775.42 195.36,775.42 195.36,778.67 195.90,778.67 195.90,775.87 196.36,775.87 196.36,778.97 196.71,778.97 196.71,775.94 197.63,775.94 197.63,777.67 198.38,777.67 198.38,775.38 199.37,775.38 199.37,777.21 200.49,777.21 200.49,776.90 201.31,776.90 201.31,778.07 201.88,778.07 201.88,776.22 202.34,776.22 202.34,776.59 203.61,776.59 203.61,775.30 204.84,775.30 204.84,775.26 205.81,775.26 205.81,777.64 206.84,777.64 206.84,777.79 208.08,777.79 208.08,776.95 208.45,776.95 208.45,775.76 209.08,775.76 209.08,777.27 209.47,777.27 209.47,777.76 209.87,777.76 209.87,772.05 210.46,772.05 210.46,777.01 211.30,777.01 211.30,780.08" fill="#3c58a4" fill-opacity="0.75"/><polyline points="17.20,780.08 17.20,778.03 18.06,778.03 18.06,777.52 19.03,777.52 19.03,774.17 19.76,774.17 19.76,771.91 20.55,771.91 20.55,779.05 21.13,779.05 21.13,776.03 22.28,776.03 22.28,774.94 23.55,774.94 23.55,778.32 23.97,778.32 23.97,774.89 24.96,774.89 24.96,774.33 25.95,774.33 25.95,777.40 26.40,777.40 26.40,775.42 27.54,775.42 27.54,777.39 27.97,777.39 27.97,776.41 29.05,776.41 29.05,777.68 29.68,777.68 29.68,776.15 30.65,776.15 30.65,777.95 31.90,777.95 31.90,773.08 33.14,773.08 33.14,773.58 33.95,773.58 33.95,774.70 34.54,774.70 34.54,774.98 35.54,774.98 35.54,777.62 36.29,777.62 36.29,776.43 36.99,776.43 36.99,777.24 37.93,777.24 37.93,776.30 38.88,776.30 38.88,775.21 39.84,775.21 39.84,774.23 40.68,774.23 40.68,776.55 41.53,776.55 41.53,778.03 42.00,778.03 42.00,777.22 42.87,777.22 42.87,775.78 43.97,775.78 43.97,778.30 44.74,778.30 44.74,775.40 45.56,775.40 45.56,776.14 46.69,776.14 46.69,778.20 47.41,778.20 47.41,776.80 48.56,776.80 48.56,777.14 49.36,777.14 49.36,776.39 50.64,776.39 50.64,774.81 51.71,774.81 51.71,777.02 52.92,777.02 52.92,777.00 53.69,777.00 53.69,777.70 54.76,777.70 54.76,777.86 55.35,777.86 55.35,775.66 55.89,775.66 55.89,776.93 56.34,776.93 56.34,774.89 56.71,774.89 56.71,774.62 57.79,774.62 57.79,776.75 58.63,776.75 58.63,776.52 59.12,776.52 59.12,777.10 60.04,777.10 60.04,776.64 60.96,776.64 60.96,777.16 61.44,777.16 61.44,775.14 62.07,775.14 62.07,774.43 62.69,774.43 62.69,777.49 63.77,777.49 63.77,775.06 64.22,775.06 64.22,773.98 64.66,773.98 64.66,773.13 65.05,773.13 65.05,777.79 66.21,777.79 66.21,775.82 67.02,775.82 67.02,776.94 68.11,776.94 68.11,775.03 68.76,775.03 68.76,778.41 69.54,778.41 69.54,778.09 70.06,778.09 70.06,775.37 70.51,775.37 70.51,775.25 71.42,775.25 71.42,778.00 72.28,778.00 72.28,776.14 73.43,776.14 73.43,775.66 74.39,775.66 74.39,777.48 75.33,777.48 75.33,777.94 75.79,777.94 75.79,777.81 76.77,777.81 76.77,774.28 77.65,774.28 77.65,774.81 78.08,774.81 78.08,777.05 78.88,777.05 78.88,777.69 79.56,777.69 79.56,774.21 80.57,774.21 80.57,777.53 81.27,777.53 81.27,775.60 81.64,775.60 81.64,774.66 82.47,774.66 82.47,774.81 83.42,774.81 83.42,777.59 84.55,777.59 84.55,773.90 84.97,773.90 84.97,774.43 85.82,774.43 85.82,779.19 86.89,779.19 86.89,778.98 87.74,778.98 87.74,774.47 88.33,774.47 88.33,774.36 89.44,774.36 89.44,773.37 89.96,773.37 89.96,775.46 90.98,775.46 90.98,776.54 92.20,776.54 92.20,775.51 92.90,775.51 92.90,774.38 93.57,774.38 93.57,777.94 94.46,777.94 94.46,777.44 95.26,777.44 95.26,777.37 95.99,777.37 95.99,778.01 97.02,778.01 97.02,775.89 98.04,775.89 98.04,776.81 98.98,776.81 98.98,775.14 99.42,775.14 99.42,778.09 99.90,778.09 99.90,776.90 100.53,776.90 100.53,779.07 101.70,779.07 101.70,777.08 102.08,777.08 102.08,777.53 102.45,777.53 102.45,777.92 102.96,777.92 102.96,777.42 103.46,777.42 103.46,776.60 104.24,776.60 104.24,777.82 104.88,777.82 104.88,775.65 106.14,775.65 106.14,774.39 107.24,774.39 107.24,774.52 108.46,774.52 108.46,776.83 109.24,776.83 109.24,775.91 110.20,775.91 110.20,776.36 111.02,776.36 111.02,777.30 111.84,777.30 111.84,776.38 112.89,776.38 112.89,777.86 113.54,777.86 113.54,774.41 114.26,774.41 114.26,772.91 114.62,772.91 114.62,777.69 115.04,777.69 115.04,777.82 116.29,777.82 116.29,777.72 116.69,777.72 116.69,776.60 117.51,776.60 117.51,777.04 118.27,777.04 118.27,779.07 119.07,779.07 119.07,774.61 119.50,774.61 119.50,775.98 119.93,775.98 119.93,778.74 120.97,778.74 120.97,775.29 122.19,775.29 122.19,774.22 123.33,774.22 123.33,778.66 124.46,778.66 124.46,774.52 125.51,774.52 125.51,777.10 126.61,777.10 126.61,771.92 127.17,771.92 127.17,777.50 127.88,777.50 127.88,779.12 128.34,779.12 128.34,775.38 129.60,775.38 129.60,778.21 130.86,778.21 130.86,778.04 131.27,778.04 131.27,774.39 132.04,774.39 132.04,778.69 132.98,778.69 132.98,775.63 134.21,775.63 134.21,778.15 135.49,778.15 135.49,776.54 136.46,776.54 136.46,774.25 137.52,774.25 137.52,775.50 138.48,775.50 138.48,776.33 138.97,776.33 138.97,776.00 140.08,776.00 140.08,776.12 141.02,776.12 141.02,776.40 141.92,776.40 141.92,777.40 142.40,777.40 142.40,773.04 143.64,773.04 143.64,777.43 144.67,777.43 144.67,776.02 145.59,776.02 145.59,774.43 146.62,774.43 146.62,778.81 147.79,778.81 147.79,778.49 148.44,778.49 148.44,775.38 149.39,775.38 149.39,776.16 150.58,776.16 150.58,774.49 151.85,774.49 151.85,774.72 152.38,774.72 152.38,774.79 153.67,774.79 153.67,775.93 154.79,775.93 154.79,778.72 155.22,778.72 155.22,775.97 156.22,775.97 156.22,772.74 156.59,772.74 156.59,776.67 157.39,776.67 157.39,776.16 157.76,776.16 157.76,777.74 158.63,777.74 158.63,777.49 159.49,777.49 159.49,778.03 160.55,778.03 160.55,777.47 161.24,777.47 161.24,777.84 161.78,777.84 161.78,774.39 163.00,774.39 163.00,774.32 163.77,774.32 163.77,778.59 164.72,778.59 164.72,777.89 165.19,777.89 165.19,775.51 165.73,775.51 165.73,778.55 166.98,778.55 166.98,773.94 167.54,773.94 167.54,777.23 168.50,777.23 168.50,774.54 169.63,774.54 169.63,776.37 170.45,776.37 170.45,779.07 171.55,779.07 171.55,777.89 172.22,777.89 172.22,777.89 172.76,777.89 172.76,773.71 173.83,773.71 173.83,774.68 174.96,774.68 174.96,774.53 175.44,774.53 175.44,778.64 176.17,778.64 176.17,776.35 177.17,776.35 177.17,778.47 178.18,778.47 178.18,776.38 179.41,776.38 179.41,774.30 180.20,774.30 180.20,772.60 180.66,772.60 180.66,776.19 181.05,776.19 181.05,774.79 181.95,774.79 181.95,774.61 182.46,774.61 182.46,777.33 183.53,777.33 183.53,774.27 184.49,774.27 184.49,778.81 185.16,778.81 185.16,774.73 185.73,774.73 185.73,775.49 186.63,775.49 186.63,775.94 187.73,775.94 187.73,778.04 188.69,778.04 188.69,777.02 189.04,777.02 189.04,777.41 189.49,777.41 189.49,775.16 190.06,775.16 190.06,775.18 191.27,775.18 191.27,776.59 191.88,776.59 191.88,774.36 192.94,774.36 192.94,777.03 194.05,777.03 194.05,775.00 194.94,775.00 194.94,775.42 195.36,775.42 195.36,778.67 195.90,778.67 195.90,775.87 196.36,775.87 196.36,778.97 196.71,778.97 196.71,775.94 197.63,775.94 197.63,777.67 198.38,777.67 198.38,775.38 199.37,775.38 199.37,777.21 200.49,777.21 200.49,776.90 201.31,776.90 201.31,778.07 201.88,778.07 201.88,776.22 202.34,776.22 202.34,776.59 203.61,776.59 203.61,775.30 204.84,775.30 204.84,775.26 205.81,775.26 205.81,777.64 206.84,777.64 206.84,777.79 208.08,777.79 208.08,776.95 208.45,776.95 208.45,775.76 209.08,775.76 209.08,777.27 209.47,777.27 209.47,777.76 209.87,777.76 209.87,772.05 210.46,772.05 210.46,777.01 211.30,777.01 211.30,780.08" fill="none" stroke="#3c58a4" stroke-width="0.45" stroke-opacity="0.8"/><path d="M135.00 780.1V773.0M165.00 780.1V773.3" stroke="#3c58a4" stroke-width="0.95" stroke-opacity="0.8" fill="none"/><rect x="16.6" y="778.5" width="195.2" height="2.8" fill="#3c58a4"/><rect x="16.6" y="778.6" width="4" height="4.7" fill="#3c58a4"/><rect x="208.8" y="778.1" width="3" height="4" fill="#3c58a4"/></g>
<text x="347.4" y="628.8" class="tt">Chr XVI</text>
<g><text x="248.0" y="611.9" class="yl">0.47</text><line x1="249.4" y1="610.4" x2="251.2" y2="610.4" stroke="#f07272" stroke-width="0.6"/><text x="248.0" y="626.1" class="yl">0.37</text><line x1="249.4" y1="624.6" x2="251.2" y2="624.6" stroke="#f07272" stroke-width="0.6"/><text x="248.0" y="640.3" class="yl">0.27</text><line x1="249.4" y1="638.8" x2="251.2" y2="638.8" stroke="#f07272" stroke-width="0.6"/><text x="248.0" y="654.6" class="yl">0.17</text><line x1="249.4" y1="653.1" x2="251.2" y2="653.1" stroke="#f07272" stroke-width="0.6"/><text x="248.0" y="668.8" class="yl">0.07</text><line x1="249.4" y1="667.3" x2="251.2" y2="667.3" stroke="#f07272" stroke-width="0.6"/><text x="248.0" y="683.0" class="yl">-0.03</text><line x1="249.4" y1="681.5" x2="251.2" y2="681.5" stroke="#f07272" stroke-width="0.6"/><line x1="251.5" y1="605.9" x2="251.5" y2="681.5" stroke="#f07272" stroke-width="1"/><text x="251.2" y="685.1" class="xl">0</text><text x="270.1" y="685.1" class="xl">100000</text><text x="289.1" y="685.1" class="xl">200000</text><text x="308.0" y="685.1" class="xl">300000</text><text x="327.0" y="685.1" class="xl">400000</text><text x="345.9" y="685.1" class="xl">500000</text><text x="364.9" y="685.1" class="xl">600000</text><text x="383.8" y="685.1" class="xl">700000</text><text x="402.8" y="685.1" class="xl">800000</text><text x="421.7" y="685.1" class="xl">900000</text><polygon points="251.80,677.95 251.80,677.95 252.31,677.95 252.31,674.79 253.12,674.79 253.12,675.51 253.71,675.51 253.71,673.59 254.33,673.59 254.33,674.08 254.94,674.08 254.94,670.60 255.77,670.60 255.77,672.02 256.29,672.02 256.29,676.18 256.95,676.18 256.95,676.44 258.21,676.44 258.21,672.93 259.18,672.93 259.18,676.46 260.35,676.46 260.35,670.76 261.52,670.76 261.52,671.53 262.61,671.53 262.61,673.44 263.28,673.44 263.28,674.60 263.94,674.60 263.94,676.24 264.47,676.24 264.47,673.20 265.29,673.20 265.29,668.29 266.56,668.29 266.56,676.51 267.69,676.51 267.69,673.57 268.69,673.57 268.69,675.24 269.26,675.24 269.26,674.88 270.24,674.88 270.24,671.53 271.06,671.53 271.06,676.03 272.35,676.03 272.35,673.31 273.50,673.31 273.50,677.95 274.44,677.95 274.44,670.53 275.02,670.53 275.02,675.59 275.68,675.59 275.68,673.97 276.86,673.97 276.86,676.17 277.99,676.17 277.99,675.01 278.98,675.01 278.98,675.57 279.57,675.57 279.57,668.87 280.63,668.87 280.63,672.86 281.33,672.86 281.33,677.95 282.11,677.95 282.11,676.51 282.91,676.51 282.91,675.33 283.45,675.33 283.45,674.63 283.99,674.63 283.99,672.23 284.64,672.23 284.64,673.52 285.29,673.52 285.29,672.03 286.21,672.03 286.21,674.05 287.13,674.05 287.13,674.80 288.20,674.80 288.20,673.41 288.80,673.41 288.80,673.78 290.05,673.78 290.05,672.59 290.69,672.59 290.69,676.16 291.53,676.16 291.53,673.48 292.27,673.48 292.27,675.48 293.20,675.48 293.20,672.76 294.29,672.76 294.29,672.31 295.28,672.31 295.28,674.27 295.95,674.27 295.95,674.23 296.77,674.23 296.77,676.22 297.43,676.22 297.43,673.35 298.48,673.35 298.48,675.74 299.04,675.74 299.04,672.97 299.92,672.97 299.92,676.75 300.64,676.75 300.64,676.00 301.53,676.00 301.53,677.95 302.03,677.95 302.03,674.42 302.84,674.42 302.84,674.18 304.07,674.18 304.07,675.77 305.19,675.77 305.19,674.37 306.37,674.37 306.37,674.67 306.94,674.67 306.94,672.96 307.74,672.96 307.74,673.15 308.78,673.15 308.78,673.56 309.53,673.56 309.53,676.11 310.47,676.11 310.47,675.60 311.63,675.60 311.63,671.46 312.17,671.46 312.17,668.80 312.93,668.80 312.93,675.97 313.48,675.97 313.48,676.73 314.77,676.73 314.77,677.95 315.52,677.95 315.52,674.10 316.35,674.10 316.35,677.95 316.96,677.95 316.96,674.01 318.11,674.01 318.11,673.05 318.99,673.05 318.99,674.33 320.15,674.33 320.15,677.95 320.79,677.95 320.79,677.95 321.97,677.95 321.97,672.18 322.93,672.18 322.93,672.95 323.74,672.95 323.74,672.75 324.79,672.75 324.79,674.19 325.87,674.19 325.87,673.03 327.03,673.03 327.03,671.97 328.12,671.97 328.12,674.07 329.06,674.07 329.06,673.12 329.67,673.12 329.67,676.16 330.87,676.16 330.87,675.17 331.55,675.17 331.55,676.34 332.39,676.34 332.39,674.32 333.24,674.32 333.24,676.36 333.89,676.36 333.89,675.52 335.11,675.52 335.11,674.50 335.70,674.50 335.70,674.92 336.82,674.92 336.82,673.87 337.40,673.87 337.40,675.63 338.29,675.63 338.29,677.95 339.17,677.95 339.17,675.36 340.15,675.36 340.15,674.83 341.09,674.83 341.09,673.16 342.16,673.16 342.16,673.75 343.37,673.75 343.37,675.88 344.48,675.88 344.48,673.87 345.61,673.87 345.61,670.17 346.79,670.17 346.79,674.76 347.35,674.76 347.35,673.89 348.63,673.89 348.63,672.54 349.78,672.54 349.78,676.02 350.65,676.02 350.65,672.12 351.25,672.12 351.25,671.19 352.06,671.19 352.06,673.59 352.83,673.59 352.83,675.34 353.48,675.34 353.48,673.42 354.11,673.42 354.11,675.34 355.09,675.34 355.09,677.95 356.22,677.95 356.22,674.44 357.43,674.44 357.43,677.95 358.07,677.95 358.07,672.13 359.22,672.13 359.22,677.95 359.86,677.95 359.86,676.72 360.69,676.72 360.69,672.70 361.43,672.70 361.43,674.73 362.25,674.73 362.25,677.95 362.78,677.95 362.78,668.63 363.40,668.63 363.40,672.18 364.46,672.18 364.46,671.62 365.16,671.62 365.16,676.10 366.40,676.10 366.40,672.50 367.48,672.50 367.48,677.95 368.19,677.95 368.19,671.70 369.13,671.70 369.13,673.62 369.75,673.62 369.75,671.51 370.34,671.51 370.34,676.53 371.23,676.53 371.23,674.57 372.10,674.57 372.10,672.93 373.12,672.93 373.12,673.47 374.39,673.47 374.39,673.81 375.19,673.81 375.19,677.95 376.48,677.95 376.48,675.43 377.35,675.43 377.35,674.92 378.61,674.92 378.61,673.55 379.59,673.55 379.59,673.85 380.71,673.85 380.71,677.95 381.82,677.95 381.82,672.88 382.51,672.88 382.51,675.15 383.77,675.15 383.77,674.74 384.49,674.74 384.49,673.54 385.47,673.54 385.47,675.69 386.74,675.69 386.74,676.75 387.72,676.75 387.72,673.68 388.97,673.68 388.97,672.03 389.55,672.03 389.55,674.09 390.43,674.09 390.43,673.56 391.69,673.56 391.69,672.49 392.81,672.49 392.81,671.62 393.58,671.62 393.58,672.59 394.38,672.59 394.38,677.95 395.08,677.95 395.08,674.41 396.12,674.41 396.12,675.60 396.97,675.60 396.97,673.12 398.08,673.12 398.08,674.75 398.61,674.75 398.61,674.90 399.20,674.90 399.20,676.16 399.76,676.16 399.76,676.60 400.93,676.60 400.93,672.83 402.04,672.83 402.04,676.07 402.58,676.07 402.58,673.09 403.87,673.09 403.87,673.54 404.55,673.54 404.55,673.22 405.24,673.22 405.24,673.22 406.39,673.22 406.39,674.53 407.68,674.53 407.68,677.95 408.36,677.95 408.36,673.73 409.60,673.73 409.60,674.21 410.80,674.21 410.80,677.95 411.76,677.95 411.76,675.45 412.47,675.45 412.47,674.20 413.50,674.20 413.50,674.99 414.28,674.99 414.28,671.20 415.07,671.20 415.07,673.41 415.77,673.41 415.77,675.81 416.43,675.81 416.43,672.79 417.08,672.79 417.08,674.20 418.28,674.20 418.28,671.41 419.01,671.41 419.01,676.65 419.68,676.65 419.68,674.38 420.68,674.38 420.68,676.57 421.75,676.57 421.75,671.22 422.88,671.22 422.88,673.14 423.83,673.14 423.83,676.20 424.36,676.20 424.36,675.50 425.45,675.50 425.45,671.96 426.15,671.96 426.15,673.23 427.13,673.23 427.13,676.06 428.08,676.06 428.08,677.95 429.03,677.95 429.03,675.24 430.19,675.24 430.19,671.39 430.30,671.39 430.30,677.95" fill="#e3242b" fill-opacity="0.16"/><path d="M252.31 677.9V674.79M253.12 677.9V675.51M253.71 677.9V673.59M254.33 677.9V674.08M254.94 677.9V670.60M255.77 677.9V672.02M256.29 677.9V676.18M256.95 677.9V676.44M258.21 677.9V672.93M259.18 677.9V676.46M260.35 677.9V670.76M261.52 677.9V671.53M262.61 677.9V673.44M263.28 677.9V674.60M263.94 677.9V676.24M264.47 677.9V673.20M265.29 677.9V668.29M266.56 677.9V676.51M267.69 677.9V673.57M268.69 677.9V675.24M269.26 677.9V674.88M270.24 677.9V671.53M271.06 677.9V676.03M272.35 677.9V673.31M274.44 677.9V670.53M275.02 677.9V675.59M275.68 677.9V673.97M276.86 677.9V676.17M277.99 677.9V675.01M278.98 677.9V675.57M279.57 677.9V668.87M280.63 677.9V672.86M282.11 677.9V676.51M282.91 677.9V675.33M283.45 677.9V674.63M283.99 677.9V672.23M284.64 677.9V673.52M285.29 677.9V672.03M286.21 677.9V674.05M287.13 677.9V674.80M288.20 677.9V673.41M288.80 677.9V673.78M290.05 677.9V672.59M290.69 677.9V676.16M291.53 677.9V673.48M292.27 677.9V675.48M293.20 677.9V672.76M294.29 677.9V672.31M295.28 677.9V674.27M295.95 677.9V674.23M296.77 677.9V676.22M297.43 677.9V673.35M298.48 677.9V675.74M299.04 677.9V672.97M299.92 677.9V676.75M300.64 677.9V676.00M302.03 677.9V674.42M302.84 677.9V674.18M304.07 677.9V675.77M305.19 677.9V674.37M306.37 677.9V674.67M306.94 677.9V672.96M307.74 677.9V673.15M308.78 677.9V673.56M309.53 677.9V676.11M310.47 677.9V675.60M311.63 677.9V671.46M312.17 677.9V668.80M312.93 677.9V675.97M313.48 677.9V676.73M315.52 677.9V674.10M316.96 677.9V674.01M318.11 677.9V673.05M318.99 677.9V674.33M321.97 677.9V672.18M322.93 677.9V672.95M323.74 677.9V672.75M324.79 677.9V674.19M325.87 677.9V673.03M327.03 677.9V671.97M328.12 677.9V674.07M329.06 677.9V673.12M329.67 677.9V676.16M330.87 677.9V675.17M331.55 677.9V676.34M332.39 677.9V674.32M333.24 677.9V676.36M333.89 677.9V675.52M335.11 677.9V674.50M335.70 677.9V674.92M336.82 677.9V673.87M337.40 677.9V675.63M339.17 677.9V675.36M340.15 677.9V674.83M341.09 677.9V673.16M342.16 677.9V673.75M343.37 677.9V675.88M344.48 677.9V673.87M345.61 677.9V670.17M346.79 677.9V674.76M347.35 677.9V673.89M348.63 677.9V672.54M349.78 677.9V676.02M350.65 677.9V672.12M351.25 677.9V671.19M352.06 677.9V673.59M352.83 677.9V675.34M353.48 677.9V673.42M354.11 677.9V675.34M356.22 677.9V674.44M358.07 677.9V672.13M359.86 677.9V676.72M360.69 677.9V672.70M361.43 677.9V674.73M362.78 677.9V668.63M363.40 677.9V672.18M364.46 677.9V671.62M365.16 677.9V676.10M366.40 677.9V672.50M368.19 677.9V671.70M369.13 677.9V673.62M369.75 677.9V671.51M370.34 677.9V676.53M371.23 677.9V674.57M372.10 677.9V672.93M373.12 677.9V673.47M374.39 677.9V673.81M376.48 677.9V675.43M377.35 677.9V674.92M378.61 677.9V673.55M379.59 677.9V673.85M381.82 677.9V672.88M382.51 677.9V675.15M383.77 677.9V674.74M384.49 677.9V673.54M385.47 677.9V675.69M386.74 677.9V676.75M387.72 677.9V673.68M388.97 677.9V672.03M389.55 677.9V674.09M390.43 677.9V673.56M391.69 677.9V672.49M392.81 677.9V671.62M393.58 677.9V672.59M395.08 677.9V674.41M396.12 677.9V675.60M396.97 677.9V673.12M398.08 677.9V674.75M398.61 677.9V674.90M399.20 677.9V676.16M399.76 677.9V676.60M400.93 677.9V672.83M402.04 677.9V676.07M402.58 677.9V673.09M403.87 677.9V673.54M404.55 677.9V673.22M405.24 677.9V673.22M406.39 677.9V674.53M408.36 677.9V673.73M409.60 677.9V674.21M411.76 677.9V675.45M412.47 677.9V674.20M413.50 677.9V674.99M414.28 677.9V671.20M415.07 677.9V673.41M415.77 677.9V675.81M416.43 677.9V672.79M417.08 677.9V674.20M418.28 677.9V671.41M419.01 677.9V676.65M419.68 677.9V674.38M420.68 677.9V676.57M421.75 677.9V671.22M422.88 677.9V673.14M423.83 677.9V676.20M424.36 677.9V675.50M425.45 677.9V671.96M426.15 677.9V673.23M427.13 677.9V676.06M429.03 677.9V675.24M430.19 677.9V671.39" stroke="#e3242b" stroke-width="0.7" stroke-opacity="0.85" fill="none"/><path d="M373.60 677.9V649.5M284.70 677.9V655.2M260.30 677.9V660.9M266.20 677.9V660.9M332.40 677.9V663.7M304.90 677.9V666.1M308.40 677.9V666.1M380.20 677.9V666.1M407.20 677.9V666.1M425.70 677.9V668.7M264.60 677.9V668.7M274.50 677.9V668.7M291.80 677.9V668.7M347.00 677.9V668.7M357.50 677.9V668.7M384.30 677.9V668.7M413.90 677.9V668.7M255.00 677.9V670.8M280.00 677.9V670.8M298.00 677.9V670.8M318.00 677.9V670.8M340.00 677.9V670.8M365.00 677.9V670.8M395.00 677.9V670.8M420.00 677.9V670.8" stroke="#e3242b" stroke-width="0.95" stroke-opacity="0.8" fill="none"/><rect x="251.2" y="676.2" width="179.6" height="3.0" fill="#e3242b"/><rect x="251.2" y="676.4" width="4" height="4.8" fill="#e3242b"/><rect x="427.8" y="675.9" width="3" height="4" fill="#e3242b"/></g>
<g><text x="248.0" y="714.6" class="yl">0.47</text><line x1="249.4" y1="713.1" x2="251.2" y2="713.1" stroke="#5a72c0" stroke-width="0.6"/><text x="248.0" y="728.7" class="yl">0.37</text><line x1="249.4" y1="727.2" x2="251.2" y2="727.2" stroke="#5a72c0" stroke-width="0.6"/><text x="248.0" y="742.8" class="yl">0.27</text><line x1="249.4" y1="741.3" x2="251.2" y2="741.3" stroke="#5a72c0" stroke-width="0.6"/><text x="248.0" y="756.9" class="yl">0.17</text><line x1="249.4" y1="755.4" x2="251.2" y2="755.4" stroke="#5a72c0" stroke-width="0.6"/><text x="248.0" y="771.0" class="yl">0.07</text><line x1="249.4" y1="769.5" x2="251.2" y2="769.5" stroke="#5a72c0" stroke-width="0.6"/><text x="248.0" y="785.1" class="yl">-0.03</text><line x1="249.4" y1="783.6" x2="251.2" y2="783.6" stroke="#5a72c0" stroke-width="0.6"/><line x1="251.5" y1="708.6" x2="251.5" y2="783.6" stroke="#5a72c0" stroke-width="1"/><text x="251.2" y="787.2" class="xl">0</text><text x="269.1" y="787.2" class="xl">100000</text><text x="287.1" y="787.2" class="xl">200000</text><text x="305.0" y="787.2" class="xl">300000</text><text x="323.0" y="787.2" class="xl">400000</text><text x="340.9" y="787.2" class="xl">500000</text><text x="358.9" y="787.2" class="xl">600000</text><text x="376.8" y="787.2" class="xl">700000</text><text x="394.7" y="787.2" class="xl">800000</text><text x="412.7" y="787.2" class="xl">900000</text><polygon points="251.80,780.08 251.80,777.42 252.22,777.42 252.22,776.48 253.43,776.48 253.43,776.20 253.87,776.20 253.87,772.16 254.72,772.16 254.72,778.38 255.42,778.38 255.42,778.40 255.89,778.40 255.89,774.23 257.04,774.23 257.04,779.09 257.59,779.09 257.59,777.74 258.86,777.74 258.86,779.19 259.23,779.19 259.23,777.40 259.92,777.40 259.92,776.26 261.15,776.26 261.15,776.80 262.20,776.80 262.20,777.58 263.28,777.58 263.28,777.20 263.95,777.20 263.95,777.94 265.24,777.94 265.24,775.09 266.04,775.09 266.04,779.16 267.06,779.16 267.06,778.89 268.03,778.89 268.03,778.02 268.75,778.02 268.75,772.60 269.11,772.60 269.11,775.95 270.36,775.95 270.36,776.92 271.53,776.92 271.53,777.25 272.36,777.25 272.36,776.18 273.40,776.18 273.40,776.25 274.23,776.25 274.23,777.54 275.20,777.54 275.20,778.16 275.55,778.16 275.55,772.39 276.46,772.39 276.46,772.07 277.11,772.07 277.11,778.87 277.90,778.87 277.90,777.91 278.40,777.91 278.40,773.68 279.43,773.68 279.43,777.01 280.52,777.01 280.52,776.25 281.73,776.25 281.73,773.74 282.12,773.74 282.12,774.62 282.47,774.62 282.47,775.21 283.46,775.21 283.46,775.95 283.92,775.95 283.92,777.10 285.20,777.10 285.20,774.14 285.98,774.14 285.98,776.86 287.12,776.86 287.12,778.23 287.59,778.23 287.59,772.20 288.42,772.20 288.42,778.56 289.48,778.56 289.48,777.95 290.78,777.95 290.78,771.95 291.30,771.95 291.30,776.49 291.89,776.49 291.89,775.88 292.72,775.88 292.72,778.05 293.66,778.05 293.66,775.54 294.49,775.54 294.49,774.29 294.93,774.29 294.93,776.67 295.63,776.67 295.63,777.48 296.48,777.48 296.48,777.90 297.02,777.90 297.02,776.19 297.75,776.19 297.75,772.32 298.40,772.32 298.40,776.81 299.01,776.81 299.01,777.82 299.81,777.82 299.81,775.09 300.66,775.09 300.66,773.49 301.25,773.49 301.25,775.84 302.55,775.84 302.55,776.33 303.33,776.33 303.33,778.16 304.08,778.16 304.08,776.82 305.18,776.82 305.18,773.47 305.61,773.47 305.61,777.04 306.45,777.04 306.45,775.01 306.82,775.01 306.82,774.39 307.54,774.39 307.54,773.36 308.58,773.36 308.58,776.74 309.03,776.74 309.03,774.78 310.12,774.78 310.12,774.87 311.04,774.87 311.04,777.48 311.41,777.48 311.41,776.20 311.83,776.20 311.83,774.79 312.45,774.79 312.45,774.67 313.44,774.67 313.44,777.31 313.87,777.31 313.87,775.55 314.62,775.55 314.62,773.98 315.56,773.98 315.56,775.16 316.72,775.16 316.72,779.05 317.80,779.05 317.80,775.56 319.09,775.56 319.09,776.87 319.57,776.87 319.57,776.67 320.86,776.67 320.86,775.98 321.63,775.98 321.63,774.61 322.09,774.61 322.09,776.42 322.69,776.42 322.69,777.79 323.85,777.79 323.85,775.24 324.73,775.24 324.73,777.78 325.47,777.78 325.47,775.64 326.03,775.64 326.03,777.63 326.57,777.63 326.57,775.45 327.15,775.45 327.15,778.65 328.03,778.65 328.03,777.67 329.05,777.67 329.05,777.18 329.42,777.18 329.42,776.95 329.87,776.95 329.87,774.23 330.28,774.23 330.28,776.22 331.30,776.22 331.30,772.01 332.55,772.01 332.55,772.43 333.62,772.43 333.62,777.00 334.28,777.00 334.28,777.29 335.30,777.29 335.30,778.94 335.73,778.94 335.73,779.06 336.88,779.06 336.88,773.66 337.61,773.66 337.61,778.84 338.01,778.84 338.01,775.74 338.36,775.74 338.36,778.92 338.89,778.92 338.89,777.66 339.32,777.66 339.32,775.22 339.90,775.22 339.90,778.25 340.44,778.25 340.44,772.55 341.60,772.55 341.60,777.66 342.37,777.66 342.37,775.99 343.13,775.99 343.13,774.61 343.67,774.61 343.67,778.01 344.65,778.01 344.65,776.74 345.14,776.74 345.14,775.48 346.40,775.48 346.40,775.83 346.89,775.83 346.89,778.55 348.11,778.55 348.11,779.11 349.26,779.11 349.26,775.83 350.21,775.83 350.21,774.53 351.01,774.53 351.01,778.53 351.73,778.53 351.73,776.76 352.59,776.76 352.59,776.86 353.50,776.86 353.50,774.51 354.38,774.51 354.38,775.43 354.75,775.43 354.75,777.41 355.50,777.41 355.50,777.86 356.23,777.86 356.23,777.23 356.86,777.23 356.86,778.60 357.71,778.60 357.71,774.90 358.92,774.90 358.92,777.70 360.04,777.70 360.04,777.48 360.97,777.48 360.97,777.71 362.05,777.71 362.05,774.74 362.61,774.74 362.61,775.36 363.81,775.36 363.81,774.35 364.83,774.35 364.83,777.54 366.05,777.54 366.05,774.67 366.56,774.67 366.56,777.17 367.44,777.17 367.44,778.22 368.45,778.22 368.45,774.24 369.46,774.24 369.46,777.24 370.30,777.24 370.30,777.48 371.12,777.48 371.12,776.43 371.74,776.43 371.74,772.69 372.11,772.69 372.11,776.25 372.93,776.25 372.93,777.90 373.69,777.90 373.69,778.94 374.36,778.94 374.36,776.05 375.32,776.05 375.32,775.49 376.11,775.49 376.11,774.31 377.39,774.31 377.39,777.75 378.51,777.75 378.51,773.12 379.66,773.12 379.66,774.54 380.73,774.54 380.73,775.60 381.95,775.60 381.95,777.59 382.71,777.59 382.71,777.90 383.73,777.90 383.73,774.77 384.42,774.77 384.42,776.55 385.08,776.55 385.08,777.66 386.24,777.66 386.24,777.69 386.98,777.69 386.98,778.02 387.62,778.02 387.62,776.71 388.38,776.71 388.38,773.08 389.61,773.08 389.61,777.10 390.23,777.10 390.23,772.44 391.14,772.44 391.14,774.55 392.43,774.55 392.43,774.58 393.72,774.58 393.72,772.95 394.71,772.95 394.71,777.67 395.43,777.67 395.43,777.29 396.53,777.29 396.53,774.81 397.52,774.81 397.52,778.07 398.17,778.07 398.17,778.56 398.91,778.56 398.91,776.34 399.33,776.34 399.33,778.04 400.35,778.04 400.35,777.97 401.61,777.97 401.61,774.84 402.46,774.84 402.46,777.27 403.09,777.27 403.09,775.49 404.33,775.49 404.33,775.50 405.27,775.50 405.27,776.66 405.75,776.66 405.75,776.75 406.50,776.75 406.50,778.85 407.52,778.85 407.52,776.04 408.01,776.04 408.01,775.16 408.95,775.16 408.95,778.35 409.50,778.35 409.50,775.47 410.67,775.47 410.67,775.32 411.74,775.32 411.74,773.70 412.57,773.70 412.57,774.89 413.54,774.89 413.54,777.74 414.76,777.74 414.76,776.96 415.45,776.96 415.45,774.79 416.15,774.79 416.15,777.94 417.26,777.94 417.26,776.49 417.78,776.49 417.78,774.34 418.48,774.34 418.48,775.44 419.64,775.44 419.64,776.30 420.07,776.30 420.07,779.17 420.80,779.17 420.80,780.08" fill="#3c58a4" fill-opacity="0.75"/><polyline points="251.80,780.08 251.80,777.42 252.22,777.42 252.22,776.48 253.43,776.48 253.43,776.20 253.87,776.20 253.87,772.16 254.72,772.16 254.72,778.38 255.42,778.38 255.42,778.40 255.89,778.40 255.89,774.23 257.04,774.23 257.04,779.09 257.59,779.09 257.59,777.74 258.86,777.74 258.86,779.19 259.23,779.19 259.23,777.40 259.92,777.40 259.92,776.26 261.15,776.26 261.15,776.80 262.20,776.80 262.20,777.58 263.28,777.58 263.28,777.20 263.95,777.20 263.95,777.94 265.24,777.94 265.24,775.09 266.04,775.09 266.04,779.16 267.06,779.16 267.06,778.89 268.03,778.89 268.03,778.02 268.75,778.02 268.75,772.60 269.11,772.60 269.11,775.95 270.36,775.95 270.36,776.92 271.53,776.92 271.53,777.25 272.36,777.25 272.36,776.18 273.40,776.18 273.40,776.25 274.23,776.25 274.23,777.54 275.20,777.54 275.20,778.16 275.55,778.16 275.55,772.39 276.46,772.39 276.46,772.07 277.11,772.07 277.11,778.87 277.90,778.87 277.90,777.91 278.40,777.91 278.40,773.68 279.43,773.68 279.43,777.01 280.52,777.01 280.52,776.25 281.73,776.25 281.73,773.74 282.12,773.74 282.12,774.62 282.47,774.62 282.47,775.21 283.46,775.21 283.46,775.95 283.92,775.95 283.92,777.10 285.20,777.10 285.20,774.14 285.98,774.14 285.98,776.86 287.12,776.86 287.12,778.23 287.59,778.23 287.59,772.20 288.42,772.20 288.42,778.56 289.48,778.56 289.48,777.95 290.78,777.95 290.78,771.95 291.30,771.95 291.30,776.49 291.89,776.49 291.89,775.88 292.72,775.88 292.72,778.05 293.66,778.05 293.66,775.54 294.49,775.54 294.49,774.29 294.93,774.29 294.93,776.67 295.63,776.67 295.63,777.48 296.48,777.48 296.48,777.90 297.02,777.90 297.02,776.19 297.75,776.19 297.75,772.32 298.40,772.32 298.40,776.81 299.01,776.81 299.01,777.82 299.81,777.82 299.81,775.09 300.66,775.09 300.66,773.49 301.25,773.49 301.25,775.84 302.55,775.84 302.55,776.33 303.33,776.33 303.33,778.16 304.08,778.16 304.08,776.82 305.18,776.82 305.18,773.47 305.61,773.47 305.61,777.04 306.45,777.04 306.45,775.01 306.82,775.01 306.82,774.39 307.54,774.39 307.54,773.36 308.58,773.36 308.58,776.74 309.03,776.74 309.03,774.78 310.12,774.78 310.12,774.87 311.04,774.87 311.04,777.48 311.41,777.48 311.41,776.20 311.83,776.20 311.83,774.79 312.45,774.79 312.45,774.67 313.44,774.67 313.44,777.31 313.87,777.31 313.87,775.55 314.62,775.55 314.62,773.98 315.56,773.98 315.56,775.16 316.72,775.16 316.72,779.05 317.80,779.05 317.80,775.56 319.09,775.56 319.09,776.87 319.57,776.87 319.57,776.67 320.86,776.67 320.86,775.98 321.63,775.98 321.63,774.61 322.09,774.61 322.09,776.42 322.69,776.42 322.69,777.79 323.85,777.79 323.85,775.24 324.73,775.24 324.73,777.78 325.47,777.78 325.47,775.64 326.03,775.64 326.03,777.63 326.57,777.63 326.57,775.45 327.15,775.45 327.15,778.65 328.03,778.65 328.03,777.67 329.05,777.67 329.05,777.18 329.42,777.18 329.42,776.95 329.87,776.95 329.87,774.23 330.28,774.23 330.28,776.22 331.30,776.22 331.30,772.01 332.55,772.01 332.55,772.43 333.62,772.43 333.62,777.00 334.28,777.00 334.28,777.29 335.30,777.29 335.30,778.94 335.73,778.94 335.73,779.06 336.88,779.06 336.88,773.66 337.61,773.66 337.61,778.84 338.01,778.84 338.01,775.74 338.36,775.74 338.36,778.92 338.89,778.92 338.89,777.66 339.32,777.66 339.32,775.22 339.90,775.22 339.90,778.25 340.44,778.25 340.44,772.55 341.60,772.55 341.60,777.66 342.37,777.66 342.37,775.99 343.13,775.99 343.13,774.61 343.67,774.61 343.67,778.01 344.65,778.01 344.65,776.74 345.14,776.74 345.14,775.48 346.40,775.48 346.40,775.83 346.89,775.83 346.89,778.55 348.11,778.55 348.11,779.11 349.26,779.11 349.26,775.83 350.21,775.83 350.21,774.53 351.01,774.53 351.01,778.53 351.73,778.53 351.73,776.76 352.59,776.76 352.59,776.86 353.50,776.86 353.50,774.51 354.38,774.51 354.38,775.43 354.75,775.43 354.75,777.41 355.50,777.41 355.50,777.86 356.23,777.86 356.23,777.23 356.86,777.23 356.86,778.60 357.71,778.60 357.71,774.90 358.92,774.90 358.92,777.70 360.04,777.70 360.04,777.48 360.97,777.48 360.97,777.71 362.05,777.71 362.05,774.74 362.61,774.74 362.61,775.36 363.81,775.36 363.81,774.35 364.83,774.35 364.83,777.54 366.05,777.54 366.05,774.67 366.56,774.67 366.56,777.17 367.44,777.17 367.44,778.22 368.45,778.22 368.45,774.24 369.46,774.24 369.46,777.24 370.30,777.24 370.30,777.48 371.12,777.48 371.12,776.43 371.74,776.43 371.74,772.69 372.11,772.69 372.11,776.25 372.93,776.25 372.93,777.90 373.69,777.90 373.69,778.94 374.36,778.94 374.36,776.05 375.32,776.05 375.32,775.49 376.11,775.49 376.11,774.31 377.39,774.31 377.39,777.75 378.51,777.75 378.51,773.12 379.66,773.12 379.66,774.54 380.73,774.54 380.73,775.60 381.95,775.60 381.95,777.59 382.71,777.59 382.71,777.90 383.73,777.90 383.73,774.77 384.42,774.77 384.42,776.55 385.08,776.55 385.08,777.66 386.24,777.66 386.24,777.69 386.98,777.69 386.98,778.02 387.62,778.02 387.62,776.71 388.38,776.71 388.38,773.08 389.61,773.08 389.61,777.10 390.23,777.10 390.23,772.44 391.14,772.44 391.14,774.55 392.43,774.55 392.43,774.58 393.72,774.58 393.72,772.95 394.71,772.95 394.71,777.67 395.43,777.67 395.43,777.29 396.53,777.29 396.53,774.81 397.52,774.81 397.52,778.07 398.17,778.07 398.17,778.56 398.91,778.56 398.91,776.34 399.33,776.34 399.33,778.04 400.35,778.04 400.35,777.97 401.61,777.97 401.61,774.84 402.46,774.84 402.46,777.27 403.09,777.27 403.09,775.49 404.33,775.49 404.33,775.50 405.27,775.50 405.27,776.66 405.75,776.66 405.75,776.75 406.50,776.75 406.50,778.85 407.52,778.85 407.52,776.04 408.01,776.04 408.01,775.16 408.95,775.16 408.95,778.35 409.50,778.35 409.50,775.47 410.67,775.47 410.67,775.32 411.74,775.32 411.74,773.70 412.57,773.70 412.57,774.89 413.54,774.89 413.54,777.74 414.76,777.74 414.76,776.96 415.45,776.96 415.45,774.79 416.15,774.79 416.15,777.94 417.26,777.94 417.26,776.49 417.78,776.49 417.78,774.34 418.48,774.34 418.48,775.44 419.64,775.44 419.64,776.30 420.07,776.30 420.07,779.17 420.80,779.17 420.80,780.08" fill="none" stroke="#3c58a4" stroke-width="0.45" stroke-opacity="0.8"/><rect x="251.2" y="778.5" width="170.1" height="2.8" fill="#3c58a4"/><rect x="251.2" y="778.6" width="4" height="4.7" fill="#3c58a4"/><rect x="418.3" y="778.1" width="3" height="4" fill="#3c58a4"/></g>
<text x="436" y="627.6" class="pl" font-size="31">B</text>
<line x1="506.4" y1="695.2" x2="777.6" y2="695.2" stroke="#b4b4b4" stroke-width="0.9"/>
<text x="502" y="699.5" class="bl">1</text>
<line x1="506.4" y1="673.2" x2="777.6" y2="673.2" stroke="#b4b4b4" stroke-width="0.9"/>
<text x="502" y="677.5" class="bl">10</text>
<line x1="506.4" y1="651.2" x2="777.6" y2="651.2" stroke="#b4b4b4" stroke-width="0.9"/>
<text x="502" y="655.5" class="bl">100</text>
<line x1="506.4" y1="629.2" x2="777.6" y2="629.2" stroke="#b4b4b4" stroke-width="0.9"/>
<text x="502" y="633.5" class="bl">1000</text>
<line x1="506.4" y1="607.2" x2="777.6" y2="607.2" stroke="#b4b4b4" stroke-width="0.9"/>
<text x="502" y="611.5" class="bl">10000</text>
<line x1="508.4" y1="607.2" x2="508.4" y2="695.2" stroke="#909090" stroke-width="0.9"/>
<line x1="508.4" y1="695.2" x2="777.6" y2="695.2" stroke="#a0a0a0" stroke-width="1"/>
<rect x="510.30" y="609.33" width="3.7" height="85.87" fill="#d21010"/>
<rect x="514.00" y="613.82" width="3.7" height="81.38" fill="#4262a2"/>
<text x="514.0" y="700.8" class="bx">0</text>
<line x1="508.4" y1="695.2" x2="508.4" y2="696.7" stroke="#a0a0a0" stroke-width="0.6"/>
<rect x="522.15" y="621.24" width="3.7" height="73.96" fill="#d21010"/>
<rect x="525.85" y="616.44" width="3.7" height="78.76" fill="#4262a2"/>
<text x="525.9" y="700.8" class="bx">1</text>
<line x1="520.2" y1="695.2" x2="520.2" y2="696.7" stroke="#a0a0a0" stroke-width="0.6"/>
<rect x="534.00" y="634.08" width="3.7" height="61.12" fill="#d21010"/>
<rect x="537.70" y="623.58" width="3.7" height="71.62" fill="#4262a2"/>
<text x="537.7" y="700.8" class="bx">2</text>
<line x1="532.1" y1="695.2" x2="532.1" y2="696.7" stroke="#a0a0a0" stroke-width="0.6"/>
<rect x="545.85" y="645.58" width="3.7" height="49.62" fill="#d21010"/>
<rect x="549.55" y="633.32" width="3.7" height="61.88" fill="#4262a2"/>
<text x="549.5" y="700.8" class="bx">3</text>
<line x1="543.9" y1="695.2" x2="543.9" y2="696.7" stroke="#a0a0a0" stroke-width="0.6"/>
<rect x="557.70" y="653.95" width="3.7" height="41.25" fill="#d21010"/>
<rect x="561.40" y="643.24" width="3.7" height="51.96" fill="#4262a2"/>
<text x="561.4" y="700.8" class="bx">4</text>
<line x1="555.8" y1="695.2" x2="555.8" y2="696.7" stroke="#a0a0a0" stroke-width="0.6"/>
<rect x="569.55" y="659.95" width="3.7" height="35.25" fill="#d21010"/>
<rect x="573.25" y="658.83" width="3.7" height="36.37" fill="#4262a2"/>
<text x="573.2" y="700.8" class="bx">5</text>
<line x1="567.6" y1="695.2" x2="567.6" y2="696.7" stroke="#a0a0a0" stroke-width="0.6"/>
<rect x="581.40" y="662.70" width="3.7" height="32.50" fill="#d21010"/>
<rect x="585.10" y="668.13" width="3.7" height="27.07" fill="#4262a2"/>
<text x="585.1" y="700.8" class="bx">6</text>
<line x1="579.5" y1="695.2" x2="579.5" y2="696.7" stroke="#a0a0a0" stroke-width="0.6"/>
<rect x="593.25" y="670.69" width="3.7" height="24.51" fill="#d21010"/>
<text x="597.0" y="700.8" class="bx">7</text>
<line x1="591.4" y1="695.2" x2="591.4" y2="696.7" stroke="#a0a0a0" stroke-width="0.6"/>
<rect x="605.10" y="678.08" width="3.7" height="17.12" fill="#d21010"/>
<rect x="608.80" y="688.58" width="3.7" height="6.62" fill="#4262a2"/>
<text x="608.8" y="700.8" class="bx">8</text>
<line x1="603.2" y1="695.2" x2="603.2" y2="696.7" stroke="#a0a0a0" stroke-width="0.6"/>
<rect x="616.95" y="678.08" width="3.7" height="17.12" fill="#d21010"/>
<text x="620.6" y="700.8" class="bx">9</text>
<line x1="615.0" y1="695.2" x2="615.0" y2="696.7" stroke="#a0a0a0" stroke-width="0.6"/>
<rect x="628.80" y="681.95" width="3.7" height="13.25" fill="#d21010"/>
<text x="632.5" y="700.8" class="bx">10</text>
<line x1="626.9" y1="695.2" x2="626.9" y2="696.7" stroke="#a0a0a0" stroke-width="0.6"/>
<rect x="640.65" y="688.58" width="3.7" height="6.62" fill="#d21010"/>
<text x="644.4" y="700.8" class="bx">11</text>
<line x1="638.8" y1="695.2" x2="638.8" y2="696.7" stroke="#a0a0a0" stroke-width="0.6"/>
<text x="656.2" y="700.8" class="bx">12</text>
<line x1="650.6" y1="695.2" x2="650.6" y2="696.7" stroke="#a0a0a0" stroke-width="0.6"/>
<text x="668.0" y="700.8" class="bx">13</text>
<line x1="662.4" y1="695.2" x2="662.4" y2="696.7" stroke="#a0a0a0" stroke-width="0.6"/>
<text x="679.9" y="700.8" class="bx">14</text>
<line x1="674.3" y1="695.2" x2="674.3" y2="696.7" stroke="#a0a0a0" stroke-width="0.6"/>
<text x="691.8" y="700.8" class="bx">15</text>
<line x1="686.1" y1="695.2" x2="686.1" y2="696.7" stroke="#a0a0a0" stroke-width="0.6"/>
<text x="703.6" y="700.8" class="bx">16</text>
<line x1="698.0" y1="695.2" x2="698.0" y2="696.7" stroke="#a0a0a0" stroke-width="0.6"/>
<text x="715.5" y="700.8" class="bx">17</text>
<line x1="709.8" y1="695.2" x2="709.8" y2="696.7" stroke="#a0a0a0" stroke-width="0.6"/>
<text x="727.3" y="700.8" class="bx">18</text>
<line x1="721.7" y1="695.2" x2="721.7" y2="696.7" stroke="#a0a0a0" stroke-width="0.6"/>
<text x="739.1" y="700.8" class="bx">19</text>
<line x1="733.5" y1="695.2" x2="733.5" y2="696.7" stroke="#a0a0a0" stroke-width="0.6"/>
<text x="751.0" y="700.8" class="bx">20</text>
<line x1="745.4" y1="695.2" x2="745.4" y2="696.7" stroke="#a0a0a0" stroke-width="0.6"/>
<text x="762.9" y="700.8" class="bx">21</text>
<line x1="757.2" y1="695.2" x2="757.2" y2="696.7" stroke="#a0a0a0" stroke-width="0.6"/>
<text x="774.7" y="700.8" class="bx">22</text>
<line x1="769.1" y1="695.2" x2="769.1" y2="696.7" stroke="#a0a0a0" stroke-width="0.6"/>
<text x="437" y="727" class="pl" font-size="30.5">C</text>
<line x1="506.5" y1="790.0" x2="761.3" y2="790.0" stroke="#a8a8a8" stroke-width="0.9"/>
<text x="502.2" y="791.6" class="cyl">1</text>
<line x1="506.5" y1="776.6" x2="761.3" y2="776.6" stroke="#a8a8a8" stroke-width="0.9"/>
<text x="502.2" y="778.2" class="cyl">6</text>
<line x1="506.5" y1="763.3" x2="761.3" y2="763.3" stroke="#a8a8a8" stroke-width="0.9"/>
<text x="502.2" y="764.9" class="cyl">11</text>
<line x1="506.5" y1="749.9" x2="761.3" y2="749.9" stroke="#a8a8a8" stroke-width="0.9"/>
<text x="502.2" y="751.5" class="cyl">16</text>
<line x1="506.5" y1="736.5" x2="761.3" y2="736.5" stroke="#a8a8a8" stroke-width="0.9"/>
<text x="502.2" y="738.1" class="cyl">21</text>
<line x1="506.5" y1="723.1" x2="761.3" y2="723.1" stroke="#a8a8a8" stroke-width="0.9"/>
<text x="502.2" y="724.7" class="cyl">26</text>
<line x1="506.5" y1="709.7" x2="761.3" y2="709.7" stroke="#a8a8a8" stroke-width="0.9"/>
<text x="502.2" y="711.3" class="cyl">31</text>
<text x="490" y="794.3" class="bl">1</text>
<text x="490" y="767.6" class="bl">11</text>
<text x="490" y="740.8" class="bl">21</text>
<text x="490" y="714.0" class="bl">31</text>
<line x1="508.5" y1="709.7" x2="508.5" y2="792.7" stroke="#909090" stroke-width="0.9"/>
<line x1="761.3" y1="709.7" x2="761.3" y2="792.7" stroke="#a8a8a8" stroke-width="0.9"/>
<line x1="508.5" y1="792.7" x2="761.3" y2="792.7" stroke="#a0a0a0" stroke-width="1"/>
<rect x="511.54" y="712.39" width="4.4" height="80.31" fill="#d21010"/>
<rect x="515.94" y="744.51" width="4.4" height="48.19" fill="#4262a2"/>
<text x="515.9" y="798.1" class="bx">6</text>
<rect x="526.41" y="755.22" width="4.4" height="37.48" fill="#d21010"/>
<rect x="530.81" y="790.02" width="4.4" height="2.68" fill="#4262a2"/>
<text x="530.8" y="798.1" class="bx">7</text>
<rect x="541.29" y="776.64" width="4.4" height="16.06" fill="#d21010"/>
<rect x="545.69" y="787.35" width="4.4" height="5.35" fill="#4262a2"/>
<text x="545.7" y="798.1" class="bx">8</text>
<rect x="556.16" y="776.64" width="4.4" height="16.06" fill="#d21010"/>
<rect x="560.56" y="790.02" width="4.4" height="2.68" fill="#4262a2"/>
<text x="560.6" y="798.1" class="bx">9</text>
<rect x="571.04" y="781.99" width="4.4" height="10.71" fill="#d21010"/>
<text x="575.4" y="798.1" class="bx">10</text>
<rect x="585.91" y="787.35" width="4.4" height="5.35" fill="#d21010"/>
<rect x="590.31" y="790.02" width="4.4" height="2.68" fill="#4262a2"/>
<text x="590.3" y="798.1" class="bx">11</text>
<text x="605.2" y="798.1" class="bx">12</text>
<text x="620.1" y="798.1" class="bx">13</text>
<rect x="630.54" y="790.02" width="4.4" height="2.68" fill="#d21010"/>
<text x="634.9" y="798.1" class="bx">14</text>
<rect x="645.41" y="790.02" width="4.4" height="2.68" fill="#d21010"/>
<text x="649.8" y="798.1" class="bx">15</text>
<text x="664.7" y="798.1" class="bx">16</text>
<rect x="675.16" y="790.02" width="4.4" height="2.68" fill="#d21010"/>
<text x="679.6" y="798.1" class="bx">17</text>
<rect x="694.44" y="790.02" width="4.4" height="2.68" fill="#4262a2"/>
<text x="694.4" y="798.1" class="bx">18</text>
<text x="709.3" y="798.1" class="bx">19</text>
<text x="724.2" y="798.1" class="bx">20</text>
<text x="739.1" y="798.1" class="bx">21</text>
<rect x="749.54" y="790.02" width="4.4" height="2.68" fill="#d21010"/>
<text x="753.9" y="798.1" class="bx">22</text>
<text x="14" y="837" class="pl" font-size="30">D</text>
<text transform="translate(115.30 830.9) scale(1 0.8)" class="pos">173070</text>
<line x1="136.2" y1="837.2" x2="136.2" y2="850.4" stroke="#7a7a7a" stroke-width="1"/>
<text transform="translate(278.32 830.9) scale(1 0.8)" class="pos">173090</text>
<line x1="307.8" y1="837.2" x2="307.8" y2="850.4" stroke="#7a7a7a" stroke-width="1"/>
<text transform="translate(449.92 830.9) scale(1 0.8)" class="pos">173110</text>
<line x1="479.3" y1="837.2" x2="479.3" y2="850.4" stroke="#7a7a7a" stroke-width="1"/>
<text transform="translate(621.52 830.9) scale(1 0.8)" class="pos">173130</text>
<line x1="651.0" y1="837.2" x2="651.0" y2="850.4" stroke="#7a7a7a" stroke-width="1"/>
<rect x="235.82" y="868.20" width="8.58" height="16.20" fill="#0a14d2"/>
<rect x="364.52" y="868.20" width="8.58" height="16.20" fill="#0a14d2"/>
<rect x="450.32" y="868.20" width="8.58" height="16.20" fill="#0a14d2"/>
<rect x="467.48" y="868.20" width="8.58" height="16.20" fill="#0a14d2"/>
<rect x="501.80" y="868.20" width="8.58" height="16.20" fill="#ee1414"/>
<rect x="553.28" y="868.20" width="8.58" height="16.20" fill="#ee1414"/>
<rect x="536.12" y="884.40" width="8.58" height="16.20" fill="#0a14d2"/>
<rect x="579.02" y="884.40" width="8.58" height="16.20" fill="#ee1414"/>
<rect x="450.32" y="900.60" width="8.58" height="16.20" fill="#0a14d2"/>
<rect x="501.80" y="900.60" width="8.58" height="16.20" fill="#0a14d2"/>
<rect x="579.02" y="900.60" width="8.58" height="16.20" fill="#ee1414"/>
<rect x="467.48" y="916.80" width="8.58" height="16.20" fill="#0a14d2"/>
<rect x="493.22" y="916.80" width="8.58" height="16.20" fill="#0a14d2"/>
<rect x="501.80" y="916.80" width="8.58" height="16.20" fill="#0a14d2"/>
<rect x="664.82" y="916.80" width="8.58" height="16.20" fill="#2f8034"/>
<rect x="681.98" y="916.80" width="8.58" height="16.20" fill="#0a14d2"/>
<rect x="192.92" y="933.00" width="8.58" height="16.20" fill="#0a14d2"/>
<rect x="235.82" y="933.00" width="8.58" height="16.20" fill="#0a14d2"/>
<rect x="493.22" y="933.00" width="8.58" height="16.20" fill="#0a14d2"/>
<rect x="501.80" y="933.00" width="8.58" height="16.20" fill="#0a14d2"/>
<rect x="579.02" y="933.00" width="8.58" height="16.20" fill="#ee1414"/>
<rect x="613.34" y="933.00" width="8.58" height="16.20" fill="#2f8034"/>
<rect x="364.52" y="949.20" width="8.58" height="16.20" fill="#0a14d2"/>
<rect x="450.32" y="949.20" width="8.58" height="16.20" fill="#0a14d2"/>
<rect x="467.48" y="949.20" width="8.58" height="16.20" fill="#ee1414"/>
<rect x="493.22" y="949.20" width="8.58" height="16.20" fill="#0a14d2"/>
<rect x="501.80" y="949.20" width="8.58" height="16.20" fill="#0a14d2"/>
<rect x="579.02" y="949.20" width="8.58" height="16.20" fill="#ee1414"/>
<rect x="192.92" y="965.40" width="8.58" height="16.20" fill="#0a14d2"/>
<rect x="364.52" y="965.40" width="8.58" height="16.20" fill="#0a14d2"/>
<rect x="450.32" y="965.40" width="8.58" height="16.20" fill="#0a14d2"/>
<rect x="579.02" y="965.40" width="8.58" height="16.20" fill="#ee1414"/>
<rect x="579.02" y="981.60" width="8.58" height="16.20" fill="#0a14d2"/>
<rect x="613.34" y="997.80" width="8.58" height="16.20" fill="#2f8034"/>
<rect x="699.14" y="997.80" width="8.58" height="16.20" fill="#0a14d2"/>
<rect x="313.04" y="1014.00" width="8.58" height="16.20" fill="#2f8034"/>
<rect x="381.68" y="1014.00" width="8.58" height="16.20" fill="#ee1414"/>
<rect x="390.26" y="1014.00" width="8.58" height="16.20" fill="#2f8034"/>
<rect x="613.34" y="1014.00" width="8.58" height="16.20" fill="#2f8034"/>
<text transform="translate(3 863.60) scale(1 0.85)" class="seq">LAN210</text>
<text transform="translate(115.7 863.60) scale(1 0.85)" class="seq">AACATACTAGATATGATATTATACTAATTGAGCAAAATAGAGAAGGAAAGAGAGGATTCTCTCTCTGAGTAAAATCG</text>
<text transform="translate(3 879.80) scale(1 0.85)" class="seq">LAN210-L1</text>
<text transform="translate(115.7 879.80) scale(1 0.85)" class="seq">AACATACTAGATAT<tspan fill="#fff" stroke="#fff">R</tspan>ATATTATACTAATT<tspan fill="#fff" stroke="#fff">R</tspan>AGCAAAATA<tspan fill="#fff" stroke="#fff">R</tspan>A<tspan fill="#fff" stroke="#fff">R</tspan>AAG<tspan fill="#fff" stroke="#fff">A</tspan>AAAGA<tspan fill="#fff" stroke="#fff">A</tspan>AGGATTCTCTCTCTGAGTAAAATCG</text>
<text transform="translate(3 896.00) scale(1 0.85)" class="seq">LAN210-L2</text>
<text transform="translate(115.7 896.00) scale(1 0.85)" class="seq">AACATACTAGATATGATATTATACTAATTGAGCAAAATAGAGAAGGAAA<tspan fill="#fff" stroke="#fff">R</tspan>AGAG<tspan fill="#fff" stroke="#fff">A</tspan>ATTCTCTCTCTGAGTAAAATCG</text>
<text transform="translate(3 912.20) scale(1 0.85)" class="seq">LAN210-L3</text>
<text transform="translate(115.7 912.20) scale(1 0.85)" class="seq">AACATACTAGATATGATATTATACTAATTGAGCAAAATA<tspan fill="#fff" stroke="#fff">R</tspan>AGAAG<tspan fill="#fff" stroke="#fff">R</tspan>AAAGAGAG<tspan fill="#fff" stroke="#fff">A</tspan>ATTCTCTCTCTGAGTAAAATCG</text>
<text transform="translate(3 928.40) scale(1 0.85)" class="seq">LAN210-L4</text>
<text transform="translate(115.7 928.40) scale(1 0.85)" class="seq">AACATACTAGATATGATATTATACTAATTGAGCAAAATAGA<tspan fill="#fff" stroke="#fff">R</tspan>AA<tspan fill="#fff" stroke="#fff">R</tspan><tspan fill="#fff" stroke="#fff">R</tspan>AAAGAGAGGATTCTCTCT<tspan fill="#fff" stroke="#fff">Y</tspan>T<tspan fill="#fff" stroke="#fff">R</tspan>AGTAAAATCG</text>
<text transform="translate(3 944.60) scale(1 0.85)" class="seq">PmCDA1<tspan dy="2">_</tspan><tspan dy="-2">cl1</tspan></text>
<text transform="translate(115.7 944.60) scale(1 0.85)" class="seq">AACATACTA<tspan fill="#fff" stroke="#fff">R</tspan>ATAT<tspan fill="#fff" stroke="#fff">R</tspan>ATATTATACTAATTGAGCAAAATAGAGAA<tspan fill="#fff" stroke="#fff">R</tspan><tspan fill="#fff" stroke="#fff">R</tspan>AAAGAGAG<tspan fill="#fff" stroke="#fff">A</tspan>ATT<tspan fill="#fff" stroke="#fff">Y</tspan>TCTCTCTGAGTAAAATCG</text>
<text transform="translate(3 960.80) scale(1 0.85)" class="seq">PmCDA1<tspan dy="2">_</tspan><tspan dy="-2">cl2</tspan></text>
<text transform="translate(115.7 960.80) scale(1 0.85)" class="seq">AACATACTAGATATGATATTATACTAATT<tspan fill="#fff" stroke="#fff">R</tspan>AGCAAAATA<tspan fill="#fff" stroke="#fff">R</tspan>A<tspan fill="#fff" stroke="#fff">A</tspan>AA<tspan fill="#fff" stroke="#fff">R</tspan><tspan fill="#fff" stroke="#fff">R</tspan>AAAGAGAG<tspan fill="#fff" stroke="#fff">A</tspan>ATTCTCTCTCTGAGTAAAATCG</text>
<text transform="translate(3 977.00) scale(1 0.85)" class="seq">PmCDA1<tspan dy="2">_</tspan><tspan dy="-2">cl3</tspan></text>
<text transform="translate(115.7 977.00) scale(1 0.85)" class="seq">AACATACTA<tspan fill="#fff" stroke="#fff">R</tspan>ATATGATATTATACTAATT<tspan fill="#fff" stroke="#fff">R</tspan>AGCAAAATA<tspan fill="#fff" stroke="#fff">R</tspan>AGAAGGAAAGAGAG<tspan fill="#fff" stroke="#fff">A</tspan>ATTCTCTCTCTGAGTAAAATCG</text>
<text transform="translate(3 993.20) scale(1 0.85)" class="seq">PmCDA1<tspan dy="2">_</tspan><tspan dy="-2">cl4</tspan></text>
<text transform="translate(115.7 993.20) scale(1 0.85)" class="seq">AACATACTAGATATGATATTATACTAATTGAGCAAAATAGAGAAGGAAAGAGAG<tspan fill="#fff" stroke="#fff">R</tspan>ATTCTCTCTCTGAGTAAAATCG</text>
<text transform="translate(3 1009.40) scale(1 0.85)" class="seq">AID<tspan dy="2">_</tspan><tspan dy="-2">cl2</tspan></text>
<text transform="translate(115.7 1009.40) scale(1 0.85)" class="seq">AACATACTAGATATGATATTATACTAATTGAGCAAAATAGAGAAGGAAAGAGAGGATT<tspan fill="#fff" stroke="#fff">Y</tspan>TCTCTCTGA<tspan fill="#fff" stroke="#fff">R</tspan>TAAAATCG</text>
<text transform="translate(3 1025.60) scale(1 0.85)" class="seq">AID<tspan dy="2">_</tspan><tspan dy="-2">cl8</tspan></text>
<text transform="translate(115.7 1025.60) scale(1 0.85)" class="seq">AACATACTAGATATGATATTATA<tspan fill="#fff" stroke="#fff">Y</tspan>TAATTGA<tspan fill="#fff" stroke="#fff">R</tspan><tspan fill="#fff" stroke="#fff">Y</tspan>AAAATAGAGAAGGAAAGAGAGGATT<tspan fill="#fff" stroke="#fff">Y</tspan>TCTCTCTGAGTAAAATCG</text>
<rect x="2" y="865.8" width="776.5" height="1.9" fill="#000"/>
<rect x="3" y="863.9" width="50" height="0.8" fill="#000"/>
</svg></body></html>
